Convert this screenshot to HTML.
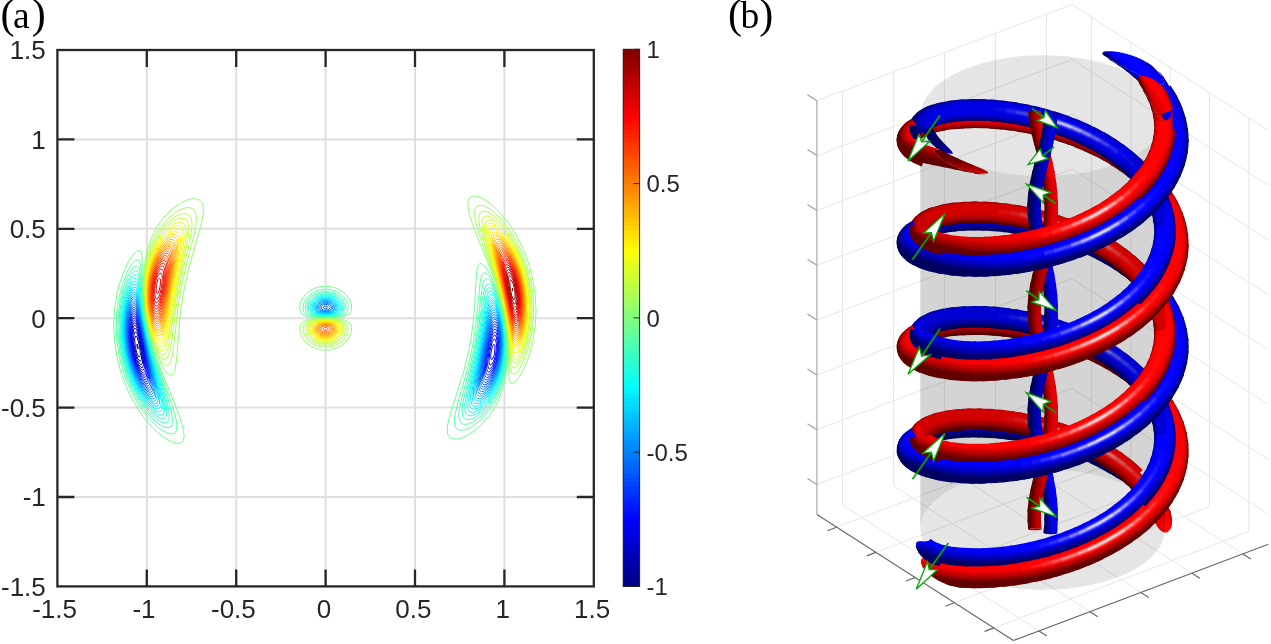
<!DOCTYPE html><html><head><meta charset="utf-8"><style>html,body{margin:0;padding:0;background:#fff;overflow:hidden}svg{display:block}</style></head><body><svg width="1271" height="644" viewBox="0 0 1271 644"><line x1="146.8" y1="50" x2="146.8" y2="586.4" stroke="#dfdfdf" stroke-width="2"/><line x1="57.4" y1="497.0" x2="593.8" y2="497.0" stroke="#dfdfdf" stroke-width="2"/><line x1="236.2" y1="50" x2="236.2" y2="586.4" stroke="#dfdfdf" stroke-width="2"/><line x1="57.4" y1="407.6" x2="593.8" y2="407.6" stroke="#dfdfdf" stroke-width="2"/><line x1="325.6" y1="50" x2="325.6" y2="586.4" stroke="#dfdfdf" stroke-width="2"/><line x1="57.4" y1="318.2" x2="593.8" y2="318.2" stroke="#dfdfdf" stroke-width="2"/><line x1="415.0" y1="50" x2="415.0" y2="586.4" stroke="#dfdfdf" stroke-width="2"/><line x1="57.4" y1="228.8" x2="593.8" y2="228.8" stroke="#dfdfdf" stroke-width="2"/><line x1="504.4" y1="50" x2="504.4" y2="586.4" stroke="#dfdfdf" stroke-width="2"/><line x1="57.4" y1="139.4" x2="593.8" y2="139.4" stroke="#dfdfdf" stroke-width="2"/><g fill="none" stroke-width="1" stroke-linejoin="round"><path stroke="#000080" d="M138.0 349.0l-0.8 -1.3l-0.3 -2.3l0.3 -1.3l0.8 2.5l0.0 2.4z"/><path stroke="#000090" d="M139.5 357.0l-0.8 -0.3l-1.5 -2.7l-1.8 -6.3l-0.7 -7.6l0.2 -2.3l0.8 -1.8l0.7 0.2l0.8 1.3l2.3 8.5l0.9 7.9l-0.1 1.5l-0.8 1.6z"/><path stroke="#0000a2" d="M139.5 360.9l-1.5 -2.2l-1.6 -3.6l-2.3 -9.7l-0.4 -5.3l0.2 -4.6l0.8 -3.1l1.0 -0.6l1.5 2.1l1.5 4.7l2.3 11.6l0.6 5.2l-0.1 3.9l-0.5 1.6l-0.7 0.4l-0.8 -0.4z"/><path stroke="#0000b2" d="M141.0 364.7l-1.5 -1.2l-2.3 -4.0l-2.3 -6.7l-1.2 -5.8l-0.7 -6.2l-0.1 -6.1l0.6 -3.8l0.6 -1.9l0.8 -0.6l0.8 0.2l0.7 0.9l1.6 3.6l3.1 13.1l1.2 8.5l0.4 5.3l-0.3 3.1l-0.6 1.3l-0.8 0.3z"/><path stroke="#0000c3" d="M141.0 367.3l-2.3 -2.7l-2.3 -4.8l-2.3 -7.3l-1.3 -7.1l-0.7 -7.6l0.3 -6.2l1.0 -4.6l0.7 -1.3l0.8 -0.3l1.5 1.4l2.3 6.3l3.9 18.5l0.9 7.7l0.0 5.3l-0.9 2.8l-0.8 0.2l-0.8 -0.3z"/><path stroke="#0000d4" d="M141.8 370.0l-2.3 -2.4l-3.1 -5.9l-2.3 -6.9l-1.5 -7.1l-1.0 -8.4l0.0 -7.7l1.0 -6.0l1.5 -2.7l0.8 -0.1l0.8 0.5l2.3 4.9l3.0 12.2l2.3 12.5l1.1 8.7l0.0 5.3l-0.3 1.8l-0.7 1.3l-0.8 0.3l-0.8 -0.3zM491.0 359.3l-0.3 -3.9l0.8 -5.4l1.0 -3.7l0.8 -1.5l0.7 -0.5l0.8 1.1l0.2 1.6l-0.4 6.1l-0.6 2.6l-1.5 3.5l-0.8 0.6l-0.7 -0.5z"/><path stroke="#0000e5" d="M142.6 372.6l-1.6 -1.2l-1.5 -2.0l-3.1 -6.0l-2.7 -8.0l-1.8 -8.4l-0.9 -8.5l0.1 -8.5l1.2 -6.8l1.1 -2.3l0.7 -0.6l0.8 0.1l1.5 1.8l2.3 6.3l3.1 13.2l2.3 12.7l1.1 8.7l0.1 6.1l-0.4 2.1l-0.6 1.0l-1.0 0.5l-0.7 -0.2zM490.2 365.0l-0.9 -1.1l-0.4 -3.1l1.1 -10.0l1.0 -4.7l1.5 -4.7l1.5 -2.3l0.8 0.0l0.8 1.0l0.8 3.8l-0.1 5.4l-0.6 4.6l-0.9 4.0l-1.5 4.0l-1.6 2.4l-1.5 0.7z"/><path stroke="#0000f7" d="M143.3 375.0l-1.5 -1.1l-1.5 -1.8l-3.9 -7.1l-3.0 -8.8l-2.0 -9.2l-1.0 -10.0l0.2 -8.4l1.2 -7.2l0.9 -2.0l1.4 -1.4l0.8 0.1l1.5 1.9l2.3 6.4l3.1 13.1l3.1 16.6l1.1 8.5l0.2 6.2l-0.4 2.3l-0.7 1.5l-1.0 0.5l-0.8 -0.1zM488.7 368.5l-0.9 -2.3l-0.2 -3.9l1.5 -12.3l2.6 -10.4l1.6 -3.3l0.7 -0.9l0.8 -0.2l0.8 0.5l0.7 1.5l1.0 5.2l-0.1 6.9l-0.8 6.1l-1.6 5.7l-2.3 5.0l-2.3 2.6l-0.8 0.1l-0.7 -0.3z"/><path stroke="#0009ff" d="M143.3 376.9l-1.5 -1.3l-2.3 -3.1l-3.8 -7.8l-3.1 -9.3l-1.8 -9.2l-1.0 -10.0l0.4 -9.9l1.6 -7.8l0.8 -1.6l1.5 -1.2l0.8 0.2l1.5 1.9l2.3 6.5l3.9 16.9l3.3 18.1l1.0 9.2l0.0 5.3l-0.5 2.2l-0.8 1.1l-0.7 0.3l-1.6 -0.5zM487.9 371.8l-1.0 -1.8l-0.4 -3.8l0.3 -6.2l1.1 -7.6l1.5 -7.9l2.3 -8.2l1.6 -3.2l1.5 -1.1l0.8 0.3l1.0 1.6l1.3 5.8l0.1 8.0l-0.9 7.6l-1.5 6.2l-2.3 5.6l-3.1 4.2l-1.5 0.7l-0.8 -0.2z"/><path stroke="#001aff" d="M144.9 379.5l-1.6 -0.8l-2.3 -2.5l-2.3 -3.6l-2.3 -4.5l-3.4 -9.6l-2.5 -10.8l-1.2 -11.5l0.4 -10.7l0.6 -4.4l1.1 -4.1l1.2 -2.5l1.5 -1.0l1.6 1.0l0.7 1.2l2.3 6.6l3.9 16.9l3.8 20.4l1.3 9.6l0.1 6.2l-0.7 3.0l-0.7 0.9l-1.5 0.2zM487.1 374.7l-0.7 -0.7l-0.6 -1.7l-0.4 -3.8l0.3 -6.2l1.4 -9.8l1.9 -9.4l2.0 -7.6l2.3 -5.3l1.5 -1.1l1.5 1.1l0.8 1.6l1.3 6.0l0.3 8.4l-0.8 8.5l-1.8 7.6l-2.8 6.9l-3.1 4.4l-1.5 1.1l-1.6 0.0z"/><path stroke="#002bff" d="M145.6 381.7l-2.3 -1.4l-2.3 -2.7l-4.6 -8.1l-3.8 -10.5l-2.5 -11.3l-1.3 -12.2l0.4 -11.5l1.9 -8.8l1.5 -2.9l1.5 -0.9l1.6 1.0l0.7 1.3l2.3 6.6l3.9 16.9l4.6 24.1l1.3 9.5l0.1 6.1l-0.9 3.8l-0.7 0.8l-1.4 0.2zM486.4 377.4l-0.8 -0.6l-0.8 -1.6l-0.4 -4.4l0.4 -6.9l1.4 -10.0l2.5 -12.7l2.3 -8.7l2.1 -4.7l0.9 -1.1l0.8 -0.3l1.5 1.0l0.8 1.4l1.7 6.7l0.5 9.2l-0.8 10.0l-2.2 9.0l-3.0 7.4l-1.6 2.5l-2.3 2.8l-1.5 1.0l-1.5 0.0z"/><path stroke="#003cff" d="M146.4 383.8l-2.3 -1.3l-2.3 -2.4l-3.1 -4.7l-2.3 -4.5l-4.0 -10.9l-2.8 -12.3l-1.3 -13.0l0.5 -11.8l0.8 -5.1l1.5 -5.1l1.5 -2.6l1.5 -0.8l1.6 1.0l0.7 1.3l2.3 6.7l4.6 20.8l4.7 24.0l1.3 10.0l0.2 6.1l-0.8 3.4l-0.7 0.9l-1.6 0.3zM486.4 380.0l-1.6 -0.6l-0.6 -1.0l-0.8 -3.8l0.1 -6.1l1.2 -9.2l2.6 -14.6l2.9 -12.6l2.3 -6.1l0.9 -1.3l1.4 -0.8l1.5 1.0l0.9 1.4l1.4 4.5l0.7 3.9l0.6 10.0l-0.9 10.0l-1.9 8.6l-3.1 8.1l-3.8 6.0l-2.3 2.1l-1.5 0.5z"/><path stroke="#004dff" d="M146.4 385.7l-2.3 -1.6l-3.1 -3.7l-4.9 -8.9l-4.3 -11.6l-2.8 -12.9l-1.2 -13.8l0.6 -12.3l1.1 -5.9l1.6 -4.7l1.5 -2.4l1.5 -0.7l1.6 1.1l0.7 1.2l1.6 4.1l1.5 5.7l6.9 33.0l2.8 15.4l1.1 8.4l-0.1 6.2l-0.6 2.3l-0.9 1.0l-0.7 0.4l-1.6 -0.3zM484.8 382.4l-1.6 -1.7l-0.8 -4.6l0.3 -6.9l1.4 -10.7l3.0 -16.5l3.1 -12.9l2.3 -5.7l0.8 -1.1l1.5 -0.8l1.5 1.0l1.6 2.9l1.8 7.8l0.7 10.7l-1.0 11.5l-2.3 9.9l-3.8 9.2l-2.3 3.7l-2.3 2.6l-2.3 1.5l-1.6 0.1z"/><path stroke="#005eff" d="M147.2 387.8l-2.3 -1.5l-3.1 -3.5l-3.1 -4.7l-2.3 -4.5l-4.6 -12.0l-3.0 -13.1l-1.4 -13.8l0.4 -13.0l1.0 -6.4l1.4 -5.2l1.6 -3.4l1.6 -1.5l1.5 0.2l1.5 2.0l2.3 6.8l11.0 53.5l1.3 9.3l0.1 6.8l-0.5 2.3l-1.0 1.5l-0.9 0.5l-1.5 -0.3zM484.1 384.7l-1.4 -0.9l-0.7 -1.5l-0.6 -4.6l0.4 -7.3l1.5 -10.9l3.6 -19.4l2.9 -12.3l1.2 -3.8l1.5 -3.2l1.4 -1.4l0.9 -0.3l1.5 1.1l1.6 2.8l1.4 4.8l0.9 4.9l0.6 12.0l-1.0 11.5l-2.7 11.0l-3.8 8.9l-2.3 3.7l-2.3 2.7l-2.3 1.8l-2.3 0.4zM324.4 308.7l-1.0 -0.9l0.0 -0.7l1.0 -1.0l2.4 0.0l1.0 1.0l0.0 0.7l-0.7 0.8l-1.1 0.3l-1.6 -0.2z"/><path stroke="#006eff" d="M148.7 390.2l-2.3 -1.1l-3.1 -3.0l-3.0 -4.2l-3.3 -5.8l-2.9 -6.4l-2.3 -6.4l-3.4 -14.0l-1.5 -14.6l-0.1 -6.9l0.5 -6.9l0.9 -6.2l1.4 -5.3l1.6 -3.9l2.2 -2.4l1.5 0.2l1.5 2.0l2.3 6.9l11.7 56.3l1.5 9.9l0.2 6.9l-1.1 3.9l-0.7 0.7l-1.6 0.3zM483.3 387.0l-0.8 -0.2l-1.2 -1.5l-0.9 -4.6l0.3 -7.6l1.6 -11.5l4.1 -22.2l3.0 -13.5l1.6 -4.7l1.2 -2.6l1.1 -1.3l1.5 -0.4l1.5 1.1l1.6 2.7l1.5 4.9l1.1 6.0l0.8 12.3l-1.1 12.8l-2.7 11.0l-1.9 5.3l-2.3 4.7l-2.3 3.6l-3.1 3.6l-2.3 1.7l-2.3 0.4zM324.4 310.3l-1.5 -0.5l-1.4 -1.2l-0.3 -1.5l0.9 -1.6l1.6 -0.9l1.5 -0.3l2.3 0.3l1.6 0.9l0.7 1.1l0.2 1.2l-0.9 1.5l-1.8 0.8l-2.9 0.2z"/><path stroke="#0080ff" d="M149.5 392.3l-3.1 -1.7l-3.1 -3.1l-3.0 -4.2l-3.6 -6.4l-2.7 -6.1l-2.5 -6.9l-2.1 -7.7l-1.5 -6.9l-1.5 -14.6l-0.1 -7.7l0.5 -6.9l1.2 -7.4l1.5 -5.6l1.8 -3.9l2.1 -2.2l1.5 0.2l1.5 1.9l2.3 6.9l12.8 61.5l1.4 10.0l0.1 6.1l-0.4 2.4l-0.8 1.5l-0.8 0.6l-1.5 0.2zM482.5 389.3l-1.5 -0.7l-0.8 -1.2l-0.9 -4.4l0.3 -6.9l1.5 -11.5l5.0 -26.8l3.2 -14.6l2.4 -6.5l1.6 -1.8l1.5 -0.3l1.5 1.2l0.8 1.2l1.5 3.6l2.3 10.6l0.8 13.5l-1.2 13.0l-2.9 11.5l-2.0 5.4l-2.3 4.6l-2.3 3.7l-3.1 3.6l-3.1 2.3l-2.3 0.5zM323.7 311.1l-2.4 -1.0l-1.3 -1.5l-0.1 -2.3l1.1 -1.5l2.7 -1.4l2.3 -0.3l3.1 0.9l1.5 1.2l0.7 1.1l0.2 1.5l-0.7 1.6l-0.9 0.7l-3.1 1.1l-3.1 -0.1z"/><path stroke="#0090ff" d="M148.7 393.9l-3.1 -2.4l-3.0 -3.6l-3.9 -5.8l-3.0 -6.0l-2.9 -6.9l-2.3 -6.9l-2.0 -7.6l-1.4 -7.7l-1.0 -8.5l-0.3 -7.6l0.2 -7.7l0.7 -6.9l1.4 -6.9l2.0 -6.2l1.7 -3.0l1.6 -1.3l0.7 -0.1l1.6 0.9l0.7 1.2l2.3 6.9l14.4 69.9l0.9 8.4l-0.3 5.4l-0.6 1.5l-1.3 1.3l-1.5 0.1l-1.6 -0.5zM481.8 391.6l-1.6 -0.6l-0.7 -0.9l-1.2 -4.0l0.1 -6.1l1.2 -10.0l5.7 -31.5l3.4 -16.0l2.6 -7.8l1.2 -1.7l1.5 -0.8l0.8 0.2l1.5 1.4l1.6 2.7l1.5 4.5l1.5 7.0l0.9 6.7l0.3 7.7l-0.2 7.6l-0.8 7.0l-1.4 6.9l-1.7 6.1l-2.4 6.1l-2.3 4.6l-3.1 4.7l-3.1 3.5l-3.0 2.2l-2.3 0.5zM322.9 311.7l-3.1 -1.5l-1.1 -1.6l0.0 -2.3l1.9 -2.6l3.1 -1.4l3.1 -0.1l3.0 1.0l1.9 1.6l0.8 1.5l0.2 1.5l-0.6 1.6l-0.7 0.8l-1.6 1.0l-2.3 0.6l-4.6 -0.1z"/><path stroke="#00a2ff" d="M150.3 396.4l-3.1 -2.0l-3.9 -4.1l-3.8 -5.6l-3.4 -6.3l-3.0 -6.9l-2.5 -6.9l-2.1 -7.6l-1.7 -8.5l-1.1 -8.4l-0.4 -8.5l0.2 -8.4l0.7 -7.7l1.3 -6.9l2.0 -6.4l2.3 -4.2l1.6 -1.3l0.7 -0.1l1.6 0.8l0.7 1.2l2.3 6.9l15.3 73.7l1.0 8.4l-0.2 5.4l-0.7 2.2l-0.8 1.0l-1.5 0.5l-1.5 -0.3zM480.2 393.8l-1.3 -0.8l-1.0 -1.5l-0.7 -3.9l0.2 -6.9l1.5 -10.7l6.6 -36.1l2.9 -13.8l2.6 -7.5l1.5 -2.2l1.5 -0.5l0.8 0.3l1.5 1.5l1.6 2.8l2.3 7.2l1.3 6.9l0.8 7.6l0.2 7.7l-0.4 7.7l-0.8 6.9l-1.4 6.9l-2.0 6.6l-2.3 5.7l-3.1 5.8l-3.1 4.4l-3.8 4.0l-3.1 1.8l-2.3 0.1zM323.7 312.5l-3.9 -1.2l-2.0 -1.9l-0.5 -2.3l0.5 -1.6l1.0 -1.5l2.6 -1.8l3.8 -1.0l3.9 0.6l3.0 1.9l1.3 1.8l0.5 1.6l-0.2 1.5l-0.9 1.5l-1.4 1.2l-2.3 0.9l-5.4 0.3z"/><path stroke="#00b2ff" d="M151.0 398.6l-3.8 -2.7l-3.9 -4.2l-3.8 -5.6l-3.3 -6.1l-3.4 -7.7l-2.7 -7.7l-2.3 -8.4l-1.5 -7.7l-1.1 -8.4l-0.5 -8.5l0.2 -8.4l0.8 -8.5l1.5 -7.8l2.3 -7.1l2.3 -4.0l1.6 -1.3l0.7 -0.2l1.6 0.8l0.7 1.1l2.3 6.9l6.1 30.8l8.0 36.1l2.4 12.3l0.9 8.4l-0.4 5.4l-0.7 1.5l-0.9 1.0l-1.5 0.4l-1.6 -0.4zM479.5 396.2l-1.6 -0.7l-0.7 -1.0l-0.8 -2.0l-0.4 -2.5l0.2 -7.0l1.3 -9.2l7.9 -42.9l2.7 -13.1l1.3 -4.6l1.6 -3.6l1.5 -1.8l1.5 -0.2l2.3 2.1l2.3 4.9l1.6 5.0l1.5 7.7l0.9 7.4l0.3 8.4l-0.3 8.5l-1.0 7.7l-1.4 7.0l-2.1 6.8l-2.5 6.2l-3.1 5.7l-3.1 4.5l-3.8 4.0l-3.1 2.1l-3.0 0.6zM321.4 312.6l-3.5 -1.7l-1.2 -1.5l-0.4 -1.6l0.7 -3.0l2.8 -2.8l3.9 -1.5l3.8 0.0l3.9 1.5l2.8 2.8l0.7 2.3l-0.1 1.5l-0.8 1.5l-1.8 1.6l-2.4 0.9l-3.0 0.5l-5.4 -0.5z"/><path stroke="#00c3ff" d="M151.8 400.9l-3.8 -2.7l-3.9 -4.1l-3.8 -5.4l-4.1 -7.2l-3.1 -6.9l-3.1 -8.4l-2.4 -8.5l-1.7 -8.4l-1.2 -9.2l-0.5 -8.5l0.2 -9.2l0.8 -8.4l1.6 -8.5l2.2 -6.9l2.8 -5.1l2.3 -1.5l1.6 0.7l0.7 1.0l2.3 6.8l6.6 34.2l8.6 37.6l2.4 12.3l1.0 8.4l-0.5 5.4l-0.6 1.5l-1.3 1.2l-1.6 0.2l-1.5 -0.4zM477.9 398.5l-1.3 -0.9l-1.0 -1.4l-0.8 -3.9l0.1 -6.2l1.2 -9.2l11.5 -60.6l2.6 -8.3l1.5 -2.3l1.6 -0.6l0.7 0.2l1.6 1.3l2.3 4.1l2.3 6.9l1.8 8.7l0.9 8.4l0.4 8.4l-0.3 8.5l-1.0 8.4l-1.7 7.7l-2.1 6.9l-2.6 6.3l-3.1 5.7l-3.8 5.4l-3.9 3.9l-3.8 2.3l-1.5 0.4l-1.6 -0.1zM321.4 313.2l-3.9 -1.5l-1.5 -1.6l-0.7 -1.5l-0.1 -1.5l0.7 -2.3l2.7 -3.1l4.3 -1.9l4.6 -0.1l2.3 0.6l2.3 1.1l2.8 2.6l1.0 2.3l0.1 1.7l-0.8 2.1l-1.6 1.6l-2.2 1.1l-3.1 0.7l-3.9 0.2l-3.0 -0.5z"/><path stroke="#00d5ff" d="M154.9 403.8l-1.6 -0.3l-2.3 -1.2l-4.6 -4.0l-4.6 -5.8l-4.4 -7.2l-3.7 -7.6l-3.6 -9.2l-2.5 -8.5l-2.0 -9.2l-1.3 -9.2l-0.7 -10.0l0.2 -9.2l0.8 -9.2l1.8 -9.2l2.4 -7.3l3.0 -5.5l2.3 -1.6l1.6 0.5l0.7 1.0l2.3 6.7l6.9 36.9l11.6 50.6l1.2 8.5l0.0 5.4l-1.2 3.5l-0.8 0.7l-1.5 0.4zM476.4 400.8l-1.2 -0.9l-0.9 -1.5l-0.8 -3.8l0.2 -7.0l1.3 -9.2l12.3 -65.2l1.4 -4.9l1.5 -3.6l1.5 -1.8l1.6 -0.3l2.3 2.0l3.0 6.2l2.3 8.0l1.6 8.2l0.9 8.5l0.3 9.2l-0.4 8.4l-1.1 8.5l-1.7 7.6l-2.2 6.9l-3.0 6.9l-3.6 6.4l-3.8 5.1l-4.6 4.3l-3.8 2.1l-1.6 0.2l-1.5 -0.3zM322.9 314.0l-3.1 -0.6l-2.3 -0.9l-2.6 -2.4l-0.6 -1.5l0.0 -2.3l0.9 -2.3l1.2 -1.5l1.9 -1.7l2.3 -1.2l4.6 -0.9l3.1 0.2l2.3 0.7l3.8 2.4l1.6 2.0l0.9 2.3l0.0 2.3l-1.2 2.3l-1.9 1.5l-3.2 1.2l-3.8 0.5l-3.9 -0.1z"/><path stroke="#00e5ff" d="M154.9 406.2l-3.9 -2.0l-4.6 -4.3l-4.6 -5.9l-4.8 -7.9l-4.1 -8.4l-3.2 -8.5l-2.7 -9.2l-2.2 -10.0l-1.2 -9.2l-0.6 -9.9l0.2 -10.0l1.0 -9.2l1.8 -9.2l2.5 -7.7l2.6 -5.1l1.5 -1.8l1.5 -0.8l1.6 0.4l0.7 0.8l1.3 2.7l1.0 3.8l6.9 38.4l10.5 43.7l2.6 12.3l1.1 8.4l-0.3 5.4l-0.6 1.5l-1.0 1.2l-1.5 0.6l-1.5 -0.1zM474.9 403.3l-1.3 -1.1l-0.8 -1.5l-0.7 -3.8l0.1 -6.2l1.2 -8.4l13.6 -72.2l2.4 -7.5l1.6 -2.1l1.5 -0.5l2.3 1.5l3.1 5.5l2.3 6.9l2.3 10.6l1.1 9.4l0.5 10.0l-0.4 9.2l-1.2 9.2l-1.6 7.7l-2.5 7.7l-3.4 7.6l-3.6 6.2l-4.3 5.5l-4.6 4.2l-2.3 1.5l-2.3 0.8l-1.5 0.2l-1.5 -0.4zM319.8 314.0l-2.4 -0.8l-2.2 -1.3l-1.4 -1.8l-0.6 -1.5l0.0 -2.3l0.9 -2.3l1.7 -2.3l1.9 -1.5l2.1 -1.2l3.1 -0.9l5.4 0.0l4.6 1.7l2.3 1.7l1.5 1.7l1.3 3.1l0.0 2.3l-1.1 2.3l-1.7 1.5l-3.1 1.4l-3.8 0.7l-4.6 0.1l-3.9 -0.6z"/><path stroke="#00f7ff" d="M154.9 408.5l-4.6 -3.1l-4.7 -4.8l-5.0 -6.8l-4.5 -7.7l-3.9 -8.4l-3.2 -8.5l-2.9 -9.9l-2.0 -10.0l-1.3 -10.0l-0.5 -10.0l0.3 -9.2l1.1 -10.0l1.8 -9.2l2.5 -7.7l3.1 -6.0l1.5 -1.9l1.5 -0.9l1.6 0.2l0.7 0.7l1.3 2.6l1.0 3.7l4.5 27.0l2.8 14.6l11.6 46.8l2.9 13.8l0.8 7.7l-0.2 3.0l-0.6 2.3l-1.8 2.0l-1.5 0.3l-2.3 -0.6zM474.1 406.2l-1.5 -0.9l-0.8 -0.9l-1.1 -3.7l-0.1 -5.4l0.9 -7.7l8.0 -40.1l6.9 -39.7l2.3 -7.6l1.5 -2.3l1.5 -0.7l2.3 1.3l3.1 4.9l3.1 8.7l2.3 10.2l1.4 10.9l0.5 9.9l-0.3 10.0l-1.1 9.2l-1.7 8.5l-2.5 7.6l-3.2 7.6l-3.9 6.7l-4.6 6.0l-4.6 4.4l-4.6 2.8l-2.3 0.5l-1.5 -0.2zM321.4 314.8l-3.7 -0.8l-2.5 -1.2l-1.5 -1.2l-1.3 -2.2l-0.3 -2.3l0.5 -2.3l1.2 -2.3l2.2 -2.3l2.3 -1.5l3.1 -1.2l5.4 -0.5l5.3 1.3l2.3 1.3l2.3 2.1l1.9 3.1l0.5 3.0l-0.6 2.3l-1.8 2.2l-3.0 1.6l-3.1 0.8l-4.6 0.4l-4.6 -0.3z"/><path stroke="#08fff7" d="M156.4 411.5l-4.6 -2.9l-5.4 -5.3l-5.4 -7.2l-5.0 -8.5l-4.0 -8.4l-3.5 -9.2l-3.1 -10.7l-1.9 -9.3l-1.3 -9.9l-0.6 -10.8l0.3 -10.7l1.2 -10.0l2.3 -10.7l3.0 -8.5l3.4 -6.0l1.6 -1.4l1.5 -0.6l1.5 0.8l0.8 1.1l1.5 4.6l4.6 29.1l3.1 16.6l3.9 16.1l8.8 33.3l3.0 13.9l0.8 7.6l-0.6 4.6l-0.7 1.6l-1.4 1.0l-1.5 0.3l-2.3 -0.5zM473.3 409.2l-1.5 -0.4l-1.4 -1.2l-1.3 -3.1l-0.3 -5.3l0.9 -7.7l9.0 -44.4l7.3 -43.1l1.3 -4.6l1.4 -3.2l1.5 -1.7l1.5 -0.1l1.6 0.9l1.5 1.9l3.1 6.2l3.0 9.8l2.0 9.2l1.3 10.0l0.6 10.7l-0.2 10.0l-1.2 10.0l-1.9 9.2l-2.5 7.7l-3.3 7.6l-4.0 6.8l-4.6 6.1l-5.3 5.2l-4.6 2.8l-3.9 0.7zM319.1 314.9l-3.2 -0.9l-2.6 -1.6l-1.4 -1.5l-0.9 -2.3l0.0 -2.3l1.1 -3.1l1.7 -2.3l3.0 -2.4l3.0 -1.5l3.1 -0.8l3.1 -0.2l3.1 0.3l3.0 1.0l2.3 1.2l2.3 1.7l1.9 2.3l1.4 3.0l0.2 3.1l-0.9 2.3l-2.5 2.3l-3.1 1.3l-4.6 0.8l-5.4 0.1l-4.6 -0.5z"/><path stroke="#1affe5" d="M157.9 414.7l-5.3 -3.4l-5.4 -5.3l-5.4 -6.9l-5.2 -8.4l-4.5 -9.2l-3.7 -9.2l-3.2 -10.7l-2.3 -10.8l-1.5 -10.7l-0.6 -11.5l0.5 -11.6l1.2 -9.9l2.3 -10.8l3.2 -9.0l3.8 -6.8l1.6 -1.5l1.5 -0.7l1.5 0.4l0.8 1.0l1.5 4.1l4.5 30.9l3.2 17.3l4.6 19.0l9.8 35.1l3.1 13.8l0.8 7.7l-0.6 4.9l-0.8 1.4l-1.5 1.1l-1.6 0.2l-2.3 -0.5zM471.0 412.2l-1.5 -0.6l-0.9 -0.9l-1.4 -3.4l-0.3 -5.1l0.9 -7.6l10.1 -48.2l7.6 -46.2l1.0 -3.9l1.4 -3.3l1.5 -1.7l1.6 -0.1l1.5 0.9l1.5 1.8l3.9 7.8l3.0 9.8l2.3 10.9l1.4 10.8l0.6 10.7l-0.3 10.8l-1.2 9.9l-1.8 8.5l-2.9 9.2l-3.9 8.4l-4.1 6.8l-5.4 6.7l-5.4 4.8l-5.3 2.9l-2.3 0.5l-1.6 -0.2zM319.8 315.5l-3.8 -0.8l-3.1 -1.4l-1.7 -1.6l-1.2 -2.3l-0.2 -3.1l1.0 -3.1l2.1 -3.0l2.3 -2.0l3.1 -1.7l3.1 -1.0l3.0 -0.5l3.9 0.2l3.1 0.7l3.0 1.3l3.0 2.2l2.1 2.3l1.5 3.1l0.4 3.0l-0.9 3.1l-2.1 2.3l-3.2 1.5l-3.8 0.8l-5.4 0.4l-6.2 -0.4z"/><path stroke="#2bffd4" d="M160.2 418.4l-5.3 -3.0l-6.2 -5.6l-6.1 -7.6l-5.9 -9.2l-4.6 -9.2l-4.3 -10.7l-3.3 -10.8l-2.3 -10.7l-1.6 -11.5l-0.6 -11.5l0.3 -11.6l1.3 -10.7l2.3 -10.7l3.4 -10.0l3.8 -7.3l2.3 -2.6l1.5 -0.9l1.5 0.2l0.8 0.7l1.5 3.5l1.3 7.2l3.4 27.6l3.6 19.2l4.8 18.8l11.0 38.0l3.2 13.8l0.8 7.6l-0.6 4.6l-1.0 1.6l-1.1 0.8l-1.6 0.4l-2.3 -0.4zM467.9 415.3l-1.0 -0.8l-1.1 -1.5l-0.9 -3.1l-0.2 -4.6l0.9 -6.9l10.8 -49.2l3.1 -17.8l5.2 -35.1l1.0 -3.8l1.3 -3.1l0.9 -1.2l1.5 -0.6l1.6 0.5l2.3 2.4l3.8 7.5l3.1 9.0l3.0 13.1l1.6 11.5l0.8 12.3l-0.3 11.5l-1.3 10.8l-2.0 9.2l-3.0 9.2l-4.0 8.4l-4.8 7.7l-6.1 7.2l-6.2 5.1l-5.3 2.5l-2.3 0.3l-2.4 -0.5zM324.4 316.3l-7.6 -0.8l-3.1 -0.9l-2.4 -1.4l-1.5 -1.5l-1.1 -2.3l-0.3 -2.3l0.7 -3.1l1.7 -3.1l2.1 -2.3l3.1 -2.2l3.1 -1.4l3.0 -0.8l3.9 -0.3l3.8 0.4l3.1 1.0l4.6 2.6l3.4 3.8l1.2 2.3l0.6 2.3l-0.4 3.8l-0.9 1.6l-1.5 1.5l-3.2 1.7l-5.3 1.1l-7.0 0.3z"/><path stroke="#3cffc3" d="M161.8 422.2l-3.1 -1.5l-3.1 -2.1l-6.9 -6.5l-6.6 -8.3l-5.8 -9.2l-5.1 -10.0l-4.2 -10.8l-3.3 -10.7l-2.8 -13.1l-1.5 -13.0l-0.4 -11.5l0.6 -12.3l1.7 -11.5l2.6 -10.7l3.7 -10.0l4.2 -7.3l2.3 -2.3l1.6 -0.7l1.5 0.5l0.8 0.9l1.5 4.8l4.0 35.5l2.1 12.3l2.4 10.9l4.6 17.4l12.5 40.8l3.6 15.3l0.7 6.9l-0.3 2.3l-0.7 2.3l-1.3 1.5l-1.5 0.7l-3.8 -0.6zM465.6 419.2l-1.3 -0.9l-1.0 -1.2l-1.0 -3.4l-0.2 -4.6l0.8 -6.1l2.3 -10.7l6.6 -27.0l3.8 -18.2l3.1 -18.6l3.5 -27.6l1.6 -9.2l2.0 -6.1l1.3 -1.7l1.6 -0.3l1.5 0.7l2.3 2.6l3.8 7.4l3.9 11.0l3.0 13.0l1.9 12.6l0.9 13.0l-0.3 12.3l-1.3 11.5l-2.2 10.0l-3.1 9.2l-4.5 9.2l-5.2 8.0l-6.1 7.0l-6.9 5.6l-3.1 1.7l-3.0 1.0l-2.4 0.3l-2.3 -0.5zM318.3 316.3l-4.1 -0.8l-3.6 -1.5l-2.4 -2.3l-1.0 -2.3l0.0 -3.9l1.4 -3.8l2.3 -3.1l3.6 -2.9l3.8 -1.8l3.8 -1.0l3.9 -0.3l3.8 0.4l3.9 1.2l3.0 1.5l3.1 2.5l2.3 2.7l1.8 3.9l0.3 3.8l-1.2 3.1l-2.4 2.3l-3.6 1.5l-4.9 0.9l-6.9 0.3l-6.9 -0.4z"/><path stroke="#4dffb2" d="M166.4 427.6l-3.1 -1.0l-3.1 -1.6l-3.8 -2.8l-3.8 -3.3l-7.4 -8.2l-7.0 -10.0l-5.9 -10.7l-5.3 -12.3l-4.0 -12.3l-2.9 -13.1l-1.8 -13.0l-0.5 -13.0l0.6 -13.1l1.7 -12.3l2.9 -12.2l4.4 -11.6l2.4 -4.6l2.8 -4.0l2.3 -2.1l1.5 -0.6l1.6 0.7l0.7 1.1l1.4 4.9l3.3 36.1l2.0 13.1l2.6 12.3l5.3 19.7l14.9 45.5l3.6 14.5l0.7 6.2l-0.5 4.6l-1.8 2.5l-1.5 0.6l-2.3 0.0zM462.6 423.9l-2.1 -1.7l-1.3 -3.1l-0.4 -4.6l0.7 -6.1l2.0 -9.2l8.8 -33.6l3.8 -17.8l3.1 -18.6l3.9 -34.4l1.4 -8.4l1.0 -3.9l1.1 -2.3l1.0 -1.1l1.5 -0.3l1.6 0.7l2.3 2.5l2.3 3.7l2.3 4.9l4.6 13.1l3.2 13.3l2.0 13.9l1.0 13.8l-0.3 13.8l-1.5 12.3l-2.5 10.7l-3.7 10.0l-4.8 9.2l-5.4 7.7l-7.2 7.7l-6.9 5.2l-6.2 2.7l-3.0 0.3l-2.3 -0.4zM323.7 317.0l-6.2 -0.3l-4.6 -0.8l-3.2 -1.2l-2.2 -1.5l-1.6 -2.3l-0.7 -3.1l0.4 -3.0l1.5 -3.9l2.3 -3.0l3.5 -3.0l3.9 -2.1l3.8 -1.2l3.8 -0.5l4.7 0.2l4.6 1.2l3.8 1.9l4.3 3.5l3.0 4.6l1.2 4.6l-0.2 2.3l-0.9 2.3l-2.8 2.7l-3.8 1.5l-6.2 0.9l-8.4 0.2z"/><path stroke="#5effa2" d="M170.2 433.8l-3.1 -0.9l-3.8 -1.9l-4.6 -3.1l-3.8 -3.3l-8.2 -8.6l-7.8 -10.7l-6.6 -11.5l-5.6 -12.3l-4.4 -13.0l-3.2 -13.1l-2.2 -14.6l-0.7 -13.8l0.6 -14.6l1.8 -13.0l3.6 -14.6l4.8 -12.3l2.8 -5.3l2.8 -4.0l2.3 -2.4l2.3 -1.2l1.5 0.5l0.8 1.0l1.2 4.5l1.6 27.7l1.1 13.0l2.2 15.0l3.1 14.3l6.2 21.0l16.6 46.4l3.0 10.0l1.7 6.9l0.7 6.1l-0.6 4.6l-0.8 1.6l-1.5 1.2l-1.5 0.5l-2.3 -0.1zM459.5 430.1l-1.5 -0.6l-1.6 -1.2l-1.5 -2.8l-0.5 -4.1l0.5 -6.1l2.7 -11.5l9.6 -33.7l3.8 -16.2l2.3 -12.0l2.3 -15.2l4.7 -45.7l1.6 -6.2l1.4 -1.8l1.5 -0.4l2.3 1.3l2.3 2.7l2.3 3.8l3.1 6.4l4.6 12.7l3.8 15.2l2.4 14.6l1.2 15.4l-0.2 14.6l-1.4 13.0l-2.4 10.7l-3.8 10.8l-4.6 9.2l-5.8 8.4l-7.6 8.4l-7.7 6.0l-3.8 2.2l-3.9 1.6l-3.0 0.6l-3.1 -0.1zM316.0 317.1l-5.2 -0.8l-3.9 -1.6l-2.5 -2.3l-0.8 -1.5l-0.5 -2.3l0.4 -4.6l2.1 -4.6l3.5 -4.1l4.6 -3.2l3.8 -1.7l5.4 -1.1l4.6 -0.1l4.6 0.8l4.6 1.7l3.9 2.4l3.3 3.0l2.6 3.8l1.6 4.6l-0.1 3.9l-1.2 3.0l-1.4 1.6l-1.8 1.1l-3.8 1.3l-6.1 0.8l-9.3 0.2l-8.4 -0.3z"/><path stroke="#6eff90" d="M175.6 443.0l-3.9 -1.2l-4.6 -2.4l-4.6 -3.0l-4.6 -3.7l-9.2 -9.2l-8.7 -11.3l-7.1 -11.5l-6.7 -13.8l-5.6 -15.4l-3.8 -15.3l-2.3 -15.4l-0.8 -16.1l0.8 -15.3l2.4 -15.4l2.3 -9.2l2.1 -6.9l5.5 -13.0l3.0 -5.4l3.6 -5.1l3.0 -3.0l2.3 -1.1l1.6 0.4l0.7 1.0l1.0 4.0l0.3 29.1l0.9 15.4l2.1 16.8l3.4 17.0l3.1 11.1l3.8 11.6l21.0 51.7l4.6 13.0l2.4 9.2l0.5 6.2l-0.9 3.8l-1.3 1.5l-1.7 0.9l-2.3 0.3l-2.3 -0.3zM454.9 439.1l-3.8 -0.9l-1.6 -1.1l-1.4 -1.9l-0.9 -3.8l0.3 -6.2l3.0 -12.2l12.8 -39.9l5.4 -21.9l2.3 -12.4l2.3 -17.1l1.3 -15.4l2.0 -34.5l0.7 -3.9l1.2 -3.0l1.0 -1.1l1.5 -0.4l2.3 1.3l3.1 3.5l3.0 5.0l3.1 6.1l5.4 13.7l4.6 16.5l3.0 16.8l1.6 16.1l0.1 16.1l-1.4 16.1l-2.3 11.5l-3.8 11.5l-4.5 9.2l-6.7 10.0l-8.3 9.0l-8.4 6.8l-4.6 2.8l-4.6 2.1l-3.9 1.2l-3.8 0.4zM323.7 317.8l-8.5 -0.2l-6.1 -0.6l-3.8 -1.0l-3.1 -1.9l-1.7 -2.4l-0.9 -3.9l0.6 -4.6l1.6 -3.8l3.4 -4.6l3.9 -3.5l5.4 -2.9l4.6 -1.5l5.3 -0.7l5.4 0.2l4.6 1.1l5.4 2.4l3.1 2.0l3.1 2.9l2.4 3.1l1.7 3.0l1.1 3.1l0.4 3.1l-0.3 3.0l-1.0 2.3l-1.2 1.6l-1.6 1.2l-4.6 1.7l-6.9 0.7l-12.3 0.2z"/><path stroke="#91ff6e" d="M510.9 383.1l0.8 0.3l1.5 -0.3l3.1 -2.5l3.1 -4.0l3.4 -5.8l3.3 -6.9l2.9 -7.7l3.9 -14.6l2.3 -14.6l0.9 -16.1l-0.9 -16.1l-2.3 -15.4l-4.0 -15.3l-5.4 -14.6l-6.9 -13.8l-7.8 -12.3l-9.4 -11.3l-5.4 -5.2l-4.6 -3.8l-4.6 -3.2l-4.6 -2.3l-3.8 -1.3l-3.8 -0.1l-1.6 0.4l-1.5 1.2l-1.1 1.8l-0.5 1.9l0.1 5.8l1.7 7.7l2.6 8.4l4.5 12.3l13.4 32.8l5.4 14.2l4.6 14.6l3.8 15.9l2.2 13.1l1.5 13.8l0.7 12.2l0.6 24.6l0.6 3.8l1.3 2.4zM169.4 374.7l2.3 0.3l1.5 -1.2l1.2 -2.3l1.0 -3.8l1.4 -10.0l3.3 -42.2l3.2 -21.6l5.3 -25.0l11.9 -41.6l2.5 -11.5l0.4 -7.0l-0.4 -3.0l-0.8 -2.3l-1.3 -2.1l-1.5 -1.3l-3.9 -1.3l-3.8 0.1l-3.8 0.9l-4.6 1.8l-3.9 2.1l-8.4 6.3l-4.6 4.5l-3.9 4.4l-6.3 9.1l-4.9 10.0l-3.7 10.8l-2.5 12.2l-1.5 15.4l-0.1 16.9l1.3 16.1l2.7 16.1l4.3 16.2l5.4 14.5l3.8 7.9l3.1 5.1l3.0 3.8l2.3 1.7zM322.9 350.1l6.9 -0.1l6.2 -1.7l5.3 -2.7l4.6 -3.9l3.5 -4.7l1.3 -3.1l0.8 -3.0l-0.2 -4.6l-1.0 -2.3l-1.2 -1.6l-3.2 -2.0l-4.1 -1.0l-5.8 -0.6l-10.0 -0.2l-10.0 0.2l-6.6 0.6l-4.1 1.0l-3.2 2.0l-1.9 3.1l-0.5 4.6l1.1 4.6l2.5 4.6l3.5 3.9l4.6 3.3l5.4 2.4l6.1 1.2z"/><path stroke="#a2ff5e" d="M512.5 373.9l0.7 0.3l1.6 -0.4l2.3 -1.9l2.5 -3.4l3.1 -5.4l4.9 -12.3l3.7 -14.6l1.8 -13.0l0.5 -14.6l-0.8 -13.8l-2.2 -14.6l-3.8 -14.6l-4.8 -13.0l-5.9 -12.3l-7.2 -11.5l-8.0 -9.9l-8.4 -7.9l-3.8 -2.7l-3.9 -2.0l-3.0 -0.9l-3.1 -0.1l-2.3 1.3l-1.5 3.0l-0.2 4.6l0.8 6.2l2.1 8.4l3.1 10.0l16.4 46.6l5.4 19.3l2.7 13.1l2.0 13.8l3.0 36.7l0.7 3.3l1.6 2.3zM165.6 365.5l2.3 0.2l1.5 -1.4l1.4 -2.7l1.2 -4.6l1.6 -10.0l4.3 -38.5l3.0 -18.9l3.9 -18.3l8.8 -34.8l2.2 -10.8l0.6 -7.6l-0.9 -5.4l-0.7 -1.6l-1.6 -1.8l-1.5 -1.0l-2.3 -0.6l-3.1 0.0l-3.0 0.8l-3.9 1.5l-3.8 2.3l-7.7 6.2l-6.9 7.8l-5.6 8.6l-4.7 10.0l-3.2 10.0l-2.1 10.7l-1.4 13.8l-0.1 13.9l1.1 14.5l2.3 14.6l3.7 15.2l4.6 12.8l3.1 6.5l2.3 3.9l2.3 2.9l2.3 1.8zM322.1 347.0l5.4 0.2l6.2 -1.2l5.3 -2.6l3.9 -3.0l3.2 -4.2l1.8 -4.6l0.1 -4.6l-0.8 -2.3l-1.0 -1.5l-2.6 -1.9l-3.8 -1.3l-5.4 -0.8l-8.4 -0.2l-8.5 0.2l-5.3 0.6l-3.9 1.1l-3.3 2.3l-1.7 3.1l-0.3 3.8l1.0 3.8l2.1 3.9l3.0 3.3l3.8 2.8l4.6 2.1l4.6 1.0z"/><path stroke="#b3ff4c" d="M513.2 367.8l1.6 0.2l2.3 -1.5l2.3 -2.9l2.5 -4.3l4.6 -11.6l3.3 -13.0l1.8 -13.0l0.4 -13.9l-0.7 -13.0l-2.2 -13.8l-3.2 -13.1l-4.4 -12.2l-5.4 -11.6l-6.4 -10.7l-7.2 -9.4l-7.7 -7.4l-3.8 -2.8l-3.1 -1.6l-3.1 -0.9l-2.3 0.1l-2.3 1.5l-1.1 2.9l-0.3 4.6l1.0 6.9l4.0 15.3l13.3 41.0l5.4 19.6l2.5 11.5l2.0 12.3l3.7 34.6l1.0 4.1l1.5 2.1zM163.3 359.3l2.3 0.2l1.5 -1.3l1.6 -3.1l1.4 -5.1l1.8 -10.7l3.7 -28.9l3.0 -19.2l3.1 -15.4l7.4 -31.7l2.3 -11.5l0.7 -8.4l-0.8 -5.4l-1.9 -3.4l-1.5 -1.1l-2.3 -0.7l-2.3 0.0l-3.1 0.7l-3.1 1.3l-3.8 2.3l-6.9 5.9l-6.2 7.2l-4.9 7.8l-4.0 8.4l-3.1 9.2l-2.4 11.5l-1.3 12.3l-0.2 13.1l1.0 13.8l1.9 13.0l3.1 13.2l4.6 13.3l4.6 8.8l2.3 2.8l1.5 1.1zM320.6 344.8l6.2 0.5l5.3 -0.9l4.6 -1.9l4.3 -3.2l3.1 -3.8l1.7 -4.6l0.2 -2.3l-0.4 -2.3l-1.9 -3.1l-2.4 -1.6l-3.8 -1.3l-4.6 -0.7l-6.9 -0.3l-6.9 0.3l-5.4 0.7l-3.8 1.3l-2.4 1.6l-1.6 2.3l-0.7 3.1l0.4 3.0l1.5 3.9l2.3 3.0l3.5 3.0l3.9 2.1l3.8 1.2z"/><path stroke="#c3ff3c" d="M514.0 363.2l1.5 0.0l2.3 -1.8l2.3 -3.2l1.9 -3.5l3.9 -10.0l3.1 -13.1l1.5 -12.2l0.3 -12.3l-0.8 -13.1l-1.8 -11.5l-2.9 -12.3l-3.9 -11.5l-4.8 -10.7l-6.2 -10.8l-6.4 -8.7l-6.9 -7.1l-6.1 -4.2l-3.1 -1.1l-2.3 0.0l-2.3 1.4l-0.8 1.3l-0.5 2.3l-0.1 4.6l1.0 6.9l3.8 15.4l11.2 36.4l4.6 17.2l4.4 22.4l4.0 32.2l1.6 5.4l1.5 1.6zM162.5 354.8l1.6 -0.1l0.7 -0.5l1.4 -1.9l1.6 -3.8l1.1 -4.6l8.2 -52.7l11.0 -53.2l0.8 -7.7l-0.5 -6.1l-1.7 -3.8l-1.9 -1.6l-1.5 -0.5l-2.4 0.0l-2.3 0.4l-3.0 1.2l-3.1 1.8l-6.1 5.1l-6.3 7.4l-4.8 7.6l-3.9 8.5l-3.1 9.2l-2.2 10.7l-1.2 11.5l-0.2 13.1l0.9 12.7l2.0 12.6l3.4 14.1l3.9 10.4l3.8 7.0l2.3 2.4l1.5 0.8zM320.6 343.2l4.6 0.6l5.4 -0.6l4.6 -1.7l3.8 -2.5l3.6 -4.3l1.4 -3.8l0.0 -3.9l-1.5 -3.0l-1.9 -1.6l-3.6 -1.5l-4.1 -0.8l-5.4 -0.4l-6.1 0.1l-5.4 0.7l-4.0 1.2l-2.5 1.5l-1.8 2.3l-0.7 3.1l0.3 3.0l1.3 3.1l2.3 3.1l2.8 2.3l3.1 1.8l3.8 1.3z"/><path stroke="#d5ff2a" d="M514.8 359.4l1.5 -0.4l1.5 -1.2l2.3 -3.2l2.0 -3.8l3.6 -10.0l2.5 -11.5l1.4 -11.5l0.2 -11.5l-0.7 -11.5l-1.7 -11.5l-2.9 -12.3l-3.4 -10.0l-4.2 -9.9l-5.5 -10.0l-6.5 -9.2l-6.3 -6.6l-3.0 -2.5l-3.1 -1.8l-2.3 -0.9l-2.3 -0.1l-1.5 0.7l-0.8 0.8l-1.2 3.5l0.0 5.3l1.0 6.9l3.5 14.6l9.7 33.6l3.9 14.7l4.2 20.8l4.5 31.4l1.3 4.7l0.7 1.3l1.6 1.1zM161.8 350.8l1.5 -0.4l1.6 -1.9l1.7 -3.8l1.4 -5.4l7.6 -46.6l9.9 -50.1l0.8 -8.4l-0.4 -6.2l-0.8 -2.3l-1.1 -1.7l-1.5 -1.2l-1.6 -0.6l-2.3 0.0l-2.3 0.5l-3.0 1.4l-3.1 2.0l-5.4 4.8l-5.7 7.1l-4.5 7.7l-3.4 7.7l-2.9 9.2l-1.9 9.9l-1.2 11.6l-0.1 11.5l0.9 12.2l2.0 12.4l3.0 12.3l3.1 8.4l3.8 7.0l2.3 2.3l1.6 0.6zM323.7 342.4l4.6 -0.1l4.6 -1.2l3.8 -2.0l3.1 -2.9l2.0 -3.0l1.0 -3.9l-0.5 -3.0l-0.9 -1.6l-1.5 -1.5l-2.4 -1.4l-3.1 -0.9l-4.6 -0.6l-5.4 -0.2l-5.3 0.4l-3.9 0.8l-2.8 1.1l-2.0 1.6l-1.5 2.3l-0.5 3.0l0.7 3.1l1.7 3.1l2.9 3.0l3.1 2.0l3.0 1.2l3.9 0.7z"/><path stroke="#e5ff1a" d="M514.8 355.9l1.5 -0.2l1.5 -1.1l1.7 -2.3l2.2 -3.9l3.3 -9.1l2.4 -10.7l1.3 -11.6l0.3 -10.7l-0.7 -11.5l-1.6 -10.7l-2.5 -10.8l-3.7 -11.5l-4.3 -10.0l-5.1 -9.2l-5.5 -7.9l-6.2 -6.6l-5.4 -3.8l-2.3 -0.8l-2.3 0.0l-1.5 1.0l-0.8 1.1l-0.8 3.2l0.1 5.4l1.0 6.9l3.1 13.0l8.9 32.4l4.5 18.3l3.0 15.3l4.8 30.1l1.5 4.2l1.6 1.5zM160.2 347.1l1.6 0.0l0.7 -0.4l1.6 -1.9l1.5 -3.5l1.5 -5.6l7.7 -44.8l8.4 -43.7l1.0 -9.2l-0.5 -6.9l-0.8 -2.3l-1.2 -1.7l-1.5 -1.1l-1.6 -0.4l-2.3 0.1l-2.3 0.7l-5.3 3.3l-5.4 5.1l-4.6 6.0l-4.1 7.2l-3.3 7.7l-2.6 8.4l-1.9 9.2l-1.1 10.8l-0.2 10.7l0.7 11.5l1.7 11.5l2.4 10.3l3.0 9.1l3.9 7.3l1.5 1.7l1.5 0.9zM321.4 340.9l3.8 0.5l4.6 -0.5l3.9 -1.3l3.7 -2.6l2.6 -3.1l1.2 -3.0l0.2 -3.1l-1.4 -3.1l-1.7 -1.6l-3.3 -1.4l-3.6 -0.8l-4.6 -0.4l-5.4 0.2l-3.9 0.6l-3.3 1.1l-2.3 1.6l-1.6 2.3l-0.5 2.3l0.4 3.0l1.0 2.3l1.8 2.3l2.2 2.0l3.1 1.7l3.1 1.0z"/><path stroke="#f7ff08" d="M514.8 352.7l1.5 0.0l1.5 -1.0l1.6 -2.0l1.9 -3.5l3.1 -8.4l2.2 -10.0l1.3 -10.8l0.3 -10.7l-0.6 -10.7l-1.5 -10.8l-2.5 -10.7l-3.1 -10.0l-3.8 -9.2l-4.9 -9.2l-5.5 -8.2l-5.4 -6.0l-5.3 -4.0l-2.3 -0.9l-1.6 -0.1l-1.5 0.5l-0.8 0.7l-1.2 3.4l-0.1 5.4l1.0 7.6l3.0 13.1l8.1 30.6l3.8 15.9l2.8 14.1l4.9 28.7l1.5 4.5l1.6 1.7zM159.5 343.9l1.5 0.0l0.8 -0.4l1.5 -1.9l1.5 -3.5l1.7 -5.7l14.8 -81.3l1.0 -9.3l-0.3 -6.9l-0.6 -2.3l-1.2 -2.2l-1.6 -1.2l-1.5 -0.4l-2.3 0.1l-2.3 0.7l-4.6 2.9l-4.6 4.3l-5.0 6.6l-3.8 6.9l-3.2 7.7l-2.4 7.6l-1.8 9.2l-1.0 10.0l-0.2 10.0l0.6 10.7l1.5 10.6l2.3 10.2l3.0 9.1l3.1 5.8l1.5 1.8l1.6 0.9zM322.9 340.2l3.9 0.2l3.8 -0.7l3.8 -1.8l3.0 -2.4l2.1 -3.1l0.8 -3.1l-0.6 -3.0l-1.4 -2.0l-2.3 -1.6l-3.1 -1.0l-7.7 -0.8l-7.7 1.0l-3.1 1.3l-1.9 1.5l-1.3 2.3l-0.3 2.3l0.5 2.3l1.2 2.3l1.9 2.3l2.3 1.7l3.0 1.5l3.1 0.8z"/><path stroke="#fff700" d="M515.5 350.1l1.6 -0.5l1.5 -1.5l3.1 -5.5l2.8 -8.7l1.9 -9.9l1.0 -10.0l0.1 -10.0l-0.8 -10.0l-1.5 -9.9l-2.3 -10.0l-3.2 -10.0l-3.9 -9.2l-4.5 -8.5l-5.0 -7.2l-5.4 -5.9l-4.6 -3.2l-2.3 -0.7l-1.5 0.1l-1.9 1.6l-1.0 3.8l0.1 5.4l1.1 7.7l2.7 12.3l10.6 42.2l7.6 40.7l1.5 4.6l0.8 1.3l1.5 1.0zM158.7 340.9l1.5 0.1l0.8 -0.4l1.5 -1.7l1.6 -3.4l1.8 -6.2l13.6 -74.4l1.1 -10.0l-0.2 -6.9l-0.5 -2.3l-1.2 -2.3l-1.6 -1.3l-1.5 -0.5l-3.9 0.7l-4.6 2.8l-4.6 4.5l-4.4 6.1l-3.8 6.9l-2.8 6.9l-2.3 7.7l-1.7 8.4l-1.0 9.2l-0.2 9.2l0.4 10.0l1.3 10.0l2.3 10.5l2.3 7.2l3.0 6.2l1.6 1.9l1.5 1.1zM323.7 339.4l3.8 0.0l3.1 -0.7l3.5 -1.7l2.6 -2.3l1.6 -2.3l0.8 -3.1l-0.3 -2.3l-1.4 -2.3l-2.1 -1.5l-2.4 -1.0l-6.9 -0.9l-3.9 0.2l-3.8 0.7l-2.4 1.0l-2.1 1.5l-1.1 1.6l-0.6 2.3l0.2 2.3l1.4 2.8l2.3 2.5l2.3 1.5l2.3 1.0l3.1 0.7z"/><path stroke="#ffe500" d="M514.8 347.1l0.7 0.3l1.6 -0.4l1.5 -1.4l1.6 -2.5l3.0 -7.6l2.1 -9.2l1.2 -9.3l0.4 -9.9l-0.5 -10.0l-1.4 -10.7l-2.1 -10.0l-3.1 -10.0l-3.7 -9.2l-4.0 -7.7l-5.0 -7.7l-4.6 -5.3l-4.6 -3.6l-2.3 -0.8l-1.6 -0.1l-1.9 1.4l-1.1 3.8l0.1 5.4l1.0 7.7l2.5 11.5l10.0 41.4l7.1 37.0l1.5 4.7l1.6 2.2zM325.2 338.6l3.9 -0.4l3.0 -1.1l2.5 -1.6l2.1 -2.3l1.3 -3.1l0.0 -2.3l-1.1 -2.3l-1.7 -1.5l-4.6 -1.8l-6.9 -0.4l-3.9 0.6l-2.3 0.7l-3.2 2.4l-0.8 1.5l-0.4 2.3l0.6 2.3l1.4 2.3l2.4 2.3l2.3 1.2l2.3 0.8l3.1 0.4zM157.9 338.0l1.6 0.3l0.7 -0.3l1.6 -1.6l1.6 -3.2l1.9 -6.2l2.4 -11.5l9.8 -54.5l1.5 -11.5l0.1 -7.7l-1.2 -4.8l-1.6 -1.9l-1.5 -0.7l-1.5 -0.1l-2.3 0.5l-3.9 2.3l-4.6 4.3l-3.8 5.1l-3.5 6.1l-3.0 6.9l-2.4 7.7l-1.8 8.4l-1.1 9.2l-0.3 9.2l0.4 9.2l1.1 9.2l2.2 10.3l2.3 7.1l3.0 6.0l2.3 2.2z"/><path stroke="#ffd500" d="M515.5 344.9l0.8 0.0l1.5 -0.9l1.6 -1.9l1.5 -3.0l2.5 -7.5l1.7 -8.4l1.0 -9.2l0.1 -9.2l-0.5 -9.2l-1.4 -10.0l-2.1 -9.2l-2.5 -8.5l-3.3 -8.4l-3.9 -7.9l-4.6 -7.2l-4.7 -5.5l-4.6 -3.6l-3.0 -0.8l-1.6 0.6l-0.7 0.9l-1.0 3.5l0.0 5.4l1.2 8.5l11.3 49.2l6.9 34.9l1.5 4.8l0.8 1.4l1.5 1.2zM321.4 337.1l3.0 0.6l3.1 -0.1l3.1 -0.8l3.1 -1.8l2.3 -2.5l0.9 -2.4l0.0 -2.3l-1.2 -2.3l-1.9 -1.5l-1.7 -0.8l-5.3 -0.9l-6.2 0.5l-2.3 0.7l-2.0 1.2l-1.4 1.6l-0.6 1.5l-0.1 1.5l0.6 2.3l1.2 1.9l1.5 1.5l3.9 2.1zM157.9 335.6l1.6 -0.1l0.7 -0.5l1.6 -2.0l1.5 -3.5l1.6 -5.5l3.2 -15.4l8.2 -46.0l1.3 -10.8l0.1 -7.7l-0.6 -3.0l-0.8 -1.9l-1.5 -1.7l-1.5 -0.6l-1.6 0.0l-2.3 0.7l-3.8 2.5l-3.8 3.9l-3.9 5.4l-3.0 5.6l-2.8 6.8l-2.3 7.7l-1.6 7.6l-0.9 8.5l-0.3 9.2l0.5 9.2l1.2 9.2l1.6 7.5l2.3 7.3l3.0 5.8l2.3 1.8z"/><path stroke="#ffc300" d="M515.5 342.5l0.8 0.1l1.5 -0.9l1.6 -2.0l1.5 -3.1l2.1 -6.5l1.7 -8.4l0.8 -8.5l0.1 -9.2l-0.6 -9.2l-1.3 -9.2l-1.8 -8.5l-2.8 -9.2l-3.1 -7.6l-3.8 -7.7l-4.3 -6.8l-4.7 -5.4l-3.8 -2.8l-1.5 -0.6l-1.6 -0.1l-1.5 0.9l-0.6 1.0l-0.8 3.8l0.2 6.2l1.2 7.6l10.1 45.3l6.8 33.3l1.5 4.7l0.8 1.5l1.5 1.3zM322.1 336.4l3.1 0.5l3.1 -0.3l3.1 -1.1l2.1 -1.6l1.8 -2.3l0.7 -2.3l-0.4 -2.3l-1.1 -1.5l-3.1 -1.9l-5.4 -0.9l-5.4 0.7l-2.3 0.9l-1.5 1.1l-1.2 1.6l-0.4 1.6l0.7 3.0l2.4 2.9l3.8 1.9zM156.4 332.4l1.5 0.7l0.8 0.0l1.5 -1.1l1.7 -2.7l1.9 -5.3l3.2 -13.9l6.5 -36.0l2.4 -15.4l0.6 -9.9l-0.2 -3.1l-0.7 -3.1l-1.5 -2.3l-1.6 -0.9l-3.1 0.3l-3.0 1.6l-3.9 3.5l-3.8 5.0l-3.3 5.9l-2.8 6.6l-2.3 7.2l-1.4 6.9l-1.0 7.7l-0.5 8.4l0.2 8.4l0.8 7.7l1.3 7.7l2.1 7.7l2.3 5.4l2.3 3.0z"/><path stroke="#ffb300" d="M515.5 340.3l0.8 0.0l1.5 -0.8l2.3 -3.5l2.4 -6.7l1.7 -8.4l0.8 -8.5l0.1 -8.4l-0.6 -9.2l-1.2 -8.4l-1.8 -8.5l-2.5 -8.4l-3.0 -7.7l-3.7 -7.7l-4.4 -6.9l-3.9 -4.5l-3.8 -2.9l-1.6 -0.6l-1.5 0.0l-0.8 0.4l-1.0 1.5l-0.8 3.8l0.2 6.2l1.3 8.4l15.7 73.1l1.5 4.7l0.8 1.5l1.5 1.5zM322.1 335.5l2.3 0.5l3.1 -0.1l2.3 -0.7l2.3 -1.3l1.6 -1.5l1.1 -2.3l0.0 -2.3l-0.8 -1.5l-2.6 -2.0l-4.6 -1.0l-5.4 0.5l-3.5 1.7l-1.5 2.3l-0.1 1.5l0.3 1.6l0.9 1.5l1.6 1.5l3.0 1.6zM156.4 330.2l1.5 0.5l0.8 -0.2l1.5 -1.3l1.6 -2.8l1.6 -4.7l3.5 -15.4l6.1 -33.8l2.0 -13.8l0.3 -9.2l-0.5 -3.1l-0.8 -2.3l-1.5 -1.8l-1.5 -0.6l-3.1 0.6l-3.1 2.0l-3.8 4.0l-3.1 4.4l-3.0 5.7l-2.3 5.7l-2.1 6.9l-1.4 6.9l-0.9 7.7l-0.4 7.7l0.2 7.6l0.8 7.7l1.5 8.0l1.5 5.4l2.3 5.4l2.3 2.8z"/><path stroke="#ffa200" d="M515.5 338.1l0.8 0.1l1.5 -0.9l2.3 -3.7l2.0 -5.8l1.6 -7.7l0.7 -7.7l0.2 -8.4l-0.5 -8.4l-1.2 -8.5l-1.8 -8.4l-2.2 -7.7l-2.9 -7.7l-3.2 -6.9l-3.4 -5.6l-3.8 -5.0l-3.9 -3.4l-3.1 -1.1l-1.3 0.5l-0.7 0.8l-1.1 3.8l0.2 6.2l1.2 8.4l14.0 66.3l2.3 7.7l0.8 1.5l1.5 1.6zM322.9 334.8l2.3 0.4l2.3 -0.2l2.3 -0.8l1.8 -1.0l1.4 -1.6l0.9 -2.3l-0.2 -1.5l-0.9 -1.5l-3.0 -1.9l-3.8 -0.6l-3.9 0.4l-3.0 1.4l-1.6 2.2l-0.2 1.5l0.5 1.6l2.0 2.4l3.1 1.5zM156.4 328.0l1.5 0.3l0.8 -0.4l1.5 -1.6l1.6 -3.1l1.5 -4.6l3.5 -15.4l5.1 -28.4l1.9 -13.8l0.3 -9.2l-0.4 -3.0l-0.7 -2.4l-1.3 -1.6l-1.5 -0.7l-3.1 0.5l-3.0 2.1l-3.1 3.2l-3.1 4.4l-3.0 5.8l-2.2 5.5l-1.8 6.2l-1.4 6.6l-0.9 7.2l-0.4 7.7l0.2 7.6l0.7 6.9l1.4 7.7l2.1 6.7l1.5 3.2l2.3 2.6z"/><path stroke="#ff9000" d="M515.5 335.9l0.8 0.1l1.5 -0.8l2.2 -3.6l1.8 -5.3l1.4 -7.2l0.7 -7.4l0.1 -8.5l-0.4 -7.6l-1.2 -8.5l-1.6 -7.7l-2.2 -7.6l-2.5 -6.9l-3.3 -6.9l-3.4 -5.9l-3.8 -4.9l-3.1 -2.7l-1.6 -0.8l-1.5 -0.2l-1.4 0.6l-0.6 0.8l-0.9 3.9l0.2 6.1l1.1 8.4l13.1 61.9l2.3 7.6l0.8 1.6l1.5 1.5zM323.7 334.1l2.3 0.2l2.0 -0.4l1.8 -0.7l1.6 -1.2l0.8 -1.1l0.5 -1.6l-0.2 -1.5l-1.0 -1.5l-2.4 -1.4l-3.1 -0.5l-3.2 0.3l-3.1 1.6l-1.2 2.3l0.5 2.3l1.6 1.8l3.1 1.4zM156.4 325.8l1.5 0.0l1.6 -1.2l1.5 -2.6l1.8 -5.0l3.3 -13.8l4.5 -24.5l2.0 -14.6l0.5 -9.2l-0.4 -3.8l-0.8 -2.3l-0.9 -1.5l-1.6 -0.9l-2.3 0.2l-3.0 1.8l-3.1 3.1l-3.1 4.3l-2.7 5.2l-2.2 5.4l-2.0 6.9l-1.2 6.1l-0.8 7.0l-0.4 6.9l0.2 6.9l0.7 7.0l1.4 7.5l1.7 5.4l1.5 3.3l2.3 2.4z"/><path stroke="#ff8000" d="M516.3 334.0l0.8 -0.3l1.3 -1.3l1.7 -3.4l1.7 -5.8l1.2 -6.9l0.5 -6.9l0.0 -7.7l-0.6 -7.7l-1.1 -7.6l-1.5 -7.0l-2.2 -7.6l-2.6 -6.8l-3.0 -6.5l-3.1 -5.1l-3.8 -4.8l-3.1 -2.4l-2.3 -0.6l-0.8 0.2l-1.2 1.4l-0.8 4.6l0.4 6.9l1.4 9.2l11.7 55.3l2.3 7.5l1.6 2.6l1.5 0.7zM324.4 333.2l3.1 -0.2l2.7 -1.4l1.3 -2.3l-0.3 -1.5l-0.6 -0.9l-2.3 -1.4l-3.1 -0.3l-2.3 0.3l-2.5 1.5l-0.7 1.6l0.7 2.3l1.7 1.5l2.3 0.8zM156.4 323.5l1.5 -0.1l1.6 -1.4l1.5 -2.9l1.5 -4.4l3.2 -13.0l3.9 -21.5l2.0 -13.8l0.4 -9.2l-0.3 -3.3l-0.7 -2.8l-1.1 -1.6l-1.2 -0.8l-2.3 0.2l-3.1 1.8l-3.1 3.3l-2.3 3.4l-2.3 4.4l-2.3 5.6l-1.7 5.9l-1.3 6.3l-0.9 6.8l-0.3 6.9l0.1 6.9l0.8 6.9l1.0 5.7l1.6 5.2l1.5 3.3l2.3 2.2z"/><path stroke="#ff6f00" d="M323.7 331.8l2.3 0.3l2.3 -0.6l1.5 -1.7l-0.1 -2.0l-1.4 -1.2l-1.5 -0.5l-2.4 0.0l-2.2 0.9l-0.7 0.8l-0.3 1.5l0.9 1.6l1.6 0.9zM515.5 331.8l1.6 -0.2l2.3 -3.1l1.7 -5.3l1.3 -6.9l0.6 -6.9l0.0 -7.7l-0.5 -6.9l-1.0 -7.7l-1.7 -7.7l-2.0 -6.9l-2.6 -6.9l-2.7 -5.7l-3.1 -5.2l-3.1 -3.9l-3.1 -2.6l-2.3 -0.5l-0.8 0.3l-1.1 1.5l-0.7 3.9l0.2 6.1l1.4 9.2l11.0 52.6l2.3 7.4l0.8 1.5l1.5 1.6zM155.6 320.9l1.6 0.4l1.5 -1.0l1.5 -2.4l1.6 -3.8l3.1 -12.4l3.8 -20.0l1.9 -13.8l0.4 -9.2l-1.0 -5.3l-1.3 -1.9l-1.6 -0.6l-2.3 0.6l-2.3 1.6l-3.0 3.6l-2.3 3.7l-3.9 8.9l-2.6 10.9l-1.2 12.3l0.6 12.3l0.9 5.4l1.6 5.6l1.5 3.3l1.5 1.8z"/><path stroke="#ff5e00" d="M324.4 330.3l2.4 0.0l1.0 -1.0l0.0 -0.7l-0.7 -0.8l-1.1 -0.3l-1.9 0.3l-0.7 0.8l0.0 0.7l1.0 1.0zM515.5 329.8l0.8 0.1l1.5 -1.0l1.6 -2.7l1.5 -4.9l1.0 -5.8l0.6 -6.1l0.1 -6.9l-0.5 -7.7l-1.0 -6.9l-3.3 -13.8l-2.3 -6.3l-2.7 -6.0l-2.6 -4.6l-3.1 -4.1l-3.1 -2.8l-2.3 -0.6l-0.8 0.3l-0.9 1.1l-0.6 1.8l-0.3 2.8l0.3 6.1l1.4 9.2l10.1 48.4l2.3 7.2l0.8 1.6l1.5 1.6zM155.6 318.6l1.6 0.3l1.5 -1.1l1.5 -2.6l1.4 -3.5l3.1 -12.3l3.2 -16.9l1.7 -13.0l0.4 -8.5l-0.5 -3.8l-0.8 -2.3l-0.8 -1.1l-1.5 -0.6l-2.3 0.6l-2.3 1.8l-2.3 2.7l-2.3 3.7l-3.9 9.3l-2.3 9.8l-1.0 11.4l0.6 11.5l2.0 9.4l1.5 3.5l1.5 1.7z"/><path stroke="#ff4c00" d="M516.3 327.9l1.5 -1.1l1.6 -3.0l1.4 -5.2l0.9 -5.6l0.3 -12.8l-1.5 -13.1l-3.2 -13.0l-2.3 -6.2l-2.5 -5.4l-2.3 -4.0l-3.1 -4.0l-2.3 -2.1l-2.3 -0.7l-0.8 0.3l-1.0 1.4l-0.7 4.6l0.4 6.9l1.7 10.7l8.8 41.9l1.6 5.2l1.5 3.5l0.8 1.0l1.5 0.7zM155.6 316.3l1.6 0.2l1.2 -1.0l2.6 -5.1l3.1 -11.3l2.9 -15.8l1.7 -12.3l0.3 -8.4l-1.1 -5.2l-0.8 -1.1l-1.5 -0.8l-1.5 0.3l-2.3 1.6l-2.3 2.6l-2.3 3.7l-3.4 8.1l-2.4 9.9l-0.9 10.8l0.5 10.7l1.8 8.5l1.3 2.9l1.5 1.7z"/><path stroke="#ff3c00" d="M515.5 325.7l1.6 -0.3l1.5 -2.1l1.5 -4.7l1.0 -5.4l0.4 -12.3l-1.3 -13.0l-3.0 -12.3l-4.0 -10.2l-2.3 -4.3l-3.0 -4.4l-2.3 -2.1l-2.4 -0.8l-1.5 1.1l-0.7 2.3l-0.2 2.3l0.3 6.1l1.4 9.8l3.8 19.7l4.6 20.5l2.3 7.1l0.8 1.5l1.5 1.5zM156.4 314.1l0.8 -0.1l1.5 -1.5l2.7 -6.2l2.7 -10.6l2.5 -14.0l1.2 -10.7l0.1 -6.9l-1.1 -4.6l-1.2 -1.3l-0.8 -0.3l-1.5 0.3l-2.3 1.8l-3.8 5.5l-3.1 7.5l-2.3 10.0l-0.8 11.0l0.7 10.0l0.9 4.0l1.3 3.7l1.0 1.5l1.5 0.9z"/><path stroke="#ff2b00" d="M514.8 323.2l1.5 0.6l1.5 -1.4l1.6 -3.7l1.0 -4.7l0.7 -11.5l-1.1 -13.1l-2.8 -12.3l-4.0 -10.4l-4.6 -7.6l-2.3 -2.4l-2.3 -0.9l-0.8 0.3l-0.8 1.1l-0.8 3.8l0.3 6.2l1.1 8.4l3.3 17.7l3.9 17.4l2.3 8.1l2.3 4.4zM155.6 311.4l0.8 0.2l1.5 -0.8l2.3 -4.1l2.4 -8.1l2.6 -13.0l1.5 -10.8l0.3 -7.6l-0.8 -4.6l-0.9 -1.6l-1.2 -0.6l-1.6 0.4l-1.5 1.1l-2.3 2.8l-1.5 2.6l-2.8 6.8l-1.8 7.7l-1.0 9.2l0.2 8.5l1.5 8.0l0.8 1.9l1.5 2.0z"/><path stroke="#ff1a00" d="M515.5 321.7l1.6 -0.6l1.4 -2.5l1.7 -7.7l0.3 -10.7l-1.1 -11.5l-2.5 -10.8l-3.7 -9.8l-2.3 -4.3l-2.3 -3.3l-2.3 -2.1l-1.5 -0.5l-0.8 0.2l-0.8 0.9l-0.8 4.3l0.3 6.2l1.3 9.5l3.1 16.1l3.8 16.8l2.3 6.9l1.6 2.4l0.7 0.5zM155.6 308.7l0.8 0.2l1.5 -0.8l2.3 -4.4l2.3 -8.1l1.9 -9.2l1.2 -9.3l0.3 -7.6l-0.8 -4.6l-1.0 -1.5l-0.8 -0.3l-1.5 0.4l-1.6 1.2l-3.0 4.6l-2.3 5.8l-1.8 7.4l-0.9 8.5l0.2 7.6l1.1 6.2l0.9 2.3l1.2 1.6z"/><path stroke="#ff0800" d="M515.5 319.6l0.8 -0.1l0.8 -0.6l0.7 -1.3l1.2 -3.6l0.7 -4.6l0.3 -10.0l-1.1 -10.7l-2.3 -10.0l-3.4 -9.1l-3.8 -6.6l-2.3 -2.4l-1.5 -0.6l-0.8 0.2l-0.8 0.8l-0.8 3.9l0.2 6.1l1.4 9.8l3.1 16.0l3.0 13.1l2.3 6.9l1.6 2.4l0.7 0.4zM155.6 305.7l0.8 0.3l0.8 -0.2l1.0 -1.0l1.3 -2.3l2.2 -6.9l1.6 -7.7l1.3 -9.2l0.3 -6.9l-0.8 -4.4l-0.8 -1.1l-0.8 -0.4l-0.7 0.1l-1.6 1.0l-3.0 4.6l-2.3 6.1l-1.3 5.6l-0.7 6.9l0.1 6.9l1.1 5.9l1.5 2.7z"/><path stroke="#f70000" d="M514.8 317.1l0.7 0.3l0.8 -0.1l0.8 -0.8l1.3 -3.3l0.7 -3.8l0.4 -9.2l-0.9 -10.3l-2.3 -10.4l-3.1 -8.4l-3.8 -6.6l-1.5 -1.5l-1.6 -0.8l-0.7 0.2l-0.8 0.8l-0.8 3.6l0.2 5.7l1.0 7.7l2.7 14.6l3.0 13.2l2.3 6.8l1.6 2.3zM156.4 302.8l1.5 -0.8l1.6 -2.9l1.5 -4.8l1.7 -7.9l0.8 -7.0l0.2 -5.3l-0.5 -3.1l-0.7 -1.4l-0.7 -0.5l-0.8 0.1l-1.5 1.1l-2.3 3.8l-1.7 4.6l-1.4 6.1l-0.5 6.2l0.3 6.1l1.0 3.9l0.7 1.3l0.8 0.5z"/><path stroke="#e50000" d="M514.8 314.9l0.7 0.3l0.8 -0.3l0.8 -1.1l1.5 -6.0l0.3 -9.2l-1.0 -9.9l-2.4 -9.9l-3.0 -7.7l-3.1 -4.9l-1.5 -1.4l-1.6 -0.2l-1.1 1.8l-0.4 3.8l0.4 6.2l1.1 7.9l4.6 21.7l2.3 6.7l1.6 2.2zM156.4 298.9l0.8 0.0l1.5 -1.9l1.5 -4.2l1.3 -5.7l0.7 -5.4l0.1 -4.6l-0.5 -3.0l-0.8 -1.1l-1.5 0.5l-1.6 2.1l-1.5 3.6l-1.2 4.9l-0.5 4.6l0.0 4.6l0.6 3.8l1.1 1.8z"/><path stroke="#d40000" d="M514.8 312.6l0.7 0.2l0.8 -0.6l0.7 -1.3l1.2 -5.4l0.2 -7.6l-1.1 -9.2l-1.8 -7.9l-3.0 -8.1l-3.1 -4.7l-1.5 -1.0l-0.8 0.0l-1.1 1.7l-0.4 3.8l1.5 13.4l3.8 18.0l2.3 6.6l1.6 2.1zM157.2 293.7l0.7 -0.4l0.8 -1.3l1.5 -5.9l0.3 -5.9l-0.3 -1.4l-0.7 -0.6l-1.6 1.6l-1.5 5.0l-0.3 6.2l0.3 1.7l0.8 1.0z"/><path stroke="#c30000" d="M514.0 309.5l0.8 0.6l0.7 0.0l0.7 -0.7l1.2 -3.9l0.4 -6.9l-0.7 -8.2l-1.6 -7.4l-2.3 -6.8l-3.0 -5.4l-1.6 -1.2l-0.7 0.0l-1.0 1.4l-0.4 3.1l1.1 11.5l3.3 16.0l1.6 4.9l1.5 3.0z"/><path stroke="#b30000" d="M514.8 307.3l0.7 -0.3l0.8 -1.5l0.6 -3.8l0.1 -5.4l-0.7 -6.9l-1.5 -6.7l-2.3 -6.1l-2.3 -3.6l-1.6 -0.6l-0.7 1.0l-0.5 3.7l1.2 11.2l3.1 13.5l1.5 3.9l1.6 1.6z"/><path stroke="#a20000" d="M514.8 304.0l0.9 -1.5l0.5 -3.9l-0.7 -9.3l-1.5 -6.4l-1.5 -4.0l-1.6 -2.5l-0.7 -0.6l-0.8 -0.1l-0.8 1.6l-0.1 3.7l1.6 11.5l2.4 8.7l1.5 2.6l0.8 0.2z"/><path stroke="#900000" d="M514.0 299.9l0.8 -0.8l0.3 -2.0l-0.3 -7.0l-1.6 -6.2l-1.5 -3.2l-0.8 -0.8l-0.7 0.2l-0.4 1.6l0.4 6.4l1.5 7.3l1.5 3.9l0.8 0.6z"/><path stroke="#800000" d="M512.5 291.1l0.2 -0.9l-0.2 -1.9l0.0 2.8z"/></g><rect x="57.4" y="50" width="536.4" height="536.4" fill="none" stroke="#262626" stroke-width="2.3"/><path d="M146.8 50v17 M146.8 586.4v-17 M57.4 497.0h17 M593.8 497.0h-17" stroke="#262626" stroke-width="2.3"/><path d="M236.2 50v17 M236.2 586.4v-17 M57.4 407.6h17 M593.8 407.6h-17" stroke="#262626" stroke-width="2.3"/><path d="M325.6 50v17 M325.6 586.4v-17 M57.4 318.2h17 M593.8 318.2h-17" stroke="#262626" stroke-width="2.3"/><path d="M415.0 50v17 M415.0 586.4v-17 M57.4 228.8h17 M593.8 228.8h-17" stroke="#262626" stroke-width="2.3"/><path d="M504.4 50v17 M504.4 586.4v-17 M57.4 139.4h17 M593.8 139.4h-17" stroke="#262626" stroke-width="2.3"/><g font-family="Liberation Sans, Arial, sans-serif" font-size="26" fill="#262626"><text x="54.6" y="618.3" text-anchor="middle">-1.5</text><text x="45.8" y="595.7" text-anchor="end">-1.5</text><text x="144.0" y="618.3" text-anchor="middle">-1</text><text x="45.8" y="506.3" text-anchor="end">-1</text><text x="233.4" y="618.3" text-anchor="middle">-0.5</text><text x="45.8" y="416.9" text-anchor="end">-0.5</text><text x="323.9" y="618.3" text-anchor="middle">0</text><text x="45.8" y="327.5" text-anchor="end">0</text><text x="413.3" y="618.3" text-anchor="middle">0.5</text><text x="45.8" y="238.1" text-anchor="end">0.5</text><text x="502.7" y="618.3" text-anchor="middle">1</text><text x="45.8" y="148.7" text-anchor="end">1</text><text x="592.1" y="618.3" text-anchor="middle">1.5</text><text x="45.8" y="59.3" text-anchor="end">1.5</text></g><g shape-rendering="crispEdges"><rect x="623.2" y="582.30" width="16.4" height="4.80" fill="#000083"/><rect x="623.2" y="578.11" width="16.4" height="4.80" fill="#00008b"/><rect x="623.2" y="573.91" width="16.4" height="4.80" fill="#000093"/><rect x="623.2" y="569.71" width="16.4" height="4.80" fill="#00009b"/><rect x="623.2" y="565.52" width="16.4" height="4.80" fill="#0000a3"/><rect x="623.2" y="561.32" width="16.4" height="4.80" fill="#0000ab"/><rect x="623.2" y="557.12" width="16.4" height="4.80" fill="#0000b3"/><rect x="623.2" y="552.92" width="16.4" height="4.80" fill="#0000bb"/><rect x="623.2" y="548.73" width="16.4" height="4.80" fill="#0000c3"/><rect x="623.2" y="544.53" width="16.4" height="4.80" fill="#0000cb"/><rect x="623.2" y="540.33" width="16.4" height="4.80" fill="#0000d3"/><rect x="623.2" y="536.14" width="16.4" height="4.80" fill="#0000db"/><rect x="623.2" y="531.94" width="16.4" height="4.80" fill="#0000e3"/><rect x="623.2" y="527.74" width="16.4" height="4.80" fill="#0000eb"/><rect x="623.2" y="523.55" width="16.4" height="4.80" fill="#0000f3"/><rect x="623.2" y="519.35" width="16.4" height="4.80" fill="#0000fb"/><rect x="623.2" y="515.15" width="16.4" height="4.80" fill="#0004ff"/><rect x="623.2" y="510.96" width="16.4" height="4.80" fill="#000cff"/><rect x="623.2" y="506.76" width="16.4" height="4.80" fill="#0014ff"/><rect x="623.2" y="502.56" width="16.4" height="4.80" fill="#001cff"/><rect x="623.2" y="498.37" width="16.4" height="4.80" fill="#0024ff"/><rect x="623.2" y="494.17" width="16.4" height="4.80" fill="#002cff"/><rect x="623.2" y="489.97" width="16.4" height="4.80" fill="#0034ff"/><rect x="623.2" y="485.77" width="16.4" height="4.80" fill="#003cff"/><rect x="623.2" y="481.58" width="16.4" height="4.80" fill="#0044ff"/><rect x="623.2" y="477.38" width="16.4" height="4.80" fill="#004cff"/><rect x="623.2" y="473.18" width="16.4" height="4.80" fill="#0054ff"/><rect x="623.2" y="468.99" width="16.4" height="4.80" fill="#005cff"/><rect x="623.2" y="464.79" width="16.4" height="4.80" fill="#0064ff"/><rect x="623.2" y="460.59" width="16.4" height="4.80" fill="#006cff"/><rect x="623.2" y="456.40" width="16.4" height="4.80" fill="#0074ff"/><rect x="623.2" y="452.20" width="16.4" height="4.80" fill="#007cff"/><rect x="623.2" y="448.00" width="16.4" height="4.80" fill="#0083ff"/><rect x="623.2" y="443.81" width="16.4" height="4.80" fill="#008bff"/><rect x="623.2" y="439.61" width="16.4" height="4.80" fill="#0093ff"/><rect x="623.2" y="435.41" width="16.4" height="4.80" fill="#009bff"/><rect x="623.2" y="431.22" width="16.4" height="4.80" fill="#00a3ff"/><rect x="623.2" y="427.02" width="16.4" height="4.80" fill="#00abff"/><rect x="623.2" y="422.82" width="16.4" height="4.80" fill="#00b3ff"/><rect x="623.2" y="418.62" width="16.4" height="4.80" fill="#00bbff"/><rect x="623.2" y="414.43" width="16.4" height="4.80" fill="#00c3ff"/><rect x="623.2" y="410.23" width="16.4" height="4.80" fill="#00cbff"/><rect x="623.2" y="406.03" width="16.4" height="4.80" fill="#00d3ff"/><rect x="623.2" y="401.84" width="16.4" height="4.80" fill="#00dbff"/><rect x="623.2" y="397.64" width="16.4" height="4.80" fill="#00e3ff"/><rect x="623.2" y="393.44" width="16.4" height="4.80" fill="#00ebff"/><rect x="623.2" y="389.25" width="16.4" height="4.80" fill="#00f3ff"/><rect x="623.2" y="385.05" width="16.4" height="4.80" fill="#00fbff"/><rect x="623.2" y="380.85" width="16.4" height="4.80" fill="#04fffb"/><rect x="623.2" y="376.66" width="16.4" height="4.80" fill="#0cfff3"/><rect x="623.2" y="372.46" width="16.4" height="4.80" fill="#14ffeb"/><rect x="623.2" y="368.26" width="16.4" height="4.80" fill="#1cffe3"/><rect x="623.2" y="364.07" width="16.4" height="4.80" fill="#24ffdb"/><rect x="623.2" y="359.87" width="16.4" height="4.80" fill="#2cffd3"/><rect x="623.2" y="355.67" width="16.4" height="4.80" fill="#34ffcb"/><rect x="623.2" y="351.47" width="16.4" height="4.80" fill="#3cffc3"/><rect x="623.2" y="347.28" width="16.4" height="4.80" fill="#44ffbb"/><rect x="623.2" y="343.08" width="16.4" height="4.80" fill="#4cffb3"/><rect x="623.2" y="338.88" width="16.4" height="4.80" fill="#54ffab"/><rect x="623.2" y="334.69" width="16.4" height="4.80" fill="#5cffa3"/><rect x="623.2" y="330.49" width="16.4" height="4.80" fill="#64ff9b"/><rect x="623.2" y="326.29" width="16.4" height="4.80" fill="#6cff93"/><rect x="623.2" y="322.10" width="16.4" height="4.80" fill="#74ff8b"/><rect x="623.2" y="317.90" width="16.4" height="4.80" fill="#7cff83"/><rect x="623.2" y="313.70" width="16.4" height="4.80" fill="#83ff7c"/><rect x="623.2" y="309.51" width="16.4" height="4.80" fill="#8bff74"/><rect x="623.2" y="305.31" width="16.4" height="4.80" fill="#93ff6c"/><rect x="623.2" y="301.11" width="16.4" height="4.80" fill="#9bff64"/><rect x="623.2" y="296.92" width="16.4" height="4.80" fill="#a3ff5c"/><rect x="623.2" y="292.72" width="16.4" height="4.80" fill="#abff54"/><rect x="623.2" y="288.52" width="16.4" height="4.80" fill="#b3ff4c"/><rect x="623.2" y="284.32" width="16.4" height="4.80" fill="#bbff44"/><rect x="623.2" y="280.13" width="16.4" height="4.80" fill="#c3ff3c"/><rect x="623.2" y="275.93" width="16.4" height="4.80" fill="#cbff34"/><rect x="623.2" y="271.73" width="16.4" height="4.80" fill="#d3ff2c"/><rect x="623.2" y="267.54" width="16.4" height="4.80" fill="#dbff24"/><rect x="623.2" y="263.34" width="16.4" height="4.80" fill="#e3ff1c"/><rect x="623.2" y="259.14" width="16.4" height="4.80" fill="#ebff14"/><rect x="623.2" y="254.95" width="16.4" height="4.80" fill="#f3ff0c"/><rect x="623.2" y="250.75" width="16.4" height="4.80" fill="#fbff04"/><rect x="623.2" y="246.55" width="16.4" height="4.80" fill="#fffb00"/><rect x="623.2" y="242.36" width="16.4" height="4.80" fill="#fff300"/><rect x="623.2" y="238.16" width="16.4" height="4.80" fill="#ffeb00"/><rect x="623.2" y="233.96" width="16.4" height="4.80" fill="#ffe300"/><rect x="623.2" y="229.77" width="16.4" height="4.80" fill="#ffdb00"/><rect x="623.2" y="225.57" width="16.4" height="4.80" fill="#ffd300"/><rect x="623.2" y="221.37" width="16.4" height="4.80" fill="#ffcb00"/><rect x="623.2" y="217.17" width="16.4" height="4.80" fill="#ffc300"/><rect x="623.2" y="212.98" width="16.4" height="4.80" fill="#ffbb00"/><rect x="623.2" y="208.78" width="16.4" height="4.80" fill="#ffb300"/><rect x="623.2" y="204.58" width="16.4" height="4.80" fill="#ffab00"/><rect x="623.2" y="200.39" width="16.4" height="4.80" fill="#ffa300"/><rect x="623.2" y="196.19" width="16.4" height="4.80" fill="#ff9b00"/><rect x="623.2" y="191.99" width="16.4" height="4.80" fill="#ff9300"/><rect x="623.2" y="187.80" width="16.4" height="4.80" fill="#ff8b00"/><rect x="623.2" y="183.60" width="16.4" height="4.80" fill="#ff8300"/><rect x="623.2" y="179.40" width="16.4" height="4.80" fill="#ff7c00"/><rect x="623.2" y="175.21" width="16.4" height="4.80" fill="#ff7400"/><rect x="623.2" y="171.01" width="16.4" height="4.80" fill="#ff6c00"/><rect x="623.2" y="166.81" width="16.4" height="4.80" fill="#ff6400"/><rect x="623.2" y="162.62" width="16.4" height="4.80" fill="#ff5c00"/><rect x="623.2" y="158.42" width="16.4" height="4.80" fill="#ff5400"/><rect x="623.2" y="154.22" width="16.4" height="4.80" fill="#ff4c00"/><rect x="623.2" y="150.02" width="16.4" height="4.80" fill="#ff4400"/><rect x="623.2" y="145.83" width="16.4" height="4.80" fill="#ff3c00"/><rect x="623.2" y="141.63" width="16.4" height="4.80" fill="#ff3400"/><rect x="623.2" y="137.43" width="16.4" height="4.80" fill="#ff2c00"/><rect x="623.2" y="133.24" width="16.4" height="4.80" fill="#ff2400"/><rect x="623.2" y="129.04" width="16.4" height="4.80" fill="#ff1c00"/><rect x="623.2" y="124.84" width="16.4" height="4.80" fill="#ff1400"/><rect x="623.2" y="120.65" width="16.4" height="4.80" fill="#ff0c00"/><rect x="623.2" y="116.45" width="16.4" height="4.80" fill="#ff0400"/><rect x="623.2" y="112.25" width="16.4" height="4.80" fill="#fb0000"/><rect x="623.2" y="108.06" width="16.4" height="4.80" fill="#f30000"/><rect x="623.2" y="103.86" width="16.4" height="4.80" fill="#eb0000"/><rect x="623.2" y="99.66" width="16.4" height="4.80" fill="#e30000"/><rect x="623.2" y="95.47" width="16.4" height="4.80" fill="#db0000"/><rect x="623.2" y="91.27" width="16.4" height="4.80" fill="#d30000"/><rect x="623.2" y="87.07" width="16.4" height="4.80" fill="#cb0000"/><rect x="623.2" y="82.87" width="16.4" height="4.80" fill="#c30000"/><rect x="623.2" y="78.68" width="16.4" height="4.80" fill="#bb0000"/><rect x="623.2" y="74.48" width="16.4" height="4.80" fill="#b30000"/><rect x="623.2" y="70.28" width="16.4" height="4.80" fill="#ab0000"/><rect x="623.2" y="66.09" width="16.4" height="4.80" fill="#a30000"/><rect x="623.2" y="61.89" width="16.4" height="4.80" fill="#9b0000"/><rect x="623.2" y="57.69" width="16.4" height="4.80" fill="#930000"/><rect x="623.2" y="53.50" width="16.4" height="4.80" fill="#8b0000"/><rect x="623.2" y="49.30" width="16.4" height="4.80" fill="#830000"/></g><rect x="623.2" y="49.3" width="16.4" height="537.2" fill="none" stroke="#262626" stroke-width="1"/><path d="M639.6 49.3h-6" stroke="#262626" stroke-width="1"/><path d="M639.6 183.6h-6" stroke="#262626" stroke-width="1"/><path d="M639.6 317.9h-6" stroke="#262626" stroke-width="1"/><path d="M639.6 452.2h-6" stroke="#262626" stroke-width="1"/><path d="M639.6 586.5h-6" stroke="#262626" stroke-width="1"/><g font-family="Liberation Sans, Arial, sans-serif" font-size="24" fill="#262626"><text x="646.5" y="57.9">1</text><text x="646.5" y="192.2">0.5</text><text x="646.5" y="326.5">0</text><text x="646.5" y="460.8">-0.5</text><text x="646.5" y="595.1">-1</text></g><g font-family="Liberation Serif, serif" fill="#000"><text x="0.6" y="28.4" font-size="42">(</text><text x="12.9" y="27.6" font-size="37.5">a</text><text x="31.7" y="28.4" font-size="42">)</text></g><g font-family="Liberation Serif, serif" fill="#000"><text x="728.1" y="28.4" font-size="42">(</text><text x="740.4" y="27.6" font-size="37.5">b</text><text x="759.2" y="28.4" font-size="42">)</text></g><defs><linearGradient id="a0" gradientUnits="userSpaceOnUse" x1="0" y1="-10.6" x2="0" y2="10.6"><stop offset="0" stop-color="#e30000"/><stop offset=".031" stop-color="#ff0000"/><stop offset=".125" stop-color="#ff0101"/><stop offset=".156" stop-color="#ff0808"/><stop offset=".188" stop-color="#ff1c1c"/><stop offset=".219" stop-color="#ff4444"/><stop offset=".25" stop-color="#ff7979"/><stop offset=".281" stop-color="#ffa6a6"/><stop offset=".312" stop-color="#ffb6b6"/><stop offset=".344" stop-color="#ffa3a3"/><stop offset=".406" stop-color="#ff4a4a"/><stop offset=".438" stop-color="#ff2626"/><stop offset=".469" stop-color="#f91010"/><stop offset=".5" stop-color="#e60606"/><stop offset=".562" stop-color="#d00000"/><stop offset=".719" stop-color="#9b0000"/><stop offset=".844" stop-color="#640000"/><stop offset="1" stop-color="#610000"/></linearGradient><linearGradient id="a1" gradientUnits="userSpaceOnUse" x1="0" y1="-10.6" x2="0" y2="10.6"><stop offset="0" stop-color="#0000dd"/><stop offset=".031" stop-color="#0000f2"/><stop offset=".062" stop-color="#0000f6"/><stop offset=".219" stop-color="#0000ec"/><stop offset=".344" stop-color="#0000d8"/><stop offset=".5" stop-color="#0000b5"/><stop offset=".781" stop-color="#000063"/><stop offset="1" stop-color="#000061"/></linearGradient><linearGradient id="a2" gradientUnits="userSpaceOnUse" x1="0" y1="-10.6" x2="0" y2="10.6"><stop offset="0" stop-color="#610000"/><stop offset=".031" stop-color="#700000"/><stop offset=".094" stop-color="#a20000"/><stop offset=".156" stop-color="#c30000"/><stop offset=".25" stop-color="#e60000"/><stop offset=".344" stop-color="#ff0000"/><stop offset=".562" stop-color="#ff0d0d"/><stop offset=".719" stop-color="#ff0202"/><stop offset=".875" stop-color="#ff0000"/><stop offset=".938" stop-color="#e70000"/><stop offset=".969" stop-color="#d10000"/><stop offset="1" stop-color="#950000"/></linearGradient><linearGradient id="a3" gradientUnits="userSpaceOnUse" x1="0" y1="-10.6" x2="0" y2="10.6"><stop offset="0" stop-color="#f70000"/><stop offset=".031" stop-color="#ff0000"/><stop offset=".156" stop-color="#fe0000"/><stop offset=".25" stop-color="#ed0000"/><stop offset=".469" stop-color="#b50000"/><stop offset=".719" stop-color="#630000"/><stop offset="1" stop-color="#610000"/></linearGradient><linearGradient id="a4" gradientUnits="userSpaceOnUse" x1="0" y1="-10.6" x2="0" y2="10.6"><stop offset="0" stop-color="#000061"/><stop offset=".094" stop-color="#0000a0"/><stop offset=".188" stop-color="#0000c7"/><stop offset=".312" stop-color="#0000e8"/><stop offset=".469" stop-color="#0000fe"/><stop offset=".75" stop-color="#0000fd"/><stop offset=".844" stop-color="#0000ef"/><stop offset=".906" stop-color="#0000dd"/><stop offset=".969" stop-color="#0000bc"/><stop offset="1" stop-color="#000086"/></linearGradient><linearGradient id="a5" gradientUnits="userSpaceOnUse" x1="0" y1="-10.6" x2="0" y2="10.6"><stop offset="0" stop-color="#610000"/><stop offset=".031" stop-color="#610000"/><stop offset=".125" stop-color="#9b0000"/><stop offset=".219" stop-color="#c70000"/><stop offset=".312" stop-color="#e70000"/><stop offset=".406" stop-color="#ff0606"/><stop offset=".438" stop-color="#ff1111"/><stop offset=".469" stop-color="#ff2929"/><stop offset=".5" stop-color="#ff5151"/><stop offset=".562" stop-color="#ffb7b7"/><stop offset=".594" stop-color="#ffd2d2"/><stop offset=".625" stop-color="#ffcaca"/><stop offset=".656" stop-color="#ffa0a0"/><stop offset=".719" stop-color="#ff3535"/><stop offset=".75" stop-color="#ff1515"/><stop offset=".781" stop-color="#ff0606"/><stop offset=".812" stop-color="#ff0101"/><stop offset=".906" stop-color="#ff0000"/><stop offset=".938" stop-color="#f90000"/><stop offset=".969" stop-color="#e60000"/><stop offset="1" stop-color="#ad0000"/></linearGradient><linearGradient id="a6" gradientUnits="userSpaceOnUse" x1="0" y1="-10.6" x2="0" y2="10.6"><stop offset="0" stop-color="#0000ea"/><stop offset=".031" stop-color="#0000ff"/><stop offset=".125" stop-color="#0202ff"/><stop offset=".156" stop-color="#0909ff"/><stop offset=".188" stop-color="#1e1eff"/><stop offset=".25" stop-color="#6767ff"/><stop offset=".281" stop-color="#8181ff"/><stop offset=".312" stop-color="#8181ff"/><stop offset=".344" stop-color="#6a6aff"/><stop offset=".406" stop-color="#2828ff"/><stop offset=".438" stop-color="#1313fa"/><stop offset=".469" stop-color="#0707e6"/><stop offset=".531" stop-color="#0101ce"/><stop offset=".688" stop-color="#00009a"/><stop offset=".812" stop-color="#000067"/><stop offset=".844" stop-color="#000061"/><stop offset="1" stop-color="#000061"/></linearGradient><linearGradient id="a7" gradientUnits="userSpaceOnUse" x1="0" y1="-10.6" x2="0" y2="10.6"><stop offset="0" stop-color="#000061"/><stop offset=".031" stop-color="#000061"/><stop offset=".125" stop-color="#00009b"/><stop offset=".219" stop-color="#0000c7"/><stop offset=".312" stop-color="#0000e7"/><stop offset=".406" stop-color="#0505ff"/><stop offset=".438" stop-color="#1010ff"/><stop offset=".469" stop-color="#2626ff"/><stop offset=".5" stop-color="#4b4bff"/><stop offset=".562" stop-color="#aaaaff"/><stop offset=".594" stop-color="#c4c4ff"/><stop offset=".625" stop-color="#bcbcff"/><stop offset=".656" stop-color="#9595ff"/><stop offset=".719" stop-color="#3232ff"/><stop offset=".75" stop-color="#1414ff"/><stop offset=".781" stop-color="#0606ff"/><stop offset=".812" stop-color="#0101ff"/><stop offset=".906" stop-color="#0000ff"/><stop offset=".938" stop-color="#0000f9"/><stop offset=".969" stop-color="#0000e5"/><stop offset="1" stop-color="#0000ad"/></linearGradient><linearGradient id="a8" gradientUnits="userSpaceOnUse" x1="0" y1="-10.6" x2="0" y2="10.6"><stop offset="0" stop-color="#000061"/><stop offset=".094" stop-color="#000065"/><stop offset=".156" stop-color="#000088"/><stop offset=".25" stop-color="#0000b2"/><stop offset=".406" stop-color="#0101e7"/><stop offset=".469" stop-color="#0707fd"/><stop offset=".5" stop-color="#1313ff"/><stop offset=".531" stop-color="#2a2aff"/><stop offset=".594" stop-color="#7373ff"/><stop offset=".625" stop-color="#9191ff"/><stop offset=".656" stop-color="#9898ff"/><stop offset=".688" stop-color="#8383ff"/><stop offset=".75" stop-color="#3232ff"/><stop offset=".781" stop-color="#1515ff"/><stop offset=".812" stop-color="#0606ff"/><stop offset=".844" stop-color="#0101ff"/><stop offset=".969" stop-color="#0000fc"/><stop offset="1" stop-color="#0000cc"/></linearGradient><linearGradient id="a9" gradientUnits="userSpaceOnUse" x1="0" y1="-10.6" x2="0" y2="10.6"><stop offset="0" stop-color="#c60000"/><stop offset=".031" stop-color="#f80000"/><stop offset=".062" stop-color="#ff0000"/><stop offset=".156" stop-color="#ff0101"/><stop offset=".188" stop-color="#ff0505"/><stop offset=".219" stop-color="#ff1414"/><stop offset=".25" stop-color="#ff3232"/><stop offset=".312" stop-color="#ff8f8f"/><stop offset=".344" stop-color="#ffaeae"/><stop offset=".375" stop-color="#ffadad"/><stop offset=".406" stop-color="#ff8f8f"/><stop offset=".469" stop-color="#ff3939"/><stop offset=".5" stop-color="#ff1b1b"/><stop offset=".531" stop-color="#ff0b0b"/><stop offset=".594" stop-color="#ed0101"/><stop offset=".75" stop-color="#ba0000"/><stop offset=".938" stop-color="#610000"/><stop offset="1" stop-color="#610000"/></linearGradient><linearGradient id="a10" gradientUnits="userSpaceOnUse" x1="0" y1="-10.6" x2="0" y2="10.6"><stop offset="0" stop-color="#990000"/><stop offset=".031" stop-color="#c90000"/><stop offset=".062" stop-color="#da0000"/><stop offset=".125" stop-color="#ed0000"/><stop offset=".25" stop-color="#fd0000"/><stop offset=".406" stop-color="#fd0000"/><stop offset=".562" stop-color="#ed0000"/><stop offset=".719" stop-color="#ce0000"/><stop offset=".812" stop-color="#b20000"/><stop offset=".875" stop-color="#990000"/><stop offset=".938" stop-color="#780000"/><stop offset=".969" stop-color="#610000"/><stop offset="1" stop-color="#610000"/></linearGradient><linearGradient id="a11" gradientUnits="userSpaceOnUse" x1="0" y1="-10.6" x2="0" y2="10.6"><stop offset="0" stop-color="#f20000"/><stop offset=".031" stop-color="#ff0000"/><stop offset=".156" stop-color="#ff0707"/><stop offset=".25" stop-color="#ff2f2f"/><stop offset=".281" stop-color="#ff3434"/><stop offset=".312" stop-color="#ff2e2e"/><stop offset=".375" stop-color="#fe1414"/><stop offset=".406" stop-color="#ed0a0a"/><stop offset=".469" stop-color="#d30101"/><stop offset=".656" stop-color="#970000"/><stop offset=".781" stop-color="#660000"/><stop offset=".812" stop-color="#610000"/><stop offset="1" stop-color="#610000"/></linearGradient><linearGradient id="a12" gradientUnits="userSpaceOnUse" x1="0" y1="-10.6" x2="0" y2="10.6"><stop offset="0" stop-color="#610000"/><stop offset=".094" stop-color="#620000"/><stop offset=".156" stop-color="#860000"/><stop offset=".25" stop-color="#b00000"/><stop offset=".438" stop-color="#ed0101"/><stop offset=".5" stop-color="#ff0c0c"/><stop offset=".531" stop-color="#ff1a1a"/><stop offset=".625" stop-color="#ff5e5e"/><stop offset=".656" stop-color="#ff6464"/><stop offset=".688" stop-color="#ff5858"/><stop offset=".75" stop-color="#ff2323"/><stop offset=".781" stop-color="#ff0f0f"/><stop offset=".812" stop-color="#ff0505"/><stop offset=".969" stop-color="#fc0000"/><stop offset="1" stop-color="#ce0000"/></linearGradient><linearGradient id="a13" gradientUnits="userSpaceOnUse" x1="0" y1="-10.6" x2="0" y2="10.6"><stop offset="0" stop-color="#610000"/><stop offset=".062" stop-color="#630000"/><stop offset=".125" stop-color="#8c0000"/><stop offset=".219" stop-color="#b90000"/><stop offset=".375" stop-color="#ee0000"/><stop offset=".438" stop-color="#ff0707"/><stop offset=".469" stop-color="#ff1414"/><stop offset=".5" stop-color="#ff2c2c"/><stop offset=".594" stop-color="#ffa7a7"/><stop offset=".625" stop-color="#ffb5b5"/><stop offset=".656" stop-color="#ffa3a3"/><stop offset=".719" stop-color="#ff4747"/><stop offset=".75" stop-color="#ff2121"/><stop offset=".781" stop-color="#ff0b0b"/><stop offset=".844" stop-color="#ff0000"/><stop offset=".938" stop-color="#ff0000"/><stop offset=".969" stop-color="#f00000"/><stop offset="1" stop-color="#bb0000"/></linearGradient><linearGradient id="a14" gradientUnits="userSpaceOnUse" x1="0" y1="-10.6" x2="0" y2="10.6"><stop offset="0" stop-color="#0000e6"/><stop offset=".031" stop-color="#0000f0"/><stop offset=".062" stop-color="#0000ef"/><stop offset=".219" stop-color="#0000d8"/><stop offset=".438" stop-color="#0000a6"/><stop offset=".688" stop-color="#000062"/><stop offset="1" stop-color="#000061"/></linearGradient><linearGradient id="a15" gradientUnits="userSpaceOnUse" x1="0" y1="-10.6" x2="0" y2="10.6"><stop offset="0" stop-color="#d30000"/><stop offset=".531" stop-color="#620000"/><stop offset="1" stop-color="#610000"/></linearGradient><linearGradient id="a16" gradientUnits="userSpaceOnUse" x1="0" y1="-10.6" x2="0" y2="10.6"><stop offset="0" stop-color="#610000"/><stop offset=".094" stop-color="#620000"/><stop offset=".188" stop-color="#910000"/><stop offset=".312" stop-color="#c00000"/><stop offset=".438" stop-color="#e40000"/><stop offset=".562" stop-color="#fd0101"/><stop offset=".938" stop-color="#fe0000"/><stop offset=".969" stop-color="#f60000"/><stop offset="1" stop-color="#ca0000"/></linearGradient><linearGradient id="a17" gradientUnits="userSpaceOnUse" x1="0" y1="-10.6" x2="0" y2="10.6"><stop offset="0" stop-color="#000061"/><stop offset=".062" stop-color="#000061"/><stop offset=".094" stop-color="#000069"/><stop offset=".156" stop-color="#00008d"/><stop offset=".25" stop-color="#0000b7"/><stop offset=".406" stop-color="#0101eb"/><stop offset=".469" stop-color="#0d0dff"/><stop offset=".5" stop-color="#2121ff"/><stop offset=".531" stop-color="#4646ff"/><stop offset=".594" stop-color="#b5b5ff"/><stop offset=".625" stop-color="#dcdcff"/><stop offset=".656" stop-color="#dfdfff"/><stop offset=".688" stop-color="#babaff"/><stop offset=".75" stop-color="#4242ff"/><stop offset=".781" stop-color="#1a1aff"/><stop offset=".812" stop-color="#0707ff"/><stop offset=".844" stop-color="#0101ff"/><stop offset=".938" stop-color="#0000ff"/><stop offset=".969" stop-color="#0000fa"/><stop offset="1" stop-color="#0000c9"/></linearGradient><linearGradient id="a18" gradientUnits="userSpaceOnUse" x1="0" y1="-10.6" x2="0" y2="10.6"><stop offset="0" stop-color="#000061"/><stop offset=".062" stop-color="#000061"/><stop offset=".156" stop-color="#000094"/><stop offset=".25" stop-color="#0000bc"/><stop offset=".469" stop-color="#0404ff"/><stop offset=".5" stop-color="#0a0aff"/><stop offset=".594" stop-color="#3030ff"/><stop offset=".625" stop-color="#3838ff"/><stop offset=".656" stop-color="#3636ff"/><stop offset=".75" stop-color="#0d0dff"/><stop offset=".781" stop-color="#0505ff"/><stop offset=".938" stop-color="#0000ff"/><stop offset=".969" stop-color="#0000f3"/><stop offset="1" stop-color="#0000c1"/></linearGradient><linearGradient id="a19" gradientUnits="userSpaceOnUse" x1="0" y1="-10.6" x2="0" y2="10.6"><stop offset="0" stop-color="#000099"/><stop offset=".031" stop-color="#0000d5"/><stop offset=".094" stop-color="#0000f8"/><stop offset=".125" stop-color="#0000ff"/><stop offset=".406" stop-color="#0404ff"/><stop offset=".625" stop-color="#0000ff"/><stop offset=".719" stop-color="#0000ec"/><stop offset=".812" stop-color="#0000cc"/><stop offset=".906" stop-color="#00009d"/><stop offset=".969" stop-color="#00006b"/><stop offset="1" stop-color="#000061"/></linearGradient><linearGradient id="a20" gradientUnits="userSpaceOnUse" x1="0" y1="-10.6" x2="0" y2="10.6"><stop offset="0" stop-color="#c10000"/><stop offset=".031" stop-color="#f50000"/><stop offset=".062" stop-color="#ff0000"/><stop offset=".219" stop-color="#ff0303"/><stop offset=".344" stop-color="#ff1b1b"/><stop offset=".375" stop-color="#ff1b1b"/><stop offset=".531" stop-color="#ff0202"/><stop offset=".625" stop-color="#e90000"/><stop offset=".75" stop-color="#c00000"/><stop offset=".844" stop-color="#960000"/><stop offset=".938" stop-color="#610000"/><stop offset="1" stop-color="#610000"/></linearGradient><linearGradient id="a21" gradientUnits="userSpaceOnUse" x1="0" y1="-10.6" x2="0" y2="10.6"><stop offset="0" stop-color="#610000"/><stop offset=".031" stop-color="#710000"/><stop offset=".094" stop-color="#a20000"/><stop offset=".156" stop-color="#c30000"/><stop offset=".25" stop-color="#e60000"/><stop offset=".344" stop-color="#ff0101"/><stop offset=".406" stop-color="#ff0808"/><stop offset=".438" stop-color="#ff1313"/><stop offset=".531" stop-color="#ff5252"/><stop offset=".562" stop-color="#ff5d5d"/><stop offset=".594" stop-color="#ff5858"/><stop offset=".688" stop-color="#ff1717"/><stop offset=".719" stop-color="#ff0a0a"/><stop offset=".781" stop-color="#ff0101"/><stop offset=".875" stop-color="#ff0000"/><stop offset=".938" stop-color="#e60000"/><stop offset=".969" stop-color="#d00000"/><stop offset="1" stop-color="#940000"/></linearGradient><linearGradient id="a22" gradientUnits="userSpaceOnUse" x1="0" y1="-10.6" x2="0" y2="10.6"><stop offset="0" stop-color="#000061"/><stop offset=".031" stop-color="#000061"/><stop offset=".094" stop-color="#000093"/><stop offset=".188" stop-color="#0000c3"/><stop offset=".281" stop-color="#0000e4"/><stop offset=".375" stop-color="#0000fd"/><stop offset=".469" stop-color="#0a0aff"/><stop offset=".562" stop-color="#2424ff"/><stop offset=".594" stop-color="#2828ff"/><stop offset=".625" stop-color="#2424ff"/><stop offset=".75" stop-color="#0303ff"/><stop offset=".906" stop-color="#0000ff"/><stop offset=".969" stop-color="#0000dd"/><stop offset="1" stop-color="#0000a3"/></linearGradient><linearGradient id="a23" gradientUnits="userSpaceOnUse" x1="0" y1="-10.6" x2="0" y2="10.6"><stop offset="0" stop-color="#0000cf"/><stop offset=".031" stop-color="#0000fe"/><stop offset=".188" stop-color="#0505ff"/><stop offset=".219" stop-color="#0e0eff"/><stop offset=".312" stop-color="#4141ff"/><stop offset=".344" stop-color="#4545ff"/><stop offset=".375" stop-color="#3d3dff"/><stop offset=".469" stop-color="#0e0eff"/><stop offset=".5" stop-color="#0606ff"/><stop offset=".656" stop-color="#0000d2"/><stop offset=".75" stop-color="#0000b0"/><stop offset=".844" stop-color="#000086"/><stop offset=".906" stop-color="#000062"/><stop offset="1" stop-color="#000061"/></linearGradient><linearGradient id="a24" gradientUnits="userSpaceOnUse" x1="0" y1="-10.6" x2="0" y2="10.6"><stop offset="0" stop-color="#0000e6"/><stop offset=".031" stop-color="#0000ff"/><stop offset=".125" stop-color="#0202ff"/><stop offset=".156" stop-color="#0b0bff"/><stop offset=".188" stop-color="#2525ff"/><stop offset=".219" stop-color="#5757ff"/><stop offset=".25" stop-color="#9595ff"/><stop offset=".281" stop-color="#c7c7ff"/><stop offset=".312" stop-color="#d4d4ff"/><stop offset=".344" stop-color="#b8b8ff"/><stop offset=".406" stop-color="#4e4eff"/><stop offset=".438" stop-color="#2727ff"/><stop offset=".469" stop-color="#1010f8"/><stop offset=".5" stop-color="#0505e5"/><stop offset=".562" stop-color="#0000cf"/><stop offset=".719" stop-color="#000099"/><stop offset=".844" stop-color="#000062"/><stop offset="1" stop-color="#000061"/></linearGradient><linearGradient id="a25" gradientUnits="userSpaceOnUse" x1="0" y1="-10.6" x2="0" y2="10.6"><stop offset="0" stop-color="#0000d2"/><stop offset=".031" stop-color="#0000ff"/><stop offset=".156" stop-color="#0303ff"/><stop offset=".188" stop-color="#0c0cff"/><stop offset=".219" stop-color="#2525ff"/><stop offset=".25" stop-color="#5252ff"/><stop offset=".281" stop-color="#8a8aff"/><stop offset=".312" stop-color="#b7b7ff"/><stop offset=".344" stop-color="#c4c4ff"/><stop offset=".375" stop-color="#adadff"/><stop offset=".438" stop-color="#4e4eff"/><stop offset=".469" stop-color="#2828ff"/><stop offset=".5" stop-color="#1111ff"/><stop offset=".531" stop-color="#0606f7"/><stop offset=".594" stop-color="#0000e1"/><stop offset=".75" stop-color="#0000ab"/><stop offset=".906" stop-color="#000061"/><stop offset="1" stop-color="#000061"/></linearGradient><linearGradient id="a26" gradientUnits="userSpaceOnUse" x1="0" y1="-10.6" x2="0" y2="10.6"><stop offset="0" stop-color="#610000"/><stop offset=".031" stop-color="#990000"/><stop offset=".094" stop-color="#c30000"/><stop offset=".188" stop-color="#e70000"/><stop offset=".312" stop-color="#ff0000"/><stop offset=".719" stop-color="#ff0000"/><stop offset=".781" stop-color="#f40000"/><stop offset=".875" stop-color="#d80000"/><stop offset=".938" stop-color="#ba0000"/><stop offset=".969" stop-color="#a20000"/><stop offset="1" stop-color="#660000"/></linearGradient><linearGradient id="a27" gradientUnits="userSpaceOnUse" x1="0" y1="-10.6" x2="0" y2="10.6"><stop offset="0" stop-color="#cb0000"/><stop offset=".031" stop-color="#fa0000"/><stop offset=".062" stop-color="#ff0000"/><stop offset=".156" stop-color="#ff0202"/><stop offset=".188" stop-color="#ff0909"/><stop offset=".219" stop-color="#ff1e1e"/><stop offset=".25" stop-color="#ff4949"/><stop offset=".312" stop-color="#ffbfbf"/><stop offset=".344" stop-color="#ffdede"/><stop offset=".375" stop-color="#ffd4d4"/><stop offset=".406" stop-color="#ffa8a8"/><stop offset=".438" stop-color="#ff6f6f"/><stop offset=".469" stop-color="#ff3e3e"/><stop offset=".5" stop-color="#ff1c1c"/><stop offset=".531" stop-color="#fe0b0b"/><stop offset=".594" stop-color="#e60101"/><stop offset=".781" stop-color="#a50000"/><stop offset=".906" stop-color="#650000"/><stop offset="1" stop-color="#610000"/></linearGradient><linearGradient id="a28" gradientUnits="userSpaceOnUse" x1="0" y1="-10.6" x2="0" y2="10.6"><stop offset="0" stop-color="#000061"/><stop offset=".031" stop-color="#000061"/><stop offset=".125" stop-color="#00009c"/><stop offset=".219" stop-color="#0000c7"/><stop offset=".312" stop-color="#0000e7"/><stop offset=".406" stop-color="#0303ff"/><stop offset=".438" stop-color="#0a0aff"/><stop offset=".469" stop-color="#1818ff"/><stop offset=".5" stop-color="#2f2fff"/><stop offset=".562" stop-color="#6a6aff"/><stop offset=".594" stop-color="#7979ff"/><stop offset=".625" stop-color="#7474ff"/><stop offset=".656" stop-color="#5c5cff"/><stop offset=".719" stop-color="#1e1eff"/><stop offset=".75" stop-color="#0c0cff"/><stop offset=".812" stop-color="#0101ff"/><stop offset=".906" stop-color="#0000ff"/><stop offset=".938" stop-color="#0000f7"/><stop offset=".969" stop-color="#0000e4"/><stop offset="1" stop-color="#0000ac"/></linearGradient><linearGradient id="a29" gradientUnits="userSpaceOnUse" x1="0" y1="-10.6" x2="0" y2="10.6"><stop offset="0" stop-color="#0000c0"/><stop offset=".031" stop-color="#0000f4"/><stop offset=".062" stop-color="#0000ff"/><stop offset=".219" stop-color="#0202ff"/><stop offset=".344" stop-color="#1616ff"/><stop offset=".531" stop-color="#0101ff"/><stop offset=".625" stop-color="#0000e9"/><stop offset=".75" stop-color="#0000c1"/><stop offset=".844" stop-color="#000098"/><stop offset=".938" stop-color="#000061"/><stop offset="1" stop-color="#000061"/></linearGradient><linearGradient id="a30" gradientUnits="userSpaceOnUse" x1="0" y1="-10.6" x2="0" y2="10.6"><stop offset="0" stop-color="#000064"/><stop offset=".031" stop-color="#00009a"/><stop offset=".094" stop-color="#0000bf"/><stop offset=".156" stop-color="#0000d5"/><stop offset=".312" stop-color="#0000f4"/><stop offset=".5" stop-color="#0000fe"/><stop offset=".688" stop-color="#0000f1"/><stop offset=".844" stop-color="#0000d1"/><stop offset=".906" stop-color="#0000ba"/><stop offset=".969" stop-color="#000095"/><stop offset="1" stop-color="#000061"/></linearGradient><linearGradient id="a31" gradientUnits="userSpaceOnUse" x1="0" y1="-10.6" x2="0" y2="10.6"><stop offset="0" stop-color="#0000d8"/><stop offset=".031" stop-color="#0000ff"/><stop offset=".125" stop-color="#0101ff"/><stop offset=".156" stop-color="#0404ff"/><stop offset=".188" stop-color="#1313ff"/><stop offset=".219" stop-color="#3535ff"/><stop offset=".281" stop-color="#adadff"/><stop offset=".312" stop-color="#d8d8ff"/><stop offset=".344" stop-color="#dbdbff"/><stop offset=".375" stop-color="#b7b7ff"/><stop offset=".438" stop-color="#4a4aff"/><stop offset=".469" stop-color="#2323ff"/><stop offset=".5" stop-color="#0e0efd"/><stop offset=".562" stop-color="#0101e0"/><stop offset=".75" stop-color="#0000a0"/><stop offset=".875" stop-color="#000065"/><stop offset="1" stop-color="#000061"/></linearGradient><linearGradient id="a32" gradientUnits="userSpaceOnUse" x1="0" y1="-10.6" x2="0" y2="10.6"><stop offset="0" stop-color="#db0000"/><stop offset=".031" stop-color="#ff0000"/><stop offset=".125" stop-color="#ff0101"/><stop offset=".156" stop-color="#ff0505"/><stop offset=".188" stop-color="#ff1515"/><stop offset=".219" stop-color="#ff3a3a"/><stop offset=".281" stop-color="#ffaeae"/><stop offset=".312" stop-color="#ffd2d2"/><stop offset=".344" stop-color="#ffcdcd"/><stop offset=".375" stop-color="#ffa6a6"/><stop offset=".438" stop-color="#ff3e3e"/><stop offset=".469" stop-color="#ff1d1d"/><stop offset=".5" stop-color="#fb0b0b"/><stop offset=".562" stop-color="#e00101"/><stop offset=".75" stop-color="#a00000"/><stop offset=".875" stop-color="#640000"/><stop offset="1" stop-color="#610000"/></linearGradient><linearGradient id="a33" gradientUnits="userSpaceOnUse" x1="0" y1="-10.6" x2="0" y2="10.6"><stop offset="0" stop-color="#0000dc"/><stop offset=".031" stop-color="#0000ff"/><stop offset=".125" stop-color="#0000ff"/><stop offset=".188" stop-color="#0909ff"/><stop offset=".219" stop-color="#1717ff"/><stop offset=".281" stop-color="#4040ff"/><stop offset=".312" stop-color="#4a4aff"/><stop offset=".344" stop-color="#4646ff"/><stop offset=".438" stop-color="#1313ff"/><stop offset=".469" stop-color="#0909ee"/><stop offset=".531" stop-color="#0101d7"/><stop offset=".719" stop-color="#00009c"/><stop offset=".844" stop-color="#000067"/><stop offset=".875" stop-color="#000061"/><stop offset="1" stop-color="#000061"/></linearGradient><linearGradient id="a34" gradientUnits="userSpaceOnUse" x1="0" y1="-10.6" x2="0" y2="10.6"><stop offset="0" stop-color="#0000ca"/><stop offset=".5" stop-color="#000065"/><stop offset="1" stop-color="#000061"/></linearGradient><linearGradient id="a35" gradientUnits="userSpaceOnUse" x1="0" y1="-10.6" x2="0" y2="10.6"><stop offset="0" stop-color="#0000e0"/><stop offset=".031" stop-color="#0000ff"/><stop offset=".125" stop-color="#0101ff"/><stop offset=".156" stop-color="#0808ff"/><stop offset=".188" stop-color="#1e1eff"/><stop offset=".219" stop-color="#4c4cff"/><stop offset=".281" stop-color="#c6c6ff"/><stop offset=".312" stop-color="#e0e0ff"/><stop offset=".344" stop-color="#ceceff"/><stop offset=".375" stop-color="#9c9cff"/><stop offset=".406" stop-color="#6363ff"/><stop offset=".438" stop-color="#3434ff"/><stop offset=".469" stop-color="#1717ff"/><stop offset=".5" stop-color="#0808f1"/><stop offset=".562" stop-color="#0101d8"/><stop offset=".719" stop-color="#0000a3"/><stop offset=".875" stop-color="#000061"/><stop offset="1" stop-color="#000061"/></linearGradient><linearGradient id="a36" gradientUnits="userSpaceOnUse" x1="0" y1="-10.6" x2="0" y2="10.6"><stop offset="0" stop-color="#000061"/><stop offset=".031" stop-color="#000071"/><stop offset=".094" stop-color="#0000a2"/><stop offset=".188" stop-color="#0000d0"/><stop offset=".312" stop-color="#0000f9"/><stop offset=".375" stop-color="#0707ff"/><stop offset=".406" stop-color="#1414ff"/><stop offset=".438" stop-color="#2f2fff"/><stop offset=".469" stop-color="#5a5aff"/><stop offset=".531" stop-color="#c4c4ff"/><stop offset=".562" stop-color="#ddddff"/><stop offset=".594" stop-color="#d0d0ff"/><stop offset=".625" stop-color="#a3a3ff"/><stop offset=".656" stop-color="#6969ff"/><stop offset=".688" stop-color="#3737ff"/><stop offset=".719" stop-color="#1616ff"/><stop offset=".75" stop-color="#0707ff"/><stop offset=".781" stop-color="#0202ff"/><stop offset=".875" stop-color="#0000ff"/><stop offset=".906" stop-color="#0000f6"/><stop offset=".969" stop-color="#0000d1"/><stop offset="1" stop-color="#000094"/></linearGradient><linearGradient id="a37" gradientUnits="userSpaceOnUse" x1="0" y1="-10.6" x2="0" y2="10.6"><stop offset="0" stop-color="#e10000"/><stop offset=".031" stop-color="#e90000"/><stop offset=".062" stop-color="#e80000"/><stop offset=".219" stop-color="#d00000"/><stop offset=".406" stop-color="#a80000"/><stop offset=".688" stop-color="#610000"/><stop offset="1" stop-color="#610000"/></linearGradient><linearGradient id="a38" gradientUnits="userSpaceOnUse" x1="0" y1="-10.6" x2="0" y2="10.6"><stop offset="0" stop-color="#df0000"/><stop offset=".031" stop-color="#e10000"/><stop offset=".156" stop-color="#cd0000"/><stop offset=".625" stop-color="#610000"/><stop offset="1" stop-color="#610000"/></linearGradient><linearGradient id="a39" gradientUnits="userSpaceOnUse" x1="0" y1="-10.6" x2="0" y2="10.6"><stop offset="0" stop-color="#000061"/><stop offset=".062" stop-color="#000064"/><stop offset=".125" stop-color="#00008e"/><stop offset=".219" stop-color="#0000ba"/><stop offset=".375" stop-color="#0000ef"/><stop offset=".438" stop-color="#0707ff"/><stop offset=".469" stop-color="#1313ff"/><stop offset=".5" stop-color="#2a2aff"/><stop offset=".594" stop-color="#9d9dff"/><stop offset=".625" stop-color="#aaaaff"/><stop offset=".656" stop-color="#9898ff"/><stop offset=".719" stop-color="#4141ff"/><stop offset=".75" stop-color="#1e1eff"/><stop offset=".781" stop-color="#0a0aff"/><stop offset=".844" stop-color="#0000ff"/><stop offset=".938" stop-color="#0000ff"/><stop offset=".969" stop-color="#0000f0"/><stop offset="1" stop-color="#0000ba"/></linearGradient><linearGradient id="a40" gradientUnits="userSpaceOnUse" x1="0" y1="-10.6" x2="0" y2="10.6"><stop offset="0" stop-color="#000061"/><stop offset=".094" stop-color="#000064"/><stop offset=".188" stop-color="#000095"/><stop offset=".281" stop-color="#0000ba"/><stop offset=".406" stop-color="#0000e0"/><stop offset=".531" stop-color="#0101fd"/><stop offset=".938" stop-color="#0000ff"/><stop offset=".969" stop-color="#0000f6"/><stop offset="1" stop-color="#0000c8"/></linearGradient><linearGradient id="a41" gradientUnits="userSpaceOnUse" x1="0" y1="-10.6" x2="0" y2="10.6"><stop offset="0" stop-color="#c70000"/><stop offset=".031" stop-color="#d60000"/><stop offset=".062" stop-color="#d80000"/><stop offset=".188" stop-color="#d00000"/><stop offset=".469" stop-color="#a40000"/><stop offset=".75" stop-color="#630000"/><stop offset="1" stop-color="#610000"/></linearGradient><linearGradient id="a42" gradientUnits="userSpaceOnUse" x1="0" y1="-10.6" x2="0" y2="10.6"><stop offset="0" stop-color="#0000e9"/><stop offset=".031" stop-color="#0000ff"/><stop offset=".125" stop-color="#0202ff"/><stop offset=".156" stop-color="#0b0bff"/><stop offset=".188" stop-color="#2424ff"/><stop offset=".219" stop-color="#5050ff"/><stop offset=".25" stop-color="#8383ff"/><stop offset=".281" stop-color="#a7a7ff"/><stop offset=".312" stop-color="#aaaaff"/><stop offset=".344" stop-color="#8e8eff"/><stop offset=".406" stop-color="#3838ff"/><stop offset=".438" stop-color="#1a1aff"/><stop offset=".469" stop-color="#0a0aed"/><stop offset=".531" stop-color="#0101d2"/><stop offset=".688" stop-color="#00009e"/><stop offset=".844" stop-color="#000061"/><stop offset="1" stop-color="#000061"/></linearGradient><linearGradient id="a43" gradientUnits="userSpaceOnUse" x1="0" y1="-10.6" x2="0" y2="10.6"><stop offset="0" stop-color="#0000ee"/><stop offset=".031" stop-color="#0000fd"/><stop offset=".062" stop-color="#0000fe"/><stop offset=".219" stop-color="#0000eb"/><stop offset=".469" stop-color="#0000b1"/><stop offset=".719" stop-color="#000065"/><stop offset="1" stop-color="#000061"/></linearGradient><linearGradient id="a44" gradientUnits="userSpaceOnUse" x1="0" y1="-10.6" x2="0" y2="10.6"><stop offset="0" stop-color="#000061"/><stop offset=".031" stop-color="#000061"/><stop offset=".062" stop-color="#00006f"/><stop offset=".125" stop-color="#000098"/><stop offset=".219" stop-color="#0000c4"/><stop offset=".406" stop-color="#0101fe"/><stop offset=".469" stop-color="#0a0aff"/><stop offset=".594" stop-color="#4242ff"/><stop offset=".625" stop-color="#4343ff"/><stop offset=".656" stop-color="#3838ff"/><stop offset=".719" stop-color="#1515ff"/><stop offset=".75" stop-color="#0909ff"/><stop offset=".812" stop-color="#0101ff"/><stop offset=".938" stop-color="#0000fb"/><stop offset=".969" stop-color="#0000e8"/><stop offset="1" stop-color="#0000b1"/></linearGradient><linearGradient id="a45" gradientUnits="userSpaceOnUse" x1="0" y1="-10.6" x2="0" y2="10.6"><stop offset="0" stop-color="#610000"/><stop offset=".031" stop-color="#610000"/><stop offset=".125" stop-color="#990000"/><stop offset=".219" stop-color="#c40000"/><stop offset=".406" stop-color="#ff0303"/><stop offset=".469" stop-color="#ff1414"/><stop offset=".5" stop-color="#ff2929"/><stop offset=".562" stop-color="#ff6060"/><stop offset=".594" stop-color="#ff7171"/><stop offset=".625" stop-color="#ff6e6e"/><stop offset=".656" stop-color="#ff5959"/><stop offset=".719" stop-color="#ff1f1f"/><stop offset=".75" stop-color="#ff0c0c"/><stop offset=".812" stop-color="#ff0101"/><stop offset=".906" stop-color="#ff0000"/><stop offset=".938" stop-color="#f90000"/><stop offset=".969" stop-color="#e60000"/><stop offset="1" stop-color="#ae0000"/></linearGradient><linearGradient id="a46" gradientUnits="userSpaceOnUse" x1="0" y1="-10.6" x2="0" y2="10.6"><stop offset="0" stop-color="#610000"/><stop offset=".031" stop-color="#710000"/><stop offset=".094" stop-color="#a30000"/><stop offset=".188" stop-color="#d00000"/><stop offset=".312" stop-color="#f80000"/><stop offset=".375" stop-color="#ff0505"/><stop offset=".406" stop-color="#ff1010"/><stop offset=".438" stop-color="#ff2525"/><stop offset=".469" stop-color="#ff4848"/><stop offset=".531" stop-color="#ff9c9c"/><stop offset=".562" stop-color="#ffafaf"/><stop offset=".594" stop-color="#ffa5a5"/><stop offset=".625" stop-color="#ff8181"/><stop offset=".688" stop-color="#ff2b2b"/><stop offset=".719" stop-color="#ff1212"/><stop offset=".75" stop-color="#ff0505"/><stop offset=".781" stop-color="#ff0101"/><stop offset=".875" stop-color="#ff0000"/><stop offset=".906" stop-color="#f60000"/><stop offset=".969" stop-color="#d10000"/><stop offset="1" stop-color="#940000"/></linearGradient><linearGradient id="a47" gradientUnits="userSpaceOnUse" x1="0" y1="-10.6" x2="0" y2="10.6"><stop offset="0" stop-color="#000061"/><stop offset=".031" stop-color="#000061"/><stop offset=".125" stop-color="#00009c"/><stop offset=".219" stop-color="#0000c5"/><stop offset=".344" stop-color="#0000ec"/><stop offset=".438" stop-color="#0000ff"/><stop offset=".594" stop-color="#0404ff"/><stop offset=".906" stop-color="#0000fc"/><stop offset=".969" stop-color="#0000dd"/><stop offset="1" stop-color="#0000a7"/></linearGradient><linearGradient id="a48" gradientUnits="userSpaceOnUse" x1="0" y1="-10.6" x2="0" y2="10.6"><stop offset="0" stop-color="#610000"/><stop offset=".031" stop-color="#610000"/><stop offset=".062" stop-color="#6a0000"/><stop offset=".156" stop-color="#a30000"/><stop offset=".25" stop-color="#cb0000"/><stop offset=".344" stop-color="#e90000"/><stop offset=".438" stop-color="#ff0404"/><stop offset=".5" stop-color="#ff1515"/><stop offset=".594" stop-color="#ff4a4a"/><stop offset=".625" stop-color="#ff4e4e"/><stop offset=".656" stop-color="#ff4444"/><stop offset=".75" stop-color="#ff0c0c"/><stop offset=".781" stop-color="#ff0404"/><stop offset=".938" stop-color="#fe0000"/><stop offset=".969" stop-color="#ec0000"/><stop offset="1" stop-color="#b60000"/></linearGradient><linearGradient id="a49" gradientUnits="userSpaceOnUse" x1="0" y1="-10.6" x2="0" y2="10.6"><stop offset="0" stop-color="#d10000"/><stop offset=".031" stop-color="#ff0000"/><stop offset=".156" stop-color="#ff0202"/><stop offset=".188" stop-color="#ff0a0a"/><stop offset=".219" stop-color="#ff1d1d"/><stop offset=".25" stop-color="#ff3f3f"/><stop offset=".281" stop-color="#ff6868"/><stop offset=".312" stop-color="#ff8989"/><stop offset=".344" stop-color="#ff9191"/><stop offset=".375" stop-color="#ff7f7f"/><stop offset=".438" stop-color="#ff3838"/><stop offset=".469" stop-color="#ff1c1c"/><stop offset=".5" stop-color="#ff0c0c"/><stop offset=".531" stop-color="#f60404"/><stop offset=".75" stop-color="#ac0000"/><stop offset=".906" stop-color="#610000"/><stop offset="1" stop-color="#610000"/></linearGradient><linearGradient id="a50" gradientUnits="userSpaceOnUse" x1="0" y1="-10.6" x2="0" y2="10.6"><stop offset="0" stop-color="#610000"/><stop offset=".094" stop-color="#610000"/><stop offset=".188" stop-color="#930000"/><stop offset=".281" stop-color="#b90000"/><stop offset=".5" stop-color="#fb0303"/><stop offset=".531" stop-color="#ff0808"/><stop offset=".656" stop-color="#ff2222"/><stop offset=".812" stop-color="#ff0202"/><stop offset=".969" stop-color="#fc0000"/><stop offset="1" stop-color="#ce0000"/></linearGradient><linearGradient id="a51" gradientUnits="userSpaceOnUse" x1="0" y1="-10.6" x2="0" y2="10.6"><stop offset="0" stop-color="#610000"/><stop offset=".031" stop-color="#710000"/><stop offset=".094" stop-color="#a20000"/><stop offset=".188" stop-color="#d00000"/><stop offset=".312" stop-color="#f90000"/><stop offset=".375" stop-color="#ff0606"/><stop offset=".406" stop-color="#ff1313"/><stop offset=".438" stop-color="#ff2c2c"/><stop offset=".469" stop-color="#ff5555"/><stop offset=".531" stop-color="#ffb9b9"/><stop offset=".562" stop-color="#ffd0d0"/><stop offset=".594" stop-color="#ffc4c4"/><stop offset=".625" stop-color="#ff9a9a"/><stop offset=".656" stop-color="#ff6363"/><stop offset=".688" stop-color="#ff3434"/><stop offset=".719" stop-color="#ff1515"/><stop offset=".75" stop-color="#ff0707"/><stop offset=".781" stop-color="#ff0101"/><stop offset=".875" stop-color="#ff0000"/><stop offset=".906" stop-color="#f60000"/><stop offset=".969" stop-color="#d10000"/><stop offset="1" stop-color="#940000"/></linearGradient><linearGradient id="a52" gradientUnits="userSpaceOnUse" x1="0" y1="-10.6" x2="0" y2="10.6"><stop offset="0" stop-color="#610000"/><stop offset=".031" stop-color="#610000"/><stop offset=".125" stop-color="#a20000"/><stop offset=".219" stop-color="#cd0000"/><stop offset=".344" stop-color="#f40000"/><stop offset=".406" stop-color="#ff0202"/><stop offset=".469" stop-color="#ff1010"/><stop offset=".562" stop-color="#ff3e3e"/><stop offset=".594" stop-color="#ff4545"/><stop offset=".625" stop-color="#ff4040"/><stop offset=".719" stop-color="#ff0f0f"/><stop offset=".75" stop-color="#ff0606"/><stop offset=".906" stop-color="#ff0000"/><stop offset=".938" stop-color="#f40000"/><stop offset=".969" stop-color="#e00000"/><stop offset="1" stop-color="#a60000"/></linearGradient><linearGradient id="a53" gradientUnits="userSpaceOnUse" x1="0" y1="-10.6" x2="0" y2="10.6"><stop offset="0" stop-color="#950000"/><stop offset=".031" stop-color="#d10000"/><stop offset=".062" stop-color="#e70000"/><stop offset=".125" stop-color="#ff0000"/><stop offset=".406" stop-color="#ff0505"/><stop offset=".656" stop-color="#fe0000"/><stop offset=".75" stop-color="#e60000"/><stop offset=".844" stop-color="#c20000"/><stop offset=".906" stop-color="#a20000"/><stop offset=".969" stop-color="#700000"/><stop offset="1" stop-color="#610000"/></linearGradient><linearGradient id="a54" gradientUnits="userSpaceOnUse" x1="0" y1="-10.6" x2="0" y2="10.6"><stop offset="0" stop-color="#000061"/><stop offset=".062" stop-color="#000099"/><stop offset=".125" stop-color="#0000bf"/><stop offset=".219" stop-color="#0000e5"/><stop offset=".312" stop-color="#0000ff"/><stop offset=".562" stop-color="#0a0aff"/><stop offset=".719" stop-color="#0101ff"/><stop offset=".844" stop-color="#0000ff"/><stop offset=".875" stop-color="#0000fa"/><stop offset=".938" stop-color="#0000de"/><stop offset=".969" stop-color="#0000c7"/><stop offset="1" stop-color="#000088"/></linearGradient><linearGradient id="a55" gradientUnits="userSpaceOnUse" x1="0" y1="-10.6" x2="0" y2="10.6"><stop offset="0" stop-color="#c20000"/><stop offset=".031" stop-color="#e30000"/><stop offset=".094" stop-color="#f20000"/><stop offset=".188" stop-color="#f60000"/><stop offset=".312" stop-color="#ef0000"/><stop offset=".469" stop-color="#d90000"/><stop offset=".625" stop-color="#b70000"/><stop offset=".75" stop-color="#930000"/><stop offset=".875" stop-color="#640000"/><stop offset="1" stop-color="#610000"/></linearGradient><linearGradient id="a56" gradientUnits="userSpaceOnUse" x1="0" y1="-10.6" x2="0" y2="10.6"><stop offset="0" stop-color="#000061"/><stop offset=".031" stop-color="#000097"/><stop offset=".094" stop-color="#0000c3"/><stop offset=".156" stop-color="#0000df"/><stop offset=".219" stop-color="#0000f2"/><stop offset=".312" stop-color="#0000ff"/><stop offset=".75" stop-color="#0000ff"/><stop offset=".812" stop-color="#0000f7"/><stop offset=".875" stop-color="#0000e2"/><stop offset=".938" stop-color="#0000c3"/><stop offset=".969" stop-color="#0000ab"/><stop offset="1" stop-color="#00006c"/></linearGradient><linearGradient id="a57" gradientUnits="userSpaceOnUse" x1="0" y1="-10.6" x2="0" y2="10.6"><stop offset="0" stop-color="#610000"/><stop offset=".062" stop-color="#610000"/><stop offset=".094" stop-color="#660000"/><stop offset=".156" stop-color="#8a0000"/><stop offset=".25" stop-color="#b40000"/><stop offset=".406" stop-color="#e80101"/><stop offset=".469" stop-color="#ff0b0b"/><stop offset=".5" stop-color="#ff1d1d"/><stop offset=".531" stop-color="#ff3f3f"/><stop offset=".594" stop-color="#ffa6a6"/><stop offset=".625" stop-color="#ffcfcf"/><stop offset=".656" stop-color="#ffd5d5"/><stop offset=".688" stop-color="#ffb4b4"/><stop offset=".75" stop-color="#ff4242"/><stop offset=".781" stop-color="#ff1b1b"/><stop offset=".812" stop-color="#ff0808"/><stop offset=".844" stop-color="#ff0101"/><stop offset=".969" stop-color="#fb0000"/><stop offset="1" stop-color="#cb0000"/></linearGradient><linearGradient id="a58" gradientUnits="userSpaceOnUse" x1="0" y1="-10.6" x2="0" y2="10.6"><stop offset="0" stop-color="#610000"/><stop offset=".031" stop-color="#730000"/><stop offset=".094" stop-color="#a40000"/><stop offset=".156" stop-color="#c40000"/><stop offset=".25" stop-color="#e60000"/><stop offset=".344" stop-color="#ff0000"/><stop offset=".438" stop-color="#ff0909"/><stop offset=".531" stop-color="#ff2424"/><stop offset=".562" stop-color="#ff2828"/><stop offset=".594" stop-color="#ff2525"/><stop offset=".719" stop-color="#ff0404"/><stop offset=".875" stop-color="#fe0000"/><stop offset=".938" stop-color="#e30000"/><stop offset=".969" stop-color="#ce0000"/><stop offset="1" stop-color="#910000"/></linearGradient><linearGradient id="a59" gradientUnits="userSpaceOnUse" x1="0" y1="-10.6" x2="0" y2="10.6"><stop offset="0" stop-color="#dd0000"/><stop offset=".031" stop-color="#ff0000"/><stop offset=".125" stop-color="#ff0101"/><stop offset=".156" stop-color="#ff0505"/><stop offset=".188" stop-color="#ff1414"/><stop offset=".219" stop-color="#ff3333"/><stop offset=".281" stop-color="#ff8a8a"/><stop offset=".312" stop-color="#ffa0a0"/><stop offset=".344" stop-color="#ff9696"/><stop offset=".438" stop-color="#ff2828"/><stop offset=".469" stop-color="#ff1212"/><stop offset=".5" stop-color="#f60707"/><stop offset=".562" stop-color="#df0000"/><stop offset=".719" stop-color="#aa0000"/><stop offset=".875" stop-color="#620000"/><stop offset="1" stop-color="#610000"/></linearGradient><linearGradient id="a60" gradientUnits="userSpaceOnUse" x1="0" y1="-10.6" x2="0" y2="10.6"><stop offset="0" stop-color="#0000b9"/><stop offset=".031" stop-color="#0000e1"/><stop offset=".094" stop-color="#0000f5"/><stop offset=".188" stop-color="#0000fd"/><stop offset=".344" stop-color="#0000f9"/><stop offset=".469" stop-color="#0000e9"/><stop offset=".594" stop-color="#0000d1"/><stop offset=".781" stop-color="#00009c"/><stop offset=".906" stop-color="#000066"/><stop offset="1" stop-color="#000061"/></linearGradient><linearGradient id="a61" gradientUnits="userSpaceOnUse" x1="0" y1="-10.6" x2="0" y2="10.6"><stop offset="0" stop-color="#e50000"/><stop offset=".031" stop-color="#ff0000"/><stop offset=".125" stop-color="#ff0101"/><stop offset=".156" stop-color="#ff0707"/><stop offset=".188" stop-color="#ff1717"/><stop offset=".281" stop-color="#ff7e7e"/><stop offset=".312" stop-color="#ff8686"/><stop offset=".344" stop-color="#ff7474"/><stop offset=".406" stop-color="#ff3232"/><stop offset=".438" stop-color="#ff1919"/><stop offset=".469" stop-color="#ee0a0a"/><stop offset=".5" stop-color="#df0303"/><stop offset=".688" stop-color="#a10000"/><stop offset=".844" stop-color="#610000"/><stop offset="1" stop-color="#610000"/></linearGradient><linearGradient id="a62" gradientUnits="userSpaceOnUse" x1="0" y1="-10.6" x2="0" y2="10.6"><stop offset="0" stop-color="#610000"/><stop offset=".062" stop-color="#610000"/><stop offset=".125" stop-color="#890000"/><stop offset=".219" stop-color="#b60000"/><stop offset=".375" stop-color="#eb0101"/><stop offset=".438" stop-color="#ff0808"/><stop offset=".469" stop-color="#ff1616"/><stop offset=".5" stop-color="#ff3333"/><stop offset=".531" stop-color="#ff6161"/><stop offset=".594" stop-color="#ffcdcd"/><stop offset=".625" stop-color="#ffe3e3"/><stop offset=".656" stop-color="#ffd1d1"/><stop offset=".688" stop-color="#ff9d9d"/><stop offset=".719" stop-color="#ff5f5f"/><stop offset=".75" stop-color="#ff2d2d"/><stop offset=".781" stop-color="#ff1010"/><stop offset=".812" stop-color="#ff0404"/><stop offset=".844" stop-color="#ff0101"/><stop offset=".938" stop-color="#ff0000"/><stop offset=".969" stop-color="#f30000"/><stop offset="1" stop-color="#be0000"/></linearGradient><linearGradient id="a63" gradientUnits="userSpaceOnUse" x1="0" y1="-10.6" x2="0" y2="10.6"><stop offset="0" stop-color="#000061"/><stop offset=".031" stop-color="#000063"/><stop offset=".094" stop-color="#000091"/><stop offset=".219" stop-color="#0000c7"/><stop offset=".344" stop-color="#0000e9"/><stop offset=".469" stop-color="#0000fe"/><stop offset=".812" stop-color="#0000ff"/><stop offset=".875" stop-color="#0000f7"/><stop offset=".938" stop-color="#0000e2"/><stop offset=".969" stop-color="#0000cf"/><stop offset="1" stop-color="#00009a"/></linearGradient><linearGradient id="a64" gradientUnits="userSpaceOnUse" x1="0" y1="-10.6" x2="0" y2="10.6"><stop offset="0" stop-color="#0000ed"/><stop offset=".031" stop-color="#0000ff"/><stop offset=".156" stop-color="#0505ff"/><stop offset=".25" stop-color="#2c2cff"/><stop offset=".281" stop-color="#3333ff"/><stop offset=".312" stop-color="#3030ff"/><stop offset=".375" stop-color="#1717ff"/><stop offset=".406" stop-color="#0c0cf2"/><stop offset=".469" stop-color="#0202d7"/><stop offset=".656" stop-color="#00009c"/><stop offset=".812" stop-color="#000061"/><stop offset="1" stop-color="#000061"/></linearGradient><linearGradient id="a65" gradientUnits="userSpaceOnUse" x1="0" y1="-10.6" x2="0" y2="10.6"><stop offset="0" stop-color="#000085"/><stop offset=".031" stop-color="#0000b6"/><stop offset=".062" stop-color="#0000c8"/><stop offset=".125" stop-color="#0000dd"/><stop offset=".188" stop-color="#0000ea"/><stop offset=".281" stop-color="#0000f4"/><stop offset=".438" stop-color="#0000f7"/><stop offset=".625" stop-color="#0000e5"/><stop offset=".781" stop-color="#0000c5"/><stop offset=".906" stop-color="#000099"/><stop offset="1" stop-color="#000061"/></linearGradient><linearGradient id="a66" gradientUnits="userSpaceOnUse" x1="0" y1="-10.6" x2="0" y2="10.6"><stop offset="0" stop-color="#c90000"/><stop offset=".031" stop-color="#fa0000"/><stop offset=".062" stop-color="#ff0000"/><stop offset=".156" stop-color="#ff0000"/><stop offset=".219" stop-color="#ff0707"/><stop offset=".312" stop-color="#ff2626"/><stop offset=".344" stop-color="#ff2b2b"/><stop offset=".375" stop-color="#ff2828"/><stop offset=".469" stop-color="#ff0b0b"/><stop offset=".531" stop-color="#fc0202"/><stop offset=".656" stop-color="#d90000"/><stop offset=".75" stop-color="#b80000"/><stop offset=".844" stop-color="#8e0000"/><stop offset=".906" stop-color="#6a0000"/><stop offset=".938" stop-color="#610000"/><stop offset="1" stop-color="#610000"/></linearGradient><linearGradient id="a67" gradientUnits="userSpaceOnUse" x1="0" y1="-10.6" x2="0" y2="10.6"><stop offset="0" stop-color="#da0000"/><stop offset=".031" stop-color="#f20000"/><stop offset=".062" stop-color="#f60000"/><stop offset=".125" stop-color="#f70000"/><stop offset=".219" stop-color="#f00000"/><stop offset=".344" stop-color="#dd0000"/><stop offset=".5" stop-color="#bb0000"/><stop offset=".812" stop-color="#610000"/><stop offset="1" stop-color="#610000"/></linearGradient><linearGradient id="a68" gradientUnits="userSpaceOnUse" x1="0" y1="-10.6" x2="0" y2="10.6"><stop offset="0" stop-color="#000061"/><stop offset=".062" stop-color="#000061"/><stop offset=".156" stop-color="#000096"/><stop offset=".219" stop-color="#0000b3"/><stop offset=".375" stop-color="#0000e8"/><stop offset=".438" stop-color="#0505fd"/><stop offset=".469" stop-color="#1010ff"/><stop offset=".5" stop-color="#2525ff"/><stop offset=".531" stop-color="#4848ff"/><stop offset=".594" stop-color="#9f9fff"/><stop offset=".625" stop-color="#b4b4ff"/><stop offset=".656" stop-color="#a9a9ff"/><stop offset=".688" stop-color="#8282ff"/><stop offset=".719" stop-color="#5050ff"/><stop offset=".75" stop-color="#2727ff"/><stop offset=".781" stop-color="#0e0eff"/><stop offset=".812" stop-color="#0404ff"/><stop offset=".844" stop-color="#0101ff"/><stop offset=".938" stop-color="#0000ff"/><stop offset=".969" stop-color="#0000f4"/><stop offset="1" stop-color="#0000c1"/></linearGradient><linearGradient id="a69" gradientUnits="userSpaceOnUse" x1="0" y1="-10.6" x2="0" y2="10.6"><stop offset="0" stop-color="#610000"/><stop offset=".062" stop-color="#620000"/><stop offset=".156" stop-color="#970000"/><stop offset=".25" stop-color="#bd0000"/><stop offset=".375" stop-color="#e40000"/><stop offset=".5" stop-color="#fe0000"/><stop offset=".906" stop-color="#fe0000"/><stop offset=".938" stop-color="#fa0000"/><stop offset=".969" stop-color="#ea0000"/><stop offset="1" stop-color="#b90000"/></linearGradient><linearGradient id="a70" gradientUnits="userSpaceOnUse" x1="0" y1="-10.6" x2="0" y2="10.6"><stop offset="0" stop-color="#0000d5"/><stop offset=".031" stop-color="#0000ff"/><stop offset=".125" stop-color="#0000ff"/><stop offset=".188" stop-color="#0909ff"/><stop offset=".219" stop-color="#1a1aff"/><stop offset=".281" stop-color="#5555ff"/><stop offset=".312" stop-color="#6a6aff"/><stop offset=".344" stop-color="#6b6bff"/><stop offset=".375" stop-color="#5959ff"/><stop offset=".438" stop-color="#2424ff"/><stop offset=".469" stop-color="#1111ff"/><stop offset=".5" stop-color="#0707fe"/><stop offset=".562" stop-color="#0101e8"/><stop offset=".719" stop-color="#0000b5"/><stop offset=".906" stop-color="#000061"/><stop offset="1" stop-color="#000061"/></linearGradient><linearGradient id="a71" gradientUnits="userSpaceOnUse" x1="0" y1="-10.6" x2="0" y2="10.6"><stop offset="0" stop-color="#910000"/><stop offset=".031" stop-color="#bf0000"/><stop offset=".062" stop-color="#d00000"/><stop offset=".125" stop-color="#e20000"/><stop offset=".25" stop-color="#f30000"/><stop offset=".406" stop-color="#f40000"/><stop offset=".594" stop-color="#e20000"/><stop offset=".75" stop-color="#c20000"/><stop offset=".875" stop-color="#9a0000"/><stop offset=".938" stop-color="#7b0000"/><stop offset=".969" stop-color="#650000"/><stop offset="1" stop-color="#610000"/></linearGradient><linearGradient id="a72" gradientUnits="userSpaceOnUse" x1="0" y1="-10.6" x2="0" y2="10.6"><stop offset="0" stop-color="#000073"/><stop offset=".031" stop-color="#0000b3"/><stop offset=".062" stop-color="#0000cc"/><stop offset=".125" stop-color="#0000eb"/><stop offset=".188" stop-color="#0000fd"/><stop offset=".469" stop-color="#0404ff"/><stop offset=".719" stop-color="#0000ff"/><stop offset=".812" stop-color="#0000e9"/><stop offset=".906" stop-color="#0000c0"/><stop offset=".938" stop-color="#0000ac"/><stop offset=".969" stop-color="#000091"/><stop offset="1" stop-color="#000061"/></linearGradient><linearGradient id="a73" gradientUnits="userSpaceOnUse" x1="0" y1="-10.6" x2="0" y2="10.6"><stop offset="0" stop-color="#d20000"/><stop offset=".031" stop-color="#fa0000"/><stop offset=".062" stop-color="#ff0000"/><stop offset=".188" stop-color="#ff0606"/><stop offset=".219" stop-color="#ff1212"/><stop offset=".312" stop-color="#ff5454"/><stop offset=".344" stop-color="#ff5858"/><stop offset=".375" stop-color="#ff4d4d"/><stop offset=".469" stop-color="#ff1111"/><stop offset=".5" stop-color="#ef0707"/><stop offset=".562" stop-color="#d90101"/><stop offset=".75" stop-color="#9d0000"/><stop offset=".875" stop-color="#650000"/><stop offset="1" stop-color="#610000"/></linearGradient><linearGradient id="a74" gradientUnits="userSpaceOnUse" x1="0" y1="-10.6" x2="0" y2="10.6"><stop offset="0" stop-color="#000061"/><stop offset=".031" stop-color="#000073"/><stop offset=".094" stop-color="#0000a4"/><stop offset=".156" stop-color="#0000c5"/><stop offset=".25" stop-color="#0000e8"/><stop offset=".344" stop-color="#0101ff"/><stop offset=".406" stop-color="#0c0cff"/><stop offset=".438" stop-color="#1c1cff"/><stop offset=".531" stop-color="#7474ff"/><stop offset=".562" stop-color="#8181ff"/><stop offset=".594" stop-color="#7979ff"/><stop offset=".688" stop-color="#1f1fff"/><stop offset=".719" stop-color="#0c0cff"/><stop offset=".781" stop-color="#0101ff"/><stop offset=".875" stop-color="#0000ff"/><stop offset=".938" stop-color="#0000e5"/><stop offset=".969" stop-color="#0000cf"/><stop offset="1" stop-color="#000092"/></linearGradient><linearGradient id="a75" gradientUnits="userSpaceOnUse" x1="0" y1="-10.6" x2="0" y2="10.6"><stop offset="0" stop-color="#0000dc"/><stop offset=".031" stop-color="#0000ff"/><stop offset=".125" stop-color="#0101ff"/><stop offset=".156" stop-color="#0404ff"/><stop offset=".188" stop-color="#0f0fff"/><stop offset=".219" stop-color="#2828ff"/><stop offset=".281" stop-color="#7373ff"/><stop offset=".312" stop-color="#8888ff"/><stop offset=".344" stop-color="#8282ff"/><stop offset=".375" stop-color="#6767ff"/><stop offset=".438" stop-color="#2525ff"/><stop offset=".469" stop-color="#1111fc"/><stop offset=".5" stop-color="#0606ea"/><stop offset=".562" stop-color="#0000d4"/><stop offset=".719" stop-color="#0000a1"/><stop offset=".875" stop-color="#000061"/><stop offset="1" stop-color="#000061"/></linearGradient><linearGradient id="a76" gradientUnits="userSpaceOnUse" x1="0" y1="-10.6" x2="0" y2="10.6"><stop offset="0" stop-color="#0000da"/><stop offset=".031" stop-color="#0000ff"/><stop offset=".125" stop-color="#0101ff"/><stop offset=".156" stop-color="#0404ff"/><stop offset=".188" stop-color="#1010ff"/><stop offset=".219" stop-color="#2a2aff"/><stop offset=".281" stop-color="#7d7dff"/><stop offset=".312" stop-color="#9595ff"/><stop offset=".344" stop-color="#9191ff"/><stop offset=".375" stop-color="#7474ff"/><stop offset=".438" stop-color="#2b2bff"/><stop offset=".469" stop-color="#1414ff"/><stop offset=".5" stop-color="#0808fa"/><stop offset=".562" stop-color="#0101e3"/><stop offset=".719" stop-color="#0000af"/><stop offset=".875" stop-color="#000066"/><stop offset=".906" stop-color="#000061"/><stop offset="1" stop-color="#000061"/></linearGradient><linearGradient id="a77" gradientUnits="userSpaceOnUse" x1="0" y1="-10.6" x2="0" y2="10.6"><stop offset="0" stop-color="#760000"/><stop offset=".031" stop-color="#b10000"/><stop offset=".062" stop-color="#c80000"/><stop offset=".125" stop-color="#e40000"/><stop offset=".219" stop-color="#fd0000"/><stop offset=".656" stop-color="#ff0000"/><stop offset=".781" stop-color="#e50000"/><stop offset=".875" stop-color="#c50000"/><stop offset=".938" stop-color="#a30000"/><stop offset=".969" stop-color="#8a0000"/><stop offset="1" stop-color="#610000"/></linearGradient><linearGradient id="a78" gradientUnits="userSpaceOnUse" x1="0" y1="-10.6" x2="0" y2="10.6"><stop offset="0" stop-color="#da0000"/><stop offset=".031" stop-color="#ea0000"/><stop offset=".156" stop-color="#e50000"/><stop offset=".281" stop-color="#d30000"/><stop offset=".438" stop-color="#b30000"/><stop offset=".75" stop-color="#620000"/><stop offset="1" stop-color="#610000"/></linearGradient><linearGradient id="a79" gradientUnits="userSpaceOnUse" x1="0" y1="-10.6" x2="0" y2="10.6"><stop offset="0" stop-color="#000061"/><stop offset=".031" stop-color="#000072"/><stop offset=".094" stop-color="#0000a4"/><stop offset=".156" stop-color="#0000c4"/><stop offset=".25" stop-color="#0000e7"/><stop offset=".344" stop-color="#0101ff"/><stop offset=".406" stop-color="#0707ff"/><stop offset=".438" stop-color="#1111ff"/><stop offset=".531" stop-color="#4444ff"/><stop offset=".562" stop-color="#4d4dff"/><stop offset=".594" stop-color="#4848ff"/><stop offset=".688" stop-color="#1212ff"/><stop offset=".719" stop-color="#0707ff"/><stop offset=".781" stop-color="#0101ff"/><stop offset=".875" stop-color="#0000ff"/><stop offset=".938" stop-color="#0000e5"/><stop offset=".969" stop-color="#0000cf"/><stop offset="1" stop-color="#000092"/></linearGradient><linearGradient id="a80" gradientUnits="userSpaceOnUse" x1="0" y1="-10.6" x2="0" y2="10.6"><stop offset="0" stop-color="#610000"/><stop offset=".031" stop-color="#920000"/><stop offset=".062" stop-color="#ad0000"/><stop offset=".094" stop-color="#c10000"/><stop offset=".188" stop-color="#e90000"/><stop offset=".25" stop-color="#fb0000"/><stop offset=".281" stop-color="#ff0000"/><stop offset=".531" stop-color="#ff0505"/><stop offset=".812" stop-color="#fe0000"/><stop offset=".875" stop-color="#eb0000"/><stop offset=".938" stop-color="#cb0000"/><stop offset=".969" stop-color="#b30000"/><stop offset="1" stop-color="#720000"/></linearGradient><linearGradient id="a81" gradientUnits="userSpaceOnUse" x1="0" y1="-10.6" x2="0" y2="10.6"><stop offset="0" stop-color="#0000d3"/><stop offset=".031" stop-color="#0000e2"/><stop offset=".062" stop-color="#0000e4"/><stop offset=".25" stop-color="#0000d1"/><stop offset=".469" stop-color="#0000a8"/><stop offset=".75" stop-color="#000061"/><stop offset="1" stop-color="#000061"/></linearGradient><linearGradient id="a82" gradientUnits="userSpaceOnUse" x1="0" y1="-10.6" x2="0" y2="10.6"><stop offset="0" stop-color="#000061"/><stop offset=".062" stop-color="#000061"/><stop offset=".125" stop-color="#000088"/><stop offset=".219" stop-color="#0000b5"/><stop offset=".438" stop-color="#0303fd"/><stop offset=".5" stop-color="#1717ff"/><stop offset=".531" stop-color="#2d2dff"/><stop offset=".594" stop-color="#6666ff"/><stop offset=".625" stop-color="#7575ff"/><stop offset=".656" stop-color="#6f6fff"/><stop offset=".688" stop-color="#5757ff"/><stop offset=".75" stop-color="#1b1bff"/><stop offset=".781" stop-color="#0a0aff"/><stop offset=".844" stop-color="#0000ff"/><stop offset=".938" stop-color="#0000ff"/><stop offset=".969" stop-color="#0000f4"/><stop offset="1" stop-color="#0000c0"/></linearGradient><linearGradient id="a83" gradientUnits="userSpaceOnUse" x1="0" y1="-10.6" x2="0" y2="10.6"><stop offset="0" stop-color="#610000"/><stop offset=".094" stop-color="#650000"/><stop offset=".219" stop-color="#a60000"/><stop offset=".406" stop-color="#e70101"/><stop offset=".469" stop-color="#ff0909"/><stop offset=".5" stop-color="#ff1818"/><stop offset=".531" stop-color="#ff3333"/><stop offset=".594" stop-color="#ff8c8c"/><stop offset=".625" stop-color="#ffb0b0"/><stop offset=".656" stop-color="#ffb8b8"/><stop offset=".688" stop-color="#ff9d9d"/><stop offset=".75" stop-color="#ff3b3b"/><stop offset=".781" stop-color="#ff1818"/><stop offset=".812" stop-color="#ff0707"/><stop offset=".844" stop-color="#ff0101"/><stop offset=".969" stop-color="#fc0000"/><stop offset="1" stop-color="#cc0000"/></linearGradient><linearGradient id="a84" gradientUnits="userSpaceOnUse" x1="0" y1="-10.6" x2="0" y2="10.6"><stop offset="0" stop-color="#0000ea"/><stop offset=".031" stop-color="#0000f1"/><stop offset=".062" stop-color="#0000ee"/><stop offset=".188" stop-color="#0000d8"/><stop offset=".375" stop-color="#0000ad"/><stop offset=".656" stop-color="#000061"/><stop offset="1" stop-color="#000061"/></linearGradient><linearGradient id="a85" gradientUnits="userSpaceOnUse" x1="0" y1="-10.6" x2="0" y2="10.6"><stop offset="0" stop-color="#000061"/><stop offset=".031" stop-color="#00009b"/><stop offset=".094" stop-color="#0000c5"/><stop offset=".188" stop-color="#0000e8"/><stop offset=".281" stop-color="#0000fd"/><stop offset=".312" stop-color="#0000ff"/><stop offset=".719" stop-color="#0000ff"/><stop offset=".781" stop-color="#0000f4"/><stop offset=".875" stop-color="#0000d7"/><stop offset=".938" stop-color="#0000b9"/><stop offset=".969" stop-color="#0000a1"/><stop offset="1" stop-color="#000064"/></linearGradient><linearGradient id="a86" gradientUnits="userSpaceOnUse" x1="0" y1="-10.6" x2="0" y2="10.6"><stop offset="0" stop-color="#0000cf"/><stop offset=".031" stop-color="#0000fe"/><stop offset=".156" stop-color="#0202ff"/><stop offset=".188" stop-color="#0707ff"/><stop offset=".219" stop-color="#1717ff"/><stop offset=".25" stop-color="#3535ff"/><stop offset=".312" stop-color="#7e7eff"/><stop offset=".344" stop-color="#8c8cff"/><stop offset=".375" stop-color="#7f7fff"/><stop offset=".469" stop-color="#2020ff"/><stop offset=".5" stop-color="#0e0eff"/><stop offset=".531" stop-color="#0505fb"/><stop offset=".75" stop-color="#0000b1"/><stop offset=".844" stop-color="#000087"/><stop offset=".906" stop-color="#000063"/><stop offset="1" stop-color="#000061"/></linearGradient><linearGradient id="a87" gradientUnits="userSpaceOnUse" x1="0" y1="-10.6" x2="0" y2="10.6"><stop offset="0" stop-color="#610000"/><stop offset=".031" stop-color="#6f0000"/><stop offset=".094" stop-color="#9a0000"/><stop offset=".219" stop-color="#cc0000"/><stop offset=".344" stop-color="#ea0000"/><stop offset=".5" stop-color="#ff0000"/><stop offset=".75" stop-color="#fe0000"/><stop offset=".844" stop-color="#f20000"/><stop offset=".906" stop-color="#e10000"/><stop offset=".969" stop-color="#c10000"/><stop offset="1" stop-color="#8c0000"/></linearGradient><linearGradient id="a88" gradientUnits="userSpaceOnUse" x1="0" y1="-10.6" x2="0" y2="10.6"><stop offset="0" stop-color="#610000"/><stop offset=".062" stop-color="#610000"/><stop offset=".156" stop-color="#960000"/><stop offset=".25" stop-color="#be0000"/><stop offset=".344" stop-color="#de0000"/><stop offset=".469" stop-color="#ff0606"/><stop offset=".5" stop-color="#ff0e0e"/><stop offset=".594" stop-color="#ff3e3e"/><stop offset=".625" stop-color="#ff4747"/><stop offset=".656" stop-color="#ff4343"/><stop offset=".75" stop-color="#ff1010"/><stop offset=".781" stop-color="#ff0606"/><stop offset=".938" stop-color="#ff0000"/><stop offset=".969" stop-color="#f30000"/><stop offset="1" stop-color="#c00000"/></linearGradient><linearGradient id="a89" gradientUnits="userSpaceOnUse" x1="0" y1="-10.6" x2="0" y2="10.6"><stop offset="0" stop-color="#000084"/><stop offset=".031" stop-color="#0000c1"/><stop offset=".094" stop-color="#0000e8"/><stop offset=".156" stop-color="#0000fc"/><stop offset=".656" stop-color="#0000fe"/><stop offset=".688" stop-color="#0000fd"/><stop offset=".75" stop-color="#0000ee"/><stop offset=".875" stop-color="#0000c0"/><stop offset=".938" stop-color="#00009b"/><stop offset="1" stop-color="#000061"/></linearGradient><linearGradient id="a90" gradientUnits="userSpaceOnUse" x1="0" y1="-10.6" x2="0" y2="10.6"><stop offset="0" stop-color="#610000"/><stop offset=".031" stop-color="#620000"/><stop offset=".062" stop-color="#7a0000"/><stop offset=".125" stop-color="#9e0000"/><stop offset=".25" stop-color="#cd0000"/><stop offset=".375" stop-color="#ec0000"/><stop offset=".5" stop-color="#ff0000"/><stop offset=".812" stop-color="#ff0000"/><stop offset=".875" stop-color="#f60000"/><stop offset=".938" stop-color="#e10000"/><stop offset=".969" stop-color="#cf0000"/><stop offset="1" stop-color="#9c0000"/></linearGradient><linearGradient id="a91" gradientUnits="userSpaceOnUse" x1="0" y1="-10.6" x2="0" y2="10.6"><stop offset="0" stop-color="#c20000"/><stop offset=".031" stop-color="#f50000"/><stop offset=".062" stop-color="#ff0000"/><stop offset=".156" stop-color="#ff0101"/><stop offset=".219" stop-color="#ff0c0c"/><stop offset=".25" stop-color="#ff1f1f"/><stop offset=".312" stop-color="#ff5f5f"/><stop offset=".344" stop-color="#ff7676"/><stop offset=".375" stop-color="#ff7979"/><stop offset=".406" stop-color="#ff6767"/><stop offset=".469" stop-color="#ff2b2b"/><stop offset=".5" stop-color="#ff1515"/><stop offset=".531" stop-color="#ff0909"/><stop offset=".594" stop-color="#f10101"/><stop offset=".75" stop-color="#bf0000"/><stop offset=".844" stop-color="#950000"/><stop offset=".938" stop-color="#610000"/><stop offset="1" stop-color="#610000"/></linearGradient><linearGradient id="a92" gradientUnits="userSpaceOnUse" x1="0" y1="-10.6" x2="0" y2="10.6"><stop offset="0" stop-color="#ec0000"/><stop offset=".031" stop-color="#ff0000"/><stop offset=".156" stop-color="#ff0303"/><stop offset=".281" stop-color="#ff1a1a"/><stop offset=".344" stop-color="#ff1212"/><stop offset=".406" stop-color="#e80606"/><stop offset=".469" stop-color="#d30101"/><stop offset=".625" stop-color="#a30000"/><stop offset=".812" stop-color="#610000"/><stop offset="1" stop-color="#610000"/></linearGradient><linearGradient id="a93" gradientUnits="userSpaceOnUse" x1="0" y1="-10.6" x2="0" y2="10.6"><stop offset="0" stop-color="#e70000"/><stop offset=".031" stop-color="#ff0000"/><stop offset=".156" stop-color="#ff0505"/><stop offset=".188" stop-color="#ff1111"/><stop offset=".281" stop-color="#ff5353"/><stop offset=".312" stop-color="#ff5656"/><stop offset=".344" stop-color="#ff4848"/><stop offset=".406" stop-color="#ff1d1d"/><stop offset=".469" stop-color="#e40606"/><stop offset=".656" stop-color="#a70000"/><stop offset=".844" stop-color="#610000"/><stop offset="1" stop-color="#610000"/></linearGradient><linearGradient id="a94" gradientUnits="userSpaceOnUse" x1="0" y1="-10.6" x2="0" y2="10.6"><stop offset="0" stop-color="#be0000"/><stop offset=".031" stop-color="#f20000"/><stop offset=".062" stop-color="#ff0000"/><stop offset=".219" stop-color="#ff0606"/><stop offset=".25" stop-color="#ff1111"/><stop offset=".344" stop-color="#ff4646"/><stop offset=".375" stop-color="#ff4949"/><stop offset=".406" stop-color="#ff4040"/><stop offset=".5" stop-color="#ff0f0f"/><stop offset=".562" stop-color="#fd0202"/><stop offset=".688" stop-color="#d90000"/><stop offset=".781" stop-color="#b70000"/><stop offset=".875" stop-color="#8a0000"/><stop offset=".938" stop-color="#610000"/><stop offset="1" stop-color="#610000"/></linearGradient><linearGradient id="a95" gradientUnits="userSpaceOnUse" x1="0" y1="-10.6" x2="0" y2="10.6"><stop offset="0" stop-color="#d70000"/><stop offset=".031" stop-color="#eb0000"/><stop offset=".062" stop-color="#ee0000"/><stop offset=".188" stop-color="#e80000"/><stop offset=".312" stop-color="#d70000"/><stop offset=".469" stop-color="#b70000"/><stop offset=".625" stop-color="#900000"/><stop offset=".781" stop-color="#610000"/><stop offset="1" stop-color="#610000"/></linearGradient><linearGradient id="a96" gradientUnits="userSpaceOnUse" x1="0" y1="-10.6" x2="0" y2="10.6"><stop offset="0" stop-color="#f30000"/><stop offset=".031" stop-color="#fd0000"/><stop offset=".094" stop-color="#fb0000"/><stop offset=".219" stop-color="#e60000"/><stop offset=".438" stop-color="#b10000"/><stop offset=".688" stop-color="#640000"/><stop offset="1" stop-color="#610000"/></linearGradient><linearGradient id="a97" gradientUnits="userSpaceOnUse" x1="0" y1="-10.6" x2="0" y2="10.6"><stop offset="0" stop-color="#d30000"/><stop offset=".031" stop-color="#f90000"/><stop offset=".062" stop-color="#ff0000"/><stop offset=".188" stop-color="#ff0404"/><stop offset=".312" stop-color="#ff2c2c"/><stop offset=".344" stop-color="#ff2d2d"/><stop offset=".375" stop-color="#ff2626"/><stop offset=".438" stop-color="#fe0f0f"/><stop offset=".531" stop-color="#db0101"/><stop offset=".719" stop-color="#a20000"/><stop offset=".875" stop-color="#610000"/><stop offset="1" stop-color="#610000"/></linearGradient><linearGradient id="a98" gradientUnits="userSpaceOnUse" x1="0" y1="-10.6" x2="0" y2="10.6"><stop offset="0" stop-color="#cc0000"/><stop offset=".031" stop-color="#fc0000"/><stop offset=".188" stop-color="#ff0505"/><stop offset=".219" stop-color="#ff1111"/><stop offset=".312" stop-color="#ff5f5f"/><stop offset=".344" stop-color="#ff6969"/><stop offset=".375" stop-color="#ff6060"/><stop offset=".469" stop-color="#ff1818"/><stop offset=".531" stop-color="#fb0404"/><stop offset=".75" stop-color="#b30000"/><stop offset=".844" stop-color="#890000"/><stop offset=".906" stop-color="#650000"/><stop offset="1" stop-color="#610000"/></linearGradient><linearGradient id="a99" gradientUnits="userSpaceOnUse" x1="0" y1="-10.6" x2="0" y2="10.6"><stop offset="0" stop-color="#610000"/><stop offset=".062" stop-color="#610000"/><stop offset=".125" stop-color="#870000"/><stop offset=".219" stop-color="#b40000"/><stop offset=".438" stop-color="#fd0404"/><stop offset=".469" stop-color="#ff0b0b"/><stop offset=".5" stop-color="#ff1b1b"/><stop offset=".531" stop-color="#ff3434"/><stop offset=".594" stop-color="#ff7676"/><stop offset=".625" stop-color="#ff8888"/><stop offset=".656" stop-color="#ff8181"/><stop offset=".688" stop-color="#ff6565"/><stop offset=".75" stop-color="#ff1f1f"/><stop offset=".781" stop-color="#ff0b0b"/><stop offset=".844" stop-color="#ff0000"/><stop offset=".938" stop-color="#ff0000"/><stop offset=".969" stop-color="#f40000"/><stop offset="1" stop-color="#c00000"/></linearGradient><linearGradient id="a100" gradientUnits="userSpaceOnUse" x1="0" y1="-10.6" x2="0" y2="10.6"><stop offset="0" stop-color="#0000b2"/><stop offset=".031" stop-color="#0000e9"/><stop offset=".062" stop-color="#0000fb"/><stop offset=".219" stop-color="#0101ff"/><stop offset=".375" stop-color="#0d0dff"/><stop offset=".562" stop-color="#0101ff"/><stop offset=".625" stop-color="#0000f4"/><stop offset=".75" stop-color="#0000cf"/><stop offset=".844" stop-color="#0000a7"/><stop offset=".938" stop-color="#00006e"/><stop offset=".969" stop-color="#000061"/><stop offset="1" stop-color="#000061"/></linearGradient><linearGradient id="a101" gradientUnits="userSpaceOnUse" x1="0" y1="-10.6" x2="0" y2="10.6"><stop offset="0" stop-color="#630000"/><stop offset=".031" stop-color="#980000"/><stop offset=".062" stop-color="#ae0000"/><stop offset=".125" stop-color="#cb0000"/><stop offset=".188" stop-color="#de0000"/><stop offset=".281" stop-color="#f20000"/><stop offset=".438" stop-color="#ff0000"/><stop offset=".656" stop-color="#fb0000"/><stop offset=".812" stop-color="#e00000"/><stop offset=".875" stop-color="#cd0000"/><stop offset=".938" stop-color="#b00000"/><stop offset=".969" stop-color="#9a0000"/><stop offset="1" stop-color="#640000"/></linearGradient><linearGradient id="a102" gradientUnits="userSpaceOnUse" x1="0" y1="-10.6" x2="0" y2="10.6"><stop offset="0" stop-color="#000061"/><stop offset=".031" stop-color="#000093"/><stop offset=".094" stop-color="#0000c0"/><stop offset=".188" stop-color="#0000e7"/><stop offset=".281" stop-color="#0000ff"/><stop offset=".375" stop-color="#0707ff"/><stop offset=".5" stop-color="#2e2eff"/><stop offset=".531" stop-color="#2f2fff"/><stop offset=".656" stop-color="#0808ff"/><stop offset=".719" stop-color="#0101ff"/><stop offset=".812" stop-color="#0000fa"/><stop offset=".875" stop-color="#0000e6"/><stop offset=".938" stop-color="#0000c8"/><stop offset=".969" stop-color="#0000af"/><stop offset="1" stop-color="#000070"/></linearGradient><linearGradient id="a103" gradientUnits="userSpaceOnUse" x1="0" y1="-10.6" x2="0" y2="10.6"><stop offset="0" stop-color="#610000"/><stop offset=".031" stop-color="#610000"/><stop offset=".125" stop-color="#9c0000"/><stop offset=".219" stop-color="#c80000"/><stop offset=".312" stop-color="#e70000"/><stop offset=".406" stop-color="#ff0505"/><stop offset=".438" stop-color="#ff0f0f"/><stop offset=".469" stop-color="#ff2424"/><stop offset=".5" stop-color="#ff4646"/><stop offset=".562" stop-color="#ff9d9d"/><stop offset=".594" stop-color="#ffb4b4"/><stop offset=".625" stop-color="#ffabab"/><stop offset=".656" stop-color="#ff8787"/><stop offset=".719" stop-color="#ff2c2c"/><stop offset=".75" stop-color="#ff1212"/><stop offset=".781" stop-color="#ff0505"/><stop offset=".812" stop-color="#ff0101"/><stop offset=".906" stop-color="#ff0000"/><stop offset=".938" stop-color="#f80000"/><stop offset=".969" stop-color="#e50000"/><stop offset="1" stop-color="#ac0000"/></linearGradient><linearGradient id="a104" gradientUnits="userSpaceOnUse" x1="0" y1="-10.6" x2="0" y2="10.6"><stop offset="0" stop-color="#d00000"/><stop offset=".031" stop-color="#d20000"/><stop offset=".156" stop-color="#bf0000"/><stop offset=".594" stop-color="#670000"/><stop offset=".656" stop-color="#610000"/><stop offset="1" stop-color="#610000"/></linearGradient><linearGradient id="a105" gradientUnits="userSpaceOnUse" x1="0" y1="-10.6" x2="0" y2="10.6"><stop offset="0" stop-color="#0000b8"/><stop offset=".031" stop-color="#0000da"/><stop offset=".094" stop-color="#0000ea"/><stop offset=".188" stop-color="#0000f1"/><stop offset=".312" stop-color="#0000eb"/><stop offset=".469" stop-color="#0000d8"/><stop offset=".625" stop-color="#0000ba"/><stop offset=".75" stop-color="#000098"/><stop offset=".906" stop-color="#000061"/><stop offset="1" stop-color="#000061"/></linearGradient><linearGradient id="a106" gradientUnits="userSpaceOnUse" x1="0" y1="-10.6" x2="0" y2="10.6"><stop offset="0" stop-color="#0000e5"/><stop offset=".031" stop-color="#0000f3"/><stop offset=".062" stop-color="#0000f3"/><stop offset=".219" stop-color="#0000df"/><stop offset=".438" stop-color="#0000af"/><stop offset=".719" stop-color="#000062"/><stop offset="1" stop-color="#000061"/></linearGradient><linearGradient id="a107" gradientUnits="userSpaceOnUse" x1="0" y1="-10.6" x2="0" y2="10.6"><stop offset="0" stop-color="#610000"/><stop offset=".031" stop-color="#610000"/><stop offset=".125" stop-color="#9e0000"/><stop offset=".219" stop-color="#c90000"/><stop offset=".312" stop-color="#e80000"/><stop offset=".406" stop-color="#ff0404"/><stop offset=".438" stop-color="#ff0c0c"/><stop offset=".469" stop-color="#ff1d1d"/><stop offset=".5" stop-color="#ff3838"/><stop offset=".562" stop-color="#ff7b7b"/><stop offset=".594" stop-color="#ff8c8c"/><stop offset=".625" stop-color="#ff8484"/><stop offset=".656" stop-color="#ff6868"/><stop offset=".719" stop-color="#ff2121"/><stop offset=".75" stop-color="#ff0d0d"/><stop offset=".812" stop-color="#ff0101"/><stop offset=".906" stop-color="#ff0000"/><stop offset=".938" stop-color="#f70000"/><stop offset=".969" stop-color="#e40000"/><stop offset="1" stop-color="#ab0000"/></linearGradient><linearGradient id="a108" gradientUnits="userSpaceOnUse" x1="0" y1="-10.6" x2="0" y2="10.6"><stop offset="0" stop-color="#e80000"/><stop offset=".031" stop-color="#ff0000"/><stop offset=".125" stop-color="#ff0202"/><stop offset=".156" stop-color="#ff0d0d"/><stop offset=".188" stop-color="#ff2b2b"/><stop offset=".219" stop-color="#ff6161"/><stop offset=".25" stop-color="#ffa2a2"/><stop offset=".281" stop-color="#ffd2d2"/><stop offset=".312" stop-color="#ffdbdb"/><stop offset=".344" stop-color="#ffb9b9"/><stop offset=".406" stop-color="#ff4c4c"/><stop offset=".438" stop-color="#ff2525"/><stop offset=".469" stop-color="#f70f0f"/><stop offset=".531" stop-color="#d90101"/><stop offset=".688" stop-color="#a40000"/><stop offset=".844" stop-color="#630000"/><stop offset="1" stop-color="#610000"/></linearGradient><linearGradient id="a109" gradientUnits="userSpaceOnUse" x1="0" y1="-10.6" x2="0" y2="10.6"><stop offset="0" stop-color="#000061"/><stop offset=".031" stop-color="#00008e"/><stop offset=".062" stop-color="#0000a5"/><stop offset=".156" stop-color="#0000ce"/><stop offset=".312" stop-color="#0000f3"/><stop offset=".469" stop-color="#0000ff"/><stop offset=".688" stop-color="#0000fb"/><stop offset=".844" stop-color="#0000df"/><stop offset=".906" stop-color="#0000c9"/><stop offset=".969" stop-color="#0000a4"/><stop offset="1" stop-color="#00006d"/></linearGradient><linearGradient id="a110" gradientUnits="userSpaceOnUse" x1="0" y1="-10.6" x2="0" y2="10.6"><stop offset="0" stop-color="#000061"/><stop offset=".031" stop-color="#000061"/><stop offset=".062" stop-color="#00006b"/><stop offset=".156" stop-color="#00009e"/><stop offset=".281" stop-color="#0000cb"/><stop offset=".406" stop-color="#0000ea"/><stop offset=".531" stop-color="#0000ff"/><stop offset=".875" stop-color="#0000fe"/><stop offset=".938" stop-color="#0000ec"/><stop offset=".969" stop-color="#0000db"/><stop offset="1" stop-color="#0000ab"/></linearGradient><linearGradient id="a111" gradientUnits="userSpaceOnUse" x1="0" y1="-10.6" x2="0" y2="10.6"><stop offset="0" stop-color="#ed0000"/><stop offset=".031" stop-color="#ff0000"/><stop offset=".125" stop-color="#ff0303"/><stop offset=".156" stop-color="#ff0e0e"/><stop offset=".188" stop-color="#ff2b2b"/><stop offset=".25" stop-color="#ff8e8e"/><stop offset=".281" stop-color="#ffaeae"/><stop offset=".312" stop-color="#ffaaaa"/><stop offset=".344" stop-color="#ff8888"/><stop offset=".406" stop-color="#ff3131"/><stop offset=".438" stop-color="#fe1616"/><stop offset=".469" stop-color="#e80808"/><stop offset=".531" stop-color="#cf0101"/><stop offset=".688" stop-color="#9a0000"/><stop offset=".812" stop-color="#660000"/><stop offset=".844" stop-color="#610000"/><stop offset="1" stop-color="#610000"/></linearGradient><linearGradient id="a112" gradientUnits="userSpaceOnUse" x1="0" y1="-10.6" x2="0" y2="10.6"><stop offset="0" stop-color="#000061"/><stop offset=".031" stop-color="#000061"/><stop offset=".125" stop-color="#00009a"/><stop offset=".219" stop-color="#0000c5"/><stop offset=".312" stop-color="#0000e5"/><stop offset=".406" stop-color="#0101fe"/><stop offset=".469" stop-color="#0808ff"/><stop offset=".594" stop-color="#2f2fff"/><stop offset=".625" stop-color="#2e2eff"/><stop offset=".656" stop-color="#2626ff"/><stop offset=".75" stop-color="#0606ff"/><stop offset=".906" stop-color="#0000ff"/><stop offset=".938" stop-color="#0000f9"/><stop offset=".969" stop-color="#0000e6"/><stop offset="1" stop-color="#0000ae"/></linearGradient><linearGradient id="a113" gradientUnits="userSpaceOnUse" x1="0" y1="-10.6" x2="0" y2="10.6"><stop offset="0" stop-color="#ef0000"/><stop offset=".031" stop-color="#ff0000"/><stop offset=".125" stop-color="#ff0303"/><stop offset=".156" stop-color="#ff0c0c"/><stop offset=".188" stop-color="#ff2424"/><stop offset=".25" stop-color="#ff6f6f"/><stop offset=".281" stop-color="#ff8383"/><stop offset=".312" stop-color="#ff7d7d"/><stop offset=".406" stop-color="#ff2121"/><stop offset=".438" stop-color="#f20f0f"/><stop offset=".469" stop-color="#e00505"/><stop offset=".688" stop-color="#950000"/><stop offset=".812" stop-color="#610000"/><stop offset="1" stop-color="#610000"/></linearGradient><linearGradient id="a114" gradientUnits="userSpaceOnUse" x1="0" y1="-10.6" x2="0" y2="10.6"><stop offset="0" stop-color="#0000e0"/><stop offset=".031" stop-color="#0000fd"/><stop offset=".156" stop-color="#0101ff"/><stop offset=".312" stop-color="#0a0afc"/><stop offset=".438" stop-color="#0202de"/><stop offset=".594" stop-color="#0000b3"/><stop offset=".812" stop-color="#000066"/><stop offset=".844" stop-color="#000061"/><stop offset="1" stop-color="#000061"/></linearGradient><linearGradient id="a115" gradientUnits="userSpaceOnUse" x1="0" y1="-10.6" x2="0" y2="10.6"><stop offset="0" stop-color="#000061"/><stop offset=".031" stop-color="#000072"/><stop offset=".094" stop-color="#0000a3"/><stop offset=".188" stop-color="#0000d1"/><stop offset=".312" stop-color="#0000f9"/><stop offset=".375" stop-color="#0606ff"/><stop offset=".406" stop-color="#1010ff"/><stop offset=".438" stop-color="#2626ff"/><stop offset=".469" stop-color="#4949ff"/><stop offset=".531" stop-color="#9d9dff"/><stop offset=".562" stop-color="#b0b0ff"/><stop offset=".594" stop-color="#a5a5ff"/><stop offset=".625" stop-color="#8181ff"/><stop offset=".688" stop-color="#2b2bff"/><stop offset=".719" stop-color="#1111ff"/><stop offset=".75" stop-color="#0505ff"/><stop offset=".781" stop-color="#0101ff"/><stop offset=".875" stop-color="#0000ff"/><stop offset=".906" stop-color="#0000f5"/><stop offset=".969" stop-color="#0000d0"/><stop offset="1" stop-color="#000093"/></linearGradient><linearGradient id="a116" gradientUnits="userSpaceOnUse" x1="0" y1="-10.6" x2="0" y2="10.6"><stop offset="0" stop-color="#610000"/><stop offset=".031" stop-color="#610000"/><stop offset=".125" stop-color="#990000"/><stop offset=".219" stop-color="#c40000"/><stop offset=".406" stop-color="#fe0202"/><stop offset=".469" stop-color="#ff0d0d"/><stop offset=".562" stop-color="#ff3c3c"/><stop offset=".594" stop-color="#ff4747"/><stop offset=".625" stop-color="#ff4545"/><stop offset=".719" stop-color="#ff1414"/><stop offset=".75" stop-color="#ff0808"/><stop offset=".812" stop-color="#ff0000"/><stop offset=".906" stop-color="#ff0000"/><stop offset=".938" stop-color="#f80000"/><stop offset=".969" stop-color="#e50000"/><stop offset="1" stop-color="#ae0000"/></linearGradient><linearGradient id="a117" gradientUnits="userSpaceOnUse" x1="0" y1="-10.6" x2="0" y2="10.6"><stop offset="0" stop-color="#610000"/><stop offset=".031" stop-color="#610000"/><stop offset=".062" stop-color="#680000"/><stop offset=".125" stop-color="#910000"/><stop offset=".219" stop-color="#bd0000"/><stop offset=".312" stop-color="#df0000"/><stop offset=".438" stop-color="#ff0505"/><stop offset=".469" stop-color="#ff0e0e"/><stop offset=".5" stop-color="#ff1e1e"/><stop offset=".594" stop-color="#ff6a6a"/><stop offset=".625" stop-color="#ff7171"/><stop offset=".656" stop-color="#ff6363"/><stop offset=".719" stop-color="#ff2929"/><stop offset=".75" stop-color="#ff1212"/><stop offset=".781" stop-color="#ff0606"/><stop offset=".938" stop-color="#ff0000"/><stop offset=".969" stop-color="#ed0000"/><stop offset="1" stop-color="#b70000"/></linearGradient><linearGradient id="a118" gradientUnits="userSpaceOnUse" x1="0" y1="-10.6" x2="0" y2="10.6"><stop offset="0" stop-color="#610000"/><stop offset=".062" stop-color="#610000"/><stop offset=".188" stop-color="#9c0000"/><stop offset=".344" stop-color="#d00000"/><stop offset=".469" stop-color="#ec0000"/><stop offset=".594" stop-color="#ff0000"/><stop offset=".906" stop-color="#fc0000"/><stop offset=".969" stop-color="#e50000"/><stop offset="1" stop-color="#b80000"/></linearGradient><linearGradient id="a119" gradientUnits="userSpaceOnUse" x1="0" y1="-10.6" x2="0" y2="10.6"><stop offset="0" stop-color="#610000"/><stop offset=".062" stop-color="#650000"/><stop offset=".125" stop-color="#8f0000"/><stop offset=".219" stop-color="#bb0000"/><stop offset=".312" stop-color="#dd0000"/><stop offset=".438" stop-color="#ff0606"/><stop offset=".469" stop-color="#ff1111"/><stop offset=".5" stop-color="#ff2525"/><stop offset=".594" stop-color="#ff8989"/><stop offset=".625" stop-color="#ff9393"/><stop offset=".656" stop-color="#ff8383"/><stop offset=".719" stop-color="#ff3737"/><stop offset=".75" stop-color="#ff1919"/><stop offset=".781" stop-color="#ff0909"/><stop offset=".844" stop-color="#ff0000"/><stop offset=".938" stop-color="#ff0000"/><stop offset=".969" stop-color="#ef0000"/><stop offset="1" stop-color="#ba0000"/></linearGradient><linearGradient id="a120" gradientUnits="userSpaceOnUse" x1="0" y1="-10.6" x2="0" y2="10.6"><stop offset="0" stop-color="#0000ac"/><stop offset=".031" stop-color="#0000e4"/><stop offset=".062" stop-color="#0000f8"/><stop offset=".094" stop-color="#0000ff"/><stop offset=".25" stop-color="#0303ff"/><stop offset=".375" stop-color="#1818ff"/><stop offset=".406" stop-color="#1818ff"/><stop offset=".531" stop-color="#0404ff"/><stop offset=".594" stop-color="#0000ff"/><stop offset=".688" stop-color="#0000e8"/><stop offset=".781" stop-color="#0000c8"/><stop offset=".875" stop-color="#00009d"/><stop offset=".969" stop-color="#000061"/><stop offset="1" stop-color="#000061"/></linearGradient><linearGradient id="a121" gradientUnits="userSpaceOnUse" x1="0" y1="-10.6" x2="0" y2="10.6"><stop offset="0" stop-color="#000061"/><stop offset=".062" stop-color="#000061"/><stop offset=".156" stop-color="#000093"/><stop offset=".281" stop-color="#0000c2"/><stop offset=".406" stop-color="#0000e4"/><stop offset=".531" stop-color="#0000fc"/><stop offset=".906" stop-color="#0000fe"/><stop offset=".969" stop-color="#0000e6"/><stop offset="1" stop-color="#0000b7"/></linearGradient><linearGradient id="a122" gradientUnits="userSpaceOnUse" x1="0" y1="-10.6" x2="0" y2="10.6"><stop offset="0" stop-color="#d00000"/><stop offset=".031" stop-color="#fa0000"/><stop offset=".156" stop-color="#ff0202"/><stop offset=".188" stop-color="#ff0808"/><stop offset=".219" stop-color="#ff1a1a"/><stop offset=".312" stop-color="#ff8585"/><stop offset=".344" stop-color="#ff9090"/><stop offset=".375" stop-color="#ff8181"/><stop offset=".438" stop-color="#ff3b3b"/><stop offset=".469" stop-color="#ff1f1f"/><stop offset=".5" stop-color="#fb0d0d"/><stop offset=".531" stop-color="#eb0505"/><stop offset=".719" stop-color="#af0000"/><stop offset=".906" stop-color="#610000"/><stop offset="1" stop-color="#610000"/></linearGradient><linearGradient id="a123" gradientUnits="userSpaceOnUse" x1="0" y1="-10.6" x2="0" y2="10.6"><stop offset="0" stop-color="#000061"/><stop offset=".062" stop-color="#000062"/><stop offset=".125" stop-color="#00008b"/><stop offset=".219" stop-color="#0000b8"/><stop offset=".312" stop-color="#0000da"/><stop offset=".438" stop-color="#0303ff"/><stop offset=".5" stop-color="#1313ff"/><stop offset=".594" stop-color="#4f4fff"/><stop offset=".625" stop-color="#5959ff"/><stop offset=".656" stop-color="#5252ff"/><stop offset=".75" stop-color="#1212ff"/><stop offset=".781" stop-color="#0707ff"/><stop offset=".844" stop-color="#0000ff"/><stop offset=".938" stop-color="#0000ff"/><stop offset=".969" stop-color="#0000f1"/><stop offset="1" stop-color="#0000bc"/></linearGradient><linearGradient id="a124" gradientUnits="userSpaceOnUse" x1="0" y1="-10.6" x2="0" y2="10.6"><stop offset="0" stop-color="#dc0000"/><stop offset=".031" stop-color="#e80000"/><stop offset=".062" stop-color="#e80000"/><stop offset=".219" stop-color="#d50000"/><stop offset=".438" stop-color="#a90000"/><stop offset=".719" stop-color="#620000"/><stop offset="1" stop-color="#610000"/></linearGradient><linearGradient id="a125" gradientUnits="userSpaceOnUse" x1="0" y1="-10.6" x2="0" y2="10.6"><stop offset="0" stop-color="#740000"/><stop offset=".031" stop-color="#a90000"/><stop offset=".062" stop-color="#bd0000"/><stop offset=".125" stop-color="#d60000"/><stop offset=".188" stop-color="#e60000"/><stop offset=".281" stop-color="#f50000"/><stop offset=".469" stop-color="#fd0000"/><stop offset=".656" stop-color="#ef0000"/><stop offset=".812" stop-color="#cf0000"/><stop offset=".875" stop-color="#ba0000"/><stop offset=".938" stop-color="#9c0000"/><stop offset=".969" stop-color="#850000"/><stop offset="1" stop-color="#610000"/></linearGradient><linearGradient id="a126" gradientUnits="userSpaceOnUse" x1="0" y1="-10.6" x2="0" y2="10.6"><stop offset="0" stop-color="#c50000"/><stop offset=".031" stop-color="#f80000"/><stop offset=".062" stop-color="#ff0000"/><stop offset=".156" stop-color="#ff0101"/><stop offset=".219" stop-color="#ff0909"/><stop offset=".25" stop-color="#ff1616"/><stop offset=".312" stop-color="#ff3b3b"/><stop offset=".344" stop-color="#ff4545"/><stop offset=".375" stop-color="#ff4343"/><stop offset=".469" stop-color="#ff1414"/><stop offset=".531" stop-color="#ff0404"/><stop offset=".75" stop-color="#bb0000"/><stop offset=".812" stop-color="#a00000"/><stop offset=".938" stop-color="#610000"/><stop offset="1" stop-color="#610000"/></linearGradient><linearGradient id="a127" gradientUnits="userSpaceOnUse" x1="0" y1="-10.6" x2="0" y2="10.6"><stop offset="0" stop-color="#610000"/><stop offset=".062" stop-color="#9b0000"/><stop offset=".125" stop-color="#bd0000"/><stop offset=".25" stop-color="#e80000"/><stop offset=".375" stop-color="#ff0000"/><stop offset=".812" stop-color="#fc0000"/><stop offset=".875" stop-color="#eb0000"/><stop offset=".938" stop-color="#d00000"/><stop offset=".969" stop-color="#ba0000"/><stop offset="1" stop-color="#7f0000"/></linearGradient><linearGradient id="a128" gradientUnits="userSpaceOnUse" x1="0" y1="-10.6" x2="0" y2="10.6"><stop offset="0" stop-color="#ee0000"/><stop offset=".031" stop-color="#ff0000"/><stop offset=".312" stop-color="#fc0a0a"/><stop offset=".438" stop-color="#d60101"/><stop offset=".594" stop-color="#a80000"/><stop offset=".781" stop-color="#650000"/><stop offset=".812" stop-color="#610000"/><stop offset="1" stop-color="#610000"/></linearGradient><linearGradient id="a129" gradientUnits="userSpaceOnUse" x1="0" y1="-10.6" x2="0" y2="10.6"><stop offset="0" stop-color="#0000ed"/><stop offset=".031" stop-color="#0000ff"/><stop offset=".281" stop-color="#0808fc"/><stop offset=".312" stop-color="#0707f8"/><stop offset=".562" stop-color="#0000b1"/><stop offset=".781" stop-color="#000064"/><stop offset="1" stop-color="#000061"/></linearGradient><linearGradient id="a130" gradientUnits="userSpaceOnUse" x1="0" y1="-10.6" x2="0" y2="10.6"><stop offset="0" stop-color="#000061"/><stop offset=".094" stop-color="#000062"/><stop offset=".156" stop-color="#000085"/><stop offset=".25" stop-color="#0000af"/><stop offset=".344" stop-color="#0000d0"/><stop offset=".5" stop-color="#0303fc"/><stop offset=".656" stop-color="#1b1bff"/><stop offset=".812" stop-color="#0101ff"/><stop offset=".938" stop-color="#0000ff"/><stop offset=".969" stop-color="#0000fb"/><stop offset="1" stop-color="#0000cd"/></linearGradient><linearGradient id="a131" gradientUnits="userSpaceOnUse" x1="0" y1="-10.6" x2="0" y2="10.6"><stop offset="0" stop-color="#000061"/><stop offset=".062" stop-color="#000061"/><stop offset=".156" stop-color="#000092"/><stop offset=".25" stop-color="#0000bc"/><stop offset=".406" stop-color="#0101ef"/><stop offset=".469" stop-color="#0c0cff"/><stop offset=".5" stop-color="#1f1fff"/><stop offset=".531" stop-color="#3f3fff"/><stop offset=".594" stop-color="#9898ff"/><stop offset=".625" stop-color="#b4b4ff"/><stop offset=".656" stop-color="#b1b1ff"/><stop offset=".688" stop-color="#8f8fff"/><stop offset=".75" stop-color="#2f2fff"/><stop offset=".781" stop-color="#1212ff"/><stop offset=".812" stop-color="#0505ff"/><stop offset=".844" stop-color="#0101ff"/><stop offset=".938" stop-color="#0000ff"/><stop offset=".969" stop-color="#0000f7"/><stop offset="1" stop-color="#0000c5"/></linearGradient><linearGradient id="a132" gradientUnits="userSpaceOnUse" x1="0" y1="-10.6" x2="0" y2="10.6"><stop offset="0" stop-color="#610000"/><stop offset=".062" stop-color="#610000"/><stop offset=".25" stop-color="#bb0000"/><stop offset=".406" stop-color="#ee0101"/><stop offset=".469" stop-color="#ff0d0d"/><stop offset=".5" stop-color="#ff2121"/><stop offset=".531" stop-color="#ff4444"/><stop offset=".594" stop-color="#ffa7a7"/><stop offset=".625" stop-color="#ffc7c7"/><stop offset=".656" stop-color="#ffc5c5"/><stop offset=".688" stop-color="#ffa0a0"/><stop offset=".75" stop-color="#ff3636"/><stop offset=".781" stop-color="#ff1515"/><stop offset=".812" stop-color="#ff0606"/><stop offset=".844" stop-color="#ff0101"/><stop offset=".938" stop-color="#ff0000"/><stop offset=".969" stop-color="#f80000"/><stop offset="1" stop-color="#c60000"/></linearGradient><linearGradient id="a133" gradientUnits="userSpaceOnUse" x1="0" y1="-10.6" x2="0" y2="10.6"><stop offset="0" stop-color="#000061"/><stop offset=".062" stop-color="#000061"/><stop offset=".094" stop-color="#00006c"/><stop offset=".156" stop-color="#000090"/><stop offset=".25" stop-color="#0000b9"/><stop offset=".406" stop-color="#0101ed"/><stop offset=".469" stop-color="#0d0dff"/><stop offset=".5" stop-color="#2121ff"/><stop offset=".531" stop-color="#4545ff"/><stop offset=".594" stop-color="#ababff"/><stop offset=".625" stop-color="#ceceff"/><stop offset=".656" stop-color="#cdcdff"/><stop offset=".688" stop-color="#a8a8ff"/><stop offset=".75" stop-color="#3939ff"/><stop offset=".781" stop-color="#1616ff"/><stop offset=".812" stop-color="#0606ff"/><stop offset=".844" stop-color="#0101ff"/><stop offset=".938" stop-color="#0000ff"/><stop offset=".969" stop-color="#0000f9"/><stop offset="1" stop-color="#0000c7"/></linearGradient><linearGradient id="a134" gradientUnits="userSpaceOnUse" x1="0" y1="-10.6" x2="0" y2="10.6"><stop offset="0" stop-color="#0000ef"/><stop offset=".031" stop-color="#0000fe"/><stop offset=".125" stop-color="#0000fe"/><stop offset=".188" stop-color="#0000f7"/><stop offset=".438" stop-color="#0000c1"/><stop offset=".75" stop-color="#000061"/><stop offset="1" stop-color="#000061"/></linearGradient><linearGradient id="a135" gradientUnits="userSpaceOnUse" x1="0" y1="-10.6" x2="0" y2="10.6"><stop offset="0" stop-color="#0000d9"/><stop offset=".031" stop-color="#0000f4"/><stop offset=".062" stop-color="#0000fb"/><stop offset=".156" stop-color="#0000fc"/><stop offset=".25" stop-color="#0000f5"/><stop offset=".375" stop-color="#0000e1"/><stop offset=".531" stop-color="#0000be"/><stop offset=".688" stop-color="#000092"/><stop offset=".812" stop-color="#000066"/><stop offset=".844" stop-color="#000061"/><stop offset="1" stop-color="#000061"/></linearGradient><linearGradient id="a136" gradientUnits="userSpaceOnUse" x1="0" y1="-10.6" x2="0" y2="10.6"><stop offset="0" stop-color="#610000"/><stop offset=".094" stop-color="#610000"/><stop offset=".156" stop-color="#850000"/><stop offset=".25" stop-color="#ae0000"/><stop offset=".438" stop-color="#eb0101"/><stop offset=".5" stop-color="#ff0707"/><stop offset=".531" stop-color="#ff0f0f"/><stop offset=".625" stop-color="#ff3a3a"/><stop offset=".656" stop-color="#ff3f3f"/><stop offset=".688" stop-color="#ff3838"/><stop offset=".781" stop-color="#ff0a0a"/><stop offset=".812" stop-color="#ff0303"/><stop offset=".969" stop-color="#fc0000"/><stop offset="1" stop-color="#ce0000"/></linearGradient><linearGradient id="a137" gradientUnits="userSpaceOnUse" x1="0" y1="-10.6" x2="0" y2="10.6"><stop offset="0" stop-color="#0000de"/><stop offset=".031" stop-color="#0000ff"/><stop offset=".125" stop-color="#0101ff"/><stop offset=".156" stop-color="#0606ff"/><stop offset=".188" stop-color="#1818ff"/><stop offset=".219" stop-color="#3d3dff"/><stop offset=".281" stop-color="#a6a6ff"/><stop offset=".312" stop-color="#c0c0ff"/><stop offset=".344" stop-color="#b4b4ff"/><stop offset=".438" stop-color="#3030ff"/><stop offset=".469" stop-color="#1515ff"/><stop offset=".5" stop-color="#0808f5"/><stop offset=".562" stop-color="#0101dd"/><stop offset=".719" stop-color="#0000a8"/><stop offset=".875" stop-color="#000061"/><stop offset="1" stop-color="#000061"/></linearGradient><linearGradient id="a138" gradientUnits="userSpaceOnUse" x1="0" y1="-10.6" x2="0" y2="10.6"><stop offset="0" stop-color="#d50000"/><stop offset=".031" stop-color="#f80000"/><stop offset=".062" stop-color="#ff0000"/><stop offset=".188" stop-color="#ff0202"/><stop offset=".312" stop-color="#ff1313"/><stop offset=".375" stop-color="#ff0f0f"/><stop offset=".5" stop-color="#db0101"/><stop offset=".688" stop-color="#a60000"/><stop offset=".875" stop-color="#610000"/><stop offset="1" stop-color="#610000"/></linearGradient><linearGradient id="a139" gradientUnits="userSpaceOnUse" x1="0" y1="-10.6" x2="0" y2="10.6"><stop offset="0" stop-color="#000061"/><stop offset=".062" stop-color="#000067"/><stop offset=".125" stop-color="#000090"/><stop offset=".219" stop-color="#0000bd"/><stop offset=".312" stop-color="#0000de"/><stop offset=".438" stop-color="#0606ff"/><stop offset=".469" stop-color="#1010ff"/><stop offset=".5" stop-color="#2323ff"/><stop offset=".594" stop-color="#7c7cff"/><stop offset=".625" stop-color="#8484ff"/><stop offset=".656" stop-color="#7474ff"/><stop offset=".719" stop-color="#3030ff"/><stop offset=".75" stop-color="#1616ff"/><stop offset=".781" stop-color="#0707ff"/><stop offset=".812" stop-color="#0202ff"/><stop offset=".938" stop-color="#0000ff"/><stop offset=".969" stop-color="#0000ee"/><stop offset="1" stop-color="#0000b8"/></linearGradient><linearGradient id="a140" gradientUnits="userSpaceOnUse" x1="0" y1="-10.6" x2="0" y2="10.6"><stop offset="0" stop-color="#000061"/><stop offset=".031" stop-color="#000061"/><stop offset=".125" stop-color="#00009c"/><stop offset=".219" stop-color="#0000c7"/><stop offset=".312" stop-color="#0000e6"/><stop offset=".406" stop-color="#0101fe"/><stop offset=".469" stop-color="#0505ff"/><stop offset=".594" stop-color="#1c1cff"/><stop offset=".625" stop-color="#1c1cff"/><stop offset=".75" stop-color="#0303ff"/><stop offset=".906" stop-color="#0000ff"/><stop offset=".938" stop-color="#0000f7"/><stop offset=".969" stop-color="#0000e3"/><stop offset="1" stop-color="#0000ac"/></linearGradient><linearGradient id="a141" gradientUnits="userSpaceOnUse" x1="0" y1="-10.6" x2="0" y2="10.6"><stop offset="0" stop-color="#000075"/><stop offset=".031" stop-color="#0000aa"/><stop offset=".062" stop-color="#0000bf"/><stop offset=".125" stop-color="#0000d8"/><stop offset=".188" stop-color="#0000e8"/><stop offset=".281" stop-color="#0000f7"/><stop offset=".469" stop-color="#0000fd"/><stop offset=".562" stop-color="#0000fa"/><stop offset=".656" stop-color="#0000f0"/><stop offset=".812" stop-color="#0000cf"/><stop offset=".875" stop-color="#0000ba"/><stop offset=".938" stop-color="#00009b"/><stop offset=".969" stop-color="#000085"/><stop offset="1" stop-color="#000061"/></linearGradient><linearGradient id="a142" gradientUnits="userSpaceOnUse" x1="0" y1="-10.6" x2="0" y2="10.6"><stop offset="0" stop-color="#ef0000"/><stop offset=".031" stop-color="#ff0000"/><stop offset=".188" stop-color="#fe0101"/><stop offset=".25" stop-color="#f80202"/><stop offset=".5" stop-color="#bb0000"/><stop offset=".781" stop-color="#610000"/><stop offset="1" stop-color="#610000"/></linearGradient><linearGradient id="a143" gradientUnits="userSpaceOnUse" x1="0" y1="-10.6" x2="0" y2="10.6"><stop offset="0" stop-color="#de0000"/><stop offset=".031" stop-color="#ff0000"/><stop offset=".125" stop-color="#ff0101"/><stop offset=".156" stop-color="#ff0707"/><stop offset=".188" stop-color="#ff1b1b"/><stop offset=".219" stop-color="#ff4646"/><stop offset=".281" stop-color="#ffc4c4"/><stop offset=".312" stop-color="#ffe4e4"/><stop offset=".344" stop-color="#ffd8d8"/><stop offset=".375" stop-color="#ffa9a9"/><stop offset=".406" stop-color="#ff6e6e"/><stop offset=".438" stop-color="#ff3c3c"/><stop offset=".469" stop-color="#ff1b1b"/><stop offset=".5" stop-color="#f50a0a"/><stop offset=".562" stop-color="#db0101"/><stop offset=".719" stop-color="#a60000"/><stop offset=".875" stop-color="#610000"/><stop offset="1" stop-color="#610000"/></linearGradient><linearGradient id="a144" gradientUnits="userSpaceOnUse" x1="0" y1="-10.6" x2="0" y2="10.6"><stop offset="0" stop-color="#000061"/><stop offset=".062" stop-color="#000061"/><stop offset=".156" stop-color="#000095"/><stop offset=".219" stop-color="#0000b2"/><stop offset=".438" stop-color="#0404fb"/><stop offset=".469" stop-color="#0b0bff"/><stop offset=".5" stop-color="#1b1bff"/><stop offset=".531" stop-color="#3636ff"/><stop offset=".594" stop-color="#7b7bff"/><stop offset=".625" stop-color="#8f8fff"/><stop offset=".656" stop-color="#8989ff"/><stop offset=".688" stop-color="#6b6bff"/><stop offset=".75" stop-color="#2222ff"/><stop offset=".781" stop-color="#0c0cff"/><stop offset=".844" stop-color="#0101ff"/><stop offset=".938" stop-color="#0000ff"/><stop offset=".969" stop-color="#0000f5"/><stop offset="1" stop-color="#0000c2"/></linearGradient><linearGradient id="a145" gradientUnits="userSpaceOnUse" x1="0" y1="-10.6" x2="0" y2="10.6"><stop offset="0" stop-color="#610000"/><stop offset=".031" stop-color="#610000"/><stop offset=".156" stop-color="#ab0000"/><stop offset=".25" stop-color="#d20000"/><stop offset=".375" stop-color="#f80202"/><stop offset=".406" stop-color="#ff0606"/><stop offset=".438" stop-color="#ff1212"/><stop offset=".469" stop-color="#ff2a2a"/><stop offset=".5" stop-color="#ff5454"/><stop offset=".562" stop-color="#ffc2c2"/><stop offset=".594" stop-color="#ffe0e0"/><stop offset=".625" stop-color="#ffd9d9"/><stop offset=".656" stop-color="#ffadad"/><stop offset=".719" stop-color="#ff3a3a"/><stop offset=".75" stop-color="#ff1717"/><stop offset=".781" stop-color="#ff0707"/><stop offset=".812" stop-color="#ff0101"/><stop offset=".906" stop-color="#ff0000"/><stop offset=".938" stop-color="#f90000"/><stop offset=".969" stop-color="#e60000"/><stop offset="1" stop-color="#ae0000"/></linearGradient><linearGradient id="a146" gradientUnits="userSpaceOnUse" x1="0" y1="-10.6" x2="0" y2="10.6"><stop offset="0" stop-color="#a60000"/><stop offset=".031" stop-color="#df0000"/><stop offset=".062" stop-color="#f30000"/><stop offset=".094" stop-color="#fe0000"/><stop offset=".25" stop-color="#ff0101"/><stop offset=".406" stop-color="#ff0c0c"/><stop offset=".594" stop-color="#ff0000"/><stop offset=".656" stop-color="#f50000"/><stop offset=".781" stop-color="#ce0000"/><stop offset=".875" stop-color="#a30000"/><stop offset=".969" stop-color="#620000"/><stop offset="1" stop-color="#610000"/></linearGradient><linearGradient id="a147" gradientUnits="userSpaceOnUse" x1="0" y1="-10.6" x2="0" y2="10.6"><stop offset="0" stop-color="#610000"/><stop offset=".062" stop-color="#610000"/><stop offset=".156" stop-color="#940000"/><stop offset=".25" stop-color="#bd0000"/><stop offset=".406" stop-color="#f00101"/><stop offset=".469" stop-color="#ff0c0c"/><stop offset=".5" stop-color="#ff1e1e"/><stop offset=".531" stop-color="#ff3d3d"/><stop offset=".594" stop-color="#ff9191"/><stop offset=".625" stop-color="#ffaaaa"/><stop offset=".656" stop-color="#ffa6a6"/><stop offset=".688" stop-color="#ff8484"/><stop offset=".75" stop-color="#ff2b2b"/><stop offset=".781" stop-color="#ff1010"/><stop offset=".812" stop-color="#ff0404"/><stop offset=".844" stop-color="#ff0101"/><stop offset=".938" stop-color="#ff0000"/><stop offset=".969" stop-color="#f60000"/><stop offset="1" stop-color="#c30000"/></linearGradient><linearGradient id="a148" gradientUnits="userSpaceOnUse" x1="0" y1="-10.6" x2="0" y2="10.6"><stop offset="0" stop-color="#000061"/><stop offset=".062" stop-color="#000061"/><stop offset=".156" stop-color="#000093"/><stop offset=".25" stop-color="#0000bb"/><stop offset=".375" stop-color="#0000e3"/><stop offset=".5" stop-color="#0202ff"/><stop offset=".625" stop-color="#0c0cff"/><stop offset=".781" stop-color="#0101ff"/><stop offset=".938" stop-color="#0000ff"/><stop offset=".969" stop-color="#0000f2"/><stop offset="1" stop-color="#0000c1"/></linearGradient><linearGradient id="a149" gradientUnits="userSpaceOnUse" x1="0" y1="-10.6" x2="0" y2="10.6"><stop offset="0" stop-color="#610000"/><stop offset=".094" stop-color="#630000"/><stop offset=".156" stop-color="#870000"/><stop offset=".25" stop-color="#b10000"/><stop offset=".406" stop-color="#e50000"/><stop offset=".469" stop-color="#fb0707"/><stop offset=".5" stop-color="#ff1111"/><stop offset=".531" stop-color="#ff2626"/><stop offset=".625" stop-color="#ff8888"/><stop offset=".656" stop-color="#ff8f8f"/><stop offset=".688" stop-color="#ff7c7c"/><stop offset=".75" stop-color="#ff3030"/><stop offset=".781" stop-color="#ff1414"/><stop offset=".812" stop-color="#ff0606"/><stop offset=".844" stop-color="#ff0101"/><stop offset=".969" stop-color="#fc0000"/><stop offset="1" stop-color="#cd0000"/></linearGradient><linearGradient id="a150" gradientUnits="userSpaceOnUse" x1="0" y1="-10.6" x2="0" y2="10.6"><stop offset="0" stop-color="#f00000"/><stop offset=".031" stop-color="#ff0000"/><stop offset=".125" stop-color="#ff0202"/><stop offset=".156" stop-color="#ff0909"/><stop offset=".188" stop-color="#ff1b1b"/><stop offset=".25" stop-color="#ff4d4d"/><stop offset=".281" stop-color="#ff5858"/><stop offset=".312" stop-color="#ff5151"/><stop offset=".406" stop-color="#fa1414"/><stop offset=".469" stop-color="#d90303"/><stop offset=".656" stop-color="#9b0000"/><stop offset=".812" stop-color="#610000"/><stop offset="1" stop-color="#610000"/></linearGradient><linearGradient id="a151" gradientUnits="userSpaceOnUse" x1="0" y1="-10.6" x2="0" y2="10.6"><stop offset="0" stop-color="#000061"/><stop offset=".031" stop-color="#000071"/><stop offset=".094" stop-color="#0000a2"/><stop offset=".156" stop-color="#0000c2"/><stop offset=".25" stop-color="#0000e5"/><stop offset=".344" stop-color="#0000fe"/><stop offset=".438" stop-color="#0303ff"/><stop offset=".562" stop-color="#1010ff"/><stop offset=".719" stop-color="#0202ff"/><stop offset=".875" stop-color="#0000fd"/><stop offset=".938" stop-color="#0000e6"/><stop offset=".969" stop-color="#0000d0"/><stop offset="1" stop-color="#000094"/></linearGradient><linearGradient id="a152" gradientUnits="userSpaceOnUse" x1="0" y1="-10.6" x2="0" y2="10.6"><stop offset="0" stop-color="#610000"/><stop offset=".062" stop-color="#610000"/><stop offset=".156" stop-color="#970000"/><stop offset=".219" stop-color="#b40000"/><stop offset=".375" stop-color="#e90000"/><stop offset=".438" stop-color="#fe0606"/><stop offset=".469" stop-color="#ff1111"/><stop offset=".5" stop-color="#ff2727"/><stop offset=".531" stop-color="#ff4c4c"/><stop offset=".594" stop-color="#ffa4a4"/><stop offset=".625" stop-color="#ffb9b9"/><stop offset=".656" stop-color="#ffacac"/><stop offset=".688" stop-color="#ff8383"/><stop offset=".719" stop-color="#ff5151"/><stop offset=".75" stop-color="#ff2727"/><stop offset=".781" stop-color="#ff0e0e"/><stop offset=".812" stop-color="#ff0303"/><stop offset=".844" stop-color="#ff0101"/><stop offset=".938" stop-color="#ff0000"/><stop offset=".969" stop-color="#f30000"/><stop offset="1" stop-color="#c00000"/></linearGradient><linearGradient id="a153" gradientUnits="userSpaceOnUse" x1="0" y1="-10.6" x2="0" y2="10.6"><stop offset="0" stop-color="#000061"/><stop offset=".031" stop-color="#00008c"/><stop offset=".094" stop-color="#0000bb"/><stop offset=".188" stop-color="#0000e5"/><stop offset=".281" stop-color="#0000fe"/><stop offset=".531" stop-color="#0404ff"/><stop offset=".812" stop-color="#0000ff"/><stop offset=".875" stop-color="#0000ee"/><stop offset=".938" stop-color="#0000d0"/><stop offset=".969" stop-color="#0000b8"/><stop offset="1" stop-color="#000078"/></linearGradient><linearGradient id="a154" gradientUnits="userSpaceOnUse" x1="0" y1="-10.6" x2="0" y2="10.6"><stop offset="0" stop-color="#c80000"/><stop offset=".031" stop-color="#d20000"/><stop offset=".062" stop-color="#d10000"/><stop offset=".219" stop-color="#c10000"/><stop offset=".406" stop-color="#a10000"/><stop offset=".719" stop-color="#610000"/><stop offset="1" stop-color="#610000"/></linearGradient><linearGradient id="a155" gradientUnits="userSpaceOnUse" x1="0" y1="-10.6" x2="0" y2="10.6"><stop offset="0" stop-color="#000061"/><stop offset=".031" stop-color="#000061"/><stop offset=".156" stop-color="#0000ab"/><stop offset=".25" stop-color="#0000d1"/><stop offset=".375" stop-color="#0101f8"/><stop offset=".406" stop-color="#0404ff"/><stop offset=".438" stop-color="#0d0dff"/><stop offset=".469" stop-color="#2020ff"/><stop offset=".5" stop-color="#3f3fff"/><stop offset=".562" stop-color="#9090ff"/><stop offset=".594" stop-color="#a7a7ff"/><stop offset=".625" stop-color="#a2a2ff"/><stop offset=".656" stop-color="#8181ff"/><stop offset=".719" stop-color="#2c2cff"/><stop offset=".75" stop-color="#1111ff"/><stop offset=".781" stop-color="#0505ff"/><stop offset=".812" stop-color="#0101ff"/><stop offset=".906" stop-color="#0000ff"/><stop offset=".938" stop-color="#0000f9"/><stop offset=".969" stop-color="#0000e6"/><stop offset="1" stop-color="#0000ae"/></linearGradient><linearGradient id="a156" gradientUnits="userSpaceOnUse" x1="0" y1="-10.6" x2="0" y2="10.6"><stop offset="0" stop-color="#610000"/><stop offset=".031" stop-color="#8e0000"/><stop offset=".062" stop-color="#a40000"/><stop offset=".156" stop-color="#cb0000"/><stop offset=".312" stop-color="#ed0000"/><stop offset=".5" stop-color="#fb0000"/><stop offset=".688" stop-color="#f40000"/><stop offset=".844" stop-color="#d70000"/><stop offset=".906" stop-color="#c20000"/><stop offset=".969" stop-color="#9f0000"/><stop offset="1" stop-color="#6a0000"/></linearGradient><linearGradient id="a157" gradientUnits="userSpaceOnUse" x1="0" y1="-10.6" x2="0" y2="10.6"><stop offset="0" stop-color="#e90000"/><stop offset=".031" stop-color="#fa0000"/><stop offset=".062" stop-color="#fc0000"/><stop offset=".156" stop-color="#f50000"/><stop offset=".25" stop-color="#e60000"/><stop offset=".469" stop-color="#b40000"/><stop offset=".75" stop-color="#610000"/><stop offset="1" stop-color="#610000"/></linearGradient><linearGradient id="a158" gradientUnits="userSpaceOnUse" x1="0" y1="-10.6" x2="0" y2="10.6"><stop offset="0" stop-color="#e80000"/><stop offset=".031" stop-color="#ff0000"/><stop offset=".156" stop-color="#ff0404"/><stop offset=".188" stop-color="#ff0b0b"/><stop offset=".281" stop-color="#ff3030"/><stop offset=".312" stop-color="#ff3030"/><stop offset=".375" stop-color="#ff1a1a"/><stop offset=".406" stop-color="#f70f0f"/><stop offset=".469" stop-color="#dc0303"/><stop offset=".656" stop-color="#a10000"/><stop offset=".812" stop-color="#640000"/><stop offset="1" stop-color="#610000"/></linearGradient><linearGradient id="a159" gradientUnits="userSpaceOnUse" x1="0" y1="-10.6" x2="0" y2="10.6"><stop offset="0" stop-color="#610000"/><stop offset=".031" stop-color="#610000"/><stop offset=".125" stop-color="#9d0000"/><stop offset=".219" stop-color="#c80000"/><stop offset=".312" stop-color="#e70000"/><stop offset=".406" stop-color="#fd0101"/><stop offset=".594" stop-color="#ff1515"/><stop offset=".75" stop-color="#ff0202"/><stop offset=".906" stop-color="#ff0000"/><stop offset=".938" stop-color="#f50000"/><stop offset=".969" stop-color="#e20000"/><stop offset="1" stop-color="#aa0000"/></linearGradient><linearGradient id="a160" gradientUnits="userSpaceOnUse" x1="0" y1="-10.6" x2="0" y2="10.6"><stop offset="0" stop-color="#000061"/><stop offset=".031" stop-color="#000061"/><stop offset=".062" stop-color="#00006b"/><stop offset=".156" stop-color="#0000a4"/><stop offset=".25" stop-color="#0000cc"/><stop offset=".406" stop-color="#0202fc"/><stop offset=".438" stop-color="#0505ff"/><stop offset=".5" stop-color="#1c1cff"/><stop offset=".594" stop-color="#5c5cff"/><stop offset=".625" stop-color="#6060ff"/><stop offset=".656" stop-color="#5353ff"/><stop offset=".719" stop-color="#2121ff"/><stop offset=".75" stop-color="#0e0eff"/><stop offset=".781" stop-color="#0505ff"/><stop offset=".938" stop-color="#0000fd"/><stop offset=".969" stop-color="#0000eb"/><stop offset="1" stop-color="#0000b5"/></linearGradient><linearGradient id="a161" gradientUnits="userSpaceOnUse" x1="0" y1="-10.6" x2="0" y2="10.6"><stop offset="0" stop-color="#000061"/><stop offset=".062" stop-color="#000061"/><stop offset=".156" stop-color="#000093"/><stop offset=".25" stop-color="#0000bc"/><stop offset=".469" stop-color="#0202fd"/><stop offset=".625" stop-color="#1d1dff"/><stop offset=".656" stop-color="#1c1cff"/><stop offset=".781" stop-color="#0303ff"/><stop offset=".938" stop-color="#0000ff"/><stop offset=".969" stop-color="#0000f3"/><stop offset="1" stop-color="#0000c1"/></linearGradient><linearGradient id="a162" gradientUnits="userSpaceOnUse" x1="0" y1="-10.6" x2="0" y2="10.6"><stop offset="0" stop-color="#0000b7"/><stop offset=".031" stop-color="#0000ed"/><stop offset=".062" stop-color="#0000ff"/><stop offset=".219" stop-color="#0202ff"/><stop offset=".375" stop-color="#1717ff"/><stop offset=".562" stop-color="#0101ff"/><stop offset=".688" stop-color="#0000df"/><stop offset=".781" stop-color="#0000bd"/><stop offset=".875" stop-color="#000091"/><stop offset=".938" stop-color="#000068"/><stop offset=".969" stop-color="#000061"/><stop offset="1" stop-color="#000061"/></linearGradient><linearGradient id="a163" gradientUnits="userSpaceOnUse" x1="0" y1="-10.6" x2="0" y2="10.6"><stop offset="0" stop-color="#ce0000"/><stop offset=".031" stop-color="#fb0000"/><stop offset=".156" stop-color="#ff0202"/><stop offset=".188" stop-color="#ff0a0a"/><stop offset=".219" stop-color="#ff2020"/><stop offset=".25" stop-color="#ff4949"/><stop offset=".312" stop-color="#ffb1b1"/><stop offset=".344" stop-color="#ffc5c5"/><stop offset=".375" stop-color="#ffb5b5"/><stop offset=".406" stop-color="#ff8a8a"/><stop offset=".438" stop-color="#ff5858"/><stop offset=".469" stop-color="#ff2e2e"/><stop offset=".5" stop-color="#ff1414"/><stop offset=".531" stop-color="#f40707"/><stop offset=".594" stop-color="#dd0101"/><stop offset=".75" stop-color="#a90000"/><stop offset=".906" stop-color="#610000"/><stop offset="1" stop-color="#610000"/></linearGradient><linearGradient id="a164" gradientUnits="userSpaceOnUse" x1="0" y1="-10.6" x2="0" y2="10.6"><stop offset="0" stop-color="#0000df"/><stop offset=".031" stop-color="#0000ff"/><stop offset=".125" stop-color="#0000ff"/><stop offset=".188" stop-color="#0707ff"/><stop offset=".281" stop-color="#2929ff"/><stop offset=".312" stop-color="#2d2dff"/><stop offset=".344" stop-color="#2929ff"/><stop offset=".406" stop-color="#1313fe"/><stop offset=".5" stop-color="#0101da"/><stop offset=".688" stop-color="#0000a0"/><stop offset=".844" stop-color="#000061"/><stop offset="1" stop-color="#000061"/></linearGradient><linearGradient id="a165" gradientUnits="userSpaceOnUse" x1="0" y1="-10.6" x2="0" y2="10.6"><stop offset="0" stop-color="#0000e4"/><stop offset=".031" stop-color="#0000fb"/><stop offset=".062" stop-color="#0000ff"/><stop offset=".156" stop-color="#0000fd"/><stop offset=".219" stop-color="#0000f6"/><stop offset=".344" stop-color="#0000e1"/><stop offset=".5" stop-color="#0000bc"/><stop offset=".656" stop-color="#00008f"/><stop offset=".781" stop-color="#000063"/><stop offset="1" stop-color="#000061"/></linearGradient><linearGradient id="a166" gradientUnits="userSpaceOnUse" x1="0" y1="-10.6" x2="0" y2="10.6"><stop offset="0" stop-color="#a70000"/><stop offset=".031" stop-color="#cf0000"/><stop offset=".094" stop-color="#e50000"/><stop offset=".219" stop-color="#f30000"/><stop offset=".375" stop-color="#ef0000"/><stop offset=".531" stop-color="#dd0000"/><stop offset=".656" stop-color="#c60000"/><stop offset=".812" stop-color="#9a0000"/><stop offset=".875" stop-color="#820000"/><stop offset=".938" stop-color="#620000"/><stop offset="1" stop-color="#610000"/></linearGradient><linearGradient id="a167" gradientUnits="userSpaceOnUse" x1="0" y1="-10.6" x2="0" y2="10.6"><stop offset="0" stop-color="#e40000"/><stop offset=".031" stop-color="#f80000"/><stop offset=".062" stop-color="#fb0000"/><stop offset=".188" stop-color="#f30000"/><stop offset=".438" stop-color="#c30000"/><stop offset=".781" stop-color="#610000"/><stop offset="1" stop-color="#610000"/></linearGradient><linearGradient id="a168" gradientUnits="userSpaceOnUse" x1="0" y1="-10.6" x2="0" y2="10.6"><stop offset="0" stop-color="#e10000"/><stop offset=".031" stop-color="#ff0000"/><stop offset=".125" stop-color="#ff0101"/><stop offset=".156" stop-color="#ff0808"/><stop offset=".188" stop-color="#ff1d1d"/><stop offset=".219" stop-color="#ff4949"/><stop offset=".281" stop-color="#ffbbbb"/><stop offset=".312" stop-color="#ffd3d3"/><stop offset=".344" stop-color="#ffc1c1"/><stop offset=".375" stop-color="#ff9292"/><stop offset=".406" stop-color="#ff5b5b"/><stop offset=".438" stop-color="#ff3030"/><stop offset=".469" stop-color="#ff1515"/><stop offset=".5" stop-color="#ef0707"/><stop offset=".562" stop-color="#d70101"/><stop offset=".719" stop-color="#a20000"/><stop offset=".875" stop-color="#610000"/><stop offset="1" stop-color="#610000"/></linearGradient><linearGradient id="a169" gradientUnits="userSpaceOnUse" x1="0" y1="-10.6" x2="0" y2="10.6"><stop offset="0" stop-color="#000061"/><stop offset=".031" stop-color="#000070"/><stop offset=".094" stop-color="#0000a2"/><stop offset=".188" stop-color="#0000d0"/><stop offset=".312" stop-color="#0000f8"/><stop offset=".344" stop-color="#0101ff"/><stop offset=".375" stop-color="#0404ff"/><stop offset=".406" stop-color="#0d0dff"/><stop offset=".438" stop-color="#1f1fff"/><stop offset=".469" stop-color="#3d3dff"/><stop offset=".531" stop-color="#8686ff"/><stop offset=".562" stop-color="#9797ff"/><stop offset=".594" stop-color="#8f8fff"/><stop offset=".625" stop-color="#7171ff"/><stop offset=".688" stop-color="#2626ff"/><stop offset=".719" stop-color="#1010ff"/><stop offset=".781" stop-color="#0101ff"/><stop offset=".875" stop-color="#0000ff"/><stop offset=".906" stop-color="#0000f6"/><stop offset=".969" stop-color="#0000d1"/><stop offset="1" stop-color="#000094"/></linearGradient><linearGradient id="a170" gradientUnits="userSpaceOnUse" x1="0" y1="-10.6" x2="0" y2="10.6"><stop offset="0" stop-color="#0000ca"/><stop offset=".031" stop-color="#0000fa"/><stop offset=".062" stop-color="#0000ff"/><stop offset=".188" stop-color="#0404ff"/><stop offset=".219" stop-color="#0d0dff"/><stop offset=".25" stop-color="#1e1eff"/><stop offset=".312" stop-color="#4b4bff"/><stop offset=".344" stop-color="#5656ff"/><stop offset=".375" stop-color="#5050ff"/><stop offset=".469" stop-color="#1616ff"/><stop offset=".531" stop-color="#0404fd"/><stop offset=".75" stop-color="#0000b6"/><stop offset=".844" stop-color="#00008d"/><stop offset=".906" stop-color="#000069"/><stop offset=".938" stop-color="#000061"/><stop offset="1" stop-color="#000061"/></linearGradient><linearGradient id="a171" gradientUnits="userSpaceOnUse" x1="0" y1="-10.6" x2="0" y2="10.6"><stop offset="0" stop-color="#860000"/><stop offset=".031" stop-color="#c00000"/><stop offset=".094" stop-color="#e50000"/><stop offset=".156" stop-color="#f90000"/><stop offset=".219" stop-color="#ff0000"/><stop offset=".625" stop-color="#ff0000"/><stop offset=".719" stop-color="#ee0000"/><stop offset=".844" stop-color="#c60000"/><stop offset=".938" stop-color="#950000"/><stop offset="1" stop-color="#610000"/></linearGradient><linearGradient id="a172" gradientUnits="userSpaceOnUse" x1="0" y1="-10.6" x2="0" y2="10.6"><stop offset="0" stop-color="#0000ec"/><stop offset=".031" stop-color="#0000ff"/><stop offset=".125" stop-color="#0101ff"/><stop offset=".156" stop-color="#0707ff"/><stop offset=".188" stop-color="#1616ff"/><stop offset=".25" stop-color="#4848ff"/><stop offset=".281" stop-color="#5757ff"/><stop offset=".312" stop-color="#5454ff"/><stop offset=".406" stop-color="#1818fe"/><stop offset=".469" stop-color="#0404de"/><stop offset=".688" stop-color="#000095"/><stop offset=".812" stop-color="#000062"/><stop offset="1" stop-color="#000061"/></linearGradient><linearGradient id="a173" gradientUnits="userSpaceOnUse" x1="0" y1="-10.6" x2="0" y2="10.6"><stop offset="0" stop-color="#610000"/><stop offset=".062" stop-color="#950000"/><stop offset=".156" stop-color="#ca0000"/><stop offset=".25" stop-color="#eb0000"/><stop offset=".344" stop-color="#ff0000"/><stop offset=".562" stop-color="#ff0b0b"/><stop offset=".719" stop-color="#ff0101"/><stop offset=".844" stop-color="#ff0000"/><stop offset=".875" stop-color="#fa0000"/><stop offset=".938" stop-color="#df0000"/><stop offset=".969" stop-color="#c80000"/><stop offset="1" stop-color="#8b0000"/></linearGradient><linearGradient id="a174" gradientUnits="userSpaceOnUse" x1="0" y1="-10.6" x2="0" y2="10.6"><stop offset="0" stop-color="#f00000"/><stop offset=".031" stop-color="#ff0000"/><stop offset=".156" stop-color="#fe0000"/><stop offset=".219" stop-color="#f80101"/><stop offset=".344" stop-color="#de0000"/><stop offset=".5" stop-color="#b50000"/><stop offset=".75" stop-color="#630000"/><stop offset="1" stop-color="#610000"/></linearGradient><linearGradient id="a175" gradientUnits="userSpaceOnUse" x1="0" y1="-10.6" x2="0" y2="10.6"><stop offset="0" stop-color="#00008b"/><stop offset=".031" stop-color="#0000c4"/><stop offset=".094" stop-color="#0000e8"/><stop offset=".156" stop-color="#0000fc"/><stop offset=".625" stop-color="#0000fe"/><stop offset=".75" stop-color="#0000e2"/><stop offset=".844" stop-color="#0000c2"/><stop offset=".906" stop-color="#0000a4"/><stop offset="1" stop-color="#000061"/></linearGradient><linearGradient id="a176" gradientUnits="userSpaceOnUse" x1="0" y1="-10.6" x2="0" y2="10.6"><stop offset="0" stop-color="#0000e5"/><stop offset=".031" stop-color="#0000ff"/><stop offset=".125" stop-color="#0202ff"/><stop offset=".156" stop-color="#0b0bff"/><stop offset=".188" stop-color="#2626ff"/><stop offset=".219" stop-color="#5959ff"/><stop offset=".25" stop-color="#9c9cff"/><stop offset=".281" stop-color="#d3d3ff"/><stop offset=".312" stop-color="#e4e4ff"/><stop offset=".344" stop-color="#c9c9ff"/><stop offset=".406" stop-color="#5858ff"/><stop offset=".438" stop-color="#2c2cff"/><stop offset=".469" stop-color="#1313fe"/><stop offset=".5" stop-color="#0606ea"/><stop offset=".562" stop-color="#0000d3"/><stop offset=".719" stop-color="#00009d"/><stop offset=".844" stop-color="#000065"/><stop offset="1" stop-color="#000061"/></linearGradient><linearGradient id="a177" gradientUnits="userSpaceOnUse" x1="0" y1="-10.6" x2="0" y2="10.6"><stop offset="0" stop-color="#e00000"/><stop offset=".031" stop-color="#e60000"/><stop offset=".062" stop-color="#e30000"/><stop offset=".188" stop-color="#cf0000"/><stop offset=".656" stop-color="#610000"/><stop offset="1" stop-color="#610000"/></linearGradient><linearGradient id="a178" gradientUnits="userSpaceOnUse" x1="0" y1="-10.6" x2="0" y2="10.6"><stop offset="0" stop-color="#610000"/><stop offset=".031" stop-color="#870000"/><stop offset=".062" stop-color="#a20000"/><stop offset=".125" stop-color="#c60000"/><stop offset=".219" stop-color="#ea0000"/><stop offset=".312" stop-color="#ff0000"/><stop offset=".531" stop-color="#ff0404"/><stop offset=".844" stop-color="#fb0000"/><stop offset=".906" stop-color="#e40000"/><stop offset=".969" stop-color="#bc0000"/><stop offset="1" stop-color="#7e0000"/></linearGradient><linearGradient id="a179" gradientUnits="userSpaceOnUse" x1="0" y1="-10.6" x2="0" y2="10.6"><stop offset="0" stop-color="#0000a1"/><stop offset=".031" stop-color="#0000cd"/><stop offset=".094" stop-color="#0000e5"/><stop offset=".219" stop-color="#0000f7"/><stop offset=".375" stop-color="#0000f6"/><stop offset=".531" stop-color="#0000e6"/><stop offset=".688" stop-color="#0000c8"/><stop offset=".844" stop-color="#000098"/><stop offset=".938" stop-color="#00006b"/><stop offset=".969" stop-color="#000061"/><stop offset="1" stop-color="#000061"/></linearGradient><linearGradient id="a180" gradientUnits="userSpaceOnUse" x1="0" y1="-10.6" x2="0" y2="10.6"><stop offset="0" stop-color="#610000"/><stop offset=".094" stop-color="#610000"/><stop offset=".188" stop-color="#920000"/><stop offset=".281" stop-color="#b80000"/><stop offset=".406" stop-color="#e00000"/><stop offset=".531" stop-color="#ff0303"/><stop offset=".656" stop-color="#ff1010"/><stop offset=".812" stop-color="#ff0101"/><stop offset=".938" stop-color="#ff0000"/><stop offset=".969" stop-color="#fb0000"/><stop offset="1" stop-color="#ce0000"/></linearGradient><linearGradient id="a181" gradientUnits="userSpaceOnUse" x1="0" y1="-10.6" x2="0" y2="10.6"><stop offset="0" stop-color="#610000"/><stop offset=".031" stop-color="#8b0000"/><stop offset=".062" stop-color="#a30000"/><stop offset=".125" stop-color="#c30000"/><stop offset=".25" stop-color="#ea0000"/><stop offset=".375" stop-color="#ff0000"/><stop offset=".719" stop-color="#fe0000"/><stop offset=".812" stop-color="#ef0000"/><stop offset=".875" stop-color="#dd0000"/><stop offset=".938" stop-color="#c10000"/><stop offset=".969" stop-color="#ac0000"/><stop offset="1" stop-color="#720000"/></linearGradient><linearGradient id="a182" gradientUnits="userSpaceOnUse" x1="0" y1="-10.6" x2="0" y2="10.6"><stop offset="0" stop-color="#d80000"/><stop offset=".031" stop-color="#ff0000"/><stop offset=".125" stop-color="#ff0000"/><stop offset=".156" stop-color="#ff0404"/><stop offset=".188" stop-color="#ff0f0f"/><stop offset=".219" stop-color="#ff2a2a"/><stop offset=".281" stop-color="#ff8383"/><stop offset=".312" stop-color="#ffa2a2"/><stop offset=".344" stop-color="#ffa2a2"/><stop offset=".375" stop-color="#ff8686"/><stop offset=".438" stop-color="#ff3535"/><stop offset=".469" stop-color="#ff1919"/><stop offset=".5" stop-color="#fe0a0a"/><stop offset=".562" stop-color="#e50101"/><stop offset=".75" stop-color="#a50000"/><stop offset=".875" stop-color="#690000"/><stop offset=".906" stop-color="#610000"/><stop offset="1" stop-color="#610000"/></linearGradient><linearGradient id="a183" gradientUnits="userSpaceOnUse" x1="0" y1="-10.6" x2="0" y2="10.6"><stop offset="0" stop-color="#0000f4"/><stop offset=".031" stop-color="#0000ff"/><stop offset=".094" stop-color="#0000ff"/><stop offset=".219" stop-color="#0000ef"/><stop offset=".469" stop-color="#0000b1"/><stop offset=".719" stop-color="#000062"/><stop offset="1" stop-color="#000061"/></linearGradient><linearGradient id="a184" gradientUnits="userSpaceOnUse" x1="0" y1="-10.6" x2="0" y2="10.6"><stop offset="0" stop-color="#000061"/><stop offset=".031" stop-color="#000061"/><stop offset=".125" stop-color="#00009d"/><stop offset=".219" stop-color="#0000c8"/><stop offset=".312" stop-color="#0000e8"/><stop offset=".406" stop-color="#0505ff"/><stop offset=".438" stop-color="#0d0dff"/><stop offset=".469" stop-color="#2020ff"/><stop offset=".5" stop-color="#3e3eff"/><stop offset=".562" stop-color="#8989ff"/><stop offset=".594" stop-color="#9d9dff"/><stop offset=".625" stop-color="#9595ff"/><stop offset=".656" stop-color="#7575ff"/><stop offset=".719" stop-color="#2626ff"/><stop offset=".75" stop-color="#0f0fff"/><stop offset=".781" stop-color="#0404ff"/><stop offset=".812" stop-color="#0101ff"/><stop offset=".906" stop-color="#0000ff"/><stop offset=".938" stop-color="#0000f7"/><stop offset=".969" stop-color="#0000e4"/><stop offset="1" stop-color="#0000ac"/></linearGradient><linearGradient id="a185" gradientUnits="userSpaceOnUse" x1="0" y1="-10.6" x2="0" y2="10.6"><stop offset="0" stop-color="#760000"/><stop offset=".031" stop-color="#b70000"/><stop offset=".062" stop-color="#cf0000"/><stop offset=".125" stop-color="#ee0000"/><stop offset=".188" stop-color="#ff0000"/><stop offset=".719" stop-color="#fe0000"/><stop offset=".812" stop-color="#e60000"/><stop offset=".906" stop-color="#bd0000"/><stop offset=".938" stop-color="#a90000"/><stop offset=".969" stop-color="#8e0000"/><stop offset="1" stop-color="#610000"/></linearGradient><linearGradient id="a186" gradientUnits="userSpaceOnUse" x1="0" y1="-10.6" x2="0" y2="10.6"><stop offset="0" stop-color="#000061"/><stop offset=".062" stop-color="#000061"/><stop offset=".125" stop-color="#000089"/><stop offset=".219" stop-color="#0000b6"/><stop offset=".375" stop-color="#0101eb"/><stop offset=".438" stop-color="#0808ff"/><stop offset=".469" stop-color="#1616ff"/><stop offset=".5" stop-color="#3333ff"/><stop offset=".531" stop-color="#6060ff"/><stop offset=".594" stop-color="#ccccff"/><stop offset=".625" stop-color="#e3e3ff"/><stop offset=".656" stop-color="#d1d1ff"/><stop offset=".688" stop-color="#9d9dff"/><stop offset=".719" stop-color="#5f5fff"/><stop offset=".75" stop-color="#2d2dff"/><stop offset=".781" stop-color="#1010ff"/><stop offset=".812" stop-color="#0404ff"/><stop offset=".844" stop-color="#0101ff"/><stop offset=".938" stop-color="#0000ff"/><stop offset=".969" stop-color="#0000f3"/><stop offset="1" stop-color="#0000bf"/></linearGradient><linearGradient id="a187" gradientUnits="userSpaceOnUse" x1="0" y1="-10.6" x2="0" y2="10.6"><stop offset="0" stop-color="#850000"/><stop offset=".031" stop-color="#c40000"/><stop offset=".094" stop-color="#eb0000"/><stop offset=".156" stop-color="#ff0000"/><stop offset=".438" stop-color="#ff0404"/><stop offset=".688" stop-color="#fe0000"/><stop offset=".781" stop-color="#e60000"/><stop offset=".875" stop-color="#c10000"/><stop offset=".938" stop-color="#9b0000"/><stop offset="1" stop-color="#610000"/></linearGradient><linearGradient id="a188" gradientUnits="userSpaceOnUse" x1="0" y1="-10.6" x2="0" y2="10.6"><stop offset="0" stop-color="#0000d7"/><stop offset=".531" stop-color="#000062"/><stop offset="1" stop-color="#000061"/></linearGradient><linearGradient id="a189" gradientUnits="userSpaceOnUse" x1="0" y1="-10.6" x2="0" y2="10.6"><stop offset="0" stop-color="#000061"/><stop offset=".094" stop-color="#000066"/><stop offset=".156" stop-color="#000089"/><stop offset=".25" stop-color="#0000b3"/><stop offset=".406" stop-color="#0101e8"/><stop offset=".469" stop-color="#0a0aff"/><stop offset=".5" stop-color="#1919ff"/><stop offset=".531" stop-color="#3636ff"/><stop offset=".594" stop-color="#9090ff"/><stop offset=".625" stop-color="#b4b4ff"/><stop offset=".656" stop-color="#bbbbff"/><stop offset=".688" stop-color="#9f9fff"/><stop offset=".75" stop-color="#3b3bff"/><stop offset=".781" stop-color="#1818ff"/><stop offset=".812" stop-color="#0707ff"/><stop offset=".844" stop-color="#0101ff"/><stop offset=".969" stop-color="#0000fc"/><stop offset="1" stop-color="#0000cc"/></linearGradient><linearGradient id="a190" gradientUnits="userSpaceOnUse" x1="0" y1="-10.6" x2="0" y2="10.6"><stop offset="0" stop-color="#610000"/><stop offset=".031" stop-color="#730000"/><stop offset=".094" stop-color="#a40000"/><stop offset=".156" stop-color="#c40000"/><stop offset=".25" stop-color="#e70000"/><stop offset=".344" stop-color="#ff0101"/><stop offset=".438" stop-color="#ff0d0d"/><stop offset=".531" stop-color="#ff3636"/><stop offset=".562" stop-color="#ff3c3c"/><stop offset=".594" stop-color="#ff3838"/><stop offset=".688" stop-color="#ff0e0e"/><stop offset=".719" stop-color="#ff0606"/><stop offset=".875" stop-color="#fe0000"/><stop offset=".938" stop-color="#e40000"/><stop offset=".969" stop-color="#ce0000"/><stop offset="1" stop-color="#920000"/></linearGradient><linearGradient id="a191" gradientUnits="userSpaceOnUse" x1="0" y1="-10.6" x2="0" y2="10.6"><stop offset="0" stop-color="#000061"/><stop offset=".031" stop-color="#000082"/><stop offset=".062" stop-color="#00009a"/><stop offset=".156" stop-color="#0000c6"/><stop offset=".312" stop-color="#0000ef"/><stop offset=".375" stop-color="#0000f9"/><stop offset=".469" stop-color="#0000ff"/><stop offset=".719" stop-color="#0000fd"/><stop offset=".844" stop-color="#0000e9"/><stop offset=".906" stop-color="#0000d5"/><stop offset=".969" stop-color="#0000b2"/><stop offset="1" stop-color="#00007b"/></linearGradient><linearGradient id="a192" gradientUnits="userSpaceOnUse" x1="0" y1="-10.6" x2="0" y2="10.6"><stop offset="0" stop-color="#000061"/><stop offset=".062" stop-color="#000095"/><stop offset=".156" stop-color="#0000c7"/><stop offset=".281" stop-color="#0000ef"/><stop offset=".375" stop-color="#0000ff"/><stop offset=".844" stop-color="#0000fb"/><stop offset=".906" stop-color="#0000e7"/><stop offset=".969" stop-color="#0000c2"/><stop offset="1" stop-color="#000087"/></linearGradient><linearGradient id="a193" gradientUnits="userSpaceOnUse" x1="0" y1="-10.6" x2="0" y2="10.6"><stop offset="0" stop-color="#610000"/><stop offset=".062" stop-color="#610000"/><stop offset=".156" stop-color="#960000"/><stop offset=".25" stop-color="#bf0000"/><stop offset=".406" stop-color="#f00101"/><stop offset=".469" stop-color="#ff0909"/><stop offset=".5" stop-color="#ff1515"/><stop offset=".594" stop-color="#ff5d5d"/><stop offset=".625" stop-color="#ff6a6a"/><stop offset=".656" stop-color="#ff6464"/><stop offset=".75" stop-color="#ff1717"/><stop offset=".781" stop-color="#ff0808"/><stop offset=".844" stop-color="#ff0000"/><stop offset=".938" stop-color="#ff0000"/><stop offset=".969" stop-color="#f30000"/><stop offset="1" stop-color="#c00000"/></linearGradient><linearGradient id="a194" gradientUnits="userSpaceOnUse" x1="0" y1="-10.6" x2="0" y2="10.6"><stop offset="0" stop-color="#b60000"/><stop offset=".031" stop-color="#ec0000"/><stop offset=".062" stop-color="#fe0000"/><stop offset=".219" stop-color="#ff0101"/><stop offset=".375" stop-color="#ff1313"/><stop offset=".562" stop-color="#ff0101"/><stop offset=".656" stop-color="#e90000"/><stop offset=".75" stop-color="#ca0000"/><stop offset=".844" stop-color="#a30000"/><stop offset=".938" stop-color="#690000"/><stop offset=".969" stop-color="#610000"/><stop offset="1" stop-color="#610000"/></linearGradient><linearGradient id="a195" gradientUnits="userSpaceOnUse" x1="0" y1="-10.6" x2="0" y2="10.6"><stop offset="0" stop-color="#000061"/><stop offset=".094" stop-color="#000064"/><stop offset=".156" stop-color="#000088"/><stop offset=".25" stop-color="#0000b1"/><stop offset=".469" stop-color="#0505fa"/><stop offset=".5" stop-color="#0e0eff"/><stop offset=".531" stop-color="#1f1fff"/><stop offset=".625" stop-color="#6c6cff"/><stop offset=".656" stop-color="#7272ff"/><stop offset=".688" stop-color="#6363ff"/><stop offset=".75" stop-color="#2626ff"/><stop offset=".781" stop-color="#1010ff"/><stop offset=".812" stop-color="#0505ff"/><stop offset=".969" stop-color="#0000fc"/><stop offset="1" stop-color="#0000cd"/></linearGradient><linearGradient id="a196" gradientUnits="userSpaceOnUse" x1="0" y1="-10.6" x2="0" y2="10.6"><stop offset="0" stop-color="#f20000"/><stop offset=".031" stop-color="#ff0000"/><stop offset=".125" stop-color="#ff0000"/><stop offset=".25" stop-color="#ef0000"/><stop offset=".469" stop-color="#ba0000"/><stop offset=".75" stop-color="#610000"/><stop offset="1" stop-color="#610000"/></linearGradient><linearGradient id="a197" gradientUnits="userSpaceOnUse" x1="0" y1="-10.6" x2="0" y2="10.6"><stop offset="0" stop-color="#0000d9"/><stop offset=".031" stop-color="#0000ff"/><stop offset=".125" stop-color="#0101ff"/><stop offset=".156" stop-color="#0404ff"/><stop offset=".188" stop-color="#1111ff"/><stop offset=".219" stop-color="#2e2eff"/><stop offset=".281" stop-color="#9292ff"/><stop offset=".312" stop-color="#b3b3ff"/><stop offset=".344" stop-color="#b3b3ff"/><stop offset=".375" stop-color="#9393ff"/><stop offset=".438" stop-color="#3939ff"/><stop offset=".469" stop-color="#1b1bff"/><stop offset=".5" stop-color="#0b0bf5"/><stop offset=".562" stop-color="#0101db"/><stop offset=".75" stop-color="#00009c"/><stop offset=".875" stop-color="#000062"/><stop offset="1" stop-color="#000061"/></linearGradient><linearGradient id="a198" gradientUnits="userSpaceOnUse" x1="0" y1="-10.6" x2="0" y2="10.6"><stop offset="0" stop-color="#d60000"/><stop offset=".031" stop-color="#f60000"/><stop offset=".062" stop-color="#fe0000"/><stop offset=".312" stop-color="#fc0606"/><stop offset=".625" stop-color="#b20000"/><stop offset=".75" stop-color="#890000"/><stop offset=".844" stop-color="#630000"/><stop offset="1" stop-color="#610000"/></linearGradient><linearGradient id="a199" gradientUnits="userSpaceOnUse" x1="0" y1="-10.6" x2="0" y2="10.6"><stop offset="0" stop-color="#000061"/><stop offset=".094" stop-color="#000063"/><stop offset=".156" stop-color="#000087"/><stop offset=".25" stop-color="#0000b1"/><stop offset=".438" stop-color="#0101ee"/><stop offset=".5" stop-color="#0909ff"/><stop offset=".531" stop-color="#1414ff"/><stop offset=".625" stop-color="#4a4aff"/><stop offset=".656" stop-color="#4f4fff"/><stop offset=".688" stop-color="#4545ff"/><stop offset=".781" stop-color="#0c0cff"/><stop offset=".812" stop-color="#0404ff"/><stop offset=".969" stop-color="#0000fc"/><stop offset="1" stop-color="#0000cd"/></linearGradient><linearGradient id="a200" gradientUnits="userSpaceOnUse" x1="0" y1="-10.6" x2="0" y2="10.6"><stop offset="0" stop-color="#0000f0"/><stop offset=".031" stop-color="#0000ff"/><stop offset=".219" stop-color="#0101fa"/><stop offset=".312" stop-color="#0101e9"/><stop offset=".469" stop-color="#0000c1"/><stop offset=".625" stop-color="#000092"/><stop offset=".75" stop-color="#000065"/><stop offset=".781" stop-color="#000061"/><stop offset="1" stop-color="#000061"/></linearGradient><linearGradient id="a201" gradientUnits="userSpaceOnUse" x1="0" y1="-10.6" x2="0" y2="10.6"><stop offset="0" stop-color="#610000"/><stop offset=".094" stop-color="#a60000"/><stop offset=".156" stop-color="#c50000"/><stop offset=".25" stop-color="#e80000"/><stop offset=".344" stop-color="#ff0000"/><stop offset=".438" stop-color="#ff0606"/><stop offset=".562" stop-color="#ff1b1b"/><stop offset=".719" stop-color="#ff0202"/><stop offset=".875" stop-color="#fc0000"/><stop offset=".938" stop-color="#e20000"/><stop offset=".969" stop-color="#cc0000"/><stop offset="1" stop-color="#8f0000"/></linearGradient><linearGradient id="a202" gradientUnits="userSpaceOnUse" x1="0" y1="-10.6" x2="0" y2="10.6"><stop offset="0" stop-color="#000061"/><stop offset=".031" stop-color="#000061"/><stop offset=".094" stop-color="#000090"/><stop offset=".125" stop-color="#0000a2"/><stop offset=".219" stop-color="#0000cd"/><stop offset=".344" stop-color="#0000f4"/><stop offset=".406" stop-color="#0202ff"/><stop offset=".469" stop-color="#0d0dff"/><stop offset=".562" stop-color="#3636ff"/><stop offset=".594" stop-color="#3b3bff"/><stop offset=".625" stop-color="#3737ff"/><stop offset=".719" stop-color="#0d0dff"/><stop offset=".75" stop-color="#0505ff"/><stop offset=".906" stop-color="#0000ff"/><stop offset=".938" stop-color="#0000f3"/><stop offset=".969" stop-color="#0000df"/><stop offset="1" stop-color="#0000a6"/></linearGradient><linearGradient id="a203" gradientUnits="userSpaceOnUse" x1="0" y1="-10.6" x2="0" y2="10.6"><stop offset="0" stop-color="#610000"/><stop offset=".031" stop-color="#710000"/><stop offset=".094" stop-color="#a30000"/><stop offset=".156" stop-color="#c40000"/><stop offset=".25" stop-color="#e70000"/><stop offset=".344" stop-color="#ff0101"/><stop offset=".406" stop-color="#ff0c0c"/><stop offset=".438" stop-color="#ff1d1d"/><stop offset=".531" stop-color="#ff7878"/><stop offset=".562" stop-color="#ff8787"/><stop offset=".594" stop-color="#ff7f7f"/><stop offset=".625" stop-color="#ff6363"/><stop offset=".688" stop-color="#ff2121"/><stop offset=".719" stop-color="#ff0d0d"/><stop offset=".781" stop-color="#ff0101"/><stop offset=".875" stop-color="#ff0000"/><stop offset=".938" stop-color="#e60000"/><stop offset=".969" stop-color="#d00000"/><stop offset="1" stop-color="#930000"/></linearGradient><linearGradient id="a204" gradientUnits="userSpaceOnUse" x1="0" y1="-10.6" x2="0" y2="10.6"><stop offset="0" stop-color="#000061"/><stop offset=".094" stop-color="#000063"/><stop offset=".156" stop-color="#000086"/><stop offset=".25" stop-color="#0000b0"/><stop offset=".5" stop-color="#0505ff"/><stop offset=".625" stop-color="#2d2dff"/><stop offset=".656" stop-color="#3030ff"/><stop offset=".688" stop-color="#2b2bff"/><stop offset=".781" stop-color="#0707ff"/><stop offset=".812" stop-color="#0202ff"/><stop offset=".969" stop-color="#0000fc"/><stop offset="1" stop-color="#0000cd"/></linearGradient><linearGradient id="a205" gradientUnits="userSpaceOnUse" x1="0" y1="-10.6" x2="0" y2="10.6"><stop offset="0" stop-color="#0000d1"/><stop offset=".031" stop-color="#0000f2"/><stop offset=".062" stop-color="#0000fb"/><stop offset=".188" stop-color="#0000ff"/><stop offset=".281" stop-color="#0000f9"/><stop offset=".406" stop-color="#0000e6"/><stop offset=".562" stop-color="#0000c4"/><stop offset=".719" stop-color="#000096"/><stop offset=".844" stop-color="#000066"/><stop offset=".875" stop-color="#000061"/><stop offset="1" stop-color="#000061"/></linearGradient><linearGradient id="a206" gradientUnits="userSpaceOnUse" x1="0" y1="-10.6" x2="0" y2="10.6"><stop offset="0" stop-color="#e10000"/><stop offset=".031" stop-color="#e90000"/><stop offset=".062" stop-color="#e70000"/><stop offset=".219" stop-color="#cd0000"/><stop offset=".438" stop-color="#9d0000"/><stop offset=".656" stop-color="#630000"/><stop offset="1" stop-color="#610000"/></linearGradient><linearGradient id="a207" gradientUnits="userSpaceOnUse" x1="0" y1="-10.6" x2="0" y2="10.6"><stop offset="0" stop-color="#610000"/><stop offset=".031" stop-color="#610000"/><stop offset=".125" stop-color="#9f0000"/><stop offset=".219" stop-color="#c90000"/><stop offset=".312" stop-color="#e90000"/><stop offset=".406" stop-color="#fe0101"/><stop offset=".469" stop-color="#ff0808"/><stop offset=".594" stop-color="#ff2727"/><stop offset=".625" stop-color="#ff2626"/><stop offset=".75" stop-color="#ff0404"/><stop offset=".906" stop-color="#ff0000"/><stop offset=".938" stop-color="#f50000"/><stop offset=".969" stop-color="#e20000"/><stop offset="1" stop-color="#a90000"/></linearGradient><linearGradient id="a208" gradientUnits="userSpaceOnUse" x1="0" y1="-10.6" x2="0" y2="10.6"><stop offset="0" stop-color="#000061"/><stop offset=".031" stop-color="#000073"/><stop offset=".094" stop-color="#0000a4"/><stop offset=".156" stop-color="#0000c4"/><stop offset=".25" stop-color="#0000e7"/><stop offset=".344" stop-color="#0000ff"/><stop offset=".438" stop-color="#0a0aff"/><stop offset=".531" stop-color="#2727ff"/><stop offset=".562" stop-color="#2c2cff"/><stop offset=".594" stop-color="#2929ff"/><stop offset=".719" stop-color="#0404ff"/><stop offset=".875" stop-color="#0000fe"/><stop offset=".938" stop-color="#0000e3"/><stop offset=".969" stop-color="#0000cd"/><stop offset="1" stop-color="#000091"/></linearGradient><linearGradient id="a209" gradientUnits="userSpaceOnUse" x1="0" y1="-10.6" x2="0" y2="10.6"><stop offset="0" stop-color="#0000e5"/><stop offset=".062" stop-color="#0000e4"/><stop offset=".188" stop-color="#0000cc"/><stop offset=".625" stop-color="#000061"/><stop offset="1" stop-color="#000061"/></linearGradient><linearGradient id="a210" gradientUnits="userSpaceOnUse" x1="0" y1="-10.6" x2="0" y2="10.6"><stop offset="0" stop-color="#d60000"/><stop offset=".031" stop-color="#ff0000"/><stop offset=".125" stop-color="#ff0000"/><stop offset=".188" stop-color="#ff0a0a"/><stop offset=".219" stop-color="#ff1d1d"/><stop offset=".281" stop-color="#ff5e5e"/><stop offset=".312" stop-color="#ff7474"/><stop offset=".344" stop-color="#ff7575"/><stop offset=".375" stop-color="#ff6161"/><stop offset=".438" stop-color="#ff2727"/><stop offset=".469" stop-color="#ff1313"/><stop offset=".5" stop-color="#fd0707"/><stop offset=".562" stop-color="#e70101"/><stop offset=".719" stop-color="#b40000"/><stop offset=".906" stop-color="#610000"/><stop offset="1" stop-color="#610000"/></linearGradient><linearGradient id="a211" gradientUnits="userSpaceOnUse" x1="0" y1="-10.6" x2="0" y2="10.6"><stop offset="0" stop-color="#000061"/><stop offset=".062" stop-color="#000061"/><stop offset=".156" stop-color="#000097"/><stop offset=".219" stop-color="#0000b4"/><stop offset=".375" stop-color="#0000e9"/><stop offset=".438" stop-color="#0707ff"/><stop offset=".469" stop-color="#1313ff"/><stop offset=".5" stop-color="#2d2dff"/><stop offset=".531" stop-color="#5757ff"/><stop offset=".594" stop-color="#bcbcff"/><stop offset=".625" stop-color="#d3d3ff"/><stop offset=".656" stop-color="#c5c5ff"/><stop offset=".688" stop-color="#9696ff"/><stop offset=".719" stop-color="#5c5cff"/><stop offset=".75" stop-color="#2c2cff"/><stop offset=".781" stop-color="#1010ff"/><stop offset=".812" stop-color="#0404ff"/><stop offset=".844" stop-color="#0101ff"/><stop offset=".938" stop-color="#0000ff"/><stop offset=".969" stop-color="#0000f4"/><stop offset="1" stop-color="#0000c0"/></linearGradient><linearGradient id="a212" gradientUnits="userSpaceOnUse" x1="0" y1="-10.6" x2="0" y2="10.6"><stop offset="0" stop-color="#610000"/><stop offset=".031" stop-color="#610000"/><stop offset=".062" stop-color="#6f0000"/><stop offset=".125" stop-color="#980000"/><stop offset=".219" stop-color="#c40000"/><stop offset=".406" stop-color="#fe0101"/><stop offset=".469" stop-color="#ff0808"/><stop offset=".594" stop-color="#ff3535"/><stop offset=".625" stop-color="#ff3636"/><stop offset=".75" stop-color="#ff0808"/><stop offset=".812" stop-color="#ff0101"/><stop offset=".906" stop-color="#ff0000"/><stop offset=".938" stop-color="#fb0000"/><stop offset=".969" stop-color="#e80000"/><stop offset="1" stop-color="#b10000"/></linearGradient><linearGradient id="a213" gradientUnits="userSpaceOnUse" x1="0" y1="-10.6" x2="0" y2="10.6"><stop offset="0" stop-color="#0000d1"/><stop offset=".031" stop-color="#0000eb"/><stop offset=".062" stop-color="#0000f1"/><stop offset=".156" stop-color="#0000f2"/><stop offset=".25" stop-color="#0000eb"/><stop offset=".375" stop-color="#0000d8"/><stop offset=".531" stop-color="#0000b8"/><stop offset=".688" stop-color="#00008e"/><stop offset=".812" stop-color="#000064"/><stop offset="1" stop-color="#000061"/></linearGradient><linearGradient id="a214" gradientUnits="userSpaceOnUse" x1="0" y1="-10.6" x2="0" y2="10.6"><stop offset="0" stop-color="#610000"/><stop offset=".062" stop-color="#610000"/><stop offset=".156" stop-color="#950000"/><stop offset=".25" stop-color="#bd0000"/><stop offset=".344" stop-color="#dd0000"/><stop offset=".469" stop-color="#fd0202"/><stop offset=".625" stop-color="#ff1515"/><stop offset=".781" stop-color="#ff0202"/><stop offset=".938" stop-color="#ff0000"/><stop offset=".969" stop-color="#f10000"/><stop offset="1" stop-color="#bf0000"/></linearGradient><linearGradient id="a215" gradientUnits="userSpaceOnUse" x1="0" y1="-10.6" x2="0" y2="10.6"><stop offset="0" stop-color="#0000e3"/><stop offset=".031" stop-color="#0000f3"/><stop offset=".062" stop-color="#0000f4"/><stop offset=".219" stop-color="#0000e3"/><stop offset=".438" stop-color="#0000b5"/><stop offset=".719" stop-color="#000065"/><stop offset=".75" stop-color="#000061"/><stop offset="1" stop-color="#000061"/></linearGradient><linearGradient id="a216" gradientUnits="userSpaceOnUse" x1="0" y1="-10.6" x2="0" y2="10.6"><stop offset="0" stop-color="#eb0000"/><stop offset=".031" stop-color="#ff0000"/><stop offset=".25" stop-color="#fc0303"/><stop offset=".344" stop-color="#e90202"/><stop offset=".531" stop-color="#b80000"/><stop offset=".656" stop-color="#910000"/><stop offset=".781" stop-color="#620000"/><stop offset="1" stop-color="#610000"/></linearGradient><linearGradient id="a217" gradientUnits="userSpaceOnUse" x1="0" y1="-10.6" x2="0" y2="10.6"><stop offset="0" stop-color="#000091"/><stop offset=".031" stop-color="#0000ce"/><stop offset=".062" stop-color="#0000e4"/><stop offset=".125" stop-color="#0000fe"/><stop offset=".438" stop-color="#0707ff"/><stop offset=".656" stop-color="#0000ff"/><stop offset=".75" stop-color="#0000e8"/><stop offset=".844" stop-color="#0000c6"/><stop offset=".906" stop-color="#0000a5"/><stop offset=".969" stop-color="#000074"/><stop offset="1" stop-color="#000061"/></linearGradient><linearGradient id="a218" gradientUnits="userSpaceOnUse" x1="0" y1="-10.6" x2="0" y2="10.6"><stop offset="0" stop-color="#610000"/><stop offset=".031" stop-color="#650000"/><stop offset=".094" stop-color="#980000"/><stop offset=".188" stop-color="#c70000"/><stop offset=".281" stop-color="#e80000"/><stop offset=".375" stop-color="#ff0000"/><stop offset=".438" stop-color="#ff0303"/><stop offset=".594" stop-color="#ff1a1a"/><stop offset=".75" stop-color="#ff0202"/><stop offset=".906" stop-color="#fc0000"/><stop offset=".969" stop-color="#da0000"/><stop offset="1" stop-color="#9f0000"/></linearGradient><linearGradient id="a219" gradientUnits="userSpaceOnUse" x1="0" y1="-10.6" x2="0" y2="10.6"><stop offset="0" stop-color="#0000c5"/><stop offset=".031" stop-color="#0000f7"/><stop offset=".062" stop-color="#0000ff"/><stop offset=".219" stop-color="#0606ff"/><stop offset=".344" stop-color="#3030ff"/><stop offset=".375" stop-color="#2e2eff"/><stop offset=".469" stop-color="#0e0eff"/><stop offset=".531" stop-color="#0303fe"/><stop offset=".656" stop-color="#0000dc"/><stop offset=".75" stop-color="#0000bc"/><stop offset=".844" stop-color="#000092"/><stop offset=".938" stop-color="#000061"/><stop offset="1" stop-color="#000061"/></linearGradient><linearGradient id="a220" gradientUnits="userSpaceOnUse" x1="0" y1="-10.6" x2="0" y2="10.6"><stop offset="0" stop-color="#610000"/><stop offset=".031" stop-color="#610000"/><stop offset=".125" stop-color="#a00000"/><stop offset=".219" stop-color="#ca0000"/><stop offset=".312" stop-color="#ea0000"/><stop offset=".406" stop-color="#ff0303"/><stop offset=".469" stop-color="#ff1616"/><stop offset=".562" stop-color="#ff5a5a"/><stop offset=".594" stop-color="#ff6565"/><stop offset=".625" stop-color="#ff5f5f"/><stop offset=".719" stop-color="#ff1717"/><stop offset=".75" stop-color="#ff0909"/><stop offset=".812" stop-color="#ff0000"/><stop offset=".906" stop-color="#ff0000"/><stop offset=".938" stop-color="#f60000"/><stop offset=".969" stop-color="#e20000"/><stop offset="1" stop-color="#a90000"/></linearGradient><linearGradient id="a221" gradientUnits="userSpaceOnUse" x1="0" y1="-10.6" x2="0" y2="10.6"><stop offset="0" stop-color="#ad0000"/><stop offset=".031" stop-color="#d80000"/><stop offset=".094" stop-color="#ef0000"/><stop offset=".219" stop-color="#fd0000"/><stop offset=".375" stop-color="#f90000"/><stop offset=".531" stop-color="#e50000"/><stop offset=".656" stop-color="#cb0000"/><stop offset=".812" stop-color="#9c0000"/><stop offset=".875" stop-color="#820000"/><stop offset=".938" stop-color="#610000"/><stop offset="1" stop-color="#610000"/></linearGradient><linearGradient id="a222" gradientUnits="userSpaceOnUse" x1="0" y1="-10.6" x2="0" y2="10.6"><stop offset="0" stop-color="#610000"/><stop offset=".062" stop-color="#610000"/><stop offset=".125" stop-color="#890000"/><stop offset=".219" stop-color="#b60000"/><stop offset=".375" stop-color="#eb0000"/><stop offset=".438" stop-color="#ff0707"/><stop offset=".469" stop-color="#ff1515"/><stop offset=".5" stop-color="#ff3030"/><stop offset=".531" stop-color="#ff5b5b"/><stop offset=".594" stop-color="#ffbfbf"/><stop offset=".625" stop-color="#ffd3d3"/><stop offset=".656" stop-color="#ffc2c2"/><stop offset=".688" stop-color="#ff9292"/><stop offset=".719" stop-color="#ff5858"/><stop offset=".75" stop-color="#ff2929"/><stop offset=".781" stop-color="#ff0f0f"/><stop offset=".812" stop-color="#ff0404"/><stop offset=".844" stop-color="#ff0101"/><stop offset=".938" stop-color="#ff0000"/><stop offset=".969" stop-color="#f20000"/><stop offset="1" stop-color="#be0000"/></linearGradient><linearGradient id="a223" gradientUnits="userSpaceOnUse" x1="0" y1="-10.6" x2="0" y2="10.6"><stop offset="0" stop-color="#610000"/><stop offset=".062" stop-color="#610000"/><stop offset=".156" stop-color="#970000"/><stop offset=".219" stop-color="#b30000"/><stop offset=".438" stop-color="#fc0505"/><stop offset=".469" stop-color="#ff0d0d"/><stop offset=".5" stop-color="#ff1f1f"/><stop offset=".531" stop-color="#ff3b3b"/><stop offset=".594" stop-color="#ff8282"/><stop offset=".625" stop-color="#ff9494"/><stop offset=".656" stop-color="#ff8a8a"/><stop offset=".75" stop-color="#ff2020"/><stop offset=".781" stop-color="#ff0b0b"/><stop offset=".844" stop-color="#ff0000"/><stop offset=".938" stop-color="#ff0000"/><stop offset=".969" stop-color="#f30000"/><stop offset="1" stop-color="#c00000"/></linearGradient><linearGradient id="a224" gradientUnits="userSpaceOnUse" x1="0" y1="-10.6" x2="0" y2="10.6"><stop offset="0" stop-color="#ef0000"/><stop offset=".031" stop-color="#f90000"/><stop offset=".062" stop-color="#f80000"/><stop offset=".219" stop-color="#df0000"/><stop offset=".438" stop-color="#aa0000"/><stop offset=".688" stop-color="#620000"/><stop offset="1" stop-color="#610000"/></linearGradient><linearGradient id="a225" gradientUnits="userSpaceOnUse" x1="0" y1="-10.6" x2="0" y2="10.6"><stop offset="0" stop-color="#0000a4"/><stop offset=".031" stop-color="#0000dd"/><stop offset=".062" stop-color="#0000f1"/><stop offset=".094" stop-color="#0000fd"/><stop offset=".406" stop-color="#0505ff"/><stop offset=".594" stop-color="#0000fe"/><stop offset=".688" stop-color="#0000ea"/><stop offset=".781" stop-color="#0000cc"/><stop offset=".875" stop-color="#0000a2"/><stop offset=".938" stop-color="#00007b"/><stop offset=".969" stop-color="#000061"/><stop offset="1" stop-color="#000061"/></linearGradient><linearGradient id="a226" gradientUnits="userSpaceOnUse" x1="0" y1="-10.6" x2="0" y2="10.6"><stop offset="0" stop-color="#000061"/><stop offset=".031" stop-color="#000071"/><stop offset=".094" stop-color="#0000a2"/><stop offset=".156" stop-color="#0000c2"/><stop offset=".25" stop-color="#0000e6"/><stop offset=".344" stop-color="#0101ff"/><stop offset=".406" stop-color="#0a0aff"/><stop offset=".438" stop-color="#1717ff"/><stop offset=".531" stop-color="#6262ff"/><stop offset=".562" stop-color="#6e6eff"/><stop offset=".594" stop-color="#6868ff"/><stop offset=".688" stop-color="#1c1cff"/><stop offset=".719" stop-color="#0b0bff"/><stop offset=".781" stop-color="#0101ff"/><stop offset=".875" stop-color="#0000ff"/><stop offset=".938" stop-color="#0000e6"/><stop offset=".969" stop-color="#0000d0"/><stop offset="1" stop-color="#000094"/></linearGradient><linearGradient id="a227" gradientUnits="userSpaceOnUse" x1="0" y1="-10.6" x2="0" y2="10.6"><stop offset="0" stop-color="#630000"/><stop offset=".031" stop-color="#a30000"/><stop offset=".062" stop-color="#bd0000"/><stop offset=".125" stop-color="#de0000"/><stop offset=".219" stop-color="#fd0000"/><stop offset=".75" stop-color="#ff0000"/><stop offset=".781" stop-color="#fc0000"/><stop offset=".844" stop-color="#ea0000"/><stop offset=".938" stop-color="#bc0000"/><stop offset=".969" stop-color="#a20000"/><stop offset="1" stop-color="#630000"/></linearGradient><linearGradient id="a228" gradientUnits="userSpaceOnUse" x1="0" y1="-10.6" x2="0" y2="10.6"><stop offset="0" stop-color="#000061"/><stop offset=".031" stop-color="#000061"/><stop offset=".125" stop-color="#00009c"/><stop offset=".219" stop-color="#0000c7"/><stop offset=".312" stop-color="#0000e7"/><stop offset=".406" stop-color="#0606ff"/><stop offset=".438" stop-color="#1212ff"/><stop offset=".469" stop-color="#2a2aff"/><stop offset=".5" stop-color="#5353ff"/><stop offset=".562" stop-color="#bcbcff"/><stop offset=".594" stop-color="#d8d8ff"/><stop offset=".625" stop-color="#cfcfff"/><stop offset=".656" stop-color="#a4a4ff"/><stop offset=".719" stop-color="#3636ff"/><stop offset=".75" stop-color="#1616ff"/><stop offset=".781" stop-color="#0606ff"/><stop offset=".812" stop-color="#0101ff"/><stop offset=".906" stop-color="#0000ff"/><stop offset=".938" stop-color="#0000f9"/><stop offset=".969" stop-color="#0000e6"/><stop offset="1" stop-color="#0000ad"/></linearGradient><linearGradient id="a229" gradientUnits="userSpaceOnUse" x1="0" y1="-10.6" x2="0" y2="10.6"><stop offset="0" stop-color="#0000e7"/><stop offset=".031" stop-color="#0000ff"/><stop offset=".125" stop-color="#0202ff"/><stop offset=".156" stop-color="#0a0aff"/><stop offset=".188" stop-color="#2222ff"/><stop offset=".219" stop-color="#4e4eff"/><stop offset=".25" stop-color="#8484ff"/><stop offset=".281" stop-color="#adadff"/><stop offset=".312" stop-color="#b5b5ff"/><stop offset=".344" stop-color="#9a9aff"/><stop offset=".406" stop-color="#3f3fff"/><stop offset=".438" stop-color="#1f1fff"/><stop offset=".469" stop-color="#0c0cf1"/><stop offset=".5" stop-color="#0404e0"/><stop offset=".688" stop-color="#0000a1"/><stop offset=".844" stop-color="#000061"/><stop offset="1" stop-color="#000061"/></linearGradient><linearGradient id="a230" gradientUnits="userSpaceOnUse" x1="0" y1="-10.6" x2="0" y2="10.6"><stop offset="0" stop-color="#000061"/><stop offset=".031" stop-color="#00006b"/><stop offset=".094" stop-color="#000097"/><stop offset=".188" stop-color="#0000c0"/><stop offset=".312" stop-color="#0000e4"/><stop offset=".469" stop-color="#0000fe"/><stop offset=".781" stop-color="#0000ff"/><stop offset=".844" stop-color="#0000f7"/><stop offset=".906" stop-color="#0000e6"/><stop offset=".969" stop-color="#0000c7"/><stop offset="1" stop-color="#000092"/></linearGradient><linearGradient id="a231" gradientUnits="userSpaceOnUse" x1="0" y1="-10.6" x2="0" y2="10.6"><stop offset="0" stop-color="#0000ce"/><stop offset=".031" stop-color="#0000fd"/><stop offset=".156" stop-color="#0202ff"/><stop offset=".188" stop-color="#0808ff"/><stop offset=".219" stop-color="#1a1aff"/><stop offset=".25" stop-color="#3c3cff"/><stop offset=".312" stop-color="#8e8eff"/><stop offset=".344" stop-color="#9c9cff"/><stop offset=".375" stop-color="#8e8eff"/><stop offset=".438" stop-color="#4343ff"/><stop offset=".469" stop-color="#2323ff"/><stop offset=".5" stop-color="#0f0fff"/><stop offset=".531" stop-color="#0606fa"/><stop offset=".594" stop-color="#0000e5"/><stop offset=".75" stop-color="#0000b0"/><stop offset=".844" stop-color="#000086"/><stop offset=".906" stop-color="#000062"/><stop offset="1" stop-color="#000061"/></linearGradient><linearGradient id="a232" gradientUnits="userSpaceOnUse" x1="0" y1="-10.6" x2="0" y2="10.6"><stop offset="0" stop-color="#000061"/><stop offset=".031" stop-color="#000070"/><stop offset=".094" stop-color="#0000a2"/><stop offset=".188" stop-color="#0000d0"/><stop offset=".312" stop-color="#0000f8"/><stop offset=".344" stop-color="#0202ff"/><stop offset=".375" stop-color="#0606ff"/><stop offset=".406" stop-color="#1111ff"/><stop offset=".438" stop-color="#2828ff"/><stop offset=".469" stop-color="#4d4dff"/><stop offset=".531" stop-color="#a9a9ff"/><stop offset=".562" stop-color="#bfbfff"/><stop offset=".594" stop-color="#b5b5ff"/><stop offset=".625" stop-color="#8e8eff"/><stop offset=".688" stop-color="#3030ff"/><stop offset=".719" stop-color="#1414ff"/><stop offset=".75" stop-color="#0606ff"/><stop offset=".781" stop-color="#0101ff"/><stop offset=".875" stop-color="#0000ff"/><stop offset=".906" stop-color="#0000f6"/><stop offset=".969" stop-color="#0000d1"/><stop offset="1" stop-color="#000095"/></linearGradient><linearGradient id="a233" gradientUnits="userSpaceOnUse" x1="0" y1="-10.6" x2="0" y2="10.6"><stop offset="0" stop-color="#00006a"/><stop offset=".031" stop-color="#0000a6"/><stop offset=".062" stop-color="#0000be"/><stop offset=".125" stop-color="#0000db"/><stop offset=".219" stop-color="#0000f6"/><stop offset=".281" stop-color="#0000ff"/><stop offset=".656" stop-color="#0000ff"/><stop offset=".719" stop-color="#0000fa"/><stop offset=".781" stop-color="#0000ec"/><stop offset=".844" stop-color="#0000d9"/><stop offset=".906" stop-color="#0000bf"/><stop offset=".969" stop-color="#000095"/><stop offset="1" stop-color="#000061"/></linearGradient><linearGradient id="a234" gradientUnits="userSpaceOnUse" x1="0" y1="-10.6" x2="0" y2="10.6"><stop offset="0" stop-color="#610000"/><stop offset=".031" stop-color="#610000"/><stop offset=".156" stop-color="#a30000"/><stop offset=".281" stop-color="#cf0000"/><stop offset=".406" stop-color="#ec0000"/><stop offset=".531" stop-color="#fe0000"/><stop offset=".812" stop-color="#ff0000"/><stop offset=".875" stop-color="#fa0000"/><stop offset=".938" stop-color="#e60000"/><stop offset=".969" stop-color="#d60000"/><stop offset="1" stop-color="#a40000"/></linearGradient><linearGradient id="a235" gradientUnits="userSpaceOnUse" x1="0" y1="-10.6" x2="0" y2="10.6"><stop offset="0" stop-color="#000061"/><stop offset=".062" stop-color="#000061"/><stop offset=".094" stop-color="#000067"/><stop offset=".156" stop-color="#00008b"/><stop offset=".25" stop-color="#0000b5"/><stop offset=".406" stop-color="#0101e9"/><stop offset=".469" stop-color="#0c0cff"/><stop offset=".5" stop-color="#1e1eff"/><stop offset=".531" stop-color="#4040ff"/><stop offset=".594" stop-color="#a8a8ff"/><stop offset=".625" stop-color="#d0d0ff"/><stop offset=".656" stop-color="#d6d6ff"/><stop offset=".688" stop-color="#b4b4ff"/><stop offset=".75" stop-color="#4242ff"/><stop offset=".781" stop-color="#1b1bff"/><stop offset=".812" stop-color="#0808ff"/><stop offset=".844" stop-color="#0101ff"/><stop offset=".969" stop-color="#0000fb"/><stop offset="1" stop-color="#0000cb"/></linearGradient><linearGradient id="a236" gradientUnits="userSpaceOnUse" x1="0" y1="-10.6" x2="0" y2="10.6"><stop offset="0" stop-color="#610000"/><stop offset=".031" stop-color="#730000"/><stop offset=".094" stop-color="#a50000"/><stop offset=".156" stop-color="#c50000"/><stop offset=".25" stop-color="#e80000"/><stop offset=".344" stop-color="#ff0101"/><stop offset=".406" stop-color="#ff0909"/><stop offset=".438" stop-color="#ff1515"/><stop offset=".531" stop-color="#ff5757"/><stop offset=".562" stop-color="#ff6060"/><stop offset=".594" stop-color="#ff5959"/><stop offset=".688" stop-color="#ff1616"/><stop offset=".719" stop-color="#ff0909"/><stop offset=".781" stop-color="#ff0101"/><stop offset=".875" stop-color="#ff0000"/><stop offset=".938" stop-color="#e40000"/><stop offset=".969" stop-color="#ce0000"/><stop offset="1" stop-color="#910000"/></linearGradient><linearGradient id="a237" gradientUnits="userSpaceOnUse" x1="0" y1="-10.6" x2="0" y2="10.6"><stop offset="0" stop-color="#000061"/><stop offset=".031" stop-color="#000092"/><stop offset=".094" stop-color="#0000bf"/><stop offset=".188" stop-color="#0000e6"/><stop offset=".281" stop-color="#0000ff"/><stop offset=".375" stop-color="#0404ff"/><stop offset=".5" stop-color="#1f1fff"/><stop offset=".531" stop-color="#2020ff"/><stop offset=".656" stop-color="#0606ff"/><stop offset=".781" stop-color="#0000ff"/><stop offset=".812" stop-color="#0000fa"/><stop offset=".875" stop-color="#0000e6"/><stop offset=".938" stop-color="#0000c7"/><stop offset=".969" stop-color="#0000af"/><stop offset="1" stop-color="#000070"/></linearGradient><linearGradient id="a238" gradientUnits="userSpaceOnUse" x1="0" y1="-10.6" x2="0" y2="10.6"><stop offset="0" stop-color="#0000c5"/><stop offset=".031" stop-color="#0000f7"/><stop offset=".062" stop-color="#0000ff"/><stop offset=".156" stop-color="#0000ff"/><stop offset=".219" stop-color="#0808ff"/><stop offset=".25" stop-color="#1515ff"/><stop offset=".312" stop-color="#3b3bff"/><stop offset=".344" stop-color="#4646ff"/><stop offset=".375" stop-color="#4545ff"/><stop offset=".469" stop-color="#1616ff"/><stop offset=".531" stop-color="#0404ff"/><stop offset=".656" stop-color="#0000dd"/><stop offset=".75" stop-color="#0000bc"/><stop offset=".844" stop-color="#000093"/><stop offset=".938" stop-color="#000061"/><stop offset="1" stop-color="#000061"/></linearGradient><linearGradient id="a239" gradientUnits="userSpaceOnUse" x1="0" y1="-10.6" x2="0" y2="10.6"><stop offset="0" stop-color="#9e0000"/><stop offset=".031" stop-color="#d70000"/><stop offset=".094" stop-color="#f80000"/><stop offset=".125" stop-color="#fe0000"/><stop offset=".594" stop-color="#ff0000"/><stop offset=".688" stop-color="#ed0000"/><stop offset=".812" stop-color="#c40000"/><stop offset=".906" stop-color="#960000"/><stop offset=".969" stop-color="#650000"/><stop offset="1" stop-color="#610000"/></linearGradient><linearGradient id="a240" gradientUnits="userSpaceOnUse" x1="0" y1="-10.6" x2="0" y2="10.6"><stop offset="0" stop-color="#610000"/><stop offset=".031" stop-color="#710000"/><stop offset=".094" stop-color="#a20000"/><stop offset=".188" stop-color="#d00000"/><stop offset=".312" stop-color="#f90000"/><stop offset=".375" stop-color="#ff0707"/><stop offset=".406" stop-color="#ff1414"/><stop offset=".438" stop-color="#ff3030"/><stop offset=".469" stop-color="#ff5c5c"/><stop offset=".531" stop-color="#ffc8c8"/><stop offset=".562" stop-color="#ffe2e2"/><stop offset=".594" stop-color="#ffd5d5"/><stop offset=".625" stop-color="#ffa7a7"/><stop offset=".656" stop-color="#ff6c6c"/><stop offset=".688" stop-color="#ff3838"/><stop offset=".719" stop-color="#ff1717"/><stop offset=".75" stop-color="#ff0707"/><stop offset=".781" stop-color="#ff0202"/><stop offset=".875" stop-color="#ff0000"/><stop offset=".906" stop-color="#f60000"/><stop offset=".969" stop-color="#d10000"/><stop offset="1" stop-color="#940000"/></linearGradient><linearGradient id="a241" gradientUnits="userSpaceOnUse" x1="0" y1="-10.6" x2="0" y2="10.6"><stop offset="0" stop-color="#da0000"/><stop offset=".031" stop-color="#f40000"/><stop offset=".062" stop-color="#f90000"/><stop offset=".156" stop-color="#fa0000"/><stop offset=".25" stop-color="#f00000"/><stop offset=".375" stop-color="#dc0000"/><stop offset=".531" stop-color="#b90000"/><stop offset=".656" stop-color="#960000"/><stop offset=".812" stop-color="#620000"/><stop offset="1" stop-color="#610000"/></linearGradient><linearGradient id="a242" gradientUnits="userSpaceOnUse" x1="0" y1="-10.6" x2="0" y2="10.6"><stop offset="0" stop-color="#000078"/><stop offset=".031" stop-color="#0000b5"/><stop offset=".062" stop-color="#0000cc"/><stop offset=".125" stop-color="#0000e9"/><stop offset=".188" stop-color="#0000fb"/><stop offset=".25" stop-color="#0000ff"/><stop offset=".656" stop-color="#0000ff"/><stop offset=".75" stop-color="#0000f1"/><stop offset=".875" stop-color="#0000c7"/><stop offset=".938" stop-color="#0000a4"/><stop offset=".969" stop-color="#00008a"/><stop offset="1" stop-color="#000061"/></linearGradient><linearGradient id="a243" gradientUnits="userSpaceOnUse" x1="0" y1="-10.6" x2="0" y2="10.6"><stop offset="0" stop-color="#0000ca"/><stop offset=".031" stop-color="#0000fb"/><stop offset=".062" stop-color="#0000ff"/><stop offset=".188" stop-color="#0505ff"/><stop offset=".219" stop-color="#1010ff"/><stop offset=".25" stop-color="#2626ff"/><stop offset=".312" stop-color="#6060ff"/><stop offset=".344" stop-color="#6e6eff"/><stop offset=".375" stop-color="#6868ff"/><stop offset=".469" stop-color="#1d1dff"/><stop offset=".5" stop-color="#0d0dff"/><stop offset=".531" stop-color="#0505fe"/><stop offset=".75" stop-color="#0000b6"/><stop offset=".844" stop-color="#00008c"/><stop offset=".906" stop-color="#000068"/><stop offset=".938" stop-color="#000061"/><stop offset="1" stop-color="#000061"/></linearGradient><linearGradient id="a244" gradientUnits="userSpaceOnUse" x1="0" y1="-10.6" x2="0" y2="10.6"><stop offset="0" stop-color="#610000"/><stop offset=".031" stop-color="#9d0000"/><stop offset=".062" stop-color="#b70000"/><stop offset=".156" stop-color="#e70000"/><stop offset=".219" stop-color="#fb0000"/><stop offset=".25" stop-color="#ff0000"/><stop offset=".5" stop-color="#ff0b0b"/><stop offset=".781" stop-color="#ff0000"/><stop offset=".812" stop-color="#fa0000"/><stop offset=".875" stop-color="#e50000"/><stop offset=".938" stop-color="#c40000"/><stop offset=".969" stop-color="#aa0000"/><stop offset="1" stop-color="#680000"/></linearGradient><linearGradient id="a245" gradientUnits="userSpaceOnUse" x1="0" y1="-10.6" x2="0" y2="10.6"><stop offset="0" stop-color="#00009b"/><stop offset=".031" stop-color="#0000cc"/><stop offset=".062" stop-color="#0000dd"/><stop offset=".125" stop-color="#0000f1"/><stop offset=".219" stop-color="#0000ff"/><stop offset=".438" stop-color="#0000fe"/><stop offset=".594" stop-color="#0000eb"/><stop offset=".75" stop-color="#0000c7"/><stop offset=".875" stop-color="#000099"/><stop offset=".969" stop-color="#000061"/><stop offset="1" stop-color="#000061"/></linearGradient><linearGradient id="a246" gradientUnits="userSpaceOnUse" x1="0" y1="-10.6" x2="0" y2="10.6"><stop offset="0" stop-color="#000065"/><stop offset=".031" stop-color="#0000a6"/><stop offset=".062" stop-color="#0000bf"/><stop offset=".125" stop-color="#0000e1"/><stop offset=".219" stop-color="#0000fe"/><stop offset=".75" stop-color="#0000ff"/><stop offset=".781" stop-color="#0000fb"/><stop offset=".844" stop-color="#0000e8"/><stop offset=".938" stop-color="#0000b9"/><stop offset=".969" stop-color="#00009f"/><stop offset="1" stop-color="#000061"/></linearGradient><linearGradient id="a247" gradientUnits="userSpaceOnUse" x1="0" y1="-10.6" x2="0" y2="10.6"><stop offset="0" stop-color="#610000"/><stop offset=".031" stop-color="#610000"/><stop offset=".156" stop-color="#aa0000"/><stop offset=".25" stop-color="#d10000"/><stop offset=".375" stop-color="#f70101"/><stop offset=".406" stop-color="#ff0505"/><stop offset=".438" stop-color="#ff0f0f"/><stop offset=".469" stop-color="#ff2525"/><stop offset=".5" stop-color="#ff4a4a"/><stop offset=".562" stop-color="#ffabab"/><stop offset=".594" stop-color="#ffc7c7"/><stop offset=".625" stop-color="#ffc1c1"/><stop offset=".656" stop-color="#ff9b9b"/><stop offset=".719" stop-color="#ff3535"/><stop offset=".75" stop-color="#ff1515"/><stop offset=".781" stop-color="#ff0606"/><stop offset=".812" stop-color="#ff0101"/><stop offset=".906" stop-color="#ff0000"/><stop offset=".938" stop-color="#f90000"/><stop offset=".969" stop-color="#e60000"/><stop offset="1" stop-color="#af0000"/></linearGradient><linearGradient id="a248" gradientUnits="userSpaceOnUse" x1="0" y1="-10.6" x2="0" y2="10.6"><stop offset="0" stop-color="#ca0000"/><stop offset=".031" stop-color="#fb0000"/><stop offset=".062" stop-color="#ff0000"/><stop offset=".188" stop-color="#ff0303"/><stop offset=".219" stop-color="#ff0909"/><stop offset=".312" stop-color="#ff3030"/><stop offset=".344" stop-color="#ff3535"/><stop offset=".375" stop-color="#ff3030"/><stop offset=".469" stop-color="#ff0c0c"/><stop offset=".5" stop-color="#ff0505"/><stop offset=".594" stop-color="#ea0000"/><stop offset=".719" stop-color="#c20000"/><stop offset=".812" stop-color="#9c0000"/><stop offset=".906" stop-color="#680000"/><stop offset=".938" stop-color="#610000"/><stop offset="1" stop-color="#610000"/></linearGradient><linearGradient id="a249" gradientUnits="userSpaceOnUse" x1="0" y1="-10.6" x2="0" y2="10.6"><stop offset="0" stop-color="#610000"/><stop offset=".062" stop-color="#610000"/><stop offset=".094" stop-color="#690000"/><stop offset=".156" stop-color="#8d0000"/><stop offset=".25" stop-color="#b70000"/><stop offset=".406" stop-color="#eb0101"/><stop offset=".469" stop-color="#ff0d0d"/><stop offset=".5" stop-color="#ff2222"/><stop offset=".531" stop-color="#ff4646"/><stop offset=".594" stop-color="#ffb4b4"/><stop offset=".625" stop-color="#ffdcdc"/><stop offset=".656" stop-color="#ffdede"/><stop offset=".688" stop-color="#ffb9b9"/><stop offset=".75" stop-color="#ff4141"/><stop offset=".781" stop-color="#ff1a1a"/><stop offset=".812" stop-color="#ff0707"/><stop offset=".844" stop-color="#ff0101"/><stop offset=".938" stop-color="#ff0000"/><stop offset=".969" stop-color="#fa0000"/><stop offset="1" stop-color="#c90000"/></linearGradient><linearGradient id="a250" gradientUnits="userSpaceOnUse" x1="0" y1="-10.6" x2="0" y2="10.6"><stop offset="0" stop-color="#0000a0"/><stop offset=".031" stop-color="#0000db"/><stop offset=".094" stop-color="#0000fd"/><stop offset=".25" stop-color="#0101ff"/><stop offset=".406" stop-color="#1010ff"/><stop offset=".625" stop-color="#0000ff"/><stop offset=".719" stop-color="#0000e8"/><stop offset=".812" stop-color="#0000c7"/><stop offset=".906" stop-color="#000097"/><stop offset=".969" stop-color="#000065"/><stop offset="1" stop-color="#000061"/></linearGradient><linearGradient id="a251" gradientUnits="userSpaceOnUse" x1="0" y1="-10.6" x2="0" y2="10.6"><stop offset="0" stop-color="#0000ef"/><stop offset=".031" stop-color="#0000ff"/><stop offset=".156" stop-color="#0303ff"/><stop offset=".281" stop-color="#1b1bff"/><stop offset=".344" stop-color="#1212fe"/><stop offset=".406" stop-color="#0606e7"/><stop offset=".469" stop-color="#0101d2"/><stop offset=".625" stop-color="#0000a1"/><stop offset=".781" stop-color="#000067"/><stop offset=".812" stop-color="#000061"/><stop offset="1" stop-color="#000061"/></linearGradient><linearGradient id="a252" gradientUnits="userSpaceOnUse" x1="0" y1="-10.6" x2="0" y2="10.6"><stop offset="0" stop-color="#6a0000"/><stop offset=".031" stop-color="#a70000"/><stop offset=".062" stop-color="#bf0000"/><stop offset=".125" stop-color="#de0000"/><stop offset=".219" stop-color="#f90000"/><stop offset=".281" stop-color="#ff0000"/><stop offset=".656" stop-color="#ff0000"/><stop offset=".75" stop-color="#f60000"/><stop offset=".875" stop-color="#d00000"/><stop offset=".938" stop-color="#af0000"/><stop offset=".969" stop-color="#960000"/><stop offset="1" stop-color="#610000"/></linearGradient><linearGradient id="a253" gradientUnits="userSpaceOnUse" x1="0" y1="-10.6" x2="0" y2="10.6"><stop offset="0" stop-color="#0000d5"/><stop offset=".031" stop-color="#0000ff"/><stop offset=".156" stop-color="#0404ff"/><stop offset=".188" stop-color="#1010ff"/><stop offset=".219" stop-color="#3030ff"/><stop offset=".25" stop-color="#6767ff"/><stop offset=".281" stop-color="#a7a7ff"/><stop offset=".312" stop-color="#d7d7ff"/><stop offset=".344" stop-color="#e0e0ff"/><stop offset=".375" stop-color="#c1c1ff"/><stop offset=".438" stop-color="#5252ff"/><stop offset=".469" stop-color="#2929ff"/><stop offset=".5" stop-color="#1111ff"/><stop offset=".531" stop-color="#0606f2"/><stop offset=".719" stop-color="#0000b2"/><stop offset=".812" stop-color="#00008b"/><stop offset=".875" stop-color="#00006b"/><stop offset=".906" stop-color="#000061"/><stop offset="1" stop-color="#000061"/></linearGradient><linearGradient id="a254" gradientUnits="userSpaceOnUse" x1="0" y1="-10.6" x2="0" y2="10.6"><stop offset="0" stop-color="#0000da"/><stop offset=".031" stop-color="#0000ff"/><stop offset=".125" stop-color="#0101ff"/><stop offset=".156" stop-color="#0505ff"/><stop offset=".188" stop-color="#1414ff"/><stop offset=".219" stop-color="#3535ff"/><stop offset=".281" stop-color="#9f9fff"/><stop offset=".312" stop-color="#bfbfff"/><stop offset=".344" stop-color="#babaff"/><stop offset=".375" stop-color="#9696ff"/><stop offset=".438" stop-color="#3838ff"/><stop offset=".469" stop-color="#1a1aff"/><stop offset=".5" stop-color="#0a0af6"/><stop offset=".562" stop-color="#0101dd"/><stop offset=".75" stop-color="#00009d"/><stop offset=".875" stop-color="#000063"/><stop offset="1" stop-color="#000061"/></linearGradient><linearGradient id="a255" gradientUnits="userSpaceOnUse" x1="0" y1="-10.6" x2="0" y2="10.6"><stop offset="0" stop-color="#000061"/><stop offset=".031" stop-color="#000061"/><stop offset=".125" stop-color="#000097"/><stop offset=".25" stop-color="#0000c6"/><stop offset=".406" stop-color="#0000ed"/><stop offset=".531" stop-color="#0000fe"/><stop offset=".812" stop-color="#0000ff"/><stop offset=".875" stop-color="#0000f8"/><stop offset=".938" stop-color="#0000e5"/><stop offset=".969" stop-color="#0000d4"/><stop offset="1" stop-color="#0000a2"/></linearGradient><linearGradient id="a256" gradientUnits="userSpaceOnUse" x1="0" y1="-10.6" x2="0" y2="10.6"><stop offset="0" stop-color="#d60000"/><stop offset=".031" stop-color="#ff0000"/><stop offset=".125" stop-color="#ff0000"/><stop offset=".156" stop-color="#ff0404"/><stop offset=".188" stop-color="#ff0f0f"/><stop offset=".219" stop-color="#ff2b2b"/><stop offset=".281" stop-color="#ff8f8f"/><stop offset=".312" stop-color="#ffb4b4"/><stop offset=".344" stop-color="#ffb8b8"/><stop offset=".375" stop-color="#ff9a9a"/><stop offset=".438" stop-color="#ff3f3f"/><stop offset=".469" stop-color="#ff1f1f"/><stop offset=".5" stop-color="#ff0c0c"/><stop offset=".562" stop-color="#e60101"/><stop offset=".75" stop-color="#a60000"/><stop offset=".875" stop-color="#6b0000"/><stop offset=".906" stop-color="#610000"/><stop offset="1" stop-color="#610000"/></linearGradient><linearGradient id="a257" gradientUnits="userSpaceOnUse" x1="0" y1="-10.6" x2="0" y2="10.6"><stop offset="0" stop-color="#610000"/><stop offset=".062" stop-color="#610000"/><stop offset=".156" stop-color="#950000"/><stop offset=".25" stop-color="#be0000"/><stop offset=".469" stop-color="#ff0303"/><stop offset=".625" stop-color="#ff2929"/><stop offset=".656" stop-color="#ff2828"/><stop offset=".781" stop-color="#ff0404"/><stop offset=".938" stop-color="#ff0000"/><stop offset=".969" stop-color="#f20000"/><stop offset="1" stop-color="#c00000"/></linearGradient><linearGradient id="a258" gradientUnits="userSpaceOnUse" x1="0" y1="-10.6" x2="0" y2="10.6"><stop offset="0" stop-color="#000061"/><stop offset=".031" stop-color="#000061"/><stop offset=".125" stop-color="#00009b"/><stop offset=".219" stop-color="#0000c6"/><stop offset=".344" stop-color="#0000ef"/><stop offset=".406" stop-color="#0606ff"/><stop offset=".438" stop-color="#1212ff"/><stop offset=".469" stop-color="#2b2bff"/><stop offset=".5" stop-color="#5656ff"/><stop offset=".562" stop-color="#c3c3ff"/><stop offset=".594" stop-color="#e1e1ff"/><stop offset=".625" stop-color="#d8d8ff"/><stop offset=".656" stop-color="#acacff"/><stop offset=".719" stop-color="#3a3aff"/><stop offset=".75" stop-color="#1717ff"/><stop offset=".781" stop-color="#0707ff"/><stop offset=".812" stop-color="#0101ff"/><stop offset=".906" stop-color="#0000ff"/><stop offset=".938" stop-color="#0000f9"/><stop offset=".969" stop-color="#0000e6"/><stop offset="1" stop-color="#0000ae"/></linearGradient><linearGradient id="a259" gradientUnits="userSpaceOnUse" x1="0" y1="-10.6" x2="0" y2="10.6"><stop offset="0" stop-color="#0000bb"/><stop offset=".031" stop-color="#0000ef"/><stop offset=".062" stop-color="#0000ff"/><stop offset=".219" stop-color="#0101ff"/><stop offset=".375" stop-color="#0909ff"/><stop offset=".531" stop-color="#0101ff"/><stop offset=".625" stop-color="#0000ec"/><stop offset=".75" stop-color="#0000c4"/><stop offset=".844" stop-color="#00009c"/><stop offset=".938" stop-color="#000063"/><stop offset="1" stop-color="#000061"/></linearGradient><linearGradient id="a260" gradientUnits="userSpaceOnUse" x1="0" y1="-10.6" x2="0" y2="10.6"><stop offset="0" stop-color="#0000af"/><stop offset=".031" stop-color="#0000e5"/><stop offset=".062" stop-color="#0000f7"/><stop offset=".094" stop-color="#0000ff"/><stop offset=".562" stop-color="#0000fe"/><stop offset=".656" stop-color="#0000e9"/><stop offset=".75" stop-color="#0000cd"/><stop offset=".844" stop-color="#0000a6"/><stop offset=".938" stop-color="#00006f"/><stop offset=".969" stop-color="#000061"/><stop offset="1" stop-color="#000061"/></linearGradient><linearGradient id="a261" gradientUnits="userSpaceOnUse" x1="0" y1="-10.6" x2="0" y2="10.6"><stop offset="0" stop-color="#0000f4"/><stop offset=".031" stop-color="#0000ff"/><stop offset=".062" stop-color="#0000fe"/><stop offset=".219" stop-color="#0000e5"/><stop offset=".438" stop-color="#0000ae"/><stop offset=".688" stop-color="#000062"/><stop offset="1" stop-color="#000061"/></linearGradient><linearGradient id="a262" gradientUnits="userSpaceOnUse" x1="0" y1="-10.6" x2="0" y2="10.6"><stop offset="0" stop-color="#000096"/><stop offset=".031" stop-color="#0000ce"/><stop offset=".062" stop-color="#0000e3"/><stop offset=".125" stop-color="#0000fb"/><stop offset=".156" stop-color="#0000ff"/><stop offset=".594" stop-color="#0000ff"/><stop offset=".688" stop-color="#0000ed"/><stop offset=".812" stop-color="#0000c7"/><stop offset=".906" stop-color="#00009b"/><stop offset=".969" stop-color="#00006b"/><stop offset="1" stop-color="#000061"/></linearGradient><linearGradient id="a263" gradientUnits="userSpaceOnUse" x1="0" y1="-10.6" x2="0" y2="10.6"><stop offset="0" stop-color="#610000"/><stop offset=".062" stop-color="#960000"/><stop offset=".125" stop-color="#bb0000"/><stop offset=".219" stop-color="#e00000"/><stop offset=".344" stop-color="#ff0000"/><stop offset=".844" stop-color="#fe0000"/><stop offset=".906" stop-color="#ea0000"/><stop offset=".969" stop-color="#c40000"/><stop offset="1" stop-color="#880000"/></linearGradient><linearGradient id="a264" gradientUnits="userSpaceOnUse" x1="0" y1="-10.6" x2="0" y2="10.6"><stop offset="0" stop-color="#0000cf"/><stop offset=".031" stop-color="#0000fe"/><stop offset=".156" stop-color="#0202ff"/><stop offset=".188" stop-color="#0808ff"/><stop offset=".219" stop-color="#1717ff"/><stop offset=".312" stop-color="#6f6fff"/><stop offset=".344" stop-color="#7777ff"/><stop offset=".375" stop-color="#6969ff"/><stop offset=".438" stop-color="#2f2fff"/><stop offset=".469" stop-color="#1818ff"/><stop offset=".5" stop-color="#0a0aff"/><stop offset=".531" stop-color="#0404f7"/><stop offset=".75" stop-color="#0000af"/><stop offset=".844" stop-color="#000085"/><stop offset=".906" stop-color="#000061"/><stop offset="1" stop-color="#000061"/></linearGradient><linearGradient id="a265" gradientUnits="userSpaceOnUse" x1="0" y1="-10.6" x2="0" y2="10.6"><stop offset="0" stop-color="#000061"/><stop offset=".062" stop-color="#000061"/><stop offset=".156" stop-color="#000092"/><stop offset=".25" stop-color="#0000b9"/><stop offset=".375" stop-color="#0000e0"/><stop offset=".5" stop-color="#0000fc"/><stop offset=".938" stop-color="#0000fd"/><stop offset=".969" stop-color="#0000ee"/><stop offset="1" stop-color="#0000bd"/></linearGradient><linearGradient id="a266" gradientUnits="userSpaceOnUse" x1="0" y1="-10.6" x2="0" y2="10.6"><stop offset="0" stop-color="#0000da"/><stop offset=".062" stop-color="#0000d8"/><stop offset=".188" stop-color="#0000c1"/><stop offset=".594" stop-color="#000064"/><stop offset="1" stop-color="#000061"/></linearGradient><linearGradient id="a267" gradientUnits="userSpaceOnUse" x1="0" y1="-10.6" x2="0" y2="10.6"><stop offset="0" stop-color="#610000"/><stop offset=".062" stop-color="#940000"/><stop offset=".125" stop-color="#b50000"/><stop offset=".188" stop-color="#cc0000"/><stop offset=".312" stop-color="#eb0000"/><stop offset=".469" stop-color="#ff0000"/><stop offset=".719" stop-color="#ff0000"/><stop offset=".844" stop-color="#eb0000"/><stop offset=".906" stop-color="#d70000"/><stop offset=".969" stop-color="#b50000"/><stop offset="1" stop-color="#7f0000"/></linearGradient><linearGradient id="a268" gradientUnits="userSpaceOnUse" x1="0" y1="-10.6" x2="0" y2="10.6"><stop offset="0" stop-color="#000061"/><stop offset=".062" stop-color="#000062"/><stop offset=".125" stop-color="#00008b"/><stop offset=".219" stop-color="#0000b8"/><stop offset=".375" stop-color="#0101ed"/><stop offset=".438" stop-color="#0808ff"/><stop offset=".469" stop-color="#1515ff"/><stop offset=".5" stop-color="#3030ff"/><stop offset=".531" stop-color="#5b5bff"/><stop offset=".562" stop-color="#8e8eff"/><stop offset=".594" stop-color="#bbbbff"/><stop offset=".625" stop-color="#ccccff"/><stop offset=".656" stop-color="#b9b9ff"/><stop offset=".688" stop-color="#8989ff"/><stop offset=".719" stop-color="#5252ff"/><stop offset=".75" stop-color="#2626ff"/><stop offset=".781" stop-color="#0d0dff"/><stop offset=".812" stop-color="#0303ff"/><stop offset=".844" stop-color="#0000ff"/><stop offset=".938" stop-color="#0000ff"/><stop offset=".969" stop-color="#0000f1"/><stop offset="1" stop-color="#0000bc"/></linearGradient><linearGradient id="a269" gradientUnits="userSpaceOnUse" x1="0" y1="-10.6" x2="0" y2="10.6"><stop offset="0" stop-color="#f50000"/><stop offset=".031" stop-color="#ff0000"/><stop offset=".094" stop-color="#ff0000"/><stop offset=".219" stop-color="#ed0000"/><stop offset=".438" stop-color="#b80000"/><stop offset=".719" stop-color="#620000"/><stop offset="1" stop-color="#610000"/></linearGradient><linearGradient id="a270" gradientUnits="userSpaceOnUse" x1="0" y1="-10.6" x2="0" y2="10.6"><stop offset="0" stop-color="#0000e1"/><stop offset=".031" stop-color="#0000e7"/><stop offset=".062" stop-color="#0000e4"/><stop offset=".188" stop-color="#0000d0"/><stop offset=".375" stop-color="#0000a8"/><stop offset=".656" stop-color="#000061"/><stop offset="1" stop-color="#000061"/></linearGradient><linearGradient id="a271" gradientUnits="userSpaceOnUse" x1="0" y1="-10.6" x2="0" y2="10.6"><stop offset="0" stop-color="#ed0000"/><stop offset=".031" stop-color="#fc0000"/><stop offset=".062" stop-color="#fd0000"/><stop offset=".219" stop-color="#e80000"/><stop offset=".469" stop-color="#ae0000"/><stop offset=".719" stop-color="#620000"/><stop offset="1" stop-color="#610000"/></linearGradient><linearGradient id="a272" gradientUnits="userSpaceOnUse" x1="0" y1="-10.6" x2="0" y2="10.6"><stop offset="0" stop-color="#ef0000"/><stop offset=".031" stop-color="#f70000"/><stop offset=".062" stop-color="#f50000"/><stop offset=".219" stop-color="#d90000"/><stop offset=".438" stop-color="#a30000"/><stop offset=".656" stop-color="#630000"/><stop offset="1" stop-color="#610000"/></linearGradient><linearGradient id="a273" gradientUnits="userSpaceOnUse" x1="0" y1="-10.6" x2="0" y2="10.6"><stop offset="0" stop-color="#000061"/><stop offset=".031" stop-color="#000061"/><stop offset=".125" stop-color="#00009d"/><stop offset=".219" stop-color="#0000c8"/><stop offset=".312" stop-color="#0000e8"/><stop offset=".406" stop-color="#0202ff"/><stop offset=".469" stop-color="#1111ff"/><stop offset=".562" stop-color="#4b4bff"/><stop offset=".594" stop-color="#5656ff"/><stop offset=".625" stop-color="#5252ff"/><stop offset=".719" stop-color="#1515ff"/><stop offset=".75" stop-color="#0808ff"/><stop offset=".812" stop-color="#0000ff"/><stop offset=".906" stop-color="#0000ff"/><stop offset=".938" stop-color="#0000f6"/><stop offset=".969" stop-color="#0000e3"/><stop offset="1" stop-color="#0000ab"/></linearGradient><linearGradient id="a274" gradientUnits="userSpaceOnUse" x1="0" y1="-10.6" x2="0" y2="10.6"><stop offset="0" stop-color="#610000"/><stop offset=".062" stop-color="#630000"/><stop offset=".125" stop-color="#8c0000"/><stop offset=".219" stop-color="#b90000"/><stop offset=".312" stop-color="#db0000"/><stop offset=".438" stop-color="#ff0303"/><stop offset=".5" stop-color="#ff1616"/><stop offset=".594" stop-color="#ff5c5c"/><stop offset=".625" stop-color="#ff6666"/><stop offset=".656" stop-color="#ff5f5f"/><stop offset=".75" stop-color="#ff1515"/><stop offset=".781" stop-color="#ff0707"/><stop offset=".844" stop-color="#ff0000"/><stop offset=".938" stop-color="#ff0000"/><stop offset=".969" stop-color="#f10000"/><stop offset="1" stop-color="#bc0000"/></linearGradient><linearGradient id="a275" gradientUnits="userSpaceOnUse" x1="0" y1="-10.6" x2="0" y2="10.6"><stop offset="0" stop-color="#ac0000"/><stop offset=".031" stop-color="#e30000"/><stop offset=".062" stop-color="#f60000"/><stop offset=".094" stop-color="#ff0000"/><stop offset=".375" stop-color="#ff0505"/><stop offset=".594" stop-color="#fd0000"/><stop offset=".688" stop-color="#e50000"/><stop offset=".781" stop-color="#c60000"/><stop offset=".875" stop-color="#9b0000"/><stop offset=".969" stop-color="#610000"/><stop offset="1" stop-color="#610000"/></linearGradient><linearGradient id="a276" gradientUnits="userSpaceOnUse" x1="0" y1="-10.6" x2="0" y2="10.6"><stop offset="0" stop-color="#d40000"/><stop offset=".031" stop-color="#f20000"/><stop offset=".062" stop-color="#f90000"/><stop offset=".156" stop-color="#fe0000"/><stop offset=".281" stop-color="#f40101"/><stop offset=".406" stop-color="#e00000"/><stop offset=".562" stop-color="#bc0000"/><stop offset=".688" stop-color="#990000"/><stop offset=".844" stop-color="#610000"/><stop offset="1" stop-color="#610000"/></linearGradient><linearGradient id="a277" gradientUnits="userSpaceOnUse" x1="0" y1="-10.6" x2="0" y2="10.6"><stop offset="0" stop-color="#000061"/><stop offset=".062" stop-color="#000061"/><stop offset=".156" stop-color="#000094"/><stop offset=".25" stop-color="#0000bd"/><stop offset=".406" stop-color="#0101ef"/><stop offset=".469" stop-color="#0707ff"/><stop offset=".5" stop-color="#1212ff"/><stop offset=".594" stop-color="#5151ff"/><stop offset=".625" stop-color="#5d5dff"/><stop offset=".656" stop-color="#5959ff"/><stop offset=".75" stop-color="#1515ff"/><stop offset=".781" stop-color="#0808ff"/><stop offset=".844" stop-color="#0000ff"/><stop offset=".938" stop-color="#0000ff"/><stop offset=".969" stop-color="#0000f4"/><stop offset="1" stop-color="#0000c1"/></linearGradient><linearGradient id="a278" gradientUnits="userSpaceOnUse" x1="0" y1="-10.6" x2="0" y2="10.6"><stop offset="0" stop-color="#bc0000"/><stop offset=".031" stop-color="#f10000"/><stop offset=".062" stop-color="#ff0000"/><stop offset=".219" stop-color="#ff0303"/><stop offset=".344" stop-color="#ff2727"/><stop offset=".375" stop-color="#ff2a2a"/><stop offset=".5" stop-color="#ff0808"/><stop offset=".562" stop-color="#fd0101"/><stop offset=".688" stop-color="#db0000"/><stop offset=".781" stop-color="#b90000"/><stop offset=".875" stop-color="#8c0000"/><stop offset=".938" stop-color="#630000"/><stop offset="1" stop-color="#610000"/></linearGradient><linearGradient id="a279" gradientUnits="userSpaceOnUse" x1="0" y1="-10.6" x2="0" y2="10.6"><stop offset="0" stop-color="#da0000"/><stop offset=".031" stop-color="#e50000"/><stop offset=".062" stop-color="#e40000"/><stop offset=".219" stop-color="#d00000"/><stop offset=".438" stop-color="#a40000"/><stop offset=".688" stop-color="#640000"/><stop offset="1" stop-color="#610000"/></linearGradient><linearGradient id="a280" gradientUnits="userSpaceOnUse" x1="0" y1="-10.6" x2="0" y2="10.6"><stop offset="0" stop-color="#0000bb"/><stop offset=".031" stop-color="#0000f0"/><stop offset=".062" stop-color="#0000ff"/><stop offset=".219" stop-color="#0303ff"/><stop offset=".344" stop-color="#2525ff"/><stop offset=".375" stop-color="#2727ff"/><stop offset=".5" stop-color="#0808ff"/><stop offset=".562" stop-color="#0101fd"/><stop offset=".688" stop-color="#0000db"/><stop offset=".781" stop-color="#0000ba"/><stop offset=".875" stop-color="#00008d"/><stop offset=".938" stop-color="#000064"/><stop offset="1" stop-color="#000061"/></linearGradient><linearGradient id="a281" gradientUnits="userSpaceOnUse" x1="0" y1="-10.6" x2="0" y2="10.6"><stop offset="0" stop-color="#0000e0"/><stop offset=".031" stop-color="#0000f2"/><stop offset=".062" stop-color="#0000f4"/><stop offset=".188" stop-color="#0000eb"/><stop offset=".312" stop-color="#0000d6"/><stop offset=".469" stop-color="#0000b4"/><stop offset=".75" stop-color="#000062"/><stop offset="1" stop-color="#000061"/></linearGradient><linearGradient id="a282" gradientUnits="userSpaceOnUse" x1="0" y1="-10.6" x2="0" y2="10.6"><stop offset="0" stop-color="#610000"/><stop offset=".031" stop-color="#610000"/><stop offset=".156" stop-color="#aa0000"/><stop offset=".25" stop-color="#d00000"/><stop offset=".406" stop-color="#ff0404"/><stop offset=".438" stop-color="#ff0c0c"/><stop offset=".469" stop-color="#ff1d1d"/><stop offset=".5" stop-color="#ff3a3a"/><stop offset=".562" stop-color="#ff8888"/><stop offset=".594" stop-color="#ff9f9f"/><stop offset=".625" stop-color="#ff9a9a"/><stop offset=".656" stop-color="#ff7c7c"/><stop offset=".719" stop-color="#ff2b2b"/><stop offset=".75" stop-color="#ff1111"/><stop offset=".781" stop-color="#ff0505"/><stop offset=".812" stop-color="#ff0101"/><stop offset=".906" stop-color="#ff0000"/><stop offset=".938" stop-color="#f90000"/><stop offset=".969" stop-color="#e60000"/><stop offset="1" stop-color="#af0000"/></linearGradient><linearGradient id="a283" gradientUnits="userSpaceOnUse" x1="0" y1="-10.6" x2="0" y2="10.6"><stop offset="0" stop-color="#0000e2"/><stop offset=".031" stop-color="#0000ff"/><stop offset=".156" stop-color="#0101ff"/><stop offset=".281" stop-color="#1919ff"/><stop offset=".312" stop-color="#1a1aff"/><stop offset=".375" stop-color="#1010ff"/><stop offset=".438" stop-color="#0505e6"/><stop offset=".5" stop-color="#0101d3"/><stop offset=".656" stop-color="#0000a4"/><stop offset=".812" stop-color="#000069"/><stop offset=".844" stop-color="#000061"/><stop offset="1" stop-color="#000061"/></linearGradient><linearGradient id="a284" gradientUnits="userSpaceOnUse" x1="0" y1="-10.6" x2="0" y2="10.6"><stop offset="0" stop-color="#610000"/><stop offset=".031" stop-color="#880000"/><stop offset=".062" stop-color="#9f0000"/><stop offset=".156" stop-color="#c90000"/><stop offset=".281" stop-color="#ea0000"/><stop offset=".438" stop-color="#fe0000"/><stop offset=".688" stop-color="#fd0000"/><stop offset=".844" stop-color="#e30000"/><stop offset=".906" stop-color="#ce0000"/><stop offset=".969" stop-color="#aa0000"/><stop offset="1" stop-color="#730000"/></linearGradient><linearGradient id="a285" gradientUnits="userSpaceOnUse" x1="0" y1="-10.6" x2="0" y2="10.6"><stop offset="0" stop-color="#000061"/><stop offset=".062" stop-color="#00009d"/><stop offset=".125" stop-color="#0000c2"/><stop offset=".219" stop-color="#0000e7"/><stop offset=".312" stop-color="#0000fe"/><stop offset=".562" stop-color="#0404ff"/><stop offset=".844" stop-color="#0000fd"/><stop offset=".906" stop-color="#0000e7"/><stop offset=".969" stop-color="#0000c0"/><stop offset="1" stop-color="#000082"/></linearGradient><linearGradient id="a286" gradientUnits="userSpaceOnUse" x1="0" y1="-10.6" x2="0" y2="10.6"><stop offset="0" stop-color="#d00000"/><stop offset=".031" stop-color="#e60000"/><stop offset=".062" stop-color="#ea0000"/><stop offset=".219" stop-color="#e40000"/><stop offset=".344" stop-color="#d20000"/><stop offset=".5" stop-color="#b40000"/><stop offset=".812" stop-color="#610000"/><stop offset="1" stop-color="#610000"/></linearGradient><linearGradient id="a287" gradientUnits="userSpaceOnUse" x1="0" y1="-10.6" x2="0" y2="10.6"><stop offset="0" stop-color="#0000e1"/><stop offset=".031" stop-color="#0000ea"/><stop offset=".062" stop-color="#0000e9"/><stop offset=".219" stop-color="#0000d1"/><stop offset=".406" stop-color="#0000a9"/><stop offset=".688" stop-color="#000061"/><stop offset="1" stop-color="#000061"/></linearGradient><linearGradient id="a288" gradientUnits="userSpaceOnUse" x1="0" y1="-10.6" x2="0" y2="10.6"><stop offset="0" stop-color="#0000d9"/><stop offset=".156" stop-color="#0000be"/><stop offset=".562" stop-color="#000062"/><stop offset="1" stop-color="#000061"/></linearGradient><linearGradient id="a289" gradientUnits="userSpaceOnUse" x1="0" y1="-10.6" x2="0" y2="10.6"><stop offset="0" stop-color="#610000"/><stop offset=".031" stop-color="#670000"/><stop offset=".094" stop-color="#990000"/><stop offset=".188" stop-color="#c80000"/><stop offset=".281" stop-color="#e90000"/><stop offset=".375" stop-color="#ff0000"/><stop offset=".594" stop-color="#ff1111"/><stop offset=".75" stop-color="#ff0101"/><stop offset=".906" stop-color="#fb0000"/><stop offset=".969" stop-color="#d80000"/><stop offset="1" stop-color="#9d0000"/></linearGradient><linearGradient id="a290" gradientUnits="userSpaceOnUse" x1="0" y1="-10.6" x2="0" y2="10.6"><stop offset="0" stop-color="#0000d5"/><stop offset=".031" stop-color="#0000ff"/><stop offset=".125" stop-color="#0000ff"/><stop offset=".156" stop-color="#0303ff"/><stop offset=".188" stop-color="#0d0dff"/><stop offset=".219" stop-color="#2525ff"/><stop offset=".281" stop-color="#7979ff"/><stop offset=".312" stop-color="#9898ff"/><stop offset=".344" stop-color="#9b9bff"/><stop offset=".375" stop-color="#8282ff"/><stop offset=".438" stop-color="#3535ff"/><stop offset=".469" stop-color="#1a1aff"/><stop offset=".5" stop-color="#0a0aff"/><stop offset=".562" stop-color="#0101e7"/><stop offset=".719" stop-color="#0000b4"/><stop offset=".906" stop-color="#000061"/><stop offset="1" stop-color="#000061"/></linearGradient><linearGradient id="a291" gradientUnits="userSpaceOnUse" x1="0" y1="-10.6" x2="0" y2="10.6"><stop offset="0" stop-color="#d00000"/><stop offset=".031" stop-color="#ff0000"/><stop offset=".188" stop-color="#ff0505"/><stop offset=".219" stop-color="#ff1010"/><stop offset=".312" stop-color="#ff4a4a"/><stop offset=".344" stop-color="#ff4e4e"/><stop offset=".375" stop-color="#ff4444"/><stop offset=".469" stop-color="#ff0f0f"/><stop offset=".5" stop-color="#ff0606"/><stop offset=".562" stop-color="#ed0101"/><stop offset=".75" stop-color="#af0000"/><stop offset=".844" stop-color="#850000"/><stop offset=".906" stop-color="#620000"/><stop offset="1" stop-color="#610000"/></linearGradient><linearGradient id="a292" gradientUnits="userSpaceOnUse" x1="0" y1="-10.6" x2="0" y2="10.6"><stop offset="0" stop-color="#0000df"/><stop offset=".031" stop-color="#0000ff"/><stop offset=".125" stop-color="#0101ff"/><stop offset=".188" stop-color="#0d0dff"/><stop offset=".219" stop-color="#2121ff"/><stop offset=".281" stop-color="#5555ff"/><stop offset=".312" stop-color="#6060ff"/><stop offset=".344" stop-color="#5858ff"/><stop offset=".438" stop-color="#1616ff"/><stop offset=".5" stop-color="#0303e1"/><stop offset=".688" stop-color="#0000a5"/><stop offset=".844" stop-color="#000065"/><stop offset="1" stop-color="#000061"/></linearGradient><linearGradient id="a293" gradientUnits="userSpaceOnUse" x1="0" y1="-10.6" x2="0" y2="10.6"><stop offset="0" stop-color="#000061"/><stop offset=".062" stop-color="#000066"/><stop offset=".156" stop-color="#000099"/><stop offset=".281" stop-color="#0000c7"/><stop offset=".406" stop-color="#0000e7"/><stop offset=".531" stop-color="#0000fd"/><stop offset=".875" stop-color="#0000ff"/><stop offset=".938" stop-color="#0000ef"/><stop offset=".969" stop-color="#0000df"/><stop offset="1" stop-color="#0000af"/></linearGradient><linearGradient id="a294" gradientUnits="userSpaceOnUse" x1="0" y1="-10.6" x2="0" y2="10.6"><stop offset="0" stop-color="#000061"/><stop offset=".031" stop-color="#000063"/><stop offset=".094" stop-color="#000095"/><stop offset=".188" stop-color="#0000c5"/><stop offset=".281" stop-color="#0000e6"/><stop offset=".375" stop-color="#0000fe"/><stop offset=".469" stop-color="#0606ff"/><stop offset=".594" stop-color="#1818ff"/><stop offset=".75" stop-color="#0202ff"/><stop offset=".906" stop-color="#0000fe"/><stop offset=".938" stop-color="#0000f0"/><stop offset=".969" stop-color="#0000dc"/><stop offset="1" stop-color="#0000a1"/></linearGradient><linearGradient id="a295" gradientUnits="userSpaceOnUse" x1="0" y1="-10.6" x2="0" y2="10.6"><stop offset="0" stop-color="#000061"/><stop offset=".062" stop-color="#000067"/><stop offset=".125" stop-color="#000090"/><stop offset=".219" stop-color="#0000bd"/><stop offset=".312" stop-color="#0000de"/><stop offset=".438" stop-color="#0303ff"/><stop offset=".5" stop-color="#0f0fff"/><stop offset=".594" stop-color="#3b3bff"/><stop offset=".625" stop-color="#4040ff"/><stop offset=".656" stop-color="#3939ff"/><stop offset=".75" stop-color="#0b0bff"/><stop offset=".781" stop-color="#0404ff"/><stop offset=".938" stop-color="#0000ff"/><stop offset=".969" stop-color="#0000ee"/><stop offset="1" stop-color="#0000b8"/></linearGradient><linearGradient id="a296" gradientUnits="userSpaceOnUse" x1="0" y1="-10.6" x2="0" y2="10.6"><stop offset="0" stop-color="#890000"/><stop offset=".031" stop-color="#bb0000"/><stop offset=".062" stop-color="#cd0000"/><stop offset=".125" stop-color="#e20000"/><stop offset=".188" stop-color="#ef0000"/><stop offset=".281" stop-color="#fa0000"/><stop offset=".438" stop-color="#fb0000"/><stop offset=".625" stop-color="#e80000"/><stop offset=".781" stop-color="#c60000"/><stop offset=".906" stop-color="#970000"/><stop offset=".969" stop-color="#6f0000"/><stop offset="1" stop-color="#610000"/></linearGradient><linearGradient id="a297" gradientUnits="userSpaceOnUse" x1="0" y1="-10.6" x2="0" y2="10.6"><stop offset="0" stop-color="#610000"/><stop offset=".031" stop-color="#610000"/><stop offset=".125" stop-color="#990000"/><stop offset=".219" stop-color="#c20000"/><stop offset=".312" stop-color="#e10000"/><stop offset=".438" stop-color="#fd0000"/><stop offset=".906" stop-color="#fc0000"/><stop offset=".969" stop-color="#de0000"/><stop offset="1" stop-color="#a80000"/></linearGradient><linearGradient id="a298" gradientUnits="userSpaceOnUse" x1="0" y1="-10.6" x2="0" y2="10.6"><stop offset="0" stop-color="#000061"/><stop offset=".094" stop-color="#0000a9"/><stop offset=".156" stop-color="#0000c8"/><stop offset=".25" stop-color="#0000e9"/><stop offset=".344" stop-color="#0000ff"/><stop offset=".562" stop-color="#0707ff"/><stop offset=".844" stop-color="#0000ff"/><stop offset=".906" stop-color="#0000ee"/><stop offset=".969" stop-color="#0000c8"/><stop offset="1" stop-color="#00008b"/></linearGradient><linearGradient id="a299" gradientUnits="userSpaceOnUse" x1="0" y1="-10.6" x2="0" y2="10.6"><stop offset="0" stop-color="#000061"/><stop offset=".031" stop-color="#000092"/><stop offset=".094" stop-color="#0000bf"/><stop offset=".156" stop-color="#0000da"/><stop offset=".219" stop-color="#0000ef"/><stop offset=".281" stop-color="#0000fe"/><stop offset=".312" stop-color="#0000ff"/><stop offset=".531" stop-color="#0d0dff"/><stop offset=".656" stop-color="#0202ff"/><stop offset=".781" stop-color="#0000ff"/><stop offset=".875" stop-color="#0000e4"/><stop offset=".938" stop-color="#0000c5"/><stop offset=".969" stop-color="#0000ae"/><stop offset="1" stop-color="#000070"/></linearGradient><linearGradient id="c0" gradientUnits="userSpaceOnUse" x1="0" y1="-6.6" x2="0" y2="6.6"><stop offset="0" stop-color="#000061"/><stop offset=".156" stop-color="#000061"/><stop offset=".188" stop-color="#000066"/><stop offset=".312" stop-color="#00008e"/><stop offset=".469" stop-color="#0000b6"/><stop offset=".625" stop-color="#0000d5"/><stop offset=".75" stop-color="#0000e6"/><stop offset=".844" stop-color="#0000ed"/><stop offset=".938" stop-color="#0000eb"/><stop offset=".969" stop-color="#0000e5"/><stop offset="1" stop-color="#0000cc"/></linearGradient><linearGradient id="c1" gradientUnits="userSpaceOnUse" x1="0" y1="-6.6" x2="0" y2="6.6"><stop offset="0" stop-color="#610000"/><stop offset=".094" stop-color="#610000"/><stop offset=".219" stop-color="#930000"/><stop offset=".344" stop-color="#bb0000"/><stop offset=".5" stop-color="#df0000"/><stop offset=".656" stop-color="#f70101"/><stop offset=".812" stop-color="#fe0000"/><stop offset=".906" stop-color="#f70000"/><stop offset=".969" stop-color="#e50000"/><stop offset="1" stop-color="#c00000"/></linearGradient><linearGradient id="c2" gradientUnits="userSpaceOnUse" x1="0" y1="-6.6" x2="0" y2="6.6"><stop offset="0" stop-color="#610000"/><stop offset=".219" stop-color="#630000"/><stop offset=".5" stop-color="#a40000"/><stop offset=".781" stop-color="#ce0000"/><stop offset=".938" stop-color="#d50000"/><stop offset=".969" stop-color="#d10000"/><stop offset="1" stop-color="#c00000"/></linearGradient><linearGradient id="c3" gradientUnits="userSpaceOnUse" x1="0" y1="-6.6" x2="0" y2="6.6"><stop offset="0" stop-color="#610000"/><stop offset=".125" stop-color="#610000"/><stop offset=".25" stop-color="#840000"/><stop offset=".406" stop-color="#a50000"/><stop offset=".562" stop-color="#be0000"/><stop offset=".719" stop-color="#cd0000"/><stop offset=".844" stop-color="#d20000"/><stop offset=".938" stop-color="#cc0000"/><stop offset=".969" stop-color="#c50000"/><stop offset="1" stop-color="#ac0000"/></linearGradient><linearGradient id="c4" gradientUnits="userSpaceOnUse" x1="0" y1="-6.6" x2="0" y2="6.6"><stop offset="0" stop-color="#000061"/><stop offset=".219" stop-color="#000063"/><stop offset=".5" stop-color="#0000a2"/><stop offset=".781" stop-color="#0000ca"/><stop offset=".938" stop-color="#0000d0"/><stop offset=".969" stop-color="#0000cd"/><stop offset="1" stop-color="#0000bc"/></linearGradient><linearGradient id="c5" gradientUnits="userSpaceOnUse" x1="0" y1="-6.6" x2="0" y2="6.6"><stop offset="0" stop-color="#000061"/><stop offset=".094" stop-color="#000061"/><stop offset=".219" stop-color="#000091"/><stop offset=".344" stop-color="#0000b5"/><stop offset=".5" stop-color="#0000d5"/><stop offset=".656" stop-color="#0000e9"/><stop offset=".781" stop-color="#0000f0"/><stop offset=".906" stop-color="#0000e9"/><stop offset=".969" stop-color="#0000d8"/><stop offset="1" stop-color="#0000b5"/></linearGradient><linearGradient id="c6" gradientUnits="userSpaceOnUse" x1="0" y1="-6.6" x2="0" y2="6.6"><stop offset="0" stop-color="#000061"/><stop offset=".156" stop-color="#000065"/><stop offset=".281" stop-color="#000093"/><stop offset=".438" stop-color="#0000bf"/><stop offset=".594" stop-color="#0000e0"/><stop offset=".719" stop-color="#0000f3"/><stop offset=".844" stop-color="#0000fb"/><stop offset=".938" stop-color="#0000f5"/><stop offset=".969" stop-color="#0000ed"/><stop offset="1" stop-color="#0000ce"/></linearGradient><linearGradient id="c7" gradientUnits="userSpaceOnUse" x1="0" y1="-6.6" x2="0" y2="6.6"><stop offset="0" stop-color="#000061"/><stop offset=".125" stop-color="#000066"/><stop offset=".25" stop-color="#00008b"/><stop offset=".375" stop-color="#0000a8"/><stop offset=".531" stop-color="#0000c2"/><stop offset=".688" stop-color="#0000d3"/><stop offset=".812" stop-color="#0000d9"/><stop offset=".906" stop-color="#0000d5"/><stop offset=".969" stop-color="#0000c8"/><stop offset="1" stop-color="#0000ad"/></linearGradient><linearGradient id="c8" gradientUnits="userSpaceOnUse" x1="0" y1="-6.6" x2="0" y2="6.6"><stop offset="0" stop-color="#610000"/><stop offset=".156" stop-color="#610000"/><stop offset=".469" stop-color="#b80000"/><stop offset=".625" stop-color="#d60000"/><stop offset=".75" stop-color="#e80000"/><stop offset=".844" stop-color="#ef0000"/><stop offset=".938" stop-color="#ec0000"/><stop offset=".969" stop-color="#e60000"/><stop offset="1" stop-color="#cc0000"/></linearGradient><linearGradient id="c9" gradientUnits="userSpaceOnUse" x1="0" y1="-6.6" x2="0" y2="6.6"><stop offset="0" stop-color="#000061"/><stop offset=".156" stop-color="#000061"/><stop offset=".469" stop-color="#0000a2"/><stop offset=".75" stop-color="#0000c5"/><stop offset=".844" stop-color="#0000ca"/><stop offset=".938" stop-color="#0000c8"/><stop offset=".969" stop-color="#0000c3"/><stop offset="1" stop-color="#0000b0"/></linearGradient><linearGradient id="c10" gradientUnits="userSpaceOnUse" x1="0" y1="-6.6" x2="0" y2="6.6"><stop offset="0" stop-color="#000061"/><stop offset=".094" stop-color="#000061"/><stop offset=".25" stop-color="#00009d"/><stop offset=".375" stop-color="#0000c3"/><stop offset=".531" stop-color="#0000e6"/><stop offset=".656" stop-color="#0202fa"/><stop offset=".719" stop-color="#0101ff"/><stop offset=".906" stop-color="#0000fb"/><stop offset=".969" stop-color="#0000ea"/><stop offset="1" stop-color="#0000c4"/></linearGradient><linearGradient id="c11" gradientUnits="userSpaceOnUse" x1="0" y1="-6.6" x2="0" y2="6.6"><stop offset="0" stop-color="#610000"/><stop offset=".188" stop-color="#610000"/><stop offset=".5" stop-color="#ad0000"/><stop offset=".656" stop-color="#c90000"/><stop offset=".781" stop-color="#d90000"/><stop offset=".938" stop-color="#de0000"/><stop offset=".969" stop-color="#da0000"/><stop offset="1" stop-color="#c60000"/></linearGradient><linearGradient id="c12" gradientUnits="userSpaceOnUse" x1="0" y1="-6.6" x2="0" y2="6.6"><stop offset="0" stop-color="#000061"/><stop offset=".094" stop-color="#000061"/><stop offset=".219" stop-color="#000094"/><stop offset=".344" stop-color="#0000b9"/><stop offset=".5" stop-color="#0000db"/><stop offset=".656" stop-color="#0101f2"/><stop offset=".781" stop-color="#0000f9"/><stop offset=".906" stop-color="#0000f1"/><stop offset=".969" stop-color="#0000e0"/><stop offset="1" stop-color="#0000bb"/></linearGradient><linearGradient id="c13" gradientUnits="userSpaceOnUse" x1="0" y1="-6.6" x2="0" y2="6.6"><stop offset="0" stop-color="#610000"/><stop offset=".156" stop-color="#620000"/><stop offset=".281" stop-color="#820000"/><stop offset=".438" stop-color="#a10000"/><stop offset=".719" stop-color="#c50000"/><stop offset=".844" stop-color="#cc0000"/><stop offset=".938" stop-color="#c80000"/><stop offset=".969" stop-color="#c30000"/><stop offset="1" stop-color="#ae0000"/></linearGradient><linearGradient id="c14" gradientUnits="userSpaceOnUse" x1="0" y1="-6.6" x2="0" y2="6.6"><stop offset="0" stop-color="#000061"/><stop offset=".125" stop-color="#000061"/><stop offset=".281" stop-color="#00009a"/><stop offset=".406" stop-color="#0000be"/><stop offset=".562" stop-color="#0000e2"/><stop offset=".719" stop-color="#0000f9"/><stop offset=".875" stop-color="#0000ff"/><stop offset=".938" stop-color="#0000f8"/><stop offset=".969" stop-color="#0000ef"/><stop offset="1" stop-color="#0000cd"/></linearGradient><linearGradient id="c15" gradientUnits="userSpaceOnUse" x1="0" y1="-6.6" x2="0" y2="6.6"><stop offset="0" stop-color="#610000"/><stop offset=".094" stop-color="#610000"/><stop offset=".219" stop-color="#900000"/><stop offset=".344" stop-color="#b20000"/><stop offset=".5" stop-color="#d10000"/><stop offset=".656" stop-color="#e50000"/><stop offset=".781" stop-color="#ec0000"/><stop offset=".906" stop-color="#e50000"/><stop offset=".969" stop-color="#d50000"/><stop offset="1" stop-color="#b30000"/></linearGradient><linearGradient id="c16" gradientUnits="userSpaceOnUse" x1="0" y1="-6.6" x2="0" y2="6.6"><stop offset="0" stop-color="#000061"/><stop offset=".156" stop-color="#000061"/><stop offset=".281" stop-color="#00008e"/><stop offset=".438" stop-color="#0000ba"/><stop offset=".594" stop-color="#0000da"/><stop offset=".719" stop-color="#0000ed"/><stop offset=".844" stop-color="#0000f6"/><stop offset=".938" stop-color="#0000f2"/><stop offset=".969" stop-color="#0000ea"/><stop offset="1" stop-color="#0000cd"/></linearGradient><linearGradient id="c17" gradientUnits="userSpaceOnUse" x1="0" y1="-6.6" x2="0" y2="6.6"><stop offset="0" stop-color="#610000"/><stop offset=".125" stop-color="#610000"/><stop offset=".156" stop-color="#680000"/><stop offset=".312" stop-color="#a00000"/><stop offset=".438" stop-color="#c30000"/><stop offset=".594" stop-color="#e40000"/><stop offset=".719" stop-color="#f60000"/><stop offset=".844" stop-color="#fd0000"/><stop offset=".938" stop-color="#f70000"/><stop offset=".969" stop-color="#ee0000"/><stop offset="1" stop-color="#ce0000"/></linearGradient><linearGradient id="c18" gradientUnits="userSpaceOnUse" x1="0" y1="-6.6" x2="0" y2="6.6"><stop offset="0" stop-color="#610000"/><stop offset=".125" stop-color="#650000"/><stop offset=".25" stop-color="#8a0000"/><stop offset=".375" stop-color="#a70000"/><stop offset=".531" stop-color="#c10000"/><stop offset=".688" stop-color="#d20000"/><stop offset=".812" stop-color="#d80000"/><stop offset=".906" stop-color="#d40000"/><stop offset=".969" stop-color="#c80000"/><stop offset="1" stop-color="#ad0000"/></linearGradient><linearGradient id="c19" gradientUnits="userSpaceOnUse" x1="0" y1="-6.6" x2="0" y2="6.6"><stop offset="0" stop-color="#610000"/><stop offset=".125" stop-color="#610000"/><stop offset=".281" stop-color="#9c0000"/><stop offset=".406" stop-color="#c10000"/><stop offset=".562" stop-color="#e40000"/><stop offset=".719" stop-color="#fb0000"/><stop offset=".875" stop-color="#ff0000"/><stop offset=".938" stop-color="#f90000"/><stop offset=".969" stop-color="#f00000"/><stop offset="1" stop-color="#cd0000"/></linearGradient><linearGradient id="c20" gradientUnits="userSpaceOnUse" x1="0" y1="-6.6" x2="0" y2="6.6"><stop offset="0" stop-color="#610000"/><stop offset=".188" stop-color="#620000"/><stop offset=".469" stop-color="#9e0000"/><stop offset=".75" stop-color="#c30000"/><stop offset=".938" stop-color="#c80000"/><stop offset=".969" stop-color="#c40000"/><stop offset="1" stop-color="#b20000"/></linearGradient><linearGradient id="c21" gradientUnits="userSpaceOnUse" x1="0" y1="-6.6" x2="0" y2="6.6"><stop offset="0" stop-color="#610000"/><stop offset=".125" stop-color="#650000"/><stop offset=".25" stop-color="#990000"/><stop offset=".375" stop-color="#c00000"/><stop offset=".531" stop-color="#e40000"/><stop offset=".688" stop-color="#fd0101"/><stop offset=".906" stop-color="#ff0000"/><stop offset=".969" stop-color="#ef0000"/><stop offset="1" stop-color="#ca0000"/></linearGradient><linearGradient id="c22" gradientUnits="userSpaceOnUse" x1="0" y1="-6.6" x2="0" y2="6.6"><stop offset="0" stop-color="#000061"/><stop offset=".094" stop-color="#000061"/><stop offset=".25" stop-color="#000093"/><stop offset=".375" stop-color="#0000b1"/><stop offset=".531" stop-color="#0000cc"/><stop offset=".688" stop-color="#0000dd"/><stop offset=".812" stop-color="#0000e2"/><stop offset=".906" stop-color="#0000dc"/><stop offset=".969" stop-color="#0000ce"/><stop offset="1" stop-color="#0000af"/></linearGradient><linearGradient id="c23" gradientUnits="userSpaceOnUse" x1="0" y1="-6.6" x2="0" y2="6.6"><stop offset="0" stop-color="#000061"/><stop offset=".125" stop-color="#000061"/><stop offset=".281" stop-color="#00008a"/><stop offset=".406" stop-color="#0000a4"/><stop offset=".562" stop-color="#0000bc"/><stop offset=".719" stop-color="#0000cc"/><stop offset=".844" stop-color="#0000d1"/><stop offset=".938" stop-color="#0000cb"/><stop offset=".969" stop-color="#0000c4"/><stop offset="1" stop-color="#0000ac"/></linearGradient><linearGradient id="c24" gradientUnits="userSpaceOnUse" x1="0" y1="-6.6" x2="0" y2="6.6"><stop offset="0" stop-color="#000061"/><stop offset=".188" stop-color="#000061"/><stop offset=".5" stop-color="#0000ae"/><stop offset=".656" stop-color="#0000ca"/><stop offset=".781" stop-color="#0000da"/><stop offset=".938" stop-color="#0000e0"/><stop offset=".969" stop-color="#0000db"/><stop offset="1" stop-color="#0000c7"/></linearGradient><linearGradient id="c25" gradientUnits="userSpaceOnUse" x1="0" y1="-6.6" x2="0" y2="6.6"><stop offset="0" stop-color="#610000"/><stop offset=".094" stop-color="#610000"/><stop offset=".25" stop-color="#920000"/><stop offset=".375" stop-color="#af0000"/><stop offset=".531" stop-color="#cb0000"/><stop offset=".688" stop-color="#dc0000"/><stop offset=".812" stop-color="#e00000"/><stop offset=".906" stop-color="#db0000"/><stop offset=".969" stop-color="#cd0000"/><stop offset="1" stop-color="#ae0000"/></linearGradient><linearGradient id="c26" gradientUnits="userSpaceOnUse" x1="0" y1="-6.6" x2="0" y2="6.6"><stop offset="0" stop-color="#000061"/><stop offset=".094" stop-color="#000061"/><stop offset=".219" stop-color="#000093"/><stop offset=".344" stop-color="#0000b8"/><stop offset=".5" stop-color="#0000da"/><stop offset=".656" stop-color="#0000f0"/><stop offset=".781" stop-color="#0000f6"/><stop offset=".906" stop-color="#0000ef"/><stop offset=".969" stop-color="#0000de"/><stop offset="1" stop-color="#0000b9"/></linearGradient><linearGradient id="c27" gradientUnits="userSpaceOnUse" x1="0" y1="-6.6" x2="0" y2="6.6"><stop offset="0" stop-color="#000061"/><stop offset=".094" stop-color="#000061"/><stop offset=".219" stop-color="#00008e"/><stop offset=".375" stop-color="#0000b6"/><stop offset=".531" stop-color="#0000d2"/><stop offset=".688" stop-color="#0000e4"/><stop offset=".812" stop-color="#0000e8"/><stop offset=".906" stop-color="#0000e1"/><stop offset=".969" stop-color="#0000d2"/><stop offset="1" stop-color="#0000b1"/></linearGradient><linearGradient id="c28" gradientUnits="userSpaceOnUse" x1="0" y1="-6.6" x2="0" y2="6.6"><stop offset="0" stop-color="#000061"/><stop offset=".219" stop-color="#000064"/><stop offset=".5" stop-color="#0000a5"/><stop offset=".781" stop-color="#0000d0"/><stop offset=".938" stop-color="#0000d6"/><stop offset=".969" stop-color="#0000d3"/><stop offset="1" stop-color="#0000c1"/></linearGradient><linearGradient id="c29" gradientUnits="userSpaceOnUse" x1="0" y1="-6.6" x2="0" y2="6.6"><stop offset="0" stop-color="#000061"/><stop offset=".094" stop-color="#000061"/><stop offset=".125" stop-color="#000067"/><stop offset=".25" stop-color="#00009b"/><stop offset=".375" stop-color="#0000c1"/><stop offset=".531" stop-color="#0000e6"/><stop offset=".688" stop-color="#0101fe"/><stop offset=".906" stop-color="#0000fe"/><stop offset=".969" stop-color="#0000ed"/><stop offset="1" stop-color="#0000c8"/></linearGradient><linearGradient id="c30" gradientUnits="userSpaceOnUse" x1="0" y1="-6.6" x2="0" y2="6.6"><stop offset="0" stop-color="#000061"/><stop offset=".094" stop-color="#000061"/><stop offset=".219" stop-color="#000094"/><stop offset=".344" stop-color="#0000ba"/><stop offset=".5" stop-color="#0000dc"/><stop offset=".656" stop-color="#0101f3"/><stop offset=".781" stop-color="#0000fa"/><stop offset=".906" stop-color="#0000f3"/><stop offset=".969" stop-color="#0000e1"/><stop offset="1" stop-color="#0000bc"/></linearGradient><linearGradient id="c31" gradientUnits="userSpaceOnUse" x1="0" y1="-6.6" x2="0" y2="6.6"><stop offset="0" stop-color="#610000"/><stop offset=".125" stop-color="#610000"/><stop offset=".406" stop-color="#a20000"/><stop offset=".562" stop-color="#ba0000"/><stop offset=".719" stop-color="#cb0000"/><stop offset=".844" stop-color="#cf0000"/><stop offset=".938" stop-color="#ca0000"/><stop offset=".969" stop-color="#c40000"/><stop offset="1" stop-color="#ad0000"/></linearGradient><linearGradient id="c32" gradientUnits="userSpaceOnUse" x1="0" y1="-6.6" x2="0" y2="6.6"><stop offset="0" stop-color="#610000"/><stop offset=".094" stop-color="#610000"/><stop offset=".219" stop-color="#940000"/><stop offset=".344" stop-color="#b90000"/><stop offset=".5" stop-color="#dc0000"/><stop offset=".656" stop-color="#f20101"/><stop offset=".781" stop-color="#f90000"/><stop offset=".906" stop-color="#f20000"/><stop offset=".969" stop-color="#e00000"/><stop offset="1" stop-color="#bb0000"/></linearGradient><linearGradient id="c33" gradientUnits="userSpaceOnUse" x1="0" y1="-6.6" x2="0" y2="6.6"><stop offset="0" stop-color="#000061"/><stop offset=".156" stop-color="#000061"/><stop offset=".312" stop-color="#000095"/><stop offset=".438" stop-color="#0000b6"/><stop offset=".594" stop-color="#0000d7"/><stop offset=".75" stop-color="#0000ed"/><stop offset=".844" stop-color="#0000f4"/><stop offset=".938" stop-color="#0000f0"/><stop offset=".969" stop-color="#0000e9"/><stop offset="1" stop-color="#0000cd"/></linearGradient><linearGradient id="c34" gradientUnits="userSpaceOnUse" x1="0" y1="-6.6" x2="0" y2="6.6"><stop offset="0" stop-color="#610000"/><stop offset=".156" stop-color="#620000"/><stop offset=".281" stop-color="#8f0000"/><stop offset=".438" stop-color="#bb0000"/><stop offset=".594" stop-color="#dc0000"/><stop offset=".719" stop-color="#ee0000"/><stop offset=".844" stop-color="#f70000"/><stop offset=".938" stop-color="#f20000"/><stop offset=".969" stop-color="#eb0000"/><stop offset="1" stop-color="#ce0000"/></linearGradient><linearGradient id="c35" gradientUnits="userSpaceOnUse" x1="0" y1="-6.6" x2="0" y2="6.6"><stop offset="0" stop-color="#610000"/><stop offset=".219" stop-color="#640000"/><stop offset=".5" stop-color="#a10000"/><stop offset=".781" stop-color="#c80000"/><stop offset=".938" stop-color="#ce0000"/><stop offset=".969" stop-color="#ca0000"/><stop offset="1" stop-color="#ba0000"/></linearGradient><linearGradient id="c36" gradientUnits="userSpaceOnUse" x1="0" y1="-6.6" x2="0" y2="6.6"><stop offset="0" stop-color="#610000"/><stop offset=".188" stop-color="#610000"/><stop offset=".312" stop-color="#860000"/><stop offset=".469" stop-color="#ad0000"/><stop offset=".625" stop-color="#cb0000"/><stop offset=".781" stop-color="#df0000"/><stop offset=".938" stop-color="#e40000"/><stop offset=".969" stop-color="#df0000"/><stop offset="1" stop-color="#c90000"/></linearGradient><linearGradient id="c37" gradientUnits="userSpaceOnUse" x1="0" y1="-6.6" x2="0" y2="6.6"><stop offset="0" stop-color="#000061"/><stop offset=".188" stop-color="#000061"/><stop offset=".5" stop-color="#0000a2"/><stop offset=".781" stop-color="#0000c6"/><stop offset=".938" stop-color="#0000ca"/><stop offset=".969" stop-color="#0000c6"/><stop offset="1" stop-color="#0000b5"/></linearGradient><linearGradient id="c38" gradientUnits="userSpaceOnUse" x1="0" y1="-6.6" x2="0" y2="6.6"><stop offset="0" stop-color="#000061"/><stop offset=".125" stop-color="#000061"/><stop offset=".312" stop-color="#00008e"/><stop offset=".438" stop-color="#0000a6"/><stop offset=".719" stop-color="#0000c9"/><stop offset=".844" stop-color="#0000cf"/><stop offset=".938" stop-color="#0000ca"/><stop offset=".969" stop-color="#0000c4"/><stop offset="1" stop-color="#0000ad"/></linearGradient><linearGradient id="c39" gradientUnits="userSpaceOnUse" x1="0" y1="-6.6" x2="0" y2="6.6"><stop offset="0" stop-color="#610000"/><stop offset=".156" stop-color="#610000"/><stop offset=".438" stop-color="#9e0000"/><stop offset=".594" stop-color="#b60000"/><stop offset=".75" stop-color="#c60000"/><stop offset=".844" stop-color="#ca0000"/><stop offset=".938" stop-color="#c80000"/><stop offset=".969" stop-color="#c30000"/><stop offset="1" stop-color="#af0000"/></linearGradient><linearGradient id="c40" gradientUnits="userSpaceOnUse" x1="0" y1="-6.6" x2="0" y2="6.6"><stop offset="0" stop-color="#000061"/><stop offset=".125" stop-color="#000061"/><stop offset=".25" stop-color="#000094"/><stop offset=".375" stop-color="#0000bb"/><stop offset=".531" stop-color="#0000e1"/><stop offset=".688" stop-color="#0000fa"/><stop offset=".75" stop-color="#0000ff"/><stop offset=".906" stop-color="#0000ff"/><stop offset=".969" stop-color="#0000f0"/><stop offset="1" stop-color="#0000cc"/></linearGradient><linearGradient id="c41" gradientUnits="userSpaceOnUse" x1="0" y1="-6.6" x2="0" y2="6.6"><stop offset="0" stop-color="#610000"/><stop offset=".156" stop-color="#610000"/><stop offset=".188" stop-color="#650000"/><stop offset=".312" stop-color="#8d0000"/><stop offset=".469" stop-color="#b50000"/><stop offset=".625" stop-color="#d30000"/><stop offset=".75" stop-color="#e50000"/><stop offset=".844" stop-color="#ec0000"/><stop offset=".938" stop-color="#ea0000"/><stop offset=".969" stop-color="#e40000"/><stop offset="1" stop-color="#cb0000"/></linearGradient><linearGradient id="c42" gradientUnits="userSpaceOnUse" x1="0" y1="-6.6" x2="0" y2="6.6"><stop offset="0" stop-color="#610000"/><stop offset=".125" stop-color="#620000"/><stop offset=".25" stop-color="#960000"/><stop offset=".375" stop-color="#bd0000"/><stop offset=".531" stop-color="#e20000"/><stop offset=".688" stop-color="#fb0101"/><stop offset=".906" stop-color="#ff0000"/><stop offset=".969" stop-color="#f00000"/><stop offset="1" stop-color="#cc0000"/></linearGradient><linearGradient id="c43" gradientUnits="userSpaceOnUse" x1="0" y1="-6.6" x2="0" y2="6.6"><stop offset="0" stop-color="#610000"/><stop offset=".188" stop-color="#610000"/><stop offset=".344" stop-color="#8c0000"/><stop offset=".5" stop-color="#b00000"/><stop offset=".656" stop-color="#cc0000"/><stop offset=".781" stop-color="#dc0000"/><stop offset=".938" stop-color="#e10000"/><stop offset=".969" stop-color="#dd0000"/><stop offset="1" stop-color="#c80000"/></linearGradient><linearGradient id="c44" gradientUnits="userSpaceOnUse" x1="0" y1="-6.6" x2="0" y2="6.6"><stop offset="0" stop-color="#610000"/><stop offset=".094" stop-color="#610000"/><stop offset=".219" stop-color="#920000"/><stop offset=".344" stop-color="#b50000"/><stop offset=".5" stop-color="#d60000"/><stop offset=".656" stop-color="#eb0000"/><stop offset=".781" stop-color="#f10000"/><stop offset=".906" stop-color="#ea0000"/><stop offset=".969" stop-color="#d90000"/><stop offset="1" stop-color="#b60000"/></linearGradient><linearGradient id="c45" gradientUnits="userSpaceOnUse" x1="0" y1="-6.6" x2="0" y2="6.6"><stop offset="0" stop-color="#000061"/><stop offset=".219" stop-color="#000064"/><stop offset=".5" stop-color="#0000a8"/><stop offset=".781" stop-color="#0000d3"/><stop offset=".938" stop-color="#0000d9"/><stop offset=".969" stop-color="#0000d5"/><stop offset="1" stop-color="#0000c3"/></linearGradient><linearGradient id="c46" gradientUnits="userSpaceOnUse" x1="0" y1="-6.6" x2="0" y2="6.6"><stop offset="0" stop-color="#610000"/><stop offset=".125" stop-color="#610000"/><stop offset=".156" stop-color="#660000"/><stop offset=".281" stop-color="#940000"/><stop offset=".438" stop-color="#c10000"/><stop offset=".594" stop-color="#e20000"/><stop offset=".719" stop-color="#f40000"/><stop offset=".844" stop-color="#fc0000"/><stop offset=".938" stop-color="#f60000"/><stop offset=".969" stop-color="#ed0000"/><stop offset="1" stop-color="#ce0000"/></linearGradient><linearGradient id="c47" gradientUnits="userSpaceOnUse" x1="0" y1="-6.6" x2="0" y2="6.6"><stop offset="0" stop-color="#000061"/><stop offset=".156" stop-color="#000061"/><stop offset=".281" stop-color="#000080"/><stop offset=".438" stop-color="#00009f"/><stop offset=".594" stop-color="#0000b7"/><stop offset=".75" stop-color="#0000c7"/><stop offset=".844" stop-color="#0000cb"/><stop offset=".938" stop-color="#0000c8"/><stop offset=".969" stop-color="#0000c3"/><stop offset="1" stop-color="#0000ae"/></linearGradient><linearGradient id="c48" gradientUnits="userSpaceOnUse" x1="0" y1="-6.6" x2="0" y2="6.6"><stop offset="0" stop-color="#610000"/><stop offset=".094" stop-color="#610000"/><stop offset=".219" stop-color="#8b0000"/><stop offset=".375" stop-color="#b20000"/><stop offset=".531" stop-color="#cd0000"/><stop offset=".688" stop-color="#df0000"/><stop offset=".812" stop-color="#e30000"/><stop offset=".906" stop-color="#dd0000"/><stop offset=".969" stop-color="#ce0000"/><stop offset="1" stop-color="#af0000"/></linearGradient><linearGradient id="c49" gradientUnits="userSpaceOnUse" x1="0" y1="-6.6" x2="0" y2="6.6"><stop offset="0" stop-color="#000061"/><stop offset=".188" stop-color="#000061"/><stop offset=".344" stop-color="#00008d"/><stop offset=".5" stop-color="#0000b2"/><stop offset=".656" stop-color="#0000ce"/><stop offset=".781" stop-color="#0000de"/><stop offset=".938" stop-color="#0000e2"/><stop offset=".969" stop-color="#0000de"/><stop offset="1" stop-color="#0000c8"/></linearGradient><linearGradient id="c50" gradientUnits="userSpaceOnUse" x1="0" y1="-6.6" x2="0" y2="6.6"><stop offset="0" stop-color="#000061"/><stop offset=".094" stop-color="#000061"/><stop offset=".219" stop-color="#000094"/><stop offset=".344" stop-color="#0000ba"/><stop offset=".5" stop-color="#0000de"/><stop offset=".656" stop-color="#0101f6"/><stop offset=".812" stop-color="#0000fd"/><stop offset=".906" stop-color="#0000f6"/><stop offset=".969" stop-color="#0000e5"/><stop offset="1" stop-color="#0000bf"/></linearGradient><linearGradient id="c51" gradientUnits="userSpaceOnUse" x1="0" y1="-6.6" x2="0" y2="6.6"><stop offset="0" stop-color="#610000"/><stop offset=".156" stop-color="#610000"/><stop offset=".281" stop-color="#8d0000"/><stop offset=".438" stop-color="#b80000"/><stop offset=".594" stop-color="#d90000"/><stop offset=".75" stop-color="#ef0000"/><stop offset=".844" stop-color="#f50000"/><stop offset=".938" stop-color="#f10000"/><stop offset=".969" stop-color="#ea0000"/><stop offset="1" stop-color="#cd0000"/></linearGradient><linearGradient id="c52" gradientUnits="userSpaceOnUse" x1="0" y1="-6.6" x2="0" y2="6.6"><stop offset="0" stop-color="#000061"/><stop offset=".125" stop-color="#000064"/><stop offset=".25" stop-color="#000089"/><stop offset=".375" stop-color="#0000a5"/><stop offset=".531" stop-color="#0000bf"/><stop offset=".688" stop-color="#0000d1"/><stop offset=".812" stop-color="#0000d6"/><stop offset=".906" stop-color="#0000d3"/><stop offset=".969" stop-color="#0000c7"/><stop offset="1" stop-color="#0000ac"/></linearGradient><linearGradient id="c53" gradientUnits="userSpaceOnUse" x1="0" y1="-6.6" x2="0" y2="6.6"><stop offset="0" stop-color="#610000"/><stop offset=".094" stop-color="#610000"/><stop offset=".25" stop-color="#8d0000"/><stop offset=".375" stop-color="#a90000"/><stop offset=".531" stop-color="#c40000"/><stop offset=".688" stop-color="#d50000"/><stop offset=".812" stop-color="#da0000"/><stop offset=".906" stop-color="#d60000"/><stop offset=".969" stop-color="#c90000"/><stop offset="1" stop-color="#ad0000"/></linearGradient><linearGradient id="c54" gradientUnits="userSpaceOnUse" x1="0" y1="-6.6" x2="0" y2="6.6"><stop offset="0" stop-color="#610000"/><stop offset=".094" stop-color="#610000"/><stop offset=".219" stop-color="#930000"/><stop offset=".344" stop-color="#b90000"/><stop offset=".5" stop-color="#db0000"/><stop offset=".656" stop-color="#f10101"/><stop offset=".781" stop-color="#f80000"/><stop offset=".906" stop-color="#f00000"/><stop offset=".969" stop-color="#df0000"/><stop offset="1" stop-color="#ba0000"/></linearGradient><linearGradient id="c55" gradientUnits="userSpaceOnUse" x1="0" y1="-6.6" x2="0" y2="6.6"><stop offset="0" stop-color="#610000"/><stop offset=".094" stop-color="#610000"/><stop offset=".125" stop-color="#680000"/><stop offset=".25" stop-color="#9b0000"/><stop offset=".375" stop-color="#c20000"/><stop offset=".531" stop-color="#e60000"/><stop offset=".688" stop-color="#fe0101"/><stop offset=".906" stop-color="#fe0000"/><stop offset=".969" stop-color="#ed0000"/><stop offset="1" stop-color="#c70000"/></linearGradient><linearGradient id="c56" gradientUnits="userSpaceOnUse" x1="0" y1="-6.6" x2="0" y2="6.6"><stop offset="0" stop-color="#000061"/><stop offset=".125" stop-color="#000064"/><stop offset=".25" stop-color="#000098"/><stop offset=".375" stop-color="#0000bf"/><stop offset=".531" stop-color="#0000e4"/><stop offset=".688" stop-color="#0101fd"/><stop offset=".906" stop-color="#0000ff"/><stop offset=".969" stop-color="#0000ef"/><stop offset="1" stop-color="#0000ca"/></linearGradient><linearGradient id="c57" gradientUnits="userSpaceOnUse" x1="0" y1="-6.6" x2="0" y2="6.6"><stop offset="0" stop-color="#000061"/><stop offset=".125" stop-color="#000065"/><stop offset=".25" stop-color="#000099"/><stop offset=".375" stop-color="#0000c0"/><stop offset=".531" stop-color="#0000e4"/><stop offset=".688" stop-color="#0101fd"/><stop offset=".906" stop-color="#0000ff"/><stop offset=".969" stop-color="#0000ef"/><stop offset="1" stop-color="#0000ca"/></linearGradient><linearGradient id="c58" gradientUnits="userSpaceOnUse" x1="0" y1="-6.6" x2="0" y2="6.6"><stop offset="0" stop-color="#610000"/><stop offset=".188" stop-color="#610000"/><stop offset=".5" stop-color="#a20000"/><stop offset=".781" stop-color="#c60000"/><stop offset=".938" stop-color="#c90000"/><stop offset=".969" stop-color="#c50000"/><stop offset="1" stop-color="#b40000"/></linearGradient><linearGradient id="c59" gradientUnits="userSpaceOnUse" x1="0" y1="-6.6" x2="0" y2="6.6"><stop offset="0" stop-color="#610000"/><stop offset=".094" stop-color="#610000"/><stop offset=".219" stop-color="#920000"/><stop offset=".344" stop-color="#b60000"/><stop offset=".5" stop-color="#d70000"/><stop offset=".656" stop-color="#ec0000"/><stop offset=".781" stop-color="#f30000"/><stop offset=".906" stop-color="#ec0000"/><stop offset=".969" stop-color="#db0000"/><stop offset="1" stop-color="#b70000"/></linearGradient><linearGradient id="c60" gradientUnits="userSpaceOnUse" x1="0" y1="-6.6" x2="0" y2="6.6"><stop offset="0" stop-color="#000061"/><stop offset=".094" stop-color="#000061"/><stop offset=".219" stop-color="#000093"/><stop offset=".344" stop-color="#0000bb"/><stop offset=".5" stop-color="#0000df"/><stop offset=".656" stop-color="#0101f8"/><stop offset=".812" stop-color="#0000ff"/><stop offset=".906" stop-color="#0000f8"/><stop offset=".969" stop-color="#0000e6"/><stop offset="1" stop-color="#0000c0"/></linearGradient><linearGradient id="c61" gradientUnits="userSpaceOnUse" x1="0" y1="-6.6" x2="0" y2="6.6"><stop offset="0" stop-color="#610000"/><stop offset=".219" stop-color="#640000"/><stop offset=".5" stop-color="#a60000"/><stop offset=".781" stop-color="#d10000"/><stop offset=".938" stop-color="#d70000"/><stop offset=".969" stop-color="#d40000"/><stop offset="1" stop-color="#c20000"/></linearGradient><linearGradient id="c62" gradientUnits="userSpaceOnUse" x1="0" y1="-6.6" x2="0" y2="6.6"><stop offset="0" stop-color="#610000"/><stop offset=".125" stop-color="#610000"/><stop offset=".25" stop-color="#950000"/><stop offset=".375" stop-color="#bc0000"/><stop offset=".531" stop-color="#e10000"/><stop offset=".688" stop-color="#fa0000"/><stop offset=".906" stop-color="#ff0000"/><stop offset=".969" stop-color="#f00000"/><stop offset="1" stop-color="#cc0000"/></linearGradient><linearGradient id="c63" gradientUnits="userSpaceOnUse" x1="0" y1="-6.6" x2="0" y2="6.6"><stop offset="0" stop-color="#000061"/><stop offset=".188" stop-color="#000061"/><stop offset=".469" stop-color="#00009e"/><stop offset=".75" stop-color="#0000c3"/><stop offset=".938" stop-color="#0000c9"/><stop offset=".969" stop-color="#0000c5"/><stop offset="1" stop-color="#0000b3"/></linearGradient><linearGradient id="c64" gradientUnits="userSpaceOnUse" x1="0" y1="-6.6" x2="0" y2="6.6"><stop offset="0" stop-color="#610000"/><stop offset=".094" stop-color="#610000"/><stop offset=".125" stop-color="#690000"/><stop offset=".25" stop-color="#9c0000"/><stop offset=".375" stop-color="#c20000"/><stop offset=".531" stop-color="#e60000"/><stop offset=".688" stop-color="#fe0101"/><stop offset=".906" stop-color="#fd0000"/><stop offset=".969" stop-color="#ec0000"/><stop offset="1" stop-color="#c60000"/></linearGradient><linearGradient id="c65" gradientUnits="userSpaceOnUse" x1="0" y1="-6.6" x2="0" y2="6.6"><stop offset="0" stop-color="#000061"/><stop offset=".094" stop-color="#000061"/><stop offset=".219" stop-color="#000092"/><stop offset=".344" stop-color="#0000b6"/><stop offset=".5" stop-color="#0000d7"/><stop offset=".656" stop-color="#0000ec"/><stop offset=".781" stop-color="#0000f2"/><stop offset=".906" stop-color="#0000eb"/><stop offset=".969" stop-color="#0000da"/><stop offset="1" stop-color="#0000b6"/></linearGradient><linearGradient id="c66" gradientUnits="userSpaceOnUse" x1="0" y1="-6.6" x2="0" y2="6.6"><stop offset="0" stop-color="#610000"/><stop offset=".094" stop-color="#610000"/><stop offset=".219" stop-color="#8e0000"/><stop offset=".344" stop-color="#b00000"/><stop offset=".5" stop-color="#cf0000"/><stop offset=".656" stop-color="#e20000"/><stop offset=".781" stop-color="#e90000"/><stop offset=".906" stop-color="#e20000"/><stop offset=".969" stop-color="#d30000"/><stop offset="1" stop-color="#b20000"/></linearGradient><linearGradient id="c67" gradientUnits="userSpaceOnUse" x1="0" y1="-6.6" x2="0" y2="6.6"><stop offset="0" stop-color="#000061"/><stop offset=".094" stop-color="#000061"/><stop offset=".25" stop-color="#000091"/><stop offset=".375" stop-color="#0000ae"/><stop offset=".531" stop-color="#0000c9"/><stop offset=".688" stop-color="#0000da"/><stop offset=".812" stop-color="#0000df"/><stop offset=".906" stop-color="#0000da"/><stop offset=".969" stop-color="#0000cc"/><stop offset="1" stop-color="#0000ae"/></linearGradient><linearGradient id="c68" gradientUnits="userSpaceOnUse" x1="0" y1="-6.6" x2="0" y2="6.6"><stop offset="0" stop-color="#000061"/><stop offset=".188" stop-color="#000064"/><stop offset=".312" stop-color="#00008b"/><stop offset=".469" stop-color="#0000b3"/><stop offset=".625" stop-color="#0000d1"/><stop offset=".75" stop-color="#0000e3"/><stop offset=".844" stop-color="#0000ea"/><stop offset=".938" stop-color="#0000e9"/><stop offset=".969" stop-color="#0000e3"/><stop offset="1" stop-color="#0000cb"/></linearGradient><linearGradient id="c69" gradientUnits="userSpaceOnUse" x1="0" y1="-6.6" x2="0" y2="6.6"><stop offset="0" stop-color="#610000"/><stop offset=".094" stop-color="#610000"/><stop offset=".25" stop-color="#9d0000"/><stop offset=".375" stop-color="#c30000"/><stop offset=".531" stop-color="#e60000"/><stop offset=".656" stop-color="#fa0202"/><stop offset=".719" stop-color="#ff0101"/><stop offset=".906" stop-color="#fb0000"/><stop offset=".969" stop-color="#ea0000"/><stop offset="1" stop-color="#c40000"/></linearGradient><linearGradient id="c70" gradientUnits="userSpaceOnUse" x1="0" y1="-6.6" x2="0" y2="6.6"><stop offset="0" stop-color="#000061"/><stop offset=".094" stop-color="#000061"/><stop offset=".219" stop-color="#00008f"/><stop offset=".344" stop-color="#0000b1"/><stop offset=".5" stop-color="#0000d0"/><stop offset=".656" stop-color="#0000e4"/><stop offset=".781" stop-color="#0000ea"/><stop offset=".906" stop-color="#0000e4"/><stop offset=".969" stop-color="#0000d4"/><stop offset="1" stop-color="#0000b2"/></linearGradient><linearGradient id="c71" gradientUnits="userSpaceOnUse" x1="0" y1="-6.6" x2="0" y2="6.6"><stop offset="0" stop-color="#000061"/><stop offset=".125" stop-color="#000061"/><stop offset=".156" stop-color="#000067"/><stop offset=".281" stop-color="#000095"/><stop offset=".438" stop-color="#0000c2"/><stop offset=".594" stop-color="#0000e3"/><stop offset=".719" stop-color="#0000f5"/><stop offset=".844" stop-color="#0000fd"/><stop offset=".938" stop-color="#0000f6"/><stop offset=".969" stop-color="#0000ee"/><stop offset="1" stop-color="#0000ce"/></linearGradient><linearGradient id="c72" gradientUnits="userSpaceOnUse" x1="0" y1="-6.6" x2="0" y2="6.6"><stop offset="0" stop-color="#610000"/><stop offset=".188" stop-color="#610000"/><stop offset=".5" stop-color="#ac0000"/><stop offset=".781" stop-color="#d80000"/><stop offset=".938" stop-color="#dd0000"/><stop offset=".969" stop-color="#d90000"/><stop offset="1" stop-color="#c50000"/></linearGradient><linearGradient id="c73" gradientUnits="userSpaceOnUse" x1="0" y1="-6.6" x2="0" y2="6.6"><stop offset="0" stop-color="#000061"/><stop offset=".125" stop-color="#000061"/><stop offset=".281" stop-color="#00009b"/><stop offset=".406" stop-color="#0000c0"/><stop offset=".562" stop-color="#0000e3"/><stop offset=".719" stop-color="#0000fa"/><stop offset=".875" stop-color="#0000ff"/><stop offset=".938" stop-color="#0000f9"/><stop offset=".969" stop-color="#0000ef"/><stop offset="1" stop-color="#0000cd"/></linearGradient><linearGradient id="c74" gradientUnits="userSpaceOnUse" x1="0" y1="-6.6" x2="0" y2="6.6"><stop offset="0" stop-color="#610000"/><stop offset=".094" stop-color="#610000"/><stop offset=".219" stop-color="#930000"/><stop offset=".344" stop-color="#bb0000"/><stop offset=".5" stop-color="#e00000"/><stop offset=".656" stop-color="#f90202"/><stop offset=".75" stop-color="#ff0101"/><stop offset=".906" stop-color="#fa0000"/><stop offset=".969" stop-color="#e90000"/><stop offset="1" stop-color="#c30000"/></linearGradient><linearGradient id="c75" gradientUnits="userSpaceOnUse" x1="0" y1="-6.6" x2="0" y2="6.6"><stop offset="0" stop-color="#610000"/><stop offset=".094" stop-color="#610000"/><stop offset=".219" stop-color="#940000"/><stop offset=".344" stop-color="#ba0000"/><stop offset=".5" stop-color="#de0000"/><stop offset=".656" stop-color="#f60101"/><stop offset=".812" stop-color="#fd0000"/><stop offset=".906" stop-color="#f60000"/><stop offset=".969" stop-color="#e40000"/><stop offset="1" stop-color="#be0000"/></linearGradient><linearGradient id="c76" gradientUnits="userSpaceOnUse" x1="0" y1="-6.6" x2="0" y2="6.6"><stop offset="0" stop-color="#000061"/><stop offset=".219" stop-color="#000064"/><stop offset=".5" stop-color="#0000a1"/><stop offset=".781" stop-color="#0000c8"/><stop offset=".938" stop-color="#0000ce"/><stop offset=".969" stop-color="#0000ca"/><stop offset="1" stop-color="#0000ba"/></linearGradient><linearGradient id="c77" gradientUnits="userSpaceOnUse" x1="0" y1="-6.6" x2="0" y2="6.6"><stop offset="0" stop-color="#000061"/><stop offset=".125" stop-color="#000062"/><stop offset=".25" stop-color="#000095"/><stop offset=".375" stop-color="#0000bc"/><stop offset=".531" stop-color="#0000e2"/><stop offset=".688" stop-color="#0101fb"/><stop offset=".906" stop-color="#0000ff"/><stop offset=".969" stop-color="#0000f0"/><stop offset="1" stop-color="#0000cc"/></linearGradient><linearGradient id="c78" gradientUnits="userSpaceOnUse" x1="0" y1="-6.6" x2="0" y2="6.6"><stop offset="0" stop-color="#000061"/><stop offset=".094" stop-color="#000061"/><stop offset=".125" stop-color="#000068"/><stop offset=".25" stop-color="#00009c"/><stop offset=".375" stop-color="#0000c2"/><stop offset=".531" stop-color="#0000e6"/><stop offset=".688" stop-color="#0101fe"/><stop offset=".906" stop-color="#0000fd"/><stop offset=".969" stop-color="#0000ec"/><stop offset="1" stop-color="#0000c7"/></linearGradient><linearGradient id="c79" gradientUnits="userSpaceOnUse" x1="0" y1="-6.6" x2="0" y2="6.6"><stop offset="0" stop-color="#610000"/><stop offset=".125" stop-color="#610000"/><stop offset=".281" stop-color="#9b0000"/><stop offset=".406" stop-color="#bf0000"/><stop offset=".562" stop-color="#e20000"/><stop offset=".719" stop-color="#fa0000"/><stop offset=".875" stop-color="#ff0000"/><stop offset=".938" stop-color="#f80000"/><stop offset=".969" stop-color="#ef0000"/><stop offset="1" stop-color="#cd0000"/></linearGradient><clipPath id="k0"><path d="M920.8 140.4L937.7 147.3L937.3 148.9L935.2 148.9L934.7 149.3L934.5 149.8L934.5 150.3L934.7 150.9L934.9 151.5L935.2 152.1L935.6 152.8L936.0 153.5L936.5 154.1L937.1 154.8L937.7 155.5L938.4 156.2L939.1 156.9L939.9 157.6L940.8 158.3L941.7 159.0L942.6 159.7L943.7 160.5L944.7 161.2L945.8 161.9L947.0 162.6L948.2 163.3L949.5 164.0L950.9 164.7L952.2 165.4L953.7 166.1L955.2 166.8L956.8 167.5L958.5 168.2L960.2 168.8L962.0 169.5L963.9 170.1L965.9 170.7L968.0 171.4L970.3 172.0L972.7 172.5L975.5 173.1L978.7 173.6L984.8 174.0L984.8 175.6L905.8 159.5Z"/></clipPath><clipPath id="k1"><path d="M998.1 564.2L925.4 556.9L924.7 558.3L922.9 558.0L922.3 558.3L921.9 558.6L921.5 559.1L921.3 559.5L921.1 560.0L921.0 560.6L920.9 561.1L920.9 561.7L920.9 562.4L921.0 563.0L921.2 563.7L921.4 564.4L921.7 565.1L922.0 565.8L922.4 566.6L922.9 567.4L923.4 568.2L924.0 569.0L924.6 569.8L925.3 570.6L926.1 571.5L927.0 572.3L927.9 573.2L928.8 574.1L929.9 574.9L931.0 575.8L932.2 576.7L933.4 577.5L934.7 578.4L936.1 579.3L937.6 580.1L939.2 581.0L940.9 581.8L942.6 582.7L944.6 583.6L946.7 584.4L949.1 585.3L952.0 586.1L957.3 587.2L957.2 588.8L1000.3 588.5Z"/></clipPath><linearGradient id="k2" gradientUnits="userSpaceOnUse" x1="957.6" y1="152.2" x2="955.7" y2="173.2"><stop offset="0" stop-color="#610000"/><stop offset="0.125" stop-color="#610000"/><stop offset="0.25" stop-color="#610000"/><stop offset="0.375" stop-color="#650000"/><stop offset="0.5" stop-color="#800000"/><stop offset="0.625" stop-color="#990000"/><stop offset="0.75" stop-color="#b00000"/><stop offset="0.875" stop-color="#c40000"/><stop offset="1" stop-color="#ca0000"/></linearGradient><clipPath id="k3"><path d="M932.1 129.6L932.6 125.3L931.6 126.6L930.7 126.5L930.2 126.8L929.7 127.1L929.3 127.4L928.9 127.8L928.5 128.2L928.2 128.5L927.8 128.9L927.5 129.4L927.2 129.8L926.9 130.3L926.7 130.8L926.5 131.3L926.3 131.8L926.2 132.4L926.2 133.1L926.2 133.8L926.3 134.5L926.5 135.2L926.7 136.0L927.0 136.8L927.4 137.6L927.8 138.5L928.3 139.3L928.9 140.2L929.6 141.1L930.3 142.0L931.1 142.9L932.0 143.8L932.9 144.7L933.9 145.6L935.0 146.5L936.2 147.4L937.4 148.3L938.8 149.2L940.3 150.1L941.9 151.0L943.8 152.0L946.0 152.9L950.3 154.2L950.1 155.7L909.5 120.3Z"/></clipPath><clipPath id="k4"><path d="M962.9 546.5L931.8 538.6L930.5 539.4L930.1 539.9L929.7 540.3L929.2 540.5L928.7 540.7L928.2 540.9L927.7 541.1L927.2 541.2L926.7 541.3L926.2 541.3L925.6 541.4L925.1 541.4L924.6 541.4L924.0 541.4L923.5 541.4L923.0 541.4L922.4 541.3L921.9 541.3L921.4 541.3L920.8 541.2L920.3 541.2L919.8 541.2L919.3 541.2L918.7 541.3L918.2 541.4L917.7 541.6L917.2 541.9L916.7 542.4L916.2 543.2L916.0 544.4L916.1 546.2L916.8 548.5L917.8 550.6L918.8 552.5L920.0 554.1L921.2 555.7L922.5 557.2L924.0 558.6L925.6 560.0L927.6 561.5L931.5 563.6L930.9 565.1L961.1 570.8Z"/></clipPath><linearGradient id="k5" gradientUnits="userSpaceOnUse" x1="938.1" y1="129.7" x2="931.0" y2="149.6"><stop offset="0" stop-color="#000061"/><stop offset="0.125" stop-color="#000061"/><stop offset="0.25" stop-color="#000061"/><stop offset="0.375" stop-color="#000061"/><stop offset="0.5" stop-color="#000061"/><stop offset="0.625" stop-color="#000079"/><stop offset="0.75" stop-color="#000093"/><stop offset="0.875" stop-color="#0000ae"/><stop offset="1" stop-color="#0000ca"/></linearGradient><clipPath id="k6"><path d="M1162.8 121.1L1107.2 59.9L1108.1 58.5L1115.9 62.8L1120.0 64.9L1123.4 66.6L1126.4 68.2L1129.1 69.6L1131.6 70.9L1134.0 72.2L1136.2 73.4L1138.3 74.5L1140.2 75.6L1142.1 76.6L1143.8 77.5L1145.5 78.4L1147.1 79.3L1148.5 80.1L1149.9 80.8L1151.3 81.4L1152.5 82.0L1153.7 82.6L1154.8 83.1L1155.9 83.5L1156.9 83.9L1157.8 84.2L1158.7 84.4L1159.5 84.6L1160.2 84.7L1160.9 84.7L1161.6 84.7L1162.2 84.6L1162.7 84.4L1163.2 84.1L1163.5 83.7L1163.8 83.3L1164.1 82.7L1164.2 82.0L1164.2 81.1L1163.9 80.0L1163.5 78.6L1162.5 76.6L1158.5 71.3L1159.7 70.3L1186.1 113.9Z"/></clipPath><clipPath id="k7"><path d="M1070.5 456.3L1115.1 478.5L1115.9 477.2L1123.8 482.0L1127.7 484.4L1131.0 486.3L1133.9 488.0L1136.5 489.6L1138.9 491.1L1141.2 492.5L1143.3 493.8L1145.2 495.0L1147.0 496.1L1148.7 497.2L1150.4 498.2L1151.9 499.2L1153.3 500.0L1154.7 500.8L1155.9 501.6L1157.1 502.2L1158.3 502.8L1159.3 503.4L1160.3 503.8L1161.3 504.2L1162.2 504.6L1163.0 504.8L1163.8 505.0L1164.5 505.2L1165.2 505.2L1165.8 505.2L1166.4 505.1L1166.9 504.9L1167.4 504.7L1167.8 504.4L1168.2 503.9L1168.4 503.4L1168.6 502.7L1168.7 502.0L1168.7 501.0L1168.5 499.8L1168.1 498.3L1167.2 496.2L1163.4 490.7L1164.6 489.6L1079.1 433.5Z"/></clipPath><linearGradient id="k8" gradientUnits="userSpaceOnUse" x1="1129.8" y1="73.5" x2="1143.2" y2="57.1"><stop offset="0" stop-color="#00006e"/><stop offset="0.125" stop-color="#0000e2"/><stop offset="0.25" stop-color="#0000ff"/><stop offset="0.375" stop-color="#0202ff"/><stop offset="0.5" stop-color="#0505ff"/><stop offset="0.625" stop-color="#0101ff"/><stop offset="0.75" stop-color="#0000f6"/><stop offset="0.875" stop-color="#0000ce"/><stop offset="1" stop-color="#000061"/></linearGradient><clipPath id="k9"><path d="M1149.6 146.1L1141.6 91.0L1143.0 90.2L1148.1 98.2L1150.3 101.9L1152.0 104.8L1153.3 107.2L1154.5 109.2L1155.5 110.9L1156.4 112.4L1157.3 113.8L1158.0 114.9L1158.7 115.9L1159.4 116.8L1160.1 117.6L1160.7 118.2L1161.3 118.8L1161.9 119.2L1162.5 119.6L1163.0 119.9L1163.6 120.2L1164.1 120.3L1164.7 120.4L1165.2 120.4L1165.7 120.4L1166.3 120.3L1166.8 120.1L1167.3 119.9L1167.8 119.6L1168.3 119.3L1168.8 118.8L1169.3 118.3L1169.7 117.8L1170.2 117.1L1170.6 116.4L1171.0 115.5L1171.4 114.6L1171.8 113.4L1172.1 112.2L1172.3 110.6L1172.5 108.7L1172.4 106.2L1171.0 99.7L1172.5 99.2L1172.8 153.7Z"/></clipPath><clipPath id="k10"><path d="M1108.0 471.2L1140.6 503.2L1141.9 502.3L1147.2 510.2L1149.5 513.9L1151.3 516.7L1152.7 519.1L1153.9 521.1L1155.0 522.8L1156.0 524.4L1156.9 525.7L1157.7 526.9L1158.4 527.9L1159.1 528.8L1159.8 529.6L1160.4 530.3L1161.1 530.9L1161.7 531.3L1162.3 531.7L1162.8 532.1L1163.4 532.3L1164.0 532.5L1164.5 532.6L1165.1 532.6L1165.6 532.6L1166.1 532.5L1166.6 532.4L1167.1 532.2L1167.6 531.9L1168.1 531.5L1168.6 531.1L1169.1 530.6L1169.5 530.1L1170.0 529.4L1170.4 528.7L1170.8 527.9L1171.2 526.9L1171.5 525.8L1171.8 524.5L1172.0 523.0L1172.1 521.1L1172.0 518.6L1170.5 512.1L1172.0 511.6L1121.9 451.2Z"/></clipPath><linearGradient id="k11" gradientUnits="userSpaceOnUse" x1="1148.7" y1="100.9" x2="1168.2" y2="92.4"><stop offset="0" stop-color="#610000"/><stop offset="0.125" stop-color="#d20000"/><stop offset="0.25" stop-color="#f70000"/><stop offset="0.375" stop-color="#ff0000"/><stop offset="0.5" stop-color="#ff0000"/><stop offset="0.625" stop-color="#ff0000"/><stop offset="0.75" stop-color="#f90000"/><stop offset="0.875" stop-color="#d60000"/><stop offset="1" stop-color="#630000"/></linearGradient><clipPath id="k12"><path d="M1033.1 143.7L1027.0 111.8L1028.0 111.8L1028.3 111.4L1028.6 111.3L1028.9 111.2L1029.2 111.1L1029.6 111.0L1029.9 111.0L1030.2 110.9L1030.5 110.8L1030.9 110.8L1031.2 110.8L1031.5 110.7L1031.8 110.7L1032.2 110.7L1032.5 110.6L1032.8 110.6L1033.1 110.6L1033.5 110.6L1033.8 110.6L1034.1 110.6L1034.5 110.5L1034.8 110.5L1035.1 110.5L1035.4 110.5L1035.8 110.5L1036.1 110.5L1036.4 110.5L1036.8 110.6L1037.1 110.6L1037.4 110.6L1037.8 110.6L1038.1 110.6L1038.4 110.7L1038.8 110.7L1039.1 110.7L1039.4 110.8L1039.8 110.8L1040.1 110.9L1040.4 111.0L1040.8 111.1L1041.1 111.4L1042.1 111.3L1047.8 140.0Z"/></clipPath><clipPath id="k13"><path d="M1028.0 499.3L1027.4 529.7L1028.4 529.6L1028.7 529.3L1029.0 529.1L1029.3 529.0L1029.6 528.9L1030.0 528.9L1030.3 528.8L1030.6 528.7L1030.9 528.7L1031.2 528.6L1031.6 528.6L1031.9 528.6L1032.2 528.5L1032.6 528.5L1032.9 528.5L1033.2 528.4L1033.5 528.4L1033.9 528.4L1034.2 528.4L1034.5 528.4L1034.8 528.4L1035.2 528.3L1035.5 528.3L1035.8 528.3L1036.2 528.3L1036.5 528.3L1036.8 528.3L1037.2 528.3L1037.5 528.3L1037.8 528.4L1038.2 528.4L1038.5 528.4L1038.8 528.4L1039.2 528.4L1039.5 528.5L1039.8 528.5L1040.2 528.6L1040.5 528.6L1040.8 528.7L1041.2 528.8L1041.6 529.1L1042.5 528.9L1042.9 501.6Z"/></clipPath><linearGradient id="k14" gradientUnits="userSpaceOnUse" x1="1028.4" y1="530.1" x2="1041.5" y2="528.5"><stop offset="0" stop-color="#c80000"/><stop offset="0.125" stop-color="#e30000"/><stop offset="0.25" stop-color="#d90000"/><stop offset="0.375" stop-color="#c80000"/><stop offset="0.5" stop-color="#b00000"/><stop offset="0.625" stop-color="#940000"/><stop offset="0.75" stop-color="#720000"/><stop offset="0.875" stop-color="#610000"/><stop offset="1" stop-color="#610000"/></linearGradient><clipPath id="k15"><path d="M1037.5 148.1L1043.2 114.0L1044.2 114.0L1044.5 114.5L1044.8 114.6L1045.1 114.8L1045.4 114.9L1045.8 114.9L1046.1 115.0L1046.4 115.1L1046.7 115.1L1047.1 115.2L1047.4 115.2L1047.7 115.3L1048.0 115.3L1048.4 115.3L1048.7 115.4L1049.0 115.4L1049.3 115.4L1049.7 115.4L1050.0 115.4L1050.3 115.4L1050.7 115.5L1051.0 115.5L1051.3 115.5L1051.6 115.5L1052.0 115.4L1052.3 115.4L1052.6 115.4L1053.0 115.4L1053.3 115.4L1053.6 115.4L1054.0 115.3L1054.3 115.3L1054.6 115.2L1055.0 115.2L1055.3 115.1L1055.6 115.1L1056.0 115.0L1056.3 114.9L1056.6 114.8L1057.0 114.6L1057.3 114.2L1058.3 114.3L1052.2 151.7Z"/></clipPath><clipPath id="k16"><path d="M1042.4 496.9L1042.8 532.7L1043.7 532.8L1044.0 533.2L1044.3 533.4L1044.7 533.5L1045.0 533.6L1045.3 533.7L1045.6 533.7L1046.0 533.8L1046.3 533.9L1046.6 533.9L1046.9 534.0L1047.3 534.0L1047.6 534.0L1047.9 534.1L1048.2 534.1L1048.6 534.1L1048.9 534.1L1049.2 534.2L1049.5 534.2L1049.9 534.2L1050.2 534.2L1050.5 534.2L1050.9 534.2L1051.2 534.2L1051.5 534.2L1051.9 534.2L1052.2 534.2L1052.5 534.2L1052.9 534.1L1053.2 534.1L1053.5 534.1L1053.9 534.1L1054.2 534.0L1054.5 534.0L1054.9 533.9L1055.2 533.9L1055.5 533.8L1055.9 533.7L1056.2 533.6L1056.6 533.4L1056.9 533.0L1057.9 533.1L1057.4 495.1Z"/></clipPath><linearGradient id="k17" gradientUnits="userSpaceOnUse" x1="1044.2" y1="113.7" x2="1057.3" y2="114.6"><stop offset="0" stop-color="#0000bb"/><stop offset="0.125" stop-color="#0000f6"/><stop offset="0.25" stop-color="#0000f9"/><stop offset="0.375" stop-color="#0101ef"/><stop offset="0.5" stop-color="#0000dc"/><stop offset="0.625" stop-color="#0000c1"/><stop offset="0.75" stop-color="#00009e"/><stop offset="0.875" stop-color="#00006e"/><stop offset="1" stop-color="#000061"/></linearGradient></defs><line x1="842.4" y1="505.0" x2="842.4" y2="91.2" stroke="#e6e6e6" stroke-width="1"/><line x1="893.4" y1="485.8" x2="893.4" y2="71.9" stroke="#e6e6e6" stroke-width="1"/><line x1="944.4" y1="466.5" x2="944.4" y2="52.7" stroke="#e6e6e6" stroke-width="1"/><line x1="995.4" y1="447.3" x2="995.4" y2="33.4" stroke="#e6e6e6" stroke-width="1"/><line x1="1046.4" y1="428.0" x2="1046.4" y2="14.2" stroke="#e6e6e6" stroke-width="1"/><line x1="816.9" y1="100.8" x2="1071.9" y2="4.6" stroke="#e6e6e6" stroke-width="1"/><line x1="816.9" y1="155.6" x2="1071.9" y2="59.4" stroke="#e6e6e6" stroke-width="1"/><line x1="816.9" y1="210.5" x2="1071.9" y2="114.2" stroke="#e6e6e6" stroke-width="1"/><line x1="816.9" y1="265.3" x2="1071.9" y2="169.0" stroke="#e6e6e6" stroke-width="1"/><line x1="816.9" y1="320.1" x2="1071.9" y2="223.9" stroke="#e6e6e6" stroke-width="1"/><line x1="816.9" y1="374.9" x2="1071.9" y2="278.7" stroke="#e6e6e6" stroke-width="1"/><line x1="816.9" y1="429.7" x2="1071.9" y2="333.5" stroke="#e6e6e6" stroke-width="1"/><line x1="816.9" y1="484.6" x2="1071.9" y2="388.3" stroke="#e6e6e6" stroke-width="1"/><line x1="1248.8" y1="531.7" x2="1248.8" y2="117.9" stroke="#e6e6e6" stroke-width="1"/><line x1="1209.5" y1="506.5" x2="1209.5" y2="92.7" stroke="#e6e6e6" stroke-width="1"/><line x1="1170.2" y1="481.3" x2="1170.2" y2="67.5" stroke="#e6e6e6" stroke-width="1"/><line x1="1130.9" y1="456.2" x2="1130.9" y2="42.3" stroke="#e6e6e6" stroke-width="1"/><line x1="1091.6" y1="431.0" x2="1091.6" y2="17.2" stroke="#e6e6e6" stroke-width="1"/><line x1="1268.4" y1="130.5" x2="1071.9" y2="4.6" stroke="#e6e6e6" stroke-width="1"/><line x1="1268.4" y1="185.3" x2="1071.9" y2="59.4" stroke="#e6e6e6" stroke-width="1"/><line x1="1268.4" y1="240.1" x2="1071.9" y2="114.2" stroke="#e6e6e6" stroke-width="1"/><line x1="1268.4" y1="294.9" x2="1071.9" y2="169.0" stroke="#e6e6e6" stroke-width="1"/><line x1="1268.4" y1="349.8" x2="1071.9" y2="223.9" stroke="#e6e6e6" stroke-width="1"/><line x1="1268.4" y1="404.6" x2="1071.9" y2="278.7" stroke="#e6e6e6" stroke-width="1"/><line x1="1268.4" y1="459.4" x2="1071.9" y2="333.5" stroke="#e6e6e6" stroke-width="1"/><line x1="1268.4" y1="514.2" x2="1071.9" y2="388.3" stroke="#e6e6e6" stroke-width="1"/><line x1="1038.9" y1="630.9" x2="842.4" y2="505.0" stroke="#e6e6e6" stroke-width="1"/><line x1="1089.9" y1="611.7" x2="893.4" y2="485.8" stroke="#e6e6e6" stroke-width="1"/><line x1="1140.9" y1="592.4" x2="944.4" y2="466.5" stroke="#e6e6e6" stroke-width="1"/><line x1="1191.9" y1="573.2" x2="995.4" y2="447.3" stroke="#e6e6e6" stroke-width="1"/><line x1="1242.9" y1="553.9" x2="1046.4" y2="428.0" stroke="#e6e6e6" stroke-width="1"/><line x1="993.8" y1="627.9" x2="1248.8" y2="531.7" stroke="#e6e6e6" stroke-width="1"/><line x1="954.5" y1="602.8" x2="1209.5" y2="506.5" stroke="#e6e6e6" stroke-width="1"/><line x1="915.2" y1="577.6" x2="1170.2" y2="481.3" stroke="#e6e6e6" stroke-width="1"/><line x1="875.9" y1="552.4" x2="1130.9" y2="456.2" stroke="#e6e6e6" stroke-width="1"/><line x1="836.6" y1="527.2" x2="1091.6" y2="431.0" stroke="#e6e6e6" stroke-width="1"/><line x1="816.9" y1="514.6" x2="816.9" y2="100.8" stroke="#a8a8a8" stroke-width="1.2"/><line x1="1013.4" y1="640.5" x2="816.9" y2="514.6" stroke="#6a6a6a" stroke-width="1.2"/><line x1="1013.4" y1="640.5" x2="1268.4" y2="544.3" stroke="#6a6a6a" stroke-width="1.2"/><line x1="816.9" y1="100.8" x2="807.5" y2="94.8" stroke="#a0a0a0" stroke-width="1.2"/><line x1="816.9" y1="155.6" x2="807.5" y2="149.6" stroke="#a0a0a0" stroke-width="1.2"/><line x1="816.9" y1="210.5" x2="807.5" y2="204.4" stroke="#a0a0a0" stroke-width="1.2"/><line x1="816.9" y1="265.3" x2="807.5" y2="259.2" stroke="#a0a0a0" stroke-width="1.2"/><line x1="816.9" y1="320.1" x2="807.5" y2="314.1" stroke="#a0a0a0" stroke-width="1.2"/><line x1="816.9" y1="374.9" x2="807.5" y2="368.9" stroke="#a0a0a0" stroke-width="1.2"/><line x1="816.9" y1="429.7" x2="807.5" y2="423.7" stroke="#a0a0a0" stroke-width="1.2"/><line x1="816.9" y1="484.6" x2="807.5" y2="478.5" stroke="#a0a0a0" stroke-width="1.2"/><line x1="993.8" y1="627.9" x2="984.6" y2="631.4" stroke="#6a6a6a" stroke-width="1.2"/><line x1="954.5" y1="602.8" x2="945.3" y2="606.2" stroke="#6a6a6a" stroke-width="1.2"/><line x1="915.2" y1="577.6" x2="906.0" y2="581.0" stroke="#6a6a6a" stroke-width="1.2"/><line x1="875.9" y1="552.4" x2="866.7" y2="555.9" stroke="#6a6a6a" stroke-width="1.2"/><line x1="836.6" y1="527.2" x2="827.4" y2="530.7" stroke="#6a6a6a" stroke-width="1.2"/><line x1="1038.9" y1="630.9" x2="1046.8" y2="635.9" stroke="#6a6a6a" stroke-width="1.2"/><line x1="1089.9" y1="611.7" x2="1097.8" y2="616.7" stroke="#6a6a6a" stroke-width="1.2"/><line x1="1140.9" y1="592.4" x2="1148.8" y2="597.4" stroke="#6a6a6a" stroke-width="1.2"/><line x1="1191.9" y1="573.2" x2="1199.8" y2="578.2" stroke="#6a6a6a" stroke-width="1.2"/><line x1="1242.9" y1="553.9" x2="1250.8" y2="558.9" stroke="#6a6a6a" stroke-width="1.2"/><g fill="none"><path transform="translate(1065.4 441.6)rotate(-161.7)" d="M-5 -.1C-.5 0 4.1 0 8.6 -.1" stroke="url(#a235)" stroke-width="21.6"/><path transform="translate(1055.1 438.4)rotate(-163.7)" d="M-5 0C-.7 0 3.6 0 7.8 -.1" stroke="url(#a189)" stroke-width="21.6"/><path transform="translate(1074.8 444.9)rotate(-159.5)" d="M-5 0C-.7 0 3.6 0 7.9 -.1" stroke="url(#a17)" stroke-width="21.6"/><path transform="translate(1045.5 435.8)rotate(-165.6)" d="M-5 0C-.7 0 3.5 0 7.8 -.1" stroke="url(#a8)" stroke-width="21.6"/><path transform="translate(1084.1 448.6)rotate(-157.4)" d="M-5 0C-.7 0 3.6 0 7.8 -.1" stroke="url(#a17)" stroke-width="21.6"/><path transform="translate(1035.9 433.5)rotate(-167.5)" d="M-4.9 0C-.7 0 3.5 0 7.7 -.1" stroke="url(#a195)" stroke-width="21.6"/><path transform="translate(1093.1 452.6)rotate(-155.2)" d="M-4.9 0C-.7 0 3.5 0 7.8 -.1" stroke="url(#a133)" stroke-width="21.6"/><path transform="translate(1026.3 431.5)rotate(-169.5)" d="M-4.9 0C-.5 0 3.9 0 8.3 -.1" stroke="url(#a199)" stroke-width="21.6"/><path transform="translate(1102.6 457.2)rotate(-152.7)" d="M-4.8 -.1C-.4 0 4 0 8.4 -.1" stroke="url(#a131)" stroke-width="21.6"/><path transform="translate(1016.1 429.8)rotate(-171.4)" d="M-4.8 0C-.5 0 3.8 0 8.1 -.1" stroke="url(#a204)" stroke-width="21.6"/><g clip-path="url(#k7)"><path transform="translate(1111.6 462.2)rotate(-150.1)" d="M-4.8 -.1C-.4 0 3.9 0 8.3 -.1" stroke="url(#a144)" stroke-width="21.6"/></g><path transform="translate(1006.0 428.5)rotate(-173.4)" d="M-4.7 0C-.5 0 3.7 0 7.9 -.1" stroke="url(#a130)" stroke-width="21.6"/><g clip-path="url(#k7)"><path transform="translate(1120.3 467.4)rotate(-147.3)" d="M-4.7 -.1C-.4 0 3.9 0 8.1 -.1" stroke="url(#a82)" stroke-width="21.6"/></g><path transform="translate(995.5 427.4)rotate(-175.5)" d="M-5.2 0C-.9 0 3.4 0 7.7 -.1" stroke="url(#a40)" stroke-width="21.6"/><g clip-path="url(#k7)"><path transform="translate(1128.5 473.1)rotate(-144.2)" d="M-5.2 -.1C-.8 .1 3.6 0 7.9 -.2" stroke="url(#a123)" stroke-width="21.6"/></g><path transform="translate(1066.9 436.4)rotate(-159.4)" d="M-7.8 -.1C-2.2 .1 3.5 0 9.1 -.2" stroke="url(#a57)" stroke-width="21.6"/><path transform="translate(1057.0 432.9)rotate(-161.7)" d="M-7.8 -.1C-2.2 .1 3.5 0 9.1 -.2" stroke="url(#a83)" stroke-width="21.6"/><path transform="translate(1076.6 440.3)rotate(-157.0)" d="M-7.8 -.1C-2.2 .1 3.5 0 9.1 -.2" stroke="url(#a249)" stroke-width="21.6"/><path transform="translate(1047.1 429.8)rotate(-163.9)" d="M-7.8 -.1C-2.2 0 3.4 0 9 -.1" stroke="url(#a149)" stroke-width="21.6"/><path transform="translate(1086.0 444.5)rotate(-154.5)" d="M-7.7 -.1C-2.1 .1 3.5 0 9.1 -.2" stroke="url(#a249)" stroke-width="21.6"/><path transform="translate(1037.1 427.1)rotate(-166.0)" d="M-7.7 -.1C-2.2 0 3.4 0 8.9 -.1" stroke="url(#a12)" stroke-width="21.6"/><path transform="translate(1095.2 449.1)rotate(-152.0)" d="M-7 -.1C-1.7 .1 3.7 0 9 -.2" stroke="url(#a132)" stroke-width="21.6"/><path transform="translate(985.4 426.8)rotate(-177.7)" d="M-5 -.1C-.7 0 3.6 0 8 -.1" stroke="url(#a40)" stroke-width="21.6"/><path transform="translate(1027.2 424.9)rotate(-168.2)" d="M-7.6 -.1C-2 0 3.7 0 9.4 -.1" stroke="url(#a136)" stroke-width="21.6"/><path transform="translate(1104.0 454.1)rotate(-149.2)" d="M-7.5 -.2C-1.8 .1 3.8 0 9.5 -.2" stroke="url(#a147)" stroke-width="21.6"/><g clip-path="url(#k7)"><path transform="translate(1136.8 479.4)rotate(-140.7)" d="M-5.1 -.1C-.8 .1 3.5 0 7.7 -.2" stroke="url(#a295)" stroke-width="21.6"/></g><path transform="translate(1112.9 459.8)rotate(-146.0)" d="M-7.3 -.2C-1.8 .1 3.8 0 9.3 -.2" stroke="url(#a99)" stroke-width="21.6"/><path transform="translate(1016.8 422.9)rotate(-170.4)" d="M-7.5 -.1C-1.9 0 3.6 0 9.2 -.1" stroke="url(#a50)" stroke-width="21.6"/><path transform="translate(975.0 426.6)rotate(179.9)" d="M-4.8 -.1C-.7 0 3.5 0 7.6 -.1" stroke="url(#a40)" stroke-width="21.6"/><path transform="translate(1121.3 465.8)rotate(-142.5)" d="M-7.7 -.2C-2.1 .1 3.5 .1 9.1 -.2" stroke="url(#a274)" stroke-width="21.6"/><path transform="translate(1006.5 421.3)rotate(-172.6)" d="M-7.3 -.1C-1.9 0 3.5 0 8.9 -.1" stroke="url(#a180)" stroke-width="21.6"/><g clip-path="url(#k7)"><path transform="translate(1144.8 486.4)rotate(-136.8)" d="M-4.9 -.1C-.6 .1 3.8 0 8.1 -.2" stroke="url(#a112)" stroke-width="21.6"/></g><path transform="translate(1129.6 472.6)rotate(-138.6)" d="M-7.5 -.2C-2.1 .1 3.4 .1 8.9 -.3" stroke="url(#a48)" stroke-width="21.6"/><path transform="translate(996.0 420.2)rotate(-174.9)" d="M-7.6 -.1C-2.2 0 3.1 0 8.5 -.1" stroke="url(#a16)" stroke-width="21.6"/><g clip-path="url(#k7)"><path transform="translate(1152.1 493.8)rotate(-132.4)" d="M-5.3 -.1C-.9 .1 3.5 0 7.9 -.2" stroke="url(#a140)" stroke-width="21.6"/></g><path transform="translate(964.6 426.9)rotate(177.3)" d="M-5.1 -.1C-1 0 3.1 0 7.1 -.1" stroke="url(#a40)" stroke-width="21.6"/><g clip-path="url(#k10)"><path transform="translate(1137.1 479.7)rotate(-134.3)" d="M-7.3 -.2C-2 .1 3.3 .1 8.6 -.3" stroke="url(#a212)" stroke-width="21.6"/></g><path transform="translate(985.3 419.4)rotate(-177.4)" d="M-7.9 -.1C-2.4 0 3.1 0 8.6 -.2" stroke="url(#a16)" stroke-width="21.6"/><g clip-path="url(#k10)"><path transform="translate(1144.2 487.6)rotate(-129.6)" d="M-7 -.2C-1.7 .1 3.6 .1 8.9 -.3" stroke="url(#a207)" stroke-width="21.6"/></g><g clip-path="url(#k7)"><path transform="translate(1158.9 501.9)rotate(-127.4)" d="M-5.2 -.1C-.9 .1 3.4 0 7.6 -.2" stroke="url(#a294)" stroke-width="21.6"/></g><path transform="translate(975.1 419.2)rotate(179.9)" d="M-6.9 -.1C-1.9 0 3.1 0 8.1 -.2" stroke="url(#a16)" stroke-width="21.6"/><g clip-path="url(#k7)"><path transform="translate(1162.9 507.5)rotate(-123.8)" d="M-1.7 0C.2 0 2.1 0 4 -.1" stroke="url(#a151)" stroke-width="21.6"/></g><path transform="translate(954.8 427.6)rotate(174.4)" d="M-4.8 -.1C-1 0 2.8 0 6.7 -.1" stroke="url(#a40)" stroke-width="21.6"/><g clip-path="url(#k10)"><path transform="translate(1150.3 495.8)rotate(-124.2)" d="M-6.8 -.2C-1.7 .1 3.5 .1 8.6 -.3" stroke="url(#a218)" stroke-width="21.6"/></g><path transform="translate(964.6 419.5)rotate(176.7)" d="M-7.4 -.2C-2.2 .1 3.1 .1 8.3 -.2" stroke="url(#a16)" stroke-width="21.6"/><g clip-path="url(#k10)"><path transform="translate(1155.4 504.2)rotate(-118.4)" d="M-6.6 -.3C-1.5 .1 3.7 .1 8.8 -.4" stroke="url(#a2)" stroke-width="21.6"/></g><path transform="translate(1059.8 337.4)rotate(-162.8)" d="M-5 0C-.7 0 3.6 0 7.9 -.1" stroke="url(#a222)" stroke-width="21.6"/><path transform="translate(1069.3 340.5)rotate(-160.7)" d="M-5 0C-.7 0 3.6 0 7.9 -.1" stroke="url(#a62)" stroke-width="21.6"/><path transform="translate(1050.2 334.6)rotate(-164.7)" d="M-5 0C-.7 0 3.6 0 7.8 -.1" stroke="url(#a152)" stroke-width="21.6"/><path transform="translate(1078.7 344.0)rotate(-158.7)" d="M-5 0C-.7 0 3.6 0 7.9 -.1" stroke="url(#a62)" stroke-width="21.6"/><path transform="translate(945.3 428.8)rotate(170.9)" d="M-5 -.1C-1 0 3 0 7 -.2" stroke="url(#a40)" stroke-width="21.6"/><path transform="translate(1040.6 332.1)rotate(-166.7)" d="M-5 0C-.5 0 4 0 8.5 -.1" stroke="url(#a223)" stroke-width="21.6"/><path transform="translate(1088.6 348.0)rotate(-156.4)" d="M-4.9 -.1C-.5 0 4 0 8.5 -.1" stroke="url(#a222)" stroke-width="21.6"/><path transform="translate(1030.3 329.8)rotate(-168.6)" d="M-4.9 0C-.7 0 3.5 0 7.7 -.1" stroke="url(#a193)" stroke-width="21.6"/><path transform="translate(1098.1 352.5)rotate(-154.0)" d="M-4.9 -.1C-.4 0 4 0 8.4 -.1" stroke="url(#a13)" stroke-width="21.6"/><path transform="translate(954.1 420.4)rotate(172.8)" d="M-6.7 -.2C-1.9 .1 3 .1 7.8 -.2" stroke="url(#a16)" stroke-width="21.6"/><path transform="translate(1020.7 328.1)rotate(-170.5)" d="M-4.8 0C-.5 0 3.9 0 8.2 -.1" stroke="url(#a88)" stroke-width="21.6"/><g clip-path="url(#k10)"><path transform="translate(1159.6 513.4)rotate(-111.7)" d="M-6.9 -.3C-1.6 .2 3.8 .1 9 -.5" stroke="url(#a173)" stroke-width="21.6"/></g><path transform="translate(1107.4 357.3)rotate(-151.4)" d="M-4.8 -.1C-.4 0 3.9 0 8.3 -.1" stroke="url(#a119)" stroke-width="21.6"/><path transform="translate(1010.6 326.6)rotate(-172.5)" d="M-4.7 0C-.5 0 3.8 0 8 -.1" stroke="url(#a257)" stroke-width="21.6"/><path transform="translate(1116.2 362.4)rotate(-148.6)" d="M-4.7 -.1C-.4 0 3.9 0 8.2 -.1" stroke="url(#a117)" stroke-width="21.6"/><path transform="translate(1000.0 325.4)rotate(-174.6)" d="M-5.3 0C-.9 0 3.4 0 7.8 -.1" stroke="url(#a214)" stroke-width="21.6"/><g clip-path="url(#k10)"><path transform="translate(1162.7 522.7)rotate(-104.4)" d="M-6.7 -.3C-1.7 .2 3.3 .1 8.3 -.4" stroke="url(#a80)" stroke-width="21.6"/></g><path transform="translate(1124.7 367.9)rotate(-145.7)" d="M-4.6 -.1C-.4 0 3.8 0 8 -.2" stroke="url(#a48)" stroke-width="21.6"/><path transform="translate(943.7 422.2)rotate(167.7)" d="M-7.1 -.2C-2.2 .1 2.8 .1 7.7 -.3" stroke="url(#a16)" stroke-width="21.6"/><path transform="translate(935.4 430.7)rotate(166.4)" d="M-4.9 -.1C-.9 .1 3 0 7 -.2" stroke="url(#a40)" stroke-width="21.6"/><path transform="translate(1061.3 331.9)rotate(-160.7)" d="M-7.8 -.1C-2.2 .1 3.5 0 9.1 -.2" stroke="url(#a211)" stroke-width="21.6"/><path transform="translate(1071.1 335.5)rotate(-158.4)" d="M-7.8 -.1C-2.2 .1 3.5 0 9.1 -.2" stroke="url(#a186)" stroke-width="21.6"/><path transform="translate(1052.0 328.8)rotate(-162.9)" d="M-7.2 -.1C-1.8 0 3.7 0 9.1 -.1" stroke="url(#a68)" stroke-width="21.6"/><path transform="translate(1080.6 339.6)rotate(-156.0)" d="M-7.8 -.1C-2.1 .1 3.5 0 9.1 -.2" stroke="url(#a186)" stroke-width="21.6"/><path transform="translate(989.7 324.6)rotate(-176.7)" d="M-5.1 0C-.9 0 3.3 0 7.5 -.1" stroke="url(#a69)" stroke-width="21.6"/><path transform="translate(1090.0 344.0)rotate(-153.4)" d="M-7.7 -.1C-2.1 .1 3.5 0 9 -.2" stroke="url(#a268)" stroke-width="21.6"/><path transform="translate(1042.0 325.9)rotate(-165.0)" d="M-7.8 -.1C-2.2 0 3.4 0 9 -.1" stroke="url(#a144)" stroke-width="21.6"/><path transform="translate(1132.7 373.6)rotate(-142.5)" d="M-5.1 -.1C-.8 .1 3.5 0 7.8 -.2" stroke="url(#a212)" stroke-width="21.6"/><path transform="translate(1099.6 349.1)rotate(-150.6)" d="M-7.6 -.2C-1.9 .1 3.9 0 9.6 -.2" stroke="url(#a39)" stroke-width="21.6"/><path transform="translate(1032.1 323.5)rotate(-167.1)" d="M-7.7 -.1C-2.2 0 3.3 0 8.8 -.1" stroke="url(#a277)" stroke-width="21.6"/><path transform="translate(1108.7 354.6)rotate(-147.6)" d="M-7.4 -.2C-1.8 .1 3.8 0 9.4 -.2" stroke="url(#a139)" stroke-width="21.6"/><path transform="translate(1022.2 321.4)rotate(-169.2)" d="M-7.6 -.1C-1.9 0 3.7 0 9.3 -.1" stroke="url(#a18)" stroke-width="21.6"/><g clip-path="url(#k10)"><path transform="translate(1164.3 530.7)rotate(-98.1)" d="M-3.3 -.1C0 .1 3.4 0 6.7 -.3" stroke="url(#a244)" stroke-width="21.6"/></g><path transform="translate(979.7 324.2)rotate(-178.9)" d="M-4.9 0C-.9 0 3.2 0 7.2 -.1" stroke="url(#a69)" stroke-width="21.6"/><path transform="translate(1140.6 380.1)rotate(-138.9)" d="M-5 -.1C-.8 .1 3.4 0 7.6 -.2" stroke="url(#a207)" stroke-width="21.6"/><path transform="translate(1117.4 360.4)rotate(-144.3)" d="M-7.2 -.2C-1.8 .1 3.7 0 9.2 -.2" stroke="url(#a160)" stroke-width="21.6"/><path transform="translate(1011.8 319.6)rotate(-171.4)" d="M-7.4 -.1C-1.9 0 3.6 0 9 -.1" stroke="url(#a161)" stroke-width="21.6"/><path transform="translate(933.1 425.3)rotate(159.0)" d="M-7.4 -.4C-2.6 .1 2.3 .3 7.1 -.6" stroke="url(#a118)" stroke-width="21.6"/><path transform="translate(927.6 432.9)rotate(161.5)" d="M-3.1 -.1C-.4 0 2.3 0 5.1 -.2" stroke="url(#a121)" stroke-width="21.6"/><path transform="translate(1125.5 366.7)rotate(-140.7)" d="M-7 -.2C-1.7 .1 3.7 0 9 -.2" stroke="url(#a44)" stroke-width="21.6"/><path transform="translate(1001.1 318.2)rotate(-173.8)" d="M-7.8 -.1C-2.1 0 3.6 0 9.3 -.2" stroke="url(#a148)" stroke-width="21.6"/><path transform="translate(1148.3 387.3)rotate(-134.9)" d="M-4.8 -.1C-.6 .1 3.7 0 8 -.2" stroke="url(#a159)" stroke-width="21.6"/><path transform="translate(969.6 324.2)rotate(178.6)" d="M-5.3 -.1C-1.1 0 3.2 0 7.4 -.1" stroke="url(#a69)" stroke-width="21.6"/><path transform="translate(1132.9 373.2)rotate(-136.8)" d="M-7.4 -.2C-2 .1 3.4 .1 8.8 -.3" stroke="url(#a112)" stroke-width="21.6"/><path transform="translate(990.2 317.2)rotate(-176.2)" d="M-7.5 -.1C-2.2 0 3 0 8.3 -.1" stroke="url(#a265)" stroke-width="21.6"/><path transform="translate(1155.2 394.8)rotate(-130.3)" d="M-5.3 -.1C-.9 .1 3.4 0 7.8 -.2" stroke="url(#a289)" stroke-width="21.6"/><path transform="translate(1140.1 380.5)rotate(-132.4)" d="M-7.2 -.2C-2 .1 3.3 .1 8.5 -.3" stroke="url(#a294)" stroke-width="21.6"/><path transform="translate(959.5 324.7)rotate(175.8)" d="M-5 -.1C-1 0 2.9 0 6.9 -.1" stroke="url(#a69)" stroke-width="21.6"/><path transform="translate(980.3 316.8)rotate(-178.7)" d="M-7.1 -.1C-2 0 3.2 0 8.4 -.2" stroke="url(#a265)" stroke-width="21.6"/><path transform="translate(922.8 434.7)rotate(157.3)" d="M-1.8 0C.1 0 2.1 0 4 -.1" stroke="url(#a121)" stroke-width="21.6"/><path transform="translate(925.5 429.1)rotate(144.8)" d="M-5.6 -.6C-1.9 .1 2 .5 5.5 -.9" stroke="url(#a234)" stroke-width="21.6"/><path transform="translate(1146.8 388.5)rotate(-127.4)" d="M-6.9 -.2C-1.7 .1 3.5 .1 8.8 -.3" stroke="url(#a294)" stroke-width="21.6"/><path transform="translate(1161.9 403.6)rotate(-124.9)" d="M-5.1 -.1C-.7 .1 3.7 0 8.1 -.3" stroke="url(#a2)" stroke-width="21.6"/><path transform="translate(969.9 316.8)rotate(178.4)" d="M-7.2 -.1C-2 .1 3.1 .1 8.2 -.2" stroke="url(#a265)" stroke-width="21.6"/><path transform="translate(919.8 436.1)rotate(154.1)" d="M-1.3 0C.2 0 1.6 0 3.1 -.1" stroke="url(#a293)" stroke-width="21.6"/><path transform="translate(950.1 325.6)rotate(172.7)" d="M-4.6 -.1C-.8 0 3 0 6.9 -.1" stroke="url(#a69)" stroke-width="21.6"/><path transform="translate(1152.5 396.8)rotate(-121.7)" d="M-7.2 -.3C-2 .1 3.2 .1 8.5 -.4" stroke="url(#a151)" stroke-width="21.6"/><path transform="translate(921.5 433.0)rotate(122.2)" d="M-4.5 -.9C-1.5 .2 2.3 .6 4.8 -1.7" stroke="url(#a284)" stroke-width="21.6"/><path transform="translate(1167.5 412.6)rotate(-119.0)" d="M-4.9 -.1C-.7 .1 3.6 0 7.8 -.3" stroke="url(#a173)" stroke-width="21.6"/><path transform="translate(959.4 317.4)rotate(174.9)" d="M-7.1 -.2C-2 .1 3.2 .1 8.3 -.2" stroke="url(#a265)" stroke-width="21.6"/><path transform="translate(1060.3 233.1)rotate(-162.7)" d="M-5 0C-.7 0 3.6 0 7.9 -.1" stroke="url(#a258)" stroke-width="21.6"/><path transform="translate(1069.8 236.2)rotate(-160.6)" d="M-5 0C-.7 0 3.6 0 7.9 -.1" stroke="url(#a258)" stroke-width="21.6"/><path transform="translate(1050.7 230.2)rotate(-164.6)" d="M-5 0C-.7 0 3.6 0 7.8 -.1" stroke="url(#a7)" stroke-width="21.6"/><path transform="translate(917.8 437.1)rotate(151.2)" d="M-.9 0C.4 0 1.8 0 3.2 -.1" stroke="url(#a110)" stroke-width="21.6"/><path transform="translate(1079.1 239.7)rotate(-158.6)" d="M-5 0C-.7 0 3.6 0 7.9 -.1" stroke="url(#a228)" stroke-width="21.6"/><path transform="translate(1157.4 405.8)rotate(-115.3)" d="M-7 -.3C-1.8 .1 3.5 .1 8.7 -.4" stroke="url(#a54)" stroke-width="21.6"/><path transform="translate(1041.0 227.8)rotate(-166.6)" d="M-5 0C-.5 0 4 0 8.5 -.1" stroke="url(#a155)" stroke-width="21.6"/><path transform="translate(1088.3 243.5)rotate(-156.4)" d="M-4.9 0C-.7 0 3.6 0 7.8 -.1" stroke="url(#a7)" stroke-width="21.6"/><path transform="translate(920.3 436.8)rotate(90.7)" d="M-3.3 -.9C-.8 .6 2.5 .1 4.7 -1.8" stroke="url(#a10)" stroke-width="21.6"/><path transform="translate(1030.7 225.5)rotate(-168.5)" d="M-4.9 0C-.7 0 3.5 0 7.7 -.1" stroke="url(#a28)" stroke-width="21.6"/><path transform="translate(1097.9 247.9)rotate(-153.9)" d="M-5.6 -.1C-.9 0 3.8 0 8.4 -.1" stroke="url(#a184)" stroke-width="21.6"/><path transform="translate(1021.1 223.7)rotate(-170.5)" d="M-4.8 0C-.5 0 3.9 0 8.2 -.1" stroke="url(#a273)" stroke-width="21.6"/><path transform="translate(940.6 327.1)rotate(169.0)" d="M-4.7 -.1C-.8 0 3.1 0 7 -.2" stroke="url(#a69)" stroke-width="21.6"/><path transform="translate(916.1 438.1)rotate(148.1)" d="M-.9 0C.4 0 1.7 0 3 -.1" stroke="url(#a255)" stroke-width="21.6"/><path transform="translate(1107.8 253.1)rotate(-151.3)" d="M-4.8 -.1C-.4 0 3.9 0 8.3 -.1" stroke="url(#a28)" stroke-width="21.6"/><path transform="translate(1171.9 421.8)rotate(-112.3)" d="M-5.3 -.2C-.8 .1 3.6 0 8.1 -.4" stroke="url(#a178)" stroke-width="21.6"/><path transform="translate(949.1 318.7)rotate(170.6)" d="M-6.8 -.2C-2 .1 2.9 .1 7.7 -.3" stroke="url(#a121)" stroke-width="21.6"/><path transform="translate(1161.1 415.0)rotate(-108.4)" d="M-6.8 -.3C-1.7 .2 3.4 .1 8.4 -.4" stroke="url(#a153)" stroke-width="21.6"/><path transform="translate(1011.0 222.2)rotate(-172.4)" d="M-4.8 0C-.5 0 3.8 0 8 -.1" stroke="url(#a112)" stroke-width="21.6"/><path transform="translate(1116.6 258.2)rotate(-148.5)" d="M-4.7 -.1C-.4 0 3.9 0 8.2 -.1" stroke="url(#a273)" stroke-width="21.6"/><path transform="translate(914.5 439.2)rotate(145.0)" d="M-.8 0C.4 0 1.6 0 2.8 -.1" stroke="url(#a255)" stroke-width="21.6"/><path transform="translate(1000.4 221.0)rotate(-174.5)" d="M-5.3 0C-.9 0 3.4 0 7.8 -.1" stroke="url(#a140)" stroke-width="21.6"/><path transform="translate(1125.0 263.7)rotate(-145.6)" d="M-4.6 -.1C-.4 0 3.8 0 8 -.2" stroke="url(#a202)" stroke-width="21.6"/><path transform="translate(1175.3 431.8)rotate(-105.0)" d="M-5.2 -.2C-.8 .1 3.5 0 7.8 -.4" stroke="url(#a80)" stroke-width="21.6"/><path transform="translate(1163.6 424.4)rotate(-101.2)" d="M-6.7 -.3C-1.7 .2 3.3 .1 8.2 -.5" stroke="url(#a56)" stroke-width="21.6"/><path transform="translate(913.2 440.1)rotate(141.8)" d="M-.8 0C.4 0 1.7 0 2.9 -.2" stroke="url(#a63)" stroke-width="21.6"/><path transform="translate(1061.7 227.6)rotate(-160.6)" d="M-7.8 -.1C-2.2 .1 3.5 0 9.1 -.2" stroke="url(#a145)" stroke-width="21.6"/><path transform="translate(1071.4 231.2)rotate(-158.3)" d="M-7.8 -.1C-2.2 .1 3.5 0 9.1 -.2" stroke="url(#a145)" stroke-width="21.6"/><path transform="translate(1052.4 224.5)rotate(-162.8)" d="M-7.2 -.1C-1.8 0 3.7 0 9.1 -.1" stroke="url(#a247)" stroke-width="21.6"/><path transform="translate(1081.0 235.3)rotate(-155.9)" d="M-7.8 -.1C-2.1 .1 3.5 0 9.1 -.2" stroke="url(#a5)" stroke-width="21.6"/><path transform="translate(990.1 220.1)rotate(-176.6)" d="M-5.1 0C-.9 0 3.3 0 7.5 -.1" stroke="url(#a47)" stroke-width="21.6"/><path transform="translate(1042.4 221.6)rotate(-164.9)" d="M-7.8 -.1C-2.2 0 3.4 0 9 -.1" stroke="url(#a282)" stroke-width="21.6"/><path transform="translate(1090.4 239.7)rotate(-153.3)" d="M-7.7 -.1C-2.1 .1 3.5 0 9 -.2" stroke="url(#a103)" stroke-width="21.6"/><path transform="translate(938.8 320.9)rotate(164.3)" d="M-7.3 -.3C-2.4 .1 2.6 .2 7.5 -.4" stroke="url(#a293)" stroke-width="21.6"/><path transform="translate(1133.0 269.5)rotate(-142.4)" d="M-5.1 -.1C-.8 .1 3.5 0 7.8 -.2" stroke="url(#a22)" stroke-width="21.6"/><path transform="translate(931.7 329.2)rotate(164.4)" d="M-4.2 -.1C-.9 0 2.5 0 5.8 -.2" stroke="url(#a69)" stroke-width="21.6"/><path transform="translate(1032.5 219.1)rotate(-167.0)" d="M-7.7 -.1C-2.2 0 3.3 0 8.9 -.1" stroke="url(#a45)" stroke-width="21.6"/><path transform="translate(1099.9 244.8)rotate(-150.5)" d="M-7.5 -.2C-1.8 .1 3.9 0 9.6 -.2" stroke="url(#a107)" stroke-width="21.6"/><path transform="translate(912.1 441.0)rotate(138.3)" d="M-.7 0C.4 0 1.6 0 2.7 -.2" stroke="url(#a230)" stroke-width="21.6"/><path transform="translate(1022.6 217.0)rotate(-169.1)" d="M-7.6 -.1C-1.9 0 3.7 0 9.3 -.1" stroke="url(#a116)" stroke-width="21.6"/><path transform="translate(1109.1 250.3)rotate(-147.4)" d="M-7.4 -.2C-1.8 .1 3.8 0 9.4 -.2" stroke="url(#a220)" stroke-width="21.6"/><path transform="translate(980.1 219.8)rotate(-178.9)" d="M-4.9 0C-.9 0 3.2 0 7.2 -.1" stroke="url(#a47)" stroke-width="21.6"/><path transform="translate(1164.8 433.4)rotate(-94.0)" d="M-6.2 -.3C-1.6 .1 3 .1 7.6 -.4" stroke="url(#a246)" stroke-width="21.6"/><path transform="translate(1140.9 275.9)rotate(-138.8)" d="M-5 -.1C-.8 .1 3.4 0 7.6 -.2" stroke="url(#a294)" stroke-width="21.6"/><path transform="translate(911.1 442.0)rotate(134.0)" d="M-.7 0C.5 0 1.8 0 3 -.2" stroke="url(#a4)" stroke-width="21.6"/><path transform="translate(1177.2 441.3)rotate(-97.7)" d="M-4.6 -.1C-.7 .1 3.3 0 7.2 -.3" stroke="url(#a227)" stroke-width="21.6"/><path transform="translate(1012.2 215.2)rotate(-171.3)" d="M-7.4 -.1C-1.9 0 3.6 0 9 -.1" stroke="url(#a207)" stroke-width="21.6"/><path transform="translate(1117.7 256.2)rotate(-144.2)" d="M-7.2 -.2C-1.8 .1 3.7 0 9.2 -.2" stroke="url(#a52)" stroke-width="21.6"/><path transform="translate(909.9 443.3)rotate(128.0)" d="M-.9 0C.5 .1 2 0 3.3 -.4" stroke="url(#a191)" stroke-width="21.6"/><path transform="translate(1125.8 262.5)rotate(-140.6)" d="M-7 -.2C-1.7 .1 3.7 0 9 -.2" stroke="url(#a207)" stroke-width="21.6"/><path transform="translate(1001.5 213.8)rotate(-173.7)" d="M-7.8 -.1C-2.1 0 3.6 0 9.3 -.2" stroke="url(#a159)" stroke-width="21.6"/><path transform="translate(1148.5 283.2)rotate(-134.7)" d="M-4.8 -.1C-.6 .1 3.7 0 8 -.2" stroke="url(#a151)" stroke-width="21.6"/><path transform="translate(970.0 219.8)rotate(178.7)" d="M-5.3 -.1C-1.1 0 3.2 0 7.4 -.1" stroke="url(#a47)" stroke-width="21.6"/><path transform="translate(929.7 324.2)rotate(154.2)" d="M-6.4 -.5C-2.1 .1 2.3 .3 6.5 -.7" stroke="url(#a255)" stroke-width="21.6"/><path transform="translate(908.8 445.0)rotate(119.8)" d="M-1 0C.5 .1 2 -.1 3.4 -.6" stroke="url(#a109)" stroke-width="21.6"/><path transform="translate(925.4 331.2)rotate(159.9)" d="M-2.6 0C-.2 0 2.2 0 4.5 -.2" stroke="url(#a234)" stroke-width="21.6"/><path transform="translate(1133.2 269.0)rotate(-136.6)" d="M-7.4 -.2C-2 .1 3.4 .1 8.7 -.3" stroke="url(#a218)" stroke-width="21.6"/><path transform="translate(990.6 212.8)rotate(-176.1)" d="M-7.5 -.1C-2.2 0 3.1 0 8.3 -.1" stroke="url(#a297)" stroke-width="21.6"/><path transform="translate(907.9 447.0)rotate(107.7)" d="M-1.3 -.1C.5 .1 2.3 -.1 3.8 -.9" stroke="url(#a141)" stroke-width="21.6"/><path transform="translate(1155.4 290.7)rotate(-130.1)" d="M-5.3 -.1C-.9 .1 3.4 0 7.8 -.2" stroke="url(#a151)" stroke-width="21.6"/><path transform="translate(1140.4 276.3)rotate(-132.2)" d="M-7.2 -.2C-2 .1 3.3 .1 8.5 -.3" stroke="url(#a289)" stroke-width="21.6"/><path transform="translate(959.9 220.2)rotate(175.9)" d="M-5 -.1C-1 0 2.9 0 6.9 -.1" stroke="url(#a47)" stroke-width="21.6"/><path transform="translate(980.6 212.4)rotate(-178.6)" d="M-7.1 -.1C-2 0 3.2 0 8.4 -.2" stroke="url(#a297)" stroke-width="21.6"/><path transform="translate(907.4 449.4)rotate(91.8)" d="M-1.2 -.1C.5 .2 2.3 -.2 3.9 -.9" stroke="url(#a245)" stroke-width="21.6"/><path transform="translate(921.5 332.8)rotate(156.1)" d="M-1.7 0C0 0 1.8 0 3.5 -.1" stroke="url(#a234)" stroke-width="21.6"/><path transform="translate(923.7 328.1)rotate(137.9)" d="M-5 -.6C-1.7 .1 1.9 .5 5 -1.1" stroke="url(#a4)" stroke-width="21.6"/><path transform="translate(1147.0 284.3)rotate(-127.2)" d="M-6.9 -.2C-1.7 .1 3.5 .1 8.7 -.3" stroke="url(#a2)" stroke-width="21.6"/><path transform="translate(1162.1 299.4)rotate(-124.7)" d="M-5.1 -.1C-.7 .1 3.7 0 8.1 -.3" stroke="url(#a298)" stroke-width="21.6"/><path transform="translate(970.2 212.4)rotate(178.5)" d="M-7.2 -.1C-2.1 .1 3.1 .1 8.3 -.2" stroke="url(#a297)" stroke-width="21.6"/><path transform="translate(950.4 221.2)rotate(172.8)" d="M-4.7 -.1C-.8 0 3 0 6.9 -.1" stroke="url(#a47)" stroke-width="21.6"/><path transform="translate(1152.7 292.6)rotate(-121.5)" d="M-7.2 -.3C-2 .1 3.2 .1 8.4 -.4" stroke="url(#a173)" stroke-width="21.6"/><path transform="translate(918.9 334.0)rotate(152.9)" d="M-1.3 0C.2 0 1.8 0 3.3 -.1" stroke="url(#a90)" stroke-width="21.6"/><path transform="translate(920.8 332.0)rotate(111.8)" d="M-4.2 -1C-1.4 .4 2.5 .5 4.7 -2" stroke="url(#a141)" stroke-width="21.6"/><path transform="translate(959.7 212.9)rotate(175.0)" d="M-7.1 -.2C-2.1 .1 2.9 .1 7.9 -.2" stroke="url(#a297)" stroke-width="21.6"/><path transform="translate(1167.7 308.5)rotate(-118.7)" d="M-4.9 -.1C-.7 .1 3.6 0 7.8 -.3" stroke="url(#a285)" stroke-width="21.6"/><path transform="translate(1058.1 129.9)rotate(-163.1)" d="M-5 0C-.7 0 3.6 0 7.9 -.1" stroke="url(#a240)" stroke-width="21.6"/><path transform="translate(1067.7 133.0)rotate(-161.1)" d="M-5 0C-.7 0 3.6 0 7.9 -.1" stroke="url(#a240)" stroke-width="21.6"/><path transform="translate(1048.5 127.2)rotate(-165.0)" d="M-5 0C-.7 0 3.5 0 7.8 -.1" stroke="url(#a51)" stroke-width="21.6"/><path transform="translate(1077.1 136.4)rotate(-159.0)" d="M-5 0C-.7 0 3.6 0 7.9 -.1" stroke="url(#a51)" stroke-width="21.6"/><path transform="translate(1038.9 124.8)rotate(-166.9)" d="M-5 0C-.7 0 3.5 0 7.7 -.1" stroke="url(#a46)" stroke-width="21.6"/><path transform="translate(1086.9 140.4)rotate(-156.8)" d="M-4.9 -.1C-.5 0 4 0 8.5 -.1" stroke="url(#a46)" stroke-width="21.6"/><path transform="translate(1157.6 301.7)rotate(-115.1)" d="M-7 -.3C-1.8 .1 3.5 .1 8.7 -.4" stroke="url(#a178)" stroke-width="21.6"/><path transform="translate(917.0 335.1)rotate(149.8)" d="M-.9 0C.4 0 1.8 0 3.1 -.1" stroke="url(#a90)" stroke-width="21.6"/><path transform="translate(1028.6 122.6)rotate(-169.0)" d="M-5.6 -.1C-1 0 3.7 0 8.3 -.1" stroke="url(#a203)" stroke-width="21.6"/><path transform="translate(1095.9 144.5)rotate(-154.5)" d="M-4.9 0C-.7 0 3.5 0 7.7 -.1" stroke="url(#a203)" stroke-width="21.6"/><path transform="translate(1105.3 149.2)rotate(-152.0)" d="M-4.8 -.1C-.4 0 4 0 8.4 -.1" stroke="url(#a21)" stroke-width="21.6"/><path transform="translate(1018.3 120.8)rotate(-171.0)" d="M-4.8 0C-.5 0 3.8 0 8.2 -.1" stroke="url(#a236)" stroke-width="21.6"/><path transform="translate(940.9 222.7)rotate(169.1)" d="M-4.7 -.1C-.8 0 3.1 0 7.1 -.2" stroke="url(#a63)" stroke-width="21.6"/><path transform="translate(1172.1 317.7)rotate(-112.1)" d="M-5.3 -.2C-.8 .1 3.6 0 8.1 -.4" stroke="url(#a153)" stroke-width="21.6"/><path transform="translate(949.3 214.2)rotate(170.7)" d="M-6.8 -.2C-2 .1 2.9 .1 7.7 -.3" stroke="url(#a90)" stroke-width="21.6"/><path transform="translate(915.3 336.1)rotate(146.9)" d="M-.8 0C.4 0 1.7 0 2.9 -.1" stroke="url(#a87)" stroke-width="21.6"/><path transform="translate(1114.2 154.3)rotate(-149.3)" d="M-4.7 -.1C-.4 0 3.9 0 8.2 -.1" stroke="url(#a190)" stroke-width="21.6"/><path transform="translate(1161.2 310.9)rotate(-108.2)" d="M-6.8 -.3C-1.7 .2 3.4 .1 8.4 -.4" stroke="url(#a80)" stroke-width="21.6"/><path transform="translate(1008.3 119.4)rotate(-173.0)" d="M-4.7 0C-.5 0 3.7 0 8 -.1" stroke="url(#a190)" stroke-width="21.6"/><path transform="translate(1122.8 159.7)rotate(-146.4)" d="M-4.6 -.1C-.4 0 3.8 0 8.1 -.2" stroke="url(#a58)" stroke-width="21.6"/><path transform="translate(914.2 336.9)rotate(144.2)" d="M-.5 0C.6 0 1.7 0 2.8 -.1" stroke="url(#a87)" stroke-width="21.6"/><path transform="translate(997.7 118.2)rotate(-175.0)" d="M-5.3 0C-.9 0 3.4 0 7.7 -.1" stroke="url(#a201)" stroke-width="21.6"/><path transform="translate(1069.5 128.0)rotate(-158.8)" d="M-7.8 -.1C-2.2 .1 3.5 0 9.1 -.2" stroke="url(#a36)" stroke-width="21.6"/><path transform="translate(1059.7 124.4)rotate(-161.1)" d="M-7.8 -.1C-2.2 .1 3.5 0 9.1 -.2" stroke="url(#a36)" stroke-width="21.6"/><path transform="translate(1079.2 132.0)rotate(-156.3)" d="M-7.8 -.1C-2.1 .1 3.5 0 9.1 -.2" stroke="url(#a232)" stroke-width="21.6"/><path transform="translate(1175.4 327.7)rotate(-104.7)" d="M-5.1 -.2C-.8 .1 3.5 0 7.8 -.4" stroke="url(#a56)" stroke-width="21.6"/><path transform="translate(1163.7 320.2)rotate(-100.9)" d="M-6.7 -.3C-1.7 .2 3.3 .1 8.2 -.5" stroke="url(#a227)" stroke-width="21.6"/><path transform="translate(1049.8 121.3)rotate(-163.3)" d="M-7.8 -.1C-2.2 .1 3.4 0 9.1 -.2" stroke="url(#a36)" stroke-width="21.6"/><path transform="translate(1130.8 165.4)rotate(-143.2)" d="M-5.2 -.1C-.8 .1 3.5 0 7.9 -.2" stroke="url(#a201)" stroke-width="21.6"/><path transform="translate(913.0 337.8)rotate(140.9)" d="M-.8 0C.5 0 1.8 0 3.1 -.2" stroke="url(#a87)" stroke-width="21.6"/><path transform="translate(1088.6 136.4)rotate(-153.8)" d="M-7.7 -.1C-2.1 .1 3.5 0 9 -.2" stroke="url(#a169)" stroke-width="21.6"/><path transform="translate(1039.9 118.5)rotate(-165.4)" d="M-7.8 -.1C-2.2 0 3.4 0 9 -.1" stroke="url(#a115)" stroke-width="21.6"/><path transform="translate(988.1 117.6)rotate(-177.1)" d="M-4.5 0C-.5 0 3.5 0 7.5 -.1" stroke="url(#a173)" stroke-width="21.6"/><path transform="translate(939.0 216.4)rotate(164.5)" d="M-7.3 -.3C-2.4 .1 2.6 .2 7.5 -.4" stroke="url(#a90)" stroke-width="21.6"/><path transform="translate(1097.6 141.1)rotate(-151.1)" d="M-7.6 -.1C-2.1 .1 3.4 0 8.9 -.2" stroke="url(#a226)" stroke-width="21.6"/><path transform="translate(931.9 224.7)rotate(164.5)" d="M-4.2 -.1C-.7 .1 2.8 0 6.2 -.2" stroke="url(#a63)" stroke-width="21.6"/><path transform="translate(1029.9 116.1)rotate(-167.5)" d="M-7.7 -.1C-2.2 0 3.3 0 8.8 -.1" stroke="url(#a74)" stroke-width="21.6"/><path transform="translate(1106.9 146.5)rotate(-148.2)" d="M-7.4 -.2C-1.8 .1 3.8 0 9.4 -.2" stroke="url(#a79)" stroke-width="21.6"/><path transform="translate(911.7 338.9)rotate(136.9)" d="M-.7 0C.5 0 1.7 0 2.9 -.2" stroke="url(#a267)" stroke-width="21.6"/><path transform="translate(1138.9 171.8)rotate(-139.7)" d="M-5 -.1C-.8 .1 3.4 0 7.7 -.2" stroke="url(#a173)" stroke-width="21.6"/><path transform="translate(1019.4 114.0)rotate(-169.7)" d="M-8.2 -.1C-2.4 .1 3.4 0 9.2 -.2" stroke="url(#a79)" stroke-width="21.6"/><path transform="translate(1115.6 152.3)rotate(-145.0)" d="M-7.3 -.2C-1.8 .1 3.8 0 9.3 -.2" stroke="url(#a208)" stroke-width="21.6"/><path transform="translate(978.2 117.3)rotate(-179.4)" d="M-4.9 -.1C-.7 0 3.5 0 7.7 -.1" stroke="url(#a263)" stroke-width="21.6"/><path transform="translate(1164.8 329.2)rotate(-93.7)" d="M-6.2 -.3C-1.6 .1 3 .1 7.6 -.4" stroke="url(#a227)" stroke-width="21.6"/><path transform="translate(910.6 340.0)rotate(132.1)" d="M-.9 0C.4 0 1.8 0 3.1 -.3" stroke="url(#a284)" stroke-width="21.6"/><path transform="translate(1177.2 337.2)rotate(-97.4)" d="M-4.6 -.1C-.7 .1 3.3 0 7.2 -.3" stroke="url(#a246)" stroke-width="21.6"/><path transform="translate(1009.1 112.3)rotate(-172.0)" d="M-7.3 -.1C-1.9 0 3.5 0 8.9 -.1" stroke="url(#a208)" stroke-width="21.6"/><path transform="translate(1123.9 158.4)rotate(-141.5)" d="M-7.1 -.2C-1.7 .1 3.7 0 9 -.2" stroke="url(#a151)" stroke-width="21.6"/><path transform="translate(1146.8 178.9)rotate(-135.8)" d="M-4.9 -.1C-.6 .1 3.8 0 8.1 -.2" stroke="url(#a173)" stroke-width="21.6"/><path transform="translate(909.5 341.4)rotate(125.5)" d="M-.8 0C.5 .1 1.9 0 3.2 -.4" stroke="url(#a101)" stroke-width="21.6"/><path transform="translate(998.5 111.0)rotate(-174.3)" d="M-7.7 -.1C-2.3 0 3.2 0 8.6 -.1" stroke="url(#a151)" stroke-width="21.6"/><path transform="translate(1131.5 164.9)rotate(-137.6)" d="M-7.5 -.2C-2 .1 3.4 .1 8.8 -.3" stroke="url(#a151)" stroke-width="21.6"/><path transform="translate(968.2 117.4)rotate(178.1)" d="M-4.7 -.1C-.7 0 3.3 0 7.3 -.1" stroke="url(#a263)" stroke-width="21.6"/><path transform="translate(929.9 219.7)rotate(154.4)" d="M-6.4 -.5C-2.1 .1 2.3 .3 6.5 -.7" stroke="url(#a87)" stroke-width="21.6"/><path transform="translate(925.3 226.8)rotate(159.8)" d="M-2.6 0C-.2 0 2.1 0 4.5 -.2" stroke="url(#a230)" stroke-width="21.6"/><path transform="translate(908.5 343.0)rotate(116.4)" d="M-1 0C.5 .1 2.1 -.1 3.5 -.6" stroke="url(#a125)" stroke-width="21.6"/><path transform="translate(988.2 110.2)rotate(-176.7)" d="M-7.4 -.1C-2.2 0 3 0 8.2 -.1" stroke="url(#a298)" stroke-width="21.6"/><path transform="translate(1153.8 186.4)rotate(-131.4)" d="M-4.7 -.1C-.5 .1 3.6 0 7.8 -.2" stroke="url(#a263)" stroke-width="21.6"/><path transform="translate(1138.8 172.1)rotate(-133.2)" d="M-7.2 -.2C-2 .1 3.3 .1 8.5 -.3" stroke="url(#a298)" stroke-width="21.6"/><path transform="translate(907.7 345.2)rotate(103.2)" d="M-1.2 -.1C.5 .2 2.3 -.1 3.8 -.9" stroke="url(#a296)" stroke-width="21.6"/><path transform="translate(977.9 109.8)rotate(-179.3)" d="M-7.6 -.1C-2.3 0 3 0 8.2 -.2" stroke="url(#a192)" stroke-width="21.6"/><path transform="translate(958.2 117.9)rotate(175.3)" d="M-4.9 -.1C-.8 0 3.3 0 7.3 -.1" stroke="url(#a263)" stroke-width="21.6"/><path transform="translate(1145.7 180.1)rotate(-128.4)" d="M-7 -.2C-1.7 .1 3.6 .1 8.8 -.3" stroke="url(#a285)" stroke-width="21.6"/><path transform="translate(1160.4 194.6)rotate(-126.3)" d="M-5.1 -.1C-.7 .1 3.7 0 8.1 -.3" stroke="url(#a178)" stroke-width="21.6"/><path transform="translate(921.4 228.4)rotate(156.0)" d="M-1.7 0C0 0 1.8 0 3.5 -.1" stroke="url(#a4)" stroke-width="21.6"/><path transform="translate(923.7 223.7)rotate(138.0)" d="M-5.2 -.7C-1.9 .1 1.9 .5 5 -1.1" stroke="url(#a156)" stroke-width="21.6"/><path transform="translate(967.7 110.0)rotate(177.7)" d="M-7.1 -.1C-2 0 3 .1 8.1 -.2" stroke="url(#a192)" stroke-width="21.6"/><path transform="translate(1151.5 188.3)rotate(-122.9)" d="M-6.7 -.3C-1.7 .1 3.4 .1 8.5 -.3" stroke="url(#a285)" stroke-width="21.6"/><path transform="translate(918.8 229.7)rotate(152.7)" d="M-1.3 0C.2 0 1.8 0 3.3 -.1" stroke="url(#a4)" stroke-width="21.6"/><path transform="translate(1166.3 203.5)rotate(-120.4)" d="M-4.9 -.1C-.7 .1 3.6 0 7.8 -.3" stroke="url(#a178)" stroke-width="21.6"/><path transform="translate(947.9 119.0)rotate(172.0)" d="M-5.1 -.1C-1.1 0 2.8 0 6.7 -.2" stroke="url(#a127)" stroke-width="21.6"/><path transform="translate(920.8 227.6)rotate(111.4)" d="M-4.2 -1C-1.4 .4 2.5 .5 4.7 -2" stroke="url(#a71)" stroke-width="21.6"/><path transform="translate(1156.4 196.9)rotate(-116.8)" d="M-7 -.3C-1.8 .1 3.5 .1 8.7 -.4" stroke="url(#a153)" stroke-width="21.6"/><path transform="translate(957.3 110.7)rotate(174.1)" d="M-7 -.2C-1.9 .1 3.1 .1 8.1 -.2" stroke="url(#a192)" stroke-width="21.6"/><path transform="translate(916.9 230.7)rotate(149.7)" d="M-.9 0C.4 0 1.8 0 3.1 -.1" stroke="url(#a4)" stroke-width="21.6"/><path transform="translate(1171.0 212.7)rotate(-113.9)" d="M-5.3 -.2C-.8 .1 3.7 0 8.1 -.4" stroke="url(#a80)" stroke-width="21.6"/><g clip-path="url(#k6)"><path transform="translate(1106.9 45.7)rotate(-151.4)" d="M-2.1 0C-.7 0 .7 0 2.1 0" stroke="url(#a102)" stroke-width="21.6"/></g><path transform="translate(1160.4 206.0)rotate(-110.0)" d="M-6.8 -.3C-1.7 .2 3.4 .1 8.5 -.4" stroke="url(#a56)" stroke-width="21.6"/><path transform="translate(915.2 231.7)rotate(146.7)" d="M-.8 0C.4 0 1.6 0 2.9 -.1" stroke="url(#a191)" stroke-width="21.6"/><g clip-path="url(#k6)"><path transform="translate(1113.4 49.4)rotate(-149.5)" d="M-4.7 -.1C-.4 0 3.9 0 8.2 -.1" stroke="url(#a237)" stroke-width="21.6"/></g><path transform="translate(938.1 120.7)rotate(167.9)" d="M-5.1 -.1C-1.1 .1 2.9 0 6.8 -.2" stroke="url(#a127)" stroke-width="21.6"/><path transform="translate(946.9 112.2)rotate(169.5)" d="M-7 -.2C-2.1 .1 2.8 .1 7.8 -.3" stroke="url(#a191)" stroke-width="21.6"/><g clip-path="url(#k6)"><path transform="translate(1122.0 54.7)rotate(-146.7)" d="M-4.7 -.1C-.4 0 3.8 0 8.1 -.2" stroke="url(#a299)" stroke-width="21.6"/></g><path transform="translate(914.1 232.5)rotate(144.0)" d="M-.5 0C.6 0 1.7 0 2.8 -.1" stroke="url(#a191)" stroke-width="21.6"/><path transform="translate(1174.6 222.6)rotate(-106.8)" d="M-4.7 -.2C-.5 .1 3.7 0 7.9 -.4" stroke="url(#a227)" stroke-width="21.6"/><path transform="translate(1163.2 215.4)rotate(-102.8)" d="M-6.7 -.3C-1.7 .2 3.3 .1 8.3 -.4" stroke="url(#a246)" stroke-width="21.6"/><g clip-path="url(#k6)"><path transform="translate(1130.1 60.4)rotate(-143.5)" d="M-5.2 -.1C-.8 .1 3.5 0 7.9 -.2" stroke="url(#a299)" stroke-width="21.6"/></g><path transform="translate(912.9 233.4)rotate(140.7)" d="M-.8 0C.5 0 1.8 0 3 -.2" stroke="url(#a109)" stroke-width="21.6"/><path d="M1115.9 62.8L1120.0 64.9L1123.4 66.6L1126.4 68.2L1129.1 69.6L1131.6 70.9L1134.0 72.2L1136.2 73.4L1138.3 74.5L1140.2 75.6L1142.1 76.6L1143.8 77.5L1145.5 78.4L1147.1 79.3L1148.5 80.1L1149.9 80.8L1151.3 81.4L1152.5 82.0L1153.7 82.6L1154.8 83.1L1155.9 83.5L1156.9 83.9L1157.8 84.2L1158.7 84.4L1159.5 84.6L1160.2 84.7L1160.9 84.7L1161.6 84.7L1162.2 84.6L1162.7 84.4L1163.2 84.1L1163.5 83.7L1163.8 83.3L1164.1 82.7L1164.2 82.0L1164.2 81.1L1163.9 80.0L1163.5 78.6L1162.5 76.6L1152.4 66.0L1149.3 63.8L1146.7 62.2L1144.4 60.9L1142.2 59.7L1140.1 58.7L1138.2 57.9L1136.3 57.1L1134.5 56.4L1132.8 55.8L1131.1 55.2L1129.4 54.7L1127.8 54.2L1126.3 53.8L1124.7 53.4L1123.2 53.0L1121.8 52.7L1120.4 52.4L1119.0 52.1L1117.6 51.9L1116.3 51.7L1115.0 51.6L1113.8 51.4L1112.6 51.3L1111.4 51.2L1110.3 51.2L1109.2 51.2L1108.1 51.2L1107.1 51.3L1106.2 51.3L1105.3 51.5L1104.5 51.6L1103.8 51.8L1103.2 52.1L1102.7 52.4L1102.4 52.9L1102.3 53.4L1102.5 54.1L1103.4 55.2Z" fill="url(#k8)"/><path transform="translate(936.4 114.7)rotate(162.3)" d="M-7.3 -.4C-2.5 .1 2.5 .2 7.3 -.5" stroke="url(#a109)" stroke-width="21.6"/><path transform="translate(1164.7 224.8)rotate(-95.5)" d="M-6.2 -.3C-1.4 .1 3.4 .1 8.1 -.4" stroke="url(#a72)" stroke-width="21.6"/><path transform="translate(911.6 234.5)rotate(136.7)" d="M-.7 0C.5 0 1.7 0 2.9 -.2" stroke="url(#a109)" stroke-width="21.6"/><g clip-path="url(#k6)"><path transform="translate(1138.2 66.8)rotate(-140.0)" d="M-5 -.1C-.8 .1 3.5 0 7.7 -.2" stroke="url(#a56)" stroke-width="21.6"/></g><path transform="translate(1176.9 232.2)rotate(-99.4)" d="M-5.1 -.2C-.8 .1 3.5 0 7.7 -.4" stroke="url(#a252)" stroke-width="21.6"/><path transform="translate(929.9 122.8)rotate(163.3)" d="M-3.7 -.1C-.7 0 2.3 0 5.3 -.2" stroke="url(#a181)" stroke-width="21.6"/><path transform="translate(910.5 235.7)rotate(131.9)" d="M-.9 0C.4 0 1.8 0 3.1 -.3" stroke="url(#a30)" stroke-width="21.6"/><g clip-path="url(#k6)"><path transform="translate(1146.2 73.9)rotate(-136.1)" d="M-4.9 -.1C-.6 .1 3.8 0 8.1 -.2" stroke="url(#a56)" stroke-width="21.6"/></g><path transform="translate(909.3 237.1)rotate(124.7)" d="M-1 0C.4 .1 1.9 0 3.4 -.5" stroke="url(#a141)" stroke-width="21.6"/><path transform="translate(1177.8 242.3)rotate(-91.7)" d="M-4.6 -.2C-.5 .1 3.6 0 7.6 -.4" stroke="url(#a185)" stroke-width="21.6"/><path transform="translate(908.4 238.8)rotate(115.0)" d="M-1 0C.6 .1 2.2 -.1 3.6 -.7" stroke="url(#a65)" stroke-width="21.6"/><path transform="translate(927.8 118.3)rotate(150.8)" d="M-6.2 -.5C-2.2 .1 2 .4 5.9 -.7" stroke="url(#a30)" stroke-width="21.6"/><path transform="translate(924.6 124.6)rotate(159.0)" d="M-2.2 0C0 0 2.2 0 4.4 -.1" stroke="url(#a181)" stroke-width="21.6"/><g clip-path="url(#k6)"><path transform="translate(1153.3 81.3)rotate(-131.7)" d="M-4.7 -.1C-.5 .1 3.7 0 7.8 -.2" stroke="url(#a56)" stroke-width="21.6"/></g><path transform="translate(907.6 241.0)rotate(101.6)" d="M-1.2 -.1C.5 .2 2.3 -.1 3.8 -.9" stroke="url(#a179)" stroke-width="21.6"/><g clip-path="url(#k6)"><path transform="translate(1159.9 89.5)rotate(-126.7)" d="M-5.1 -.1C-.7 .1 3.7 0 8.2 -.3" stroke="url(#a85)" stroke-width="21.6"/></g><g clip-path="url(#k9)"><path transform="translate(1145.5 75.5)rotate(-128.5)" d="M-6.4 -.2C-2.7 0 1.1 .1 4.9 -.1" stroke="url(#a26)" stroke-width="21.6"/></g><path transform="translate(920.8 126.2)rotate(155.3)" d="M-1.7 0C0 0 1.7 0 3.5 -.1" stroke="url(#a101)" stroke-width="21.6"/><path transform="translate(922.7 122.1)rotate(132.8)" d="M-4.9 -.7C-1.7 .1 1.9 .6 4.8 -1.3" stroke="url(#a65)" stroke-width="21.6"/><g clip-path="url(#k9)"><path transform="translate(1151.2 83.3)rotate(-123.3)" d="M-6.8 -.3C-1.7 .1 3.4 .1 8.5 -.3" stroke="url(#a26)" stroke-width="21.6"/></g><path transform="translate(1165.9 98.4)rotate(-120.8)" d="M-5 -.1C-.7 .1 3.6 0 7.9 -.3" stroke="url(#a85)" stroke-width="21.6"/><path transform="translate(918.5 127.4)rotate(152.1)" d="M-.9 0C.5 0 1.8 0 3.2 -.1" stroke="url(#a101)" stroke-width="21.6"/><g clip-path="url(#k9)"><path transform="translate(1156.1 91.8)rotate(-117.2)" d="M-7 -.3C-1.8 .1 3.5 .1 8.8 -.4" stroke="url(#a26)" stroke-width="21.6"/></g><path transform="translate(920.5 126.0)rotate(103.4)" d="M-3.9 -1.1C-1.1 .6 2.7 .3 4.9 -2.2" stroke="url(#a105)" stroke-width="21.6"/><path transform="translate(916.7 128.4)rotate(149.2)" d="M-.9 0C.4 0 1.7 0 3 -.1" stroke="url(#a101)" stroke-width="21.6"/><path transform="translate(1170.7 107.6)rotate(-114.3)" d="M-5.3 -.2C-.8 .1 3.7 0 8.1 -.4" stroke="url(#a233)" stroke-width="21.6"/><g clip-path="url(#k9)"><path transform="translate(1160.2 101.0)rotate(-110.5)" d="M-6.8 -.3C-1.7 .2 3.4 .1 8.5 -.4" stroke="url(#a252)" stroke-width="21.6"/></g><path transform="translate(915.2 129.3)rotate(146.4)" d="M-.6 0C.6 0 1.7 0 2.9 -.1" stroke="url(#a101)" stroke-width="21.6"/><path d="M1148.1 98.2L1150.3 101.9L1152.0 104.8L1153.3 107.2L1154.5 109.2L1155.5 110.9L1156.4 112.4L1157.3 113.8L1158.0 114.9L1158.7 115.9L1159.4 116.8L1160.1 117.6L1160.7 118.2L1161.3 118.8L1161.9 119.2L1162.5 119.6L1163.0 119.9L1163.6 120.2L1164.1 120.3L1164.7 120.4L1165.2 120.4L1165.7 120.4L1166.3 120.3L1166.8 120.1L1167.3 119.9L1167.8 119.6L1168.3 119.3L1168.8 118.8L1169.3 118.3L1169.7 117.8L1170.2 117.1L1170.6 116.4L1171.0 115.5L1171.4 114.6L1171.8 113.4L1172.1 112.2L1172.3 110.6L1172.5 108.7L1172.4 106.2L1167.9 93.2L1166.2 90.7L1164.7 88.7L1163.3 87.2L1162.0 85.9L1160.7 84.7L1159.5 83.7L1158.3 82.7L1157.2 81.9L1156.1 81.2L1155.0 80.5L1154.0 79.8L1152.9 79.3L1151.9 78.8L1151.0 78.3L1150.0 77.9L1149.1 77.5L1148.2 77.2L1147.3 76.9L1146.4 76.6L1145.6 76.4L1144.8 76.2L1144.0 76.1L1143.2 76.0L1142.5 76.0L1141.8 76.0L1141.2 76.0L1140.5 76.1L1140.0 76.2L1139.4 76.4L1138.9 76.6L1138.5 77.0L1138.2 77.4L1137.9 77.9L1137.7 78.5L1137.7 79.3L1137.9 80.3L1138.3 81.7L1139.2 83.8Z" fill="url(#k11)"/><path transform="translate(913.9 130.2)rotate(143.6)" d="M-.8 0C.4 0 1.6 0 2.7 -.1" stroke="url(#a125)" stroke-width="21.6"/><path transform="translate(1174.4 117.5)rotate(-107.3)" d="M-4.7 -.2C-.5 .1 3.7 0 7.9 -.4" stroke="url(#a233)" stroke-width="21.6"/><g clip-path="url(#k9)"><path transform="translate(1163.0 110.3)rotate(-103.3)" d="M-6.7 -.3C-1.7 .2 3.3 .1 8.3 -.4" stroke="url(#a252)" stroke-width="21.6"/></g><path transform="translate(912.7 131.1)rotate(140.0)" d="M-.8 0C.5 0 1.8 0 3 -.2" stroke="url(#a125)" stroke-width="21.6"/><g clip-path="url(#k9)"><path transform="translate(1164.6 119.7)rotate(-96.0)" d="M-6.2 -.3C-1.4 .1 3.4 .1 8.1 -.4" stroke="url(#a77)" stroke-width="21.6"/></g><path transform="translate(911.4 132.2)rotate(135.9)" d="M-.7 0C.5 0 1.7 0 2.8 -.2" stroke="url(#a125)" stroke-width="21.6"/><path transform="translate(1176.7 127.0)rotate(-99.9)" d="M-5.1 -.2C-.8 .1 3.5 0 7.7 -.4" stroke="url(#a242)" stroke-width="21.6"/><path transform="translate(910.4 133.4)rotate(130.7)" d="M-.9 0C.5 0 1.9 0 3.2 -.3" stroke="url(#a296)" stroke-width="21.6"/><path transform="translate(909.1 135.0)rotate(122.9)" d="M-1 0C.4 .1 1.9 0 3.3 -.5" stroke="url(#a71)" stroke-width="21.6"/><path transform="translate(1177.8 137.2)rotate(-92.3)" d="M-4.6 -.2C-.5 .1 3.6 0 7.6 -.4" stroke="url(#a89)" stroke-width="21.6"/><path transform="translate(908.2 136.7)rotate(112.9)" d="M-.9 0C.6 .1 2.2 -.1 3.6 -.7" stroke="url(#a166)" stroke-width="21.6"/><path transform="translate(907.5 138.9)rotate(99.2)" d="M-1.2 -.1C.5 .2 2.3 -.1 3.8 -.9" stroke="url(#a55)" stroke-width="21.6"/></g><path d="M920.3 115.6A122.3 60.4 0 0 0 1165.0 115.6L1165.0 529.5A122.3 60.4 0 0 0 920.3 529.5Z" fill="#000" fill-opacity="0.085"/><ellipse cx="1042.7" cy="115.6" rx="122.3" ry="60.4" fill="#000" fill-opacity="0.052"/><ellipse cx="1042.7" cy="529.5" rx="122.3" ry="60.4" fill="#000" fill-opacity="0.050"/><g fill="none"><path d="M1028.7 529.3L1029.0 529.1L1029.3 529.0L1029.6 528.9L1030.0 528.9L1030.3 528.8L1030.6 528.7L1030.9 528.7L1031.2 528.6L1031.6 528.6L1031.9 528.6L1032.2 528.5L1032.6 528.5L1032.9 528.5L1033.2 528.4L1033.5 528.4L1033.9 528.4L1034.2 528.4L1034.5 528.4L1034.8 528.4L1035.2 528.3L1035.5 528.3L1035.8 528.3L1036.2 528.3L1036.5 528.3L1036.8 528.3L1037.2 528.3L1037.5 528.3L1037.8 528.4L1038.2 528.4L1038.5 528.4L1038.8 528.4L1039.2 528.4L1039.5 528.5L1039.8 528.5L1040.2 528.6L1040.5 528.6L1040.8 528.7L1041.2 528.8L1041.3 529.4L1040.9 529.5L1040.6 529.6L1040.3 529.7L1040.0 529.7L1039.7 529.8L1039.3 529.9L1039.0 529.9L1038.7 530.0L1038.4 530.0L1038.0 530.0L1037.7 530.1L1037.4 530.1L1037.1 530.1L1036.7 530.2L1036.4 530.2L1036.1 530.2L1035.7 530.2L1035.4 530.3L1035.1 530.3L1034.8 530.3L1034.4 530.3L1034.1 530.3L1033.8 530.3L1033.4 530.3L1033.1 530.3L1032.8 530.3L1032.4 530.3L1032.1 530.3L1031.8 530.3L1031.4 530.3L1031.1 530.2L1030.8 530.2L1030.4 530.2L1030.1 530.2L1029.8 530.1L1029.4 530.0L1029.1 530.0L1028.7 529.9Z" fill="url(#k14)"/><g clip-path="url(#k13)"><path transform="translate(1034.6 526.4)rotate(-95.4)" d="M-5 .1C-.9 -.1 3.1 0 7.2 .2" stroke="url(#c11)" stroke-width="13.5"/></g><g clip-path="url(#k16)"><path transform="translate(1050.2 533.8)rotate(-84.2)" d="M-1.7 0C.8 0 3.2 0 5.7 -.1" stroke="url(#c26)" stroke-width="13.5"/></g><g clip-path="url(#k16)"><path transform="translate(1050.9 526.4)rotate(-86.6)" d="M-7.4 -.2C-2.1 .1 3.3 .1 8.6 -.2" stroke="url(#c30)" stroke-width="13.5"/></g><path transform="translate(1051.1 516.0)rotate(-90.2)" d="M-5.2 -.1C-1 .1 3.3 0 7.5 -.2" stroke="url(#c60)" stroke-width="13.5"/><path transform="translate(1034.2 516.1)rotate(-89.6)" d="M-6.7 .2C-1.8 -.1 3.1 -.1 8 .3" stroke="url(#c2)" stroke-width="13.5"/><path transform="translate(1050.8 505.7)rotate(-93.8)" d="M-5.2 -.1C-1 .1 3.2 0 7.4 -.2" stroke="url(#c10)" stroke-width="13.5"/><path transform="translate(1049.8 495.5)rotate(-97.2)" d="M-5.1 -.1C-1 0 3.2 0 7.4 -.1" stroke="url(#c29)" stroke-width="13.5"/><path transform="translate(1034.7 505.8)rotate(-84.0)" d="M-6.7 .2C-1.9 -.1 2.9 0 7.8 .3" stroke="url(#c35)" stroke-width="13.5"/><path transform="translate(1048.2 485.4)rotate(-100.1)" d="M-5.1 -.1C-1 0 3.1 0 7.3 -.1" stroke="url(#c56)" stroke-width="13.5"/><path transform="translate(1036.2 495.8)rotate(-79.5)" d="M-6.9 .2C-1.9 -.1 3.1 0 8.1 .2" stroke="url(#c20)" stroke-width="13.5"/><path transform="translate(1046.3 475.6)rotate(-102.5)" d="M-5 0C-.8 0 3.4 0 7.6 -.1" stroke="url(#c40)" stroke-width="13.5"/><path transform="translate(1043.8 465.0)rotate(-104.1)" d="M-5.4 0C-1.1 0 3.1 0 7.4 0" stroke="url(#c14)" stroke-width="13.5"/><path transform="translate(1038.4 485.5)rotate(-76.6)" d="M-7.2 .1C-2 -.1 3.3 0 8.5 .1" stroke="url(#c13)" stroke-width="13.5"/><path transform="translate(1041.1 454.8)rotate(-104.5)" d="M-5.2 0C-1.1 0 3 0 7.1 0" stroke="url(#c6)" stroke-width="13.5"/><path transform="translate(1041.0 475.3)rotate(-75.5)" d="M-7.1 0C-1.9 0 3.2 0 8.4 0" stroke="url(#c3)" stroke-width="13.5"/><path transform="translate(1038.5 444.6)rotate(-103.5)" d="M-5.5 0C-1.2 0 3 0 7.3 .1" stroke="url(#c33)" stroke-width="13.5"/><path transform="translate(1043.6 465.2)rotate(-75.9)" d="M-7.4 0C-2 0 3.3 0 8.6 -.1" stroke="url(#c53)" stroke-width="13.5"/><path transform="translate(1046.1 455.1)rotate(-77.4)" d="M-7.1 -.1C-1.8 0 3.6 0 8.9 -.1" stroke="url(#c48)" stroke-width="13.5"/><path transform="translate(1036.3 434.2)rotate(-100.7)" d="M-5.2 .1C-1.2 0 2.9 0 6.9 .2" stroke="url(#c68)" stroke-width="13.5"/><path transform="translate(1048.2 444.8)rotate(-79.7)" d="M-7.2 -.1C-2 0 3.2 0 8.5 -.2" stroke="url(#c15)" stroke-width="13.5"/><path transform="translate(1034.8 424.2)rotate(-96.2)" d="M-5 .1C-1.1 -.1 2.8 0 6.7 .2" stroke="url(#c24)" stroke-width="13.5"/><path transform="translate(1049.7 434.8)rotate(-82.8)" d="M-7.4 -.2C-1.9 .1 3.6 .1 9.1 -.2" stroke="url(#c59)" stroke-width="13.5"/><path transform="translate(1050.8 424.5)rotate(-86.1)" d="M-6.9 -.2C-1.7 .1 3.5 .1 8.6 -.2" stroke="url(#c32)" stroke-width="13.5"/><path transform="translate(1034.2 414.4)rotate(-90.6)" d="M-4.9 .1C-.9 -.1 3.1 0 7.1 .2" stroke="url(#c28)" stroke-width="13.5"/><path transform="translate(1051.1 414.2)rotate(-89.6)" d="M-7.5 -.2C-2.1 .1 3.3 .1 8.6 -.2" stroke="url(#c1)" stroke-width="13.5"/><path transform="translate(1050.9 403.9)rotate(-93.2)" d="M-5.2 -.1C-1 .1 3.2 0 7.4 -.2" stroke="url(#c69)" stroke-width="13.5"/><path transform="translate(1050.0 393.6)rotate(-96.7)" d="M-5.1 -.1C-1 0 3.2 0 7.4 -.1" stroke="url(#c55)" stroke-width="13.5"/><path transform="translate(1034.6 404.1)rotate(-84.8)" d="M-6.7 .2C-1.7 -.1 3.2 -.1 8.2 .3" stroke="url(#c76)" stroke-width="13.5"/><path transform="translate(1048.5 383.5)rotate(-99.7)" d="M-5.1 -.1C-1 0 3.2 0 7.3 -.1" stroke="url(#c21)" stroke-width="13.5"/><path transform="translate(1036.0 393.7)rotate(-80.0)" d="M-6.9 .2C-1.9 -.1 3.1 0 8.1 .2" stroke="url(#c63)" stroke-width="13.5"/><path transform="translate(1046.6 373.7)rotate(-102.2)" d="M-5 0C-.8 0 3.4 0 7.7 -.1" stroke="url(#c62)" stroke-width="13.5"/><path transform="translate(1044.1 363.1)rotate(-103.9)" d="M-5.4 0C-1.1 0 3.2 0 7.4 -.1" stroke="url(#c79)" stroke-width="13.5"/><path transform="translate(1038.1 383.4)rotate(-76.9)" d="M-7.2 .1C-2 -.1 3.2 0 8.5 .1" stroke="url(#c47)" stroke-width="13.5"/><path transform="translate(1041.5 352.8)rotate(-104.5)" d="M-5.2 0C-1.1 0 3 0 7.2 0" stroke="url(#c46)" stroke-width="13.5"/><path transform="translate(1040.7 373.3)rotate(-75.6)" d="M-7 0C-1.9 0 3.2 0 8.3 0" stroke="url(#c23)" stroke-width="13.5"/><path transform="translate(1039.0 343.0)rotate(-103.7)" d="M-5 0C-.9 0 3.2 0 7.3 .1" stroke="url(#c51)" stroke-width="13.5"/><path transform="translate(1043.3 363.2)rotate(-75.7)" d="M-7.3 0C-2 0 3.3 0 8.6 -.1" stroke="url(#c7)" stroke-width="13.5"/><path transform="translate(1036.6 332.6)rotate(-101.3)" d="M-5.3 .1C-1.2 0 2.9 0 7 .1" stroke="url(#c41)" stroke-width="13.5"/><path transform="translate(1045.7 353.2)rotate(-77.1)" d="M-7 -.1C-1.7 0 3.5 0 8.8 -.1" stroke="url(#c22)" stroke-width="13.5"/><path transform="translate(1047.9 342.9)rotate(-79.4)" d="M-7.2 -.1C-1.8 0 3.6 .1 9 -.2" stroke="url(#c70)" stroke-width="13.5"/><path transform="translate(1035.0 322.5)rotate(-97.0)" d="M-5 .1C-1 -.1 3.1 0 7.2 .2" stroke="url(#c43)" stroke-width="13.5"/><path transform="translate(1049.6 332.4)rotate(-82.3)" d="M-7.3 -.1C-2.1 .1 3.3 .1 8.5 -.2" stroke="url(#c65)" stroke-width="13.5"/><path transform="translate(1050.7 322.2)rotate(-85.7)" d="M-7.4 -.2C-2.1 .1 3.3 .1 8.6 -.2" stroke="url(#c12)" stroke-width="13.5"/><path transform="translate(1034.2 312.2)rotate(-91.4)" d="M-4.9 .1C-.9 -.1 3.1 0 7.1 .2" stroke="url(#c61)" stroke-width="13.5"/><path transform="translate(1051.1 312.4)rotate(-89.1)" d="M-6.9 -.2C-1.7 .1 3.5 .1 8.6 -.2" stroke="url(#c50)" stroke-width="13.5"/><path transform="translate(1051.0 302.1)rotate(-92.7)" d="M-5.2 -.1C-1 .1 3.2 0 7.4 -.2" stroke="url(#c10)" stroke-width="13.5"/><path transform="translate(1034.5 302.0)rotate(-85.5)" d="M-6.7 .2C-1.7 -.1 3.2 -.1 8.2 .3" stroke="url(#c35)" stroke-width="13.5"/><path transform="translate(1050.2 291.8)rotate(-96.1)" d="M-5.1 -.1C-1 0 3.2 0 7.4 -.2" stroke="url(#c78)" stroke-width="13.5"/><path transform="translate(1048.8 281.7)rotate(-99.3)" d="M-5.1 -.1C-.8 0 3.5 0 7.9 -.1" stroke="url(#c57)" stroke-width="13.5"/><path transform="translate(1035.8 291.6)rotate(-80.5)" d="M-6.9 .2C-1.9 -.1 3.1 0 8 .2" stroke="url(#c58)" stroke-width="13.5"/><path transform="translate(1046.8 271.2)rotate(-101.9)" d="M-5 0C-1 0 3.1 0 7.1 -.1" stroke="url(#c77)" stroke-width="13.5"/><path transform="translate(1044.5 261.1)rotate(-103.7)" d="M-5.4 0C-1.1 0 3.2 0 7.5 -.1" stroke="url(#c73)" stroke-width="13.5"/><path transform="translate(1037.7 281.8)rotate(-77.2)" d="M-6.7 .1C-1.7 -.1 3.4 0 8.4 .1" stroke="url(#c39)" stroke-width="13.5"/><path transform="translate(1041.9 250.8)rotate(-104.5)" d="M-5.3 0C-1.1 0 3 0 7.2 0" stroke="url(#c71)" stroke-width="13.5"/><path transform="translate(1040.2 271.7)rotate(-75.7)" d="M-7 0C-1.7 0 3.5 0 8.8 0" stroke="url(#c31)" stroke-width="13.5"/><path transform="translate(1039.3 240.9)rotate(-103.9)" d="M-5.1 0C-.9 0 3.2 0 7.4 .1" stroke="url(#c16)" stroke-width="13.5"/><path transform="translate(1042.9 261.2)rotate(-75.6)" d="M-7.3 0C-2 0 3.3 0 8.6 -.1" stroke="url(#c18)" stroke-width="13.5"/><path transform="translate(1036.9 230.5)rotate(-101.7)" d="M-5.3 .1C-1.2 0 2.9 0 7 .1" stroke="url(#c0)" stroke-width="13.5"/><path transform="translate(1045.3 251.3)rotate(-76.8)" d="M-7 -.1C-1.7 0 3.5 0 8.8 -.1" stroke="url(#c25)" stroke-width="13.5"/><path transform="translate(1047.6 241.1)rotate(-79.0)" d="M-7.2 -.1C-1.8 0 3.6 .1 9 -.2" stroke="url(#c66)" stroke-width="13.5"/><path transform="translate(1035.1 220.4)rotate(-97.7)" d="M-5.1 .1C-1.1 -.1 2.8 0 6.8 .2" stroke="url(#c49)" stroke-width="13.5"/><path transform="translate(1049.4 230.5)rotate(-81.8)" d="M-7.3 -.1C-2 .1 3.3 .1 8.5 -.2" stroke="url(#c44)" stroke-width="13.5"/><path transform="translate(1050.5 220.3)rotate(-85.1)" d="M-7.4 -.2C-2.1 .1 3.3 .1 8.6 -.2" stroke="url(#c54)" stroke-width="13.5"/><path transform="translate(1034.2 210.5)rotate(-92.4)" d="M-4.9 .1C-.9 -.1 3.1 0 7.1 .2" stroke="url(#c45)" stroke-width="13.5"/><path transform="translate(1051.1 210.0)rotate(-88.7)" d="M-7.5 -.2C-2.1 .1 3.3 .1 8.6 -.2" stroke="url(#c75)" stroke-width="13.5"/><path transform="translate(1051.0 199.7)rotate(-92.3)" d="M-5.2 -.1C-1 .1 3.2 0 7.5 -.2" stroke="url(#c74)" stroke-width="13.5"/><path transform="translate(1034.3 200.2)rotate(-86.4)" d="M-6.7 .2C-1.8 -.1 3.2 -.1 8.1 .3" stroke="url(#c4)" stroke-width="13.5"/><path transform="translate(1050.3 190.0)rotate(-95.7)" d="M-4.6 -.1C-.6 0 3.4 0 7.4 -.1" stroke="url(#c64)" stroke-width="13.5"/><path transform="translate(1049.0 179.8)rotate(-98.9)" d="M-5.1 -.1C-.8 0 3.5 0 7.9 -.1" stroke="url(#c21)" stroke-width="13.5"/><path transform="translate(1035.5 189.9)rotate(-81.2)" d="M-6.8 .2C-1.7 -.1 3.3 0 8.4 .2" stroke="url(#c37)" stroke-width="13.5"/><path transform="translate(1047.2 169.3)rotate(-101.6)" d="M-5 0C-1 0 3.1 0 7.2 -.1" stroke="url(#c42)" stroke-width="13.5"/><path transform="translate(1044.9 159.2)rotate(-103.5)" d="M-5.5 0C-1.1 0 3.2 0 7.5 -.1" stroke="url(#c19)" stroke-width="13.5"/><path transform="translate(1037.4 179.7)rotate(-77.6)" d="M-6.6 .1C-1.6 -.1 3.3 0 8.3 .1" stroke="url(#c9)" stroke-width="13.5"/><path transform="translate(1042.3 148.8)rotate(-104.5)" d="M-5.3 0C-1.1 0 3.1 0 7.2 0" stroke="url(#c17)" stroke-width="13.5"/><path transform="translate(1039.8 169.7)rotate(-75.8)" d="M-6.9 .1C-1.7 0 3.5 0 8.7 0" stroke="url(#c38)" stroke-width="13.5"/><path transform="translate(1039.7 138.9)rotate(-104.1)" d="M-5.1 0C-.9 0 3.3 0 7.4 .1" stroke="url(#c34)" stroke-width="13.5"/><path transform="translate(1042.5 159.2)rotate(-75.6)" d="M-7.3 0C-2 0 3.3 0 8.5 0" stroke="url(#c52)" stroke-width="13.5"/><path transform="translate(1037.2 128.4)rotate(-102.1)" d="M-5.3 .1C-1.2 0 2.9 0 7.1 .1" stroke="url(#c8)" stroke-width="13.5"/><path transform="translate(1045.0 149.4)rotate(-76.6)" d="M-7 -.1C-1.7 0 3.5 0 8.8 -.1" stroke="url(#c67)" stroke-width="13.5"/><path transform="translate(1047.3 139.2)rotate(-78.6)" d="M-7.2 -.1C-1.8 0 3.6 0 9 -.2" stroke="url(#c27)" stroke-width="13.5"/><g clip-path="url(#k12)"><path transform="translate(1035.3 118.2)rotate(-98.3)" d="M-5.1 .1C-1.1 0 2.8 0 6.8 .2" stroke="url(#c36)" stroke-width="13.5"/></g><path transform="translate(1049.1 128.7)rotate(-81.4)" d="M-7.3 -.1C-2 .1 3.2 .1 8.5 -.2" stroke="url(#c5)" stroke-width="13.5"/><g clip-path="url(#k12)"><path transform="translate(1034.5 111.5)rotate(-94.9)" d="M-1.8 0C-.5 0 .9 0 2.2 0" stroke="url(#c72)" stroke-width="13.5"/></g><g clip-path="url(#k15)"><path transform="translate(1050.4 118.5)rotate(-84.6)" d="M-7.4 -.2C-2.5 0 2.5 .1 7.4 -.2" stroke="url(#c26)" stroke-width="13.5"/></g><g clip-path="url(#k15)"><path transform="translate(1050.9 112.3)rotate(-86.7)" d="M-3.4 0C-1.9 0 -.4 0 1.1 0" stroke="url(#c30)" stroke-width="13.5"/></g><path d="M1044.5 114.5L1044.8 114.6L1045.1 114.8L1045.4 114.9L1045.8 114.9L1046.1 115.0L1046.4 115.1L1046.7 115.1L1047.1 115.2L1047.4 115.2L1047.7 115.3L1048.0 115.3L1048.4 115.3L1048.7 115.4L1049.0 115.4L1049.3 115.4L1049.7 115.4L1050.0 115.4L1050.3 115.4L1050.7 115.5L1051.0 115.5L1051.3 115.5L1051.6 115.5L1052.0 115.4L1052.3 115.4L1052.6 115.4L1053.0 115.4L1053.3 115.4L1053.6 115.4L1054.0 115.3L1054.3 115.3L1054.6 115.2L1055.0 115.2L1055.3 115.1L1055.6 115.1L1056.0 115.0L1056.3 114.9L1056.6 114.8L1057.0 114.6L1057.0 113.8L1056.7 113.6L1056.4 113.5L1056.1 113.4L1055.7 113.3L1055.4 113.2L1055.1 113.2L1054.8 113.1L1054.4 113.0L1054.1 113.0L1053.8 113.0L1053.5 112.9L1053.1 112.9L1052.8 112.9L1052.5 112.8L1052.2 112.8L1051.8 112.8L1051.5 112.8L1051.2 112.8L1050.8 112.8L1050.5 112.8L1050.2 112.8L1049.9 112.8L1049.5 112.8L1049.2 112.8L1048.9 112.8L1048.5 112.8L1048.2 112.9L1047.9 112.9L1047.5 112.9L1047.2 113.0L1046.9 113.0L1046.5 113.1L1046.2 113.1L1045.9 113.2L1045.5 113.3L1045.2 113.4L1044.9 113.5L1044.5 113.6Z" fill="url(#k17)"/></g><path d="M920.3 115.6A122.3 60.4 0 0 0 1165.0 115.6L1165.0 529.5A122.3 60.4 0 0 0 920.3 529.5Z" fill="#000" fill-opacity="0.085"/><ellipse cx="1042.7" cy="115.6" rx="122.3" ry="60.4" fill="#000" fill-opacity="0.052"/><ellipse cx="1042.7" cy="529.5" rx="122.3" ry="60.4" fill="#000" fill-opacity="0.050"/><g fill="none"><g clip-path="url(#k4)"><path transform="translate(920.8 543.7)rotate(68.5)" d="M-2.1 -.3C-.2 .3 2 -.1 3.8 -.9" stroke="url(#a60)" stroke-width="21.6"/></g><g clip-path="url(#k4)"><path transform="translate(921.4 544.9)rotate(58.3)" d="M-1.9 -.3C-.1 .2 1.9 0 3.7 -.6" stroke="url(#a205)" stroke-width="21.6"/></g><g clip-path="url(#k4)"><path transform="translate(920.3 541.9)rotate(84.0)" d="M-1 -.1C.8 .2 2.6 -.3 4.1 -1.3" stroke="url(#a245)" stroke-width="21.6"/></g><g clip-path="url(#k4)"><path transform="translate(922.3 546.1)rotate(50.4)" d="M-2 -.2C-.2 .2 1.7 0 3.4 -.4" stroke="url(#a135)" stroke-width="21.6"/></g><g clip-path="url(#k4)"><path transform="translate(922.9 546.8)rotate(46.0)" d="M-1.6 -.1C0 .1 1.6 0 3.2 -.3" stroke="url(#a165)" stroke-width="21.6"/></g><g clip-path="url(#k4)"><path transform="translate(923.4 547.3)rotate(43.4)" d="M-1.5 -.1C0 .1 1.4 0 2.9 -.2" stroke="url(#a165)" stroke-width="21.6"/></g><g clip-path="url(#k4)"><path transform="translate(923.8 547.7)rotate(41.4)" d="M-1.5 -.1C-.1 .1 1.3 0 2.7 -.2" stroke="url(#a165)" stroke-width="21.6"/></g><g clip-path="url(#k4)"><path transform="translate(923.5 547.4)rotate(42.4)" d="M-1.3 -.1C.1 .1 1.5 0 2.9 -.2" stroke="url(#a165)" stroke-width="21.6"/></g><g clip-path="url(#k4)"><path transform="translate(924.1 548.0)rotate(39.7)" d="M-1.5 -.1C0 .1 1.5 0 3 -.2" stroke="url(#a200)" stroke-width="21.6"/></g><g clip-path="url(#k4)"><path transform="translate(923.1 547.0)rotate(44.5)" d="M-1.3 -.1C.1 .1 1.5 0 2.8 -.2" stroke="url(#a165)" stroke-width="21.6"/></g><path transform="translate(920.7 439.1)rotate(69.3)" d="M-2.1 -.3C-.2 .3 2 -.1 3.8 -.9" stroke="url(#a55)" stroke-width="21.6"/><g clip-path="url(#k4)"><path transform="translate(925.1 548.7)rotate(36.1)" d="M-2 -.1C-.1 .1 1.8 0 3.7 -.3" stroke="url(#a134)" stroke-width="21.6"/></g><path transform="translate(921.3 440.4)rotate(58.9)" d="M-1.9 -.3C-.1 .2 1.8 0 3.6 -.6" stroke="url(#a276)" stroke-width="21.6"/><path transform="translate(922.2 441.6)rotate(51.0)" d="M-1.9 -.2C-.2 .2 1.6 0 3.4 -.4" stroke="url(#a241)" stroke-width="21.6"/><g clip-path="url(#k1)"><path transform="translate(918.5 567.1)rotate(27.6)" d="M-2.1 -.1C.1 .1 2.4 0 4.6 -.2" stroke="url(#a269)" stroke-width="21.6"/></g><g clip-path="url(#k4)"><path transform="translate(927.4 550.2)rotate(30.0)" d="M-2.7 -.2C-.3 .1 2.1 0 4.4 -.3" stroke="url(#a43)" stroke-width="21.6"/></g><g clip-path="url(#k1)"><path transform="translate(924.3 569.7)rotate(21.1)" d="M-3.8 -.1C-.4 .1 3 0 6.4 -.3" stroke="url(#a96)" stroke-width="21.6"/></g><path transform="translate(1164.9 441.9)rotate(-87.3)" d="M-5.7 -.2C-1.3 .1 3.2 .1 7.6 -.4" stroke="url(#a72)" stroke-width="21.6"/><g clip-path="url(#k4)"><path transform="translate(931.6 552.3)rotate(22.8)" d="M-4 -.2C-.7 .1 2.6 0 5.8 -.3" stroke="url(#a261)" stroke-width="21.6"/></g><path transform="translate(1177.9 451.5)rotate(-90.0)" d="M-5.1 -.2C-.7 .1 3.7 0 8.1 -.4" stroke="url(#a185)" stroke-width="21.6"/><path transform="translate(922.9 442.4)rotate(46.1)" d="M-1.6 -.1C-.1 .1 1.5 0 3 -.3" stroke="url(#a167)" stroke-width="21.6"/><path transform="translate(1164.0 450.0)rotate(-80.6)" d="M-6.2 -.3C-1.6 .1 3 .1 7.6 -.4" stroke="url(#a89)" stroke-width="21.6"/><path transform="translate(1177.1 461.6)rotate(-81.9)" d="M-5.1 -.2C-.9 .1 3.4 0 7.6 -.4" stroke="url(#a187)" stroke-width="21.6"/><g clip-path="url(#k1)"><path transform="translate(933.6 572.7)rotate(14.5)" d="M-5.3 -.2C-.9 .1 3.6 0 8 -.3" stroke="url(#a96)" stroke-width="21.6"/></g><g clip-path="url(#k4)"><path transform="translate(938.7 554.8)rotate(15.7)" d="M-5.5 -.2C-1.1 .1 3.3 0 7.7 -.3" stroke="url(#a261)" stroke-width="21.6"/></g><path transform="translate(907.7 451.8)rotate(75.1)" d="M-1.2 -.1C.6 .2 2.4 -.1 4.1 -.8" stroke="url(#a60)" stroke-width="21.6"/><path transform="translate(923.7 443.2)rotate(41.5)" d="M-1.5 -.1C0 .1 1.5 0 2.9 -.2" stroke="url(#a167)" stroke-width="21.6"/><path transform="translate(1162.1 458.4)rotate(-74.0)" d="M-6.4 -.3C-1.7 .1 3 .1 7.7 -.4" stroke="url(#a217)" stroke-width="21.6"/><path transform="translate(924.2 443.6)rotate(39.5)" d="M-1.6 -.1C0 .1 1.5 0 3 -.2" stroke="url(#a157)" stroke-width="21.6"/><path transform="translate(1174.8 472.1)rotate(-73.8)" d="M-5.7 -.2C-1.1 .1 3.6 .1 8.2 -.4" stroke="url(#a53)" stroke-width="21.6"/><path transform="translate(923.2 442.7)rotate(44.3)" d="M-1.3 -.1C.1 .1 1.5 0 2.8 -.2" stroke="url(#a167)" stroke-width="21.6"/><path transform="translate(908.8 454.3)rotate(59.8)" d="M-1.3 -.1C.4 .1 2.2 -.1 3.9 -.5" stroke="url(#a205)" stroke-width="21.6"/><path transform="translate(1159.2 466.8)rotate(-67.6)" d="M-6.5 -.3C-1.7 .1 3.1 .1 7.9 -.4" stroke="url(#a250)" stroke-width="21.6"/><path transform="translate(923.4 442.9)rotate(43.2)" d="M-1.5 -.1C0 .1 1.4 0 2.9 -.2" stroke="url(#a167)" stroke-width="21.6"/><path transform="translate(910.7 457.0)rotate(47.2)" d="M-1.7 -.1C.2 .1 2.2 -.1 4.1 -.4" stroke="url(#a165)" stroke-width="21.6"/><path transform="translate(947.8 556.9)rotate(10.1)" d="M-4.3 -.1C-.5 .1 3.3 0 7.1 -.2" stroke="url(#a261)" stroke-width="21.6"/><g clip-path="url(#k1)"><path transform="translate(944.6 575.0)rotate(9.3)" d="M-6.9 -.2C-1.6 .1 3.7 0 9 -.2" stroke="url(#a96)" stroke-width="21.6"/></g><path transform="translate(920.4 335.2)rotate(82.0)" d="M-2.7 -.7C-.4 .6 2.4 0 4.5 -1.5" stroke="url(#a60)" stroke-width="21.6"/><path transform="translate(1170.8 483.0)rotate(-66.0)" d="M-5.4 -.2C-.8 .1 3.9 .1 8.5 -.4" stroke="url(#a146)" stroke-width="21.6"/><path transform="translate(1155.3 474.9)rotate(-61.6)" d="M-6.7 -.2C-1.8 .1 3.2 .1 8.1 -.4" stroke="url(#a120)" stroke-width="21.6"/><path transform="translate(913.6 459.5)rotate(37.0)" d="M-2 -.1C.1 .1 2.3 0 4.4 -.3" stroke="url(#a43)" stroke-width="21.6"/><path transform="translate(921.0 337.2)rotate(64.6)" d="M-2.1 -.3C-.2 .3 1.9 -.1 3.8 -.8" stroke="url(#a135)" stroke-width="21.6"/><path transform="translate(957.5 558.2)rotate(6.0)" d="M-4.8 -.1C-.9 .1 3 0 7 -.2" stroke="url(#a261)" stroke-width="21.6"/><path transform="translate(1165.8 492.6)rotate(-59.1)" d="M-5.6 -.2C-1 .1 3.6 0 8.2 -.4" stroke="url(#a194)" stroke-width="21.6"/><g clip-path="url(#k1)"><path transform="translate(955.6 576.4)rotate(5.6)" d="M-7.2 -.1C-1.9 .1 3.4 0 8.7 -.2" stroke="url(#a269)" stroke-width="21.6"/></g><path transform="translate(925.2 444.3)rotate(36.2)" d="M-2 -.1C-.2 .1 1.6 0 3.5 -.2" stroke="url(#a271)" stroke-width="21.6"/><path transform="translate(1150.5 482.9)rotate(-56.1)" d="M-6.9 -.2C-1.9 .1 3.2 .1 8.3 -.4" stroke="url(#a280)" stroke-width="21.6"/><path transform="translate(921.7 338.5)rotate(55.4)" d="M-2 -.2C-.2 .2 1.8 0 3.6 -.5" stroke="url(#a1)" stroke-width="21.6"/><path transform="translate(917.8 462.3)rotate(28.6)" d="M-2.6 -.1C0 .1 2.6 0 5.2 -.3" stroke="url(#a261)" stroke-width="21.6"/><path transform="translate(1159.5 502.0)rotate(-53.1)" d="M-5.2 -.1C-.8 .1 3.6 0 8 -.3" stroke="url(#a20)" stroke-width="21.6"/><path transform="translate(922.4 339.4)rotate(48.8)" d="M-1.8 -.2C-.1 .2 1.7 0 3.5 -.4" stroke="url(#a281)" stroke-width="21.6"/><path transform="translate(966.8 558.9)rotate(2.6)" d="M-4.3 -.1C-.5 0 3.2 0 7 -.1" stroke="url(#a261)" stroke-width="21.6"/><path transform="translate(1144.7 490.7)rotate(-51.1)" d="M-6.6 -.2C-1.7 .1 3.2 .1 8.1 -.3" stroke="url(#a219)" stroke-width="21.6"/><path transform="translate(927.3 445.7)rotate(30.3)" d="M-2.7 -.2C-.3 .1 2.1 0 4.4 -.3" stroke="url(#a96)" stroke-width="21.6"/><g clip-path="url(#k1)"><path transform="translate(966.0 577.2)rotate(2.5)" d="M-7.2 -.1C-1.7 .1 3.8 0 9.3 -.2" stroke="url(#a269)" stroke-width="21.6"/></g><path transform="translate(1152.3 510.6)rotate(-47.8)" d="M-5.4 -.1C-.9 .1 3.7 0 8.3 -.3" stroke="url(#a248)" stroke-width="21.6"/><path transform="translate(1138.5 497.7)rotate(-46.6)" d="M-6.8 -.2C-1.8 .1 3.3 .1 8.3 -.3" stroke="url(#a170)" stroke-width="21.6"/><path transform="translate(976.5 559.1)rotate(-0.2)" d="M-4.6 -.1C-.6 0 3.5 0 7.5 -.1" stroke="url(#a183)" stroke-width="21.6"/><path transform="translate(976.6 577.4)rotate(-0.2)" d="M-7.1 -.1C-1.7 .1 3.8 0 9.2 -.2" stroke="url(#a3)" stroke-width="21.6"/><path transform="translate(924.1 465.2)rotate(21.3)" d="M-3.8 -.1C-.4 .1 3 0 6.4 -.3" stroke="url(#a261)" stroke-width="21.6"/><path transform="translate(924.1 341.0)rotate(40.1)" d="M-1.5 -.1C0 .1 1.5 0 3 -.2" stroke="url(#a106)" stroke-width="21.6"/><path transform="translate(1164.9 337.8)rotate(-87.0)" d="M-5.7 -.2C-1.3 .1 3.2 .1 7.6 -.4" stroke="url(#a185)" stroke-width="21.6"/><path transform="translate(1131.6 504.5)rotate(-42.5)" d="M-4.7 -.1C-.6 .1 3.4 0 7.4 -.2" stroke="url(#a264)" stroke-width="21.6"/><path transform="translate(1144.6 518.4)rotate(-43.1)" d="M-8.1 -.2C-2.4 .1 3.4 .1 9.1 -.3" stroke="url(#a291)" stroke-width="21.6"/><path transform="translate(931.5 447.8)rotate(23.0)" d="M-4 -.2C-.7 .1 2.6 0 5.8 -.3" stroke="url(#a224)" stroke-width="21.6"/><path transform="translate(986.7 558.9)rotate(-2.7)" d="M-4.9 -.1C-.8 0 3.2 0 7.3 -.1" stroke="url(#a183)" stroke-width="21.6"/><path transform="translate(1177.9 347.3)rotate(-89.7)" d="M-5.1 -.2C-.7 .1 3.7 0 8.1 -.4" stroke="url(#a72)" stroke-width="21.6"/><path transform="translate(987.0 577.1)rotate(-2.5)" d="M-7.4 -.1C-1.8 .1 3.9 0 9.6 -.2" stroke="url(#a3)" stroke-width="21.6"/><path transform="translate(923.1 340.1)rotate(45.3)" d="M-1.4 -.1C0 .1 1.4 0 2.8 -.2" stroke="url(#a215)" stroke-width="21.6"/><path transform="translate(1124.4 510.6)rotate(-38.8)" d="M-4.8 -.1C-.8 0 3.1 0 7.1 -.2" stroke="url(#a290)" stroke-width="21.6"/><path transform="translate(996.3 558.2)rotate(-5.1)" d="M-4.6 0C-.5 0 3.6 0 7.6 -.1" stroke="url(#a134)" stroke-width="21.6"/><path transform="translate(1136.1 525.8)rotate(-39.0)" d="M-7.7 -.2C-2 .1 3.7 .1 9.5 -.3" stroke="url(#a210)" stroke-width="21.6"/><path transform="translate(1164.0 345.8)rotate(-80.4)" d="M-6.2 -.3C-1.6 .1 3 .1 7.6 -.4" stroke="url(#a187)" stroke-width="21.6"/><path transform="translate(997.9 576.4)rotate(-4.8)" d="M-7.7 -.1C-1.8 .1 4 0 9.9 -.2" stroke="url(#a196)" stroke-width="21.6"/><path transform="translate(1116.8 516.4)rotate(-35.4)" d="M-4.9 -.1C-.9 0 3.2 0 7.2 -.2" stroke="url(#a254)" stroke-width="21.6"/><path transform="translate(907.5 347.6)rotate(86.9)" d="M-1.2 -.1C.6 .2 2.4 -.2 4 -.9" stroke="url(#a221)" stroke-width="21.6"/><path transform="translate(1006.3 557.2)rotate(-7.2)" d="M-4.8 0C-.7 0 3.3 0 7.3 -.1" stroke="url(#a200)" stroke-width="21.6"/><path transform="translate(1127.8 532.0)rotate(-35.4)" d="M-7.9 -.2C-2.3 .1 3.4 .1 9.1 -.2" stroke="url(#a59)" stroke-width="21.6"/><path transform="translate(1177.1 357.5)rotate(-81.6)" d="M-5.1 -.2C-.9 .1 3.4 0 7.6 -.4" stroke="url(#a89)" stroke-width="21.6"/><path transform="translate(1108.6 521.9)rotate(-32.3)" d="M-5 -.1C-.9 0 3.3 0 7.4 -.1" stroke="url(#a35)" stroke-width="21.6"/><path transform="translate(933.3 468.1)rotate(14.7)" d="M-5.2 -.2C-.8 .1 3.6 0 7.9 -.3" stroke="url(#a261)" stroke-width="21.6"/><path transform="translate(1008.4 575.4)rotate(-7.0)" d="M-7.3 -.1C-1.7 0 3.9 0 9.5 -.1" stroke="url(#a174)" stroke-width="21.6"/><path transform="translate(1015.9 555.8)rotate(-9.4)" d="M-4.9 -.1C-.6 0 3.8 0 8.1 -.1" stroke="url(#a200)" stroke-width="21.6"/><path transform="translate(938.5 450.3)rotate(15.9)" d="M-5.4 -.2C-1.1 .1 3.3 0 7.7 -.3" stroke="url(#a272)" stroke-width="21.6"/><path transform="translate(923.3 340.3)rotate(43.5)" d="M-1.3 -.1C.1 .1 1.5 0 2.9 -.2" stroke="url(#a215)" stroke-width="21.6"/><path transform="translate(907.9 350.0)rotate(70.6)" d="M-1.2 -.1C.5 .2 2.3 -.1 4 -.7" stroke="url(#a55)" stroke-width="21.6"/><path transform="translate(1119.0 537.9)rotate(-32.2)" d="M-8.1 -.2C-2.3 .1 3.5 .1 9.3 -.2" stroke="url(#a168)" stroke-width="21.6"/><path transform="translate(923.8 340.7)rotate(41.4)" d="M-1.3 -.1C0 .1 1.4 0 2.7 -.2" stroke="url(#a106)" stroke-width="21.6"/><path transform="translate(1100.0 527.0)rotate(-29.4)" d="M-5.1 -.1C-.9 0 3.3 0 7.5 -.1" stroke="url(#a35)" stroke-width="21.6"/><path transform="translate(1162.0 354.3)rotate(-73.9)" d="M-5.9 -.2C-1.4 .1 3.2 .1 7.7 -.4" stroke="url(#a53)" stroke-width="21.6"/><path transform="translate(924.5 341.4)rotate(38.5)" d="M-1.6 -.1C-.1 .1 1.4 0 2.9 -.2" stroke="url(#a106)" stroke-width="21.6"/><path transform="translate(1026.3 553.8)rotate(-11.5)" d="M-5 0C-.8 0 3.4 0 7.6 -.1" stroke="url(#a129)" stroke-width="21.6"/><path transform="translate(923.6 340.6)rotate(42.4)" d="M-1.5 -.1C0 .1 1.5 0 2.9 -.2" stroke="url(#a215)" stroke-width="21.6"/><path transform="translate(1019.2 573.9)rotate(-9.0)" d="M-8.2 -.1C-2.2 .1 3.7 0 9.7 -.2" stroke="url(#a142)" stroke-width="21.6"/><path transform="translate(1091.0 531.8)rotate(-26.8)" d="M-4.5 -.1C-.4 0 3.6 0 7.7 -.1" stroke="url(#a24)" stroke-width="21.6"/><path transform="translate(1109.6 543.5)rotate(-29.2)" d="M-8.3 -.2C-2.3 .1 3.6 .1 9.5 -.2" stroke="url(#a108)" stroke-width="21.6"/><path transform="translate(1035.6 551.8)rotate(-13.5)" d="M-4.5 0C-.4 0 3.7 0 7.7 -.1" stroke="url(#a129)" stroke-width="21.6"/><path transform="translate(1082.3 536.0)rotate(-24.4)" d="M-4.5 0C-.4 0 3.6 0 7.7 -.1" stroke="url(#a229)" stroke-width="21.6"/><path transform="translate(1045.6 549.2)rotate(-15.6)" d="M-5.2 0C-.8 0 3.5 0 7.8 -.1" stroke="url(#a251)" stroke-width="21.6"/><path transform="translate(1174.7 368.0)rotate(-73.6)" d="M-5.8 -.2C-1.1 .1 3.6 .1 8.2 -.4" stroke="url(#a19)" stroke-width="21.6"/><path transform="translate(923.2 340.2)rotate(44.2)" d="M-1.3 -.1C.1 .1 1.5 0 2.8 -.2" stroke="url(#a215)" stroke-width="21.6"/><path transform="translate(1030.1 571.9)rotate(-11.1)" d="M-8.3 -.1C-2.3 .1 3.8 0 9.8 -.2" stroke="url(#a128)" stroke-width="21.6"/><path transform="translate(909.2 352.6)rotate(56.5)" d="M-1.4 -.1C.4 .1 2.2 -.1 3.9 -.5" stroke="url(#a67)" stroke-width="21.6"/><path transform="translate(1073.3 539.8)rotate(-22.1)" d="M-4.6 0C-.4 0 3.7 0 7.8 -.1" stroke="url(#a6)" stroke-width="21.6"/><path transform="translate(1099.9 548.6)rotate(-26.5)" d="M-7.7 -.1C-1.9 .1 3.9 0 9.7 -.2" stroke="url(#a108)" stroke-width="21.6"/><path transform="translate(1054.9 546.4)rotate(-17.7)" d="M-4.5 0C-.4 0 3.7 0 7.8 -.1" stroke="url(#a64)" stroke-width="21.6"/><path transform="translate(1064.2 543.3)rotate(-19.9)" d="M-4.6 0C-.4 0 3.7 0 7.8 -.1" stroke="url(#a172)" stroke-width="21.6"/><path transform="translate(1040.4 569.7)rotate(-13.1)" d="M-7.7 -.1C-2.1 0 3.6 0 9.2 -.1" stroke="url(#a92)" stroke-width="21.6"/><path transform="translate(1090.3 553.1)rotate(-24.0)" d="M-7.8 -.1C-1.9 .1 4 0 9.8 -.2" stroke="url(#a108)" stroke-width="21.6"/><path transform="translate(1050.1 567.3)rotate(-15.1)" d="M-7.8 -.1C-1.9 .1 4.1 0 10 -.2" stroke="url(#a11)" stroke-width="21.6"/><path transform="translate(1080.5 557.2)rotate(-21.7)" d="M-7.8 -.1C-1.9 .1 4 0 9.9 -.2" stroke="url(#a111)" stroke-width="21.6"/><path transform="translate(1159.1 362.6)rotate(-67.6)" d="M-6.5 -.3C-1.6 .1 3.4 .1 8.3 -.4" stroke="url(#a146)" stroke-width="21.6"/><path transform="translate(1060.3 564.3)rotate(-17.2)" d="M-7.9 -.1C-1.9 .1 4.1 0 10 -.2" stroke="url(#a150)" stroke-width="21.6"/><path transform="translate(1070.5 561.0)rotate(-19.4)" d="M-7.9 -.1C-1.9 .1 4 0 10 -.2" stroke="url(#a113)" stroke-width="21.6"/><path transform="translate(947.5 452.4)rotate(10.2)" d="M-4.2 -.1C-.5 .1 3.3 0 7.1 -.2" stroke="url(#a224)" stroke-width="21.6"/><path transform="translate(944.3 470.5)rotate(9.5)" d="M-6.9 -.2C-1.6 .1 3.7 0 9 -.2" stroke="url(#a261)" stroke-width="21.6"/><path transform="translate(911.2 355.0)rotate(45.0)" d="M-1.8 -.1C.1 .1 2.1 0 3.9 -.3" stroke="url(#a157)" stroke-width="21.6"/><path transform="translate(920.4 230.8)rotate(81.6)" d="M-2.7 -.7C-.5 .5 2.3 0 4.4 -1.4" stroke="url(#a55)" stroke-width="21.6"/><path transform="translate(1170.7 378.9)rotate(-65.8)" d="M-5.4 -.2C-.8 .1 3.9 .1 8.5 -.4" stroke="url(#a225)" stroke-width="21.6"/><path transform="translate(1155.1 370.8)rotate(-61.4)" d="M-6.7 -.2C-1.8 .1 3.2 .1 8.1 -.4" stroke="url(#a146)" stroke-width="21.6"/><path transform="translate(914.3 357.6)rotate(35.3)" d="M-2 -.1C.2 .1 2.4 0 4.6 -.3" stroke="url(#a224)" stroke-width="21.6"/><path transform="translate(921.0 232.8)rotate(64.2)" d="M-2.1 -.3C-.2 .3 1.9 -.1 3.8 -.8" stroke="url(#a95)" stroke-width="21.6"/><path transform="translate(957.2 453.7)rotate(6.1)" d="M-4.8 -.1C-.9 .1 3 0 7 -.2" stroke="url(#a224)" stroke-width="21.6"/><path transform="translate(1165.6 388.5)rotate(-58.9)" d="M-5.6 -.2C-1 .1 3.6 0 8.2 -.3" stroke="url(#a100)" stroke-width="21.6"/><path transform="translate(955.3 471.9)rotate(5.7)" d="M-7.2 -.1C-1.9 .1 3.4 0 8.7 -.2" stroke="url(#a261)" stroke-width="21.6"/><path transform="translate(925.5 342.1)rotate(35.0)" d="M-2.3 -.1C-.3 .1 1.6 0 3.5 -.2" stroke="url(#a14)" stroke-width="21.6"/><path transform="translate(1150.3 378.8)rotate(-55.9)" d="M-6.9 -.2C-1.9 .1 3.2 .1 8.3 -.4" stroke="url(#a194)" stroke-width="21.6"/><path transform="translate(921.7 234.1)rotate(55.1)" d="M-1.9 -.2C-.1 .2 1.7 0 3.4 -.5" stroke="url(#a78)" stroke-width="21.6"/><path transform="translate(919.0 360.4)rotate(27.2)" d="M-3 -.1C-.2 .1 2.6 0 5.3 -.3" stroke="url(#a272)" stroke-width="21.6"/><path transform="translate(966.5 454.5)rotate(2.7)" d="M-4.3 -.1C-.5 0 3.2 0 7 -.1" stroke="url(#a96)" stroke-width="21.6"/><path transform="translate(1159.2 397.9)rotate(-52.9)" d="M-5.2 -.1C-.8 .1 3.6 0 8 -.3" stroke="url(#a29)" stroke-width="21.6"/><path transform="translate(922.5 235.0)rotate(48.5)" d="M-1.8 -.2C-.1 .2 1.7 0 3.5 -.4" stroke="url(#a124)" stroke-width="21.6"/><path transform="translate(1144.5 386.5)rotate(-50.9)" d="M-6.6 -.2C-1.7 .1 3.2 .1 8.1 -.3" stroke="url(#a278)" stroke-width="21.6"/><path transform="translate(965.7 472.7)rotate(2.6)" d="M-7.2 -.1C-1.7 .1 3.8 0 9.3 -.2" stroke="url(#a43)" stroke-width="21.6"/><path transform="translate(927.9 343.6)rotate(28.8)" d="M-2.8 -.1C-.4 .1 2.1 0 4.5 -.3" stroke="url(#a14)" stroke-width="21.6"/><path transform="translate(1152.1 406.4)rotate(-47.6)" d="M-5.4 -.1C-.9 .1 3.7 0 8.3 -.3" stroke="url(#a219)" stroke-width="21.6"/><path transform="translate(976.1 454.7)rotate(-0.1)" d="M-4.6 -.1C-.6 0 3.4 0 7.5 -.1" stroke="url(#a271)" stroke-width="21.6"/><path transform="translate(1138.3 393.6)rotate(-46.4)" d="M-6.8 -.2C-1.8 .1 3.3 .1 8.3 -.3" stroke="url(#a126)" stroke-width="21.6"/><path transform="translate(924.1 236.6)rotate(40.2)" d="M-1.5 -.1C-.1 .1 1.4 0 2.8 -.2" stroke="url(#a177)" stroke-width="21.6"/><path transform="translate(1165.0 233.3)rotate(-88.4)" d="M-6.2 -.3C-1.6 .1 3 .1 7.6 -.4" stroke="url(#a242)" stroke-width="21.6"/><path transform="translate(976.2 472.9)rotate(-0.1)" d="M-7.1 -.1C-1.7 .1 3.8 0 9.2 -.2" stroke="url(#a183)" stroke-width="21.6"/><path transform="translate(925.8 363.4)rotate(19.9)" d="M-4.2 -.1C-.6 .1 3 0 6.6 -.3" stroke="url(#a272)" stroke-width="21.6"/><path transform="translate(1131.3 400.3)rotate(-42.3)" d="M-4.7 -.1C-.6 .1 3.4 0 7.4 -.2" stroke="url(#a98)" stroke-width="21.6"/><path transform="translate(985.8 454.5)rotate(-2.6)" d="M-4.4 0C-.5 0 3.4 0 7.3 -.1" stroke="url(#a269)" stroke-width="21.6"/><path transform="translate(1144.3 414.2)rotate(-42.9)" d="M-8.1 -.2C-2.4 .1 3.4 .1 9.2 -.3" stroke="url(#a23)" stroke-width="21.6"/><path transform="translate(932.6 345.8)rotate(21.8)" d="M-4.4 -.2C-.9 .1 2.5 0 6 -.3" stroke="url(#a84)" stroke-width="21.6"/><path transform="translate(986.6 472.7)rotate(-2.5)" d="M-7.4 -.1C-1.8 .1 3.9 0 9.6 -.2" stroke="url(#a134)" stroke-width="21.6"/><path transform="translate(923.0 235.5)rotate(45.4)" d="M-1.4 -.1C0 .1 1.5 0 3 -.3" stroke="url(#a37)" stroke-width="21.6"/><path transform="translate(1164.3 241.4)rotate(-81.9)" d="M-5.7 -.2C-1.5 .1 2.9 .1 7.1 -.4" stroke="url(#a89)" stroke-width="21.6"/><path transform="translate(1124.1 406.4)rotate(-38.6)" d="M-4.8 -.1C-.8 0 3.1 0 7.1 -.2" stroke="url(#a49)" stroke-width="21.6"/><path transform="translate(996.0 453.8)rotate(-4.9)" d="M-5.1 -.1C-.9 0 3.4 0 7.6 -.1" stroke="url(#a196)" stroke-width="21.6"/><path transform="translate(1135.8 421.6)rotate(-38.8)" d="M-7.8 -.2C-2 .1 3.7 .1 9.5 -.3" stroke="url(#a70)" stroke-width="21.6"/><path transform="translate(1177.4 252.4)rotate(-83.8)" d="M-5.1 -.2C-.7 .1 3.7 .1 8.1 -.4" stroke="url(#a187)" stroke-width="21.6"/><path transform="translate(997.5 472.0)rotate(-4.8)" d="M-7.7 -.1C-1.8 .1 4 0 9.9 -.2" stroke="url(#a134)" stroke-width="21.6"/><path transform="translate(1116.4 412.2)rotate(-35.3)" d="M-4.9 -.1C-.9 0 3.2 0 7.2 -.2" stroke="url(#a256)" stroke-width="21.6"/><path transform="translate(907.5 243.2)rotate(85.9)" d="M-1 -.1C.7 .2 2.4 -.2 4 -.9" stroke="url(#a105)" stroke-width="21.6"/><path transform="translate(1005.9 452.8)rotate(-7.1)" d="M-4.8 0C-.7 0 3.3 0 7.3 -.1" stroke="url(#a174)" stroke-width="21.6"/><path transform="translate(1127.5 427.8)rotate(-35.3)" d="M-8 -.2C-2.3 .1 3.4 .1 9.1 -.2" stroke="url(#a76)" stroke-width="21.6"/><path transform="translate(923.8 236.3)rotate(41.1)" d="M-1.3 -.1C0 .1 1.4 0 2.7 -.2" stroke="url(#a206)" stroke-width="21.6"/><path transform="translate(1162.7 249.4)rotate(-75.6)" d="M-6.3 -.3C-1.7 .1 3 .1 7.7 -.4" stroke="url(#a217)" stroke-width="21.6"/><path transform="translate(1108.2 417.7)rotate(-32.2)" d="M-5 -.1C-.9 0 3.3 0 7.4 -.1" stroke="url(#a32)" stroke-width="21.6"/><path transform="translate(1008.0 471.0)rotate(-6.9)" d="M-7.3 -.1C-1.7 0 3.9 0 9.5 -.1" stroke="url(#a200)" stroke-width="21.6"/><path transform="translate(1015.5 451.4)rotate(-9.3)" d="M-4.9 -.1C-.6 0 3.8 0 8.1 -.1" stroke="url(#a142)" stroke-width="21.6"/><path transform="translate(923.1 235.7)rotate(44.6)" d="M-1.3 -.1C.1 .1 1.5 0 2.8 -.2" stroke="url(#a37)" stroke-width="21.6"/><path transform="translate(923.4 235.9)rotate(43.2)" d="M-1.3 -.1C.1 .1 1.5 0 2.9 -.2" stroke="url(#a206)" stroke-width="21.6"/><path transform="translate(935.4 366.2)rotate(13.6)" d="M-5.4 -.1C-1 .1 3.3 0 7.7 -.2" stroke="url(#a272)" stroke-width="21.6"/><path transform="translate(1118.6 433.7)rotate(-32.1)" d="M-8.1 -.2C-2.3 .1 3.5 .1 9.3 -.2" stroke="url(#a137)" stroke-width="21.6"/><path transform="translate(907.9 245.6)rotate(70.2)" d="M-1.2 -.1C.5 .2 2.3 -.1 4 -.7" stroke="url(#a213)" stroke-width="21.6"/><path transform="translate(939.9 348.2)rotate(14.8)" d="M-5.6 -.2C-1.1 .1 3.4 0 7.9 -.3" stroke="url(#a84)" stroke-width="21.6"/><path transform="translate(1099.6 422.8)rotate(-29.3)" d="M-5.1 -.1C-.9 0 3.3 0 7.5 -.1" stroke="url(#a143)" stroke-width="21.6"/><path transform="translate(923.2 235.8)rotate(43.9)" d="M-1.3 -.1C.1 .1 1.5 0 2.8 -.2" stroke="url(#a37)" stroke-width="21.6"/><path transform="translate(1025.9 449.5)rotate(-11.4)" d="M-5 0C-.8 0 3.4 0 7.6 -.1" stroke="url(#a216)" stroke-width="21.6"/><path transform="translate(1175.4 263.0)rotate(-75.7)" d="M-5.2 -.2C-.7 .1 3.8 .1 8.2 -.4" stroke="url(#a53)" stroke-width="21.6"/><path transform="translate(924.4 236.9)rotate(38.6)" d="M-1.6 -.1C0 .1 1.5 0 3.1 -.2" stroke="url(#a177)" stroke-width="21.6"/><path transform="translate(923.7 236.2)rotate(42.2)" d="M-1.5 -.1C0 .1 1.5 0 2.9 -.2" stroke="url(#a206)" stroke-width="21.6"/><path transform="translate(1018.7 469.5)rotate(-8.9)" d="M-8.2 -.1C-2.2 .1 3.7 0 9.7 -.2" stroke="url(#a200)" stroke-width="21.6"/><path transform="translate(1090.6 427.6)rotate(-26.7)" d="M-4.5 -.1C-.4 0 3.6 0 7.7 -.1" stroke="url(#a168)" stroke-width="21.6"/><path transform="translate(1109.2 439.3)rotate(-29.1)" d="M-8.3 -.2C-2.4 .1 3.6 .1 9.5 -.2" stroke="url(#a35)" stroke-width="21.6"/><path transform="translate(1035.2 447.4)rotate(-13.5)" d="M-4.5 0C-.4 0 3.7 0 7.7 -.1" stroke="url(#a128)" stroke-width="21.6"/><path transform="translate(1081.9 431.7)rotate(-24.3)" d="M-4.5 0C-.4 0 3.6 0 7.7 -.1" stroke="url(#a0)" stroke-width="21.6"/><path transform="translate(1045.2 444.9)rotate(-15.5)" d="M-5.2 0C-.8 0 3.5 0 7.8 -.1" stroke="url(#a92)" stroke-width="21.6"/><path transform="translate(1029.7 467.6)rotate(-11.1)" d="M-8.3 -.1C-2.3 .1 3.8 0 9.8 -.2" stroke="url(#a129)" stroke-width="21.6"/><path transform="translate(1072.9 435.5)rotate(-22.0)" d="M-4.6 0C-.4 0 3.7 0 7.8 -.1" stroke="url(#a61)" stroke-width="21.6"/><path transform="translate(909.2 248.2)rotate(55.8)" d="M-1.4 -.1C.4 .1 2.2 -.1 3.9 -.5" stroke="url(#a215)" stroke-width="21.6"/><path transform="translate(1054.5 442.1)rotate(-17.6)" d="M-4.5 0C-.4 0 3.7 0 7.8 -.1" stroke="url(#a158)" stroke-width="21.6"/><path transform="translate(1099.4 444.4)rotate(-26.4)" d="M-7.7 -.1C-1.9 .1 3.9 0 9.7 -.2" stroke="url(#a176)" stroke-width="21.6"/><path transform="translate(1063.8 439.0)rotate(-19.8)" d="M-4.6 0C-.4 0 3.7 0 7.8 -.1" stroke="url(#a93)" stroke-width="21.6"/><path transform="translate(1160.0 257.8)rotate(-69.2)" d="M-6.5 -.3C-1.7 .1 3.1 .1 7.8 -.4" stroke="url(#a19)" stroke-width="21.6"/><path transform="translate(1040.0 465.4)rotate(-13.1)" d="M-7.7 -.1C-2.1 0 3.6 0 9.2 -.1" stroke="url(#a251)" stroke-width="21.6"/><path transform="translate(1089.9 448.9)rotate(-23.9)" d="M-7.8 -.1C-1.9 .1 4 0 9.8 -.2" stroke="url(#a24)" stroke-width="21.6"/><path transform="translate(1049.6 463.0)rotate(-15.0)" d="M-7.8 -.1C-1.9 .1 4.1 0 10 -.2" stroke="url(#a64)" stroke-width="21.6"/><path transform="translate(1080.1 453.0)rotate(-21.6)" d="M-7.8 -.1C-1.9 .1 4 0 9.9 -.2" stroke="url(#a42)" stroke-width="21.6"/><path transform="translate(1059.9 460.0)rotate(-17.1)" d="M-7.9 -.1C-1.9 .1 4.1 0 10 -.2" stroke="url(#a172)" stroke-width="21.6"/><path transform="translate(1070.1 456.7)rotate(-19.3)" d="M-7.9 -.1C-1.9 .1 4 0 10 -.2" stroke="url(#a6)" stroke-width="21.6"/><path transform="translate(1172.0 273.4)rotate(-67.8)" d="M-5.9 -.2C-1.1 .1 3.6 .1 8.4 -.4" stroke="url(#a239)" stroke-width="21.6"/><path transform="translate(911.3 250.6)rotate(44.4)" d="M-1.6 -.1C.3 .1 2.1 0 3.9 -.3" stroke="url(#a14)" stroke-width="21.6"/><path transform="translate(949.2 350.2)rotate(9.4)" d="M-4.3 -.1C-.6 .1 3.1 0 6.8 -.2" stroke="url(#a84)" stroke-width="21.6"/><path transform="translate(946.3 368.3)rotate(8.7)" d="M-7.1 -.2C-1.7 .1 3.8 0 9.2 -.2" stroke="url(#a272)" stroke-width="21.6"/><path transform="translate(1156.1 266.5)rotate(-62.9)" d="M-6.7 -.3C-1.6 .1 3.5 .1 8.5 -.4" stroke="url(#a225)" stroke-width="21.6"/><path transform="translate(920.5 129.0)rotate(75.7)" d="M-2.5 -.5C-.3 .4 2.1 -.1 4.1 -1.1" stroke="url(#a81)" stroke-width="21.6"/><path transform="translate(1167.0 283.6)rotate(-60.6)" d="M-5.5 -.2C-1 .1 3.6 0 8.1 -.4" stroke="url(#a275)" stroke-width="21.6"/><path transform="translate(914.3 253.2)rotate(35.2)" d="M-2.1 -.1C.2 .1 2.4 0 4.6 -.3" stroke="url(#a270)" stroke-width="21.6"/><g clip-path="url(#k3)"><path transform="translate(921.1 130.5)rotate(62.4)" d="M-1.9 -.3C0 .3 1.9 -.1 3.7 -.7" stroke="url(#a270)" stroke-width="21.6"/></g><path transform="translate(1151.5 274.5)rotate(-57.3)" d="M-6.4 -.2C-1.5 .1 3.4 .1 8.3 -.3" stroke="url(#a100)" stroke-width="21.6"/><path transform="translate(959.0 351.5)rotate(5.4)" d="M-4.9 -.1C-.9 .1 3.1 0 7.1 -.2" stroke="url(#a14)" stroke-width="21.6"/><path transform="translate(957.5 369.7)rotate(5.0)" d="M-7.3 -.1C-1.9 .1 3.5 0 8.8 -.2" stroke="url(#a224)" stroke-width="21.6"/><path transform="translate(925.6 237.7)rotate(34.8)" d="M-2.3 -.1C-.3 .1 1.6 0 3.6 -.2" stroke="url(#a177)" stroke-width="21.6"/><g clip-path="url(#k3)"><path transform="translate(921.9 131.8)rotate(54.0)" d="M-1.9 -.2C-.1 .2 1.7 0 3.5 -.5" stroke="url(#a266)" stroke-width="21.6"/></g><path transform="translate(1161.0 293.0)rotate(-54.5)" d="M-5.2 -.1C-.8 .1 3.5 0 7.9 -.3" stroke="url(#a194)" stroke-width="21.6"/><path transform="translate(1146.2 281.9)rotate(-52.3)" d="M-6.6 -.2C-1.7 .1 3.2 .1 8 -.3" stroke="url(#a162)" stroke-width="21.6"/><path transform="translate(919.1 256.0)rotate(27.1)" d="M-3 -.1C-.2 .1 2.6 0 5.3 -.3" stroke="url(#a209)" stroke-width="21.6"/><path transform="translate(969.0 352.1)rotate(2.0)" d="M-4.9 -.1C-.9 0 3.1 0 7.1 -.1" stroke="url(#a106)" stroke-width="21.6"/><path transform="translate(968.0 370.3)rotate(2.0)" d="M-7.3 -.1C-1.7 .1 3.9 0 9.4 -.2" stroke="url(#a96)" stroke-width="21.6"/><path transform="translate(928.0 239.2)rotate(28.7)" d="M-2.8 -.1C-.4 .1 2.1 0 4.6 -.3" stroke="url(#a38)" stroke-width="21.6"/><path transform="translate(1154.1 301.7)rotate(-49.0)" d="M-5.4 -.1C-.9 .1 3.7 0 8.2 -.3" stroke="url(#a20)" stroke-width="21.6"/><path transform="translate(1140.2 289.0)rotate(-47.7)" d="M-6.8 -.2C-1.8 .1 3.3 .1 8.2 -.3" stroke="url(#a280)" stroke-width="21.6"/><path transform="translate(978.8 352.2)rotate(-0.7)" d="M-4.7 -.1C-.8 0 3.1 0 7 -.1" stroke="url(#a215)" stroke-width="21.6"/><g clip-path="url(#k9)"><path transform="translate(1165.0 128.3)rotate(-88.9)" d="M-6.2 -.3C-1.6 .1 3 .1 7.6 -.4" stroke="url(#a171)" stroke-width="21.6"/></g><path transform="translate(978.7 370.5)rotate(-0.7)" d="M-7.2 -.1C-1.7 .1 3.8 0 9.3 -.2" stroke="url(#a271)" stroke-width="21.6"/><path transform="translate(1146.6 309.6)rotate(-44.3)" d="M-4.9 -.1C-.7 .1 3.6 0 7.9 -.2" stroke="url(#a66)" stroke-width="21.6"/><path transform="translate(1133.5 295.8)rotate(-43.5)" d="M-7 -.2C-1.8 .1 3.4 .1 8.5 -.3" stroke="url(#a238)" stroke-width="21.6"/><path transform="translate(926.0 259.0)rotate(19.7)" d="M-4.3 -.1C-.5 .1 3.3 0 7.1 -.3" stroke="url(#a209)" stroke-width="21.6"/><path transform="translate(988.6 351.9)rotate(-3.2)" d="M-5 -.1C-.9 0 3.3 0 7.4 -.1" stroke="url(#a43)" stroke-width="21.6"/><g clip-path="url(#k3)"><path transform="translate(922.6 132.7)rotate(47.6)" d="M-1.9 -.2C-.1 .2 1.8 0 3.5 -.4" stroke="url(#a288)" stroke-width="21.6"/></g><path transform="translate(932.7 241.4)rotate(21.5)" d="M-4.4 -.2C-.8 .1 2.8 0 6.3 -.3" stroke="url(#a38)" stroke-width="21.6"/><path transform="translate(1126.5 302.0)rotate(-39.7)" d="M-4.7 -.1C-.8 0 3.1 0 7 -.2" stroke="url(#a243)" stroke-width="21.6"/><path transform="translate(1138.8 316.7)rotate(-40.1)" d="M-8.3 -.2C-2.4 .1 3.5 .1 9.4 -.3" stroke="url(#a291)" stroke-width="21.6"/><path transform="translate(989.2 370.1)rotate(-3.0)" d="M-7.5 -.1C-1.8 .1 3.9 0 9.7 -.2" stroke="url(#a157)" stroke-width="21.6"/><path transform="translate(1164.4 136.3)rotate(-82.4)" d="M-5.7 -.2C-1.5 .1 2.8 .1 7.1 -.4" stroke="url(#a171)" stroke-width="21.6"/><path transform="translate(998.3 351.1)rotate(-5.5)" d="M-4.6 0C-.5 0 3.6 0 7.7 -.1" stroke="url(#a134)" stroke-width="21.6"/><path transform="translate(1177.5 147.3)rotate(-84.3)" d="M-5.1 -.2C-.7 .1 3.7 .1 8.1 -.4" stroke="url(#a175)" stroke-width="21.6"/><path transform="translate(1119.0 307.9)rotate(-36.3)" d="M-4.9 -.1C-.8 0 3.2 0 7.2 -.2" stroke="url(#a231)" stroke-width="21.6"/><path transform="translate(1130.2 323.4)rotate(-36.4)" d="M-7.9 -.2C-2.3 .1 3.4 .1 9 -.2" stroke="url(#a210)" stroke-width="21.6"/><path transform="translate(1000.2 369.3)rotate(-5.2)" d="M-7.8 -.1C-2.1 .1 3.6 0 9.3 -.2" stroke="url(#a174)" stroke-width="21.6"/><path transform="translate(907.5 141.3)rotate(82.9)" d="M-1.2 -.1C.5 .2 2.3 -.2 3.9 -.8" stroke="url(#a286)" stroke-width="21.6"/><path transform="translate(1008.4 350.0)rotate(-7.7)" d="M-4.8 0C-.8 0 3.3 0 7.3 -.1" stroke="url(#a165)" stroke-width="21.6"/><path transform="translate(1110.9 313.5)rotate(-33.2)" d="M-5 -.1C-.9 0 3.2 0 7.4 -.1" stroke="url(#a25)" stroke-width="21.6"/><g clip-path="url(#k3)"><path transform="translate(923.5 133.6)rotate(42.8)" d="M-1.5 -.1C0 .1 1.5 0 2.9 -.2" stroke="url(#a188)" stroke-width="21.6"/></g><path transform="translate(1162.8 144.3)rotate(-76.1)" d="M-6.3 -.3C-1.7 .1 3 .1 7.7 -.4" stroke="url(#a171)" stroke-width="21.6"/><path transform="translate(1121.5 329.4)rotate(-33.1)" d="M-8.1 -.2C-2.3 .1 3.5 .1 9.2 -.2" stroke="url(#a182)" stroke-width="21.6"/><g clip-path="url(#k3)"><path transform="translate(924.0 134.0)rotate(40.4)" d="M-1.3 -.1C0 .1 1.4 0 2.8 -.2" stroke="url(#a188)" stroke-width="21.6"/></g><g clip-path="url(#k3)"><path transform="translate(923.1 133.2)rotate(44.5)" d="M-1.3 -.1C.1 .1 1.5 0 2.8 -.2" stroke="url(#a288)" stroke-width="21.6"/></g><path transform="translate(1018.0 348.5)rotate(-9.8)" d="M-4.9 -.1C-.6 0 3.8 0 8.1 -.1" stroke="url(#a165)" stroke-width="21.6"/><path transform="translate(1010.8 368.2)rotate(-7.4)" d="M-8 -.1C-2.2 .1 3.7 0 9.5 -.2" stroke="url(#a142)" stroke-width="21.6"/><path transform="translate(1102.4 318.7)rotate(-30.2)" d="M-5.1 -.1C-.9 0 3.3 0 7.5 -.1" stroke="url(#a253)" stroke-width="21.6"/><path transform="translate(908.1 143.7)rotate(67.5)" d="M-1.3 -.1C.5 .1 2.2 -.1 3.9 -.7" stroke="url(#a124)" stroke-width="21.6"/><g clip-path="url(#k3)"><path transform="translate(923.8 133.9)rotate(41.4)" d="M-1.5 -.1C-.1 .1 1.3 0 2.7 -.2" stroke="url(#a188)" stroke-width="21.6"/></g><path transform="translate(936.0 261.9)rotate(13.3)" d="M-5.4 -.1C-1.1 .1 3.4 0 7.7 -.2" stroke="url(#a209)" stroke-width="21.6"/><g clip-path="url(#k3)"><path transform="translate(923.3 133.4)rotate(43.8)" d="M-1.3 -.1C.1 .1 1.5 0 2.8 -.2" stroke="url(#a288)" stroke-width="21.6"/></g><path transform="translate(1175.6 157.9)rotate(-76.2)" d="M-5.2 -.2C-.7 .1 3.7 .1 8.2 -.4" stroke="url(#a262)" stroke-width="21.6"/><path transform="translate(1028.5 346.5)rotate(-12.0)" d="M-5 0C-.8 0 3.4 0 7.6 -.1" stroke="url(#a129)" stroke-width="21.6"/><path transform="translate(940.4 243.9)rotate(14.5)" d="M-5.7 -.2C-1.1 .1 3.4 0 7.9 -.3" stroke="url(#a38)" stroke-width="21.6"/><path transform="translate(1112.3 335.1)rotate(-30.0)" d="M-8.2 -.2C-2.3 .1 3.6 .1 9.5 -.2" stroke="url(#a32)" stroke-width="21.6"/><path transform="translate(1093.5 323.6)rotate(-27.4)" d="M-5.1 -.1C-.9 0 3.4 0 7.6 -.1" stroke="url(#a31)" stroke-width="21.6"/><g clip-path="url(#k3)"><path transform="translate(924.6 134.5)rotate(38.2)" d="M-1.8 -.1C-.2 .1 1.5 0 3.1 -.2" stroke="url(#a188)" stroke-width="21.6"/></g><path transform="translate(1021.6 366.6)rotate(-9.5)" d="M-8.2 -.1C-2.2 .1 3.8 0 9.7 -.2" stroke="url(#a216)" stroke-width="21.6"/><path transform="translate(1037.8 344.3)rotate(-14.0)" d="M-4.5 0C-.4 0 3.7 0 7.7 -.1" stroke="url(#a114)" stroke-width="21.6"/><path transform="translate(1084.3 328.1)rotate(-24.9)" d="M-4.5 -.1C-.4 0 3.6 0 7.7 -.1" stroke="url(#a254)" stroke-width="21.6"/><path transform="translate(1102.6 340.3)rotate(-27.2)" d="M-8.4 -.1C-2.4 .1 3.6 .1 9.6 -.2" stroke="url(#a143)" stroke-width="21.6"/><path transform="translate(1047.8 341.7)rotate(-16.1)" d="M-5.2 0C-.9 0 3.5 0 7.8 -.1" stroke="url(#a283)" stroke-width="21.6"/><path transform="translate(1075.4 332.0)rotate(-22.6)" d="M-4.6 0C-.4 0 3.7 0 7.8 -.1" stroke="url(#a75)" stroke-width="21.6"/><path transform="translate(1032.5 364.5)rotate(-11.6)" d="M-8.4 -.1C-2.3 .1 3.8 0 9.9 -.2" stroke="url(#a128)" stroke-width="21.6"/><path transform="translate(1057.1 338.8)rotate(-18.2)" d="M-4.6 0C-.4 0 3.7 0 7.8 -.1" stroke="url(#a164)" stroke-width="21.6"/><path transform="translate(1066.3 335.6)rotate(-20.4)" d="M-4.6 0C-.4 0 3.7 0 7.8 -.1" stroke="url(#a292)" stroke-width="21.6"/><path transform="translate(1160.3 152.7)rotate(-69.6)" d="M-6.5 -.3C-1.7 .1 3.1 .1 7.8 -.4" stroke="url(#a239)" stroke-width="21.6"/><path transform="translate(909.6 146.2)rotate(53.6)" d="M-1.6 -.1C.3 .1 2.2 -.1 4 -.5" stroke="url(#a38)" stroke-width="21.6"/><path transform="translate(1092.6 345.2)rotate(-24.6)" d="M-7.8 -.1C-1.9 .1 3.9 0 9.8 -.2" stroke="url(#a168)" stroke-width="21.6"/><path transform="translate(1042.8 362.2)rotate(-13.6)" d="M-7.8 -.1C-2.1 0 3.6 0 9.2 -.1" stroke="url(#a92)" stroke-width="21.6"/><path transform="translate(1082.8 349.4)rotate(-22.2)" d="M-7.8 -.1C-1.9 .1 4 0 9.9 -.2" stroke="url(#a0)" stroke-width="21.6"/><path transform="translate(1052.5 359.7)rotate(-15.6)" d="M-7.8 -.1C-1.9 .1 4.1 0 10 -.2" stroke="url(#a158)" stroke-width="21.6"/><path transform="translate(1072.9 353.2)rotate(-19.9)" d="M-7.9 -.1C-1.9 .1 4 0 10 -.2" stroke="url(#a61)" stroke-width="21.6"/><path transform="translate(1062.7 356.7)rotate(-17.7)" d="M-7.9 -.1C-1.9 .1 4.1 0 10 -.2" stroke="url(#a93)" stroke-width="21.6"/><path transform="translate(1172.2 168.3)rotate(-68.3)" d="M-5.9 -.2C-1.1 .1 3.6 .1 8.4 -.4" stroke="url(#a225)" stroke-width="21.6"/><path transform="translate(912.0 148.8)rotate(42.1)" d="M-1.8 -.1C.1 .1 2.1 0 4.1 -.3" stroke="url(#a104)" stroke-width="21.6"/><path transform="translate(949.7 245.8)rotate(9.2)" d="M-4.4 -.1C-.6 .1 3.1 0 6.8 -.2" stroke="url(#a38)" stroke-width="21.6"/><path transform="translate(946.9 264.0)rotate(8.5)" d="M-7.1 -.2C-1.7 .1 3.8 0 9.2 -.2" stroke="url(#a270)" stroke-width="21.6"/><path transform="translate(1156.4 161.4)rotate(-63.4)" d="M-6.7 -.3C-1.6 .1 3.5 .1 8.5 -.4" stroke="url(#a239)" stroke-width="21.6"/><path transform="translate(1167.4 178.5)rotate(-61.0)" d="M-5.5 -.2C-1 .1 3.6 0 8.1 -.4" stroke="url(#a260)" stroke-width="21.6"/><path transform="translate(1151.9 169.5)rotate(-57.7)" d="M-6.3 -.2C-1.5 .1 3.4 .1 8.2 -.3" stroke="url(#a275)" stroke-width="21.6"/><path transform="translate(915.5 151.5)rotate(32.9)" d="M-2.4 -.1C-.1 .1 2.2 0 4.5 -.3" stroke="url(#a15)" stroke-width="21.6"/><path transform="translate(959.6 247.1)rotate(5.1)" d="M-4.9 -.1C-.9 .1 3.1 0 7.1 -.2" stroke="url(#a177)" stroke-width="21.6"/><path transform="translate(958.2 265.3)rotate(4.8)" d="M-7.3 -.1C-1.9 .1 3.5 0 8.9 -.2" stroke="url(#a287)" stroke-width="21.6"/><g clip-path="url(#k3)"><path transform="translate(926.0 135.6)rotate(33.4)" d="M-2.3 -.1C-.3 .1 1.8 0 3.9 -.2" stroke="url(#a34)" stroke-width="21.6"/></g><path transform="translate(1161.4 188.0)rotate(-54.7)" d="M-5.7 -.1C-1.2 .1 3.3 .1 7.9 -.3" stroke="url(#a260)" stroke-width="21.6"/><path transform="translate(1146.7 176.8)rotate(-52.5)" d="M-7.1 -.2C-2.1 .1 3 .1 8 -.3" stroke="url(#a275)" stroke-width="21.6"/><path transform="translate(969.7 247.7)rotate(1.8)" d="M-4.9 -.1C-.9 0 3.2 0 7.2 -.1" stroke="url(#a279)" stroke-width="21.6"/><path transform="translate(920.5 154.3)rotate(25.0)" d="M-3.1 -.1C-.2 .1 2.7 0 5.5 -.2" stroke="url(#a15)" stroke-width="21.6"/><path transform="translate(968.8 265.9)rotate(1.8)" d="M-7.3 -.1C-1.7 .1 3.9 0 9.5 -.2" stroke="url(#a14)" stroke-width="21.6"/><path transform="translate(1154.2 197.1)rotate(-49.1)" d="M-5.4 -.1C-.9 .1 3.7 0 8.2 -.3" stroke="url(#a259)" stroke-width="21.6"/><path transform="translate(1140.3 184.4)rotate(-47.8)" d="M-6.8 -.2C-1.8 .1 3.2 .1 8.2 -.3" stroke="url(#a194)" stroke-width="21.6"/><g clip-path="url(#k3)"><path transform="translate(928.9 137.3)rotate(26.9)" d="M-3.2 -.2C-.4 .1 2.3 0 5 -.3" stroke="url(#a34)" stroke-width="21.6"/></g><path transform="translate(979.5 247.8)rotate(-0.9)" d="M-4.7 -.1C-.8 0 3.1 0 7.1 -.1" stroke="url(#a124)" stroke-width="21.6"/><path transform="translate(1146.8 205.0)rotate(-44.4)" d="M-4.9 -.1C-.7 .1 3.6 0 7.9 -.2" stroke="url(#a29)" stroke-width="21.6"/><path transform="translate(1133.6 191.3)rotate(-43.6)" d="M-7 -.2C-1.8 .1 3.4 .1 8.5 -.3" stroke="url(#a278)" stroke-width="21.6"/><path transform="translate(979.5 266.0)rotate(-0.9)" d="M-7.2 -.1C-1.7 .1 3.8 0 9.3 -.2" stroke="url(#a106)" stroke-width="21.6"/><path transform="translate(989.4 247.4)rotate(-3.4)" d="M-5 -.1C-.9 0 3.3 0 7.4 -.1" stroke="url(#a78)" stroke-width="21.6"/><path d="M930.7 126.5L930.2 126.8L929.7 127.1L929.3 127.4L928.9 127.8L928.5 128.2L928.2 128.5L927.8 128.9L927.5 129.4L927.2 129.8L926.9 130.3L926.7 130.8L926.5 131.3L926.3 131.8L926.2 132.4L926.2 133.1L926.2 133.8L926.3 134.5L926.5 135.2L926.7 136.0L927.0 136.8L927.4 137.6L927.8 138.5L928.3 139.3L928.9 140.2L929.6 141.1L930.3 142.0L931.1 142.9L932.0 143.8L932.9 144.7L933.9 145.6L935.0 146.5L936.2 147.4L937.4 148.3L938.8 149.2L940.3 150.1L941.9 151.0L943.8 152.0L946.0 152.9L952.5 153.9L952.8 153.4L952.7 152.9L952.4 152.3L952.1 151.7L951.6 151.2L951.1 150.5L950.6 149.9L950.0 149.3L949.4 148.7L948.8 148.0L948.1 147.4L947.5 146.7L946.8 146.1L946.1 145.4L945.5 144.8L944.8 144.1L944.1 143.4L943.5 142.7L942.8 142.0L942.2 141.3L941.5 140.6L940.9 139.9L940.3 139.2L939.6 138.5L939.0 137.8L938.5 137.0L937.9 136.3L937.3 135.6L936.8 134.8L936.3 134.1L935.8 133.3L935.3 132.6L934.8 131.8L934.3 131.0L933.9 130.2L933.4 129.5L933.0 128.6L932.5 127.8Z" fill="url(#k5)"/><path transform="translate(1126.7 197.5)rotate(-39.8)" d="M-4.7 -.1C-.8 0 3.1 0 7 -.2" stroke="url(#a94)" stroke-width="21.6"/><g clip-path="url(#k0)"><path transform="translate(928.2 157.2)rotate(18.0)" d="M-4.4 -.1C-.5 .1 3.4 0 7.3 -.3" stroke="url(#a15)" stroke-width="21.6"/></g><path transform="translate(1138.9 212.1)rotate(-40.2)" d="M-8.3 -.2C-2.4 .1 3.5 .1 9.4 -.3" stroke="url(#a219)" stroke-width="21.6"/><path transform="translate(990.1 265.6)rotate(-3.2)" d="M-7.5 -.1C-1.8 .1 4 0 9.7 -.2" stroke="url(#a281)" stroke-width="21.6"/><g clip-path="url(#k3)"><path transform="translate(934.4 139.6)rotate(19.7)" d="M-4.6 -.2C-1 .1 2.7 0 6.3 -.3" stroke="url(#a34)" stroke-width="21.6"/></g><path transform="translate(999.1 246.6)rotate(-5.7)" d="M-4.6 0C-.5 0 3.6 0 7.7 -.1" stroke="url(#a95)" stroke-width="21.6"/><path transform="translate(1119.1 203.3)rotate(-36.4)" d="M-4.9 -.1C-.8 0 3.2 0 7.2 -.2" stroke="url(#a91)" stroke-width="21.6"/><path transform="translate(1130.4 218.8)rotate(-36.4)" d="M-7.9 -.2C-2.3 .1 3.4 .1 9 -.2" stroke="url(#a170)" stroke-width="21.6"/><path transform="translate(1001.0 264.8)rotate(-5.4)" d="M-7.8 -.1C-2.1 .1 3.6 0 9.3 -.2" stroke="url(#a1)" stroke-width="21.6"/><path transform="translate(1009.2 245.4)rotate(-7.9)" d="M-4.8 0C-.8 0 3.3 0 7.3 -.1" stroke="url(#a67)" stroke-width="21.6"/><path transform="translate(1111.1 208.9)rotate(-33.2)" d="M-5 -.1C-.9 0 3.2 0 7.3 -.1" stroke="url(#a9)" stroke-width="21.6"/><path transform="translate(1121.7 224.9)rotate(-33.2)" d="M-8.1 -.2C-2.3 .1 3.5 .1 9.2 -.2" stroke="url(#a86)" stroke-width="21.6"/><path transform="translate(1018.9 243.9)rotate(-10.0)" d="M-4.9 -.1C-.6 0 3.8 0 8.1 -.1" stroke="url(#a241)" stroke-width="21.6"/><path transform="translate(1102.6 214.2)rotate(-30.3)" d="M-5.1 -.1C-.9 0 3.3 0 7.5 -.1" stroke="url(#a27)" stroke-width="21.6"/><path transform="translate(1011.7 263.6)rotate(-7.5)" d="M-8 -.1C-2.2 .1 3.7 0 9.6 -.2" stroke="url(#a165)" stroke-width="21.6"/><path transform="translate(1112.5 230.5)rotate(-30.1)" d="M-8.2 -.2C-2.3 .1 3.6 .1 9.5 -.2" stroke="url(#a25)" stroke-width="21.6"/><path transform="translate(1028.7 242.0)rotate(-12.1)" d="M-4.4 0C-.4 0 3.6 0 7.6 -.1" stroke="url(#a276)" stroke-width="21.6"/><path transform="translate(1093.7 219.1)rotate(-27.5)" d="M-5.1 -.1C-.9 0 3.4 0 7.6 -.1" stroke="url(#a27)" stroke-width="21.6"/><path transform="translate(1022.5 262.0)rotate(-9.7)" d="M-8.2 -.1C-2.2 .1 3.8 0 9.7 -.2" stroke="url(#a135)" stroke-width="21.6"/><g clip-path="url(#k0)"><path transform="translate(938.2 159.9)rotate(12.1)" d="M-5.2 -.1C-.8 .1 3.6 0 7.9 -.2" stroke="url(#a15)" stroke-width="21.6"/></g><g clip-path="url(#k3)"><path transform="translate(942.5 142.0)rotate(13.2)" d="M-5.9 -.2C-1.3 .1 3.2 0 7.8 -.3" stroke="url(#a34)" stroke-width="21.6"/></g><path transform="translate(1038.0 239.9)rotate(-14.0)" d="M-4.5 0C-.4 0 3.7 0 7.7 -.1" stroke="url(#a198)" stroke-width="21.6"/><path transform="translate(1084.5 223.6)rotate(-25.0)" d="M-4.5 -.1C-.4 0 3.6 0 7.7 -.1" stroke="url(#a163)" stroke-width="21.6"/><path transform="translate(1102.9 235.8)rotate(-27.2)" d="M-8.4 -.1C-2.4 .1 3.6 .1 9.6 -.2" stroke="url(#a253)" stroke-width="21.6"/><path transform="translate(1048.0 237.2)rotate(-16.1)" d="M-5.2 0C-.9 0 3.5 0 7.8 -.1" stroke="url(#a138)" stroke-width="21.6"/><path transform="translate(1075.6 227.5)rotate(-22.6)" d="M-4.6 0C-.4 0 3.7 0 7.8 -.1" stroke="url(#a122)" stroke-width="21.6"/><path transform="translate(1057.3 234.3)rotate(-18.3)" d="M-4.6 0C-.4 0 3.7 0 7.8 -.1" stroke="url(#a97)" stroke-width="21.6"/><path transform="translate(1066.5 231.1)rotate(-20.4)" d="M-4.6 0C-.4 0 3.7 0 7.8 -.1" stroke="url(#a73)" stroke-width="21.6"/><path transform="translate(1032.7 260.0)rotate(-11.7)" d="M-7.7 -.1C-2.1 0 3.6 0 9.2 -.1" stroke="url(#a114)" stroke-width="21.6"/><path transform="translate(1092.8 240.7)rotate(-24.6)" d="M-7.8 -.1C-1.9 .1 3.9 0 9.8 -.2" stroke="url(#a31)" stroke-width="21.6"/><path transform="translate(1042.4 257.9)rotate(-13.6)" d="M-7.8 -.1C-1.9 0 4 0 9.9 -.2" stroke="url(#a114)" stroke-width="21.6"/><path transform="translate(1083.1 244.9)rotate(-22.3)" d="M-7.8 -.1C-1.9 .1 4 0 9.9 -.2" stroke="url(#a197)" stroke-width="21.6"/><path transform="translate(1052.7 255.2)rotate(-15.7)" d="M-7.8 -.1C-1.9 .1 4.1 0 10 -.2" stroke="url(#a164)" stroke-width="21.6"/><path transform="translate(1073.1 248.7)rotate(-20.0)" d="M-7.9 -.1C-1.9 .1 4 0 10 -.2" stroke="url(#a75)" stroke-width="21.6"/><path transform="translate(1063.0 252.1)rotate(-17.8)" d="M-7.9 -.1C-1.9 .1 4.1 0 10 -.2" stroke="url(#a33)" stroke-width="21.6"/><g clip-path="url(#k3)"><path transform="translate(951.0 143.6)rotate(8.6)" d="M-3.7 -.1C-1 0 1.6 0 4.3 -.1" stroke="url(#a34)" stroke-width="21.6"/></g><g clip-path="url(#k0)"><path transform="translate(949.5 161.9)rotate(7.6)" d="M-7.3 -.2C-1.9 .1 3.5 0 8.9 -.2" stroke="url(#a104)" stroke-width="21.6"/></g><g clip-path="url(#k0)"><path transform="translate(959.9 163.0)rotate(4.2)" d="M-6.9 -.1C-1.6 .1 3.7 0 9 -.2" stroke="url(#a104)" stroke-width="21.6"/></g><path d="M935.2 148.9L934.7 149.3L934.5 149.8L934.5 150.3L934.7 150.9L934.9 151.5L935.2 152.1L935.6 152.8L936.0 153.5L936.5 154.1L937.1 154.8L937.7 155.5L938.4 156.2L939.1 156.9L939.9 157.6L940.8 158.3L941.7 159.0L942.6 159.7L943.7 160.5L944.7 161.2L945.8 161.9L947.0 162.6L948.2 163.3L949.5 164.0L950.9 164.7L952.2 165.4L953.7 166.1L955.2 166.8L956.8 167.5L958.5 168.2L960.2 168.8L962.0 169.5L963.9 170.1L965.9 170.7L968.0 171.4L970.3 172.0L972.7 172.5L975.5 173.1L978.7 173.6L987.8 173.4L988.1 172.8L987.9 172.3L987.4 171.8L986.7 171.3L985.9 170.8L985.0 170.3L984.1 169.8L983.0 169.3L982.0 168.8L980.8 168.3L979.7 167.8L978.5 167.3L977.2 166.7L976.0 166.2L974.7 165.7L973.4 165.1L972.1 164.6L970.8 164.0L969.4 163.5L968.0 162.9L966.7 162.3L965.3 161.7L963.9 161.1L962.5 160.5L961.1 159.9L959.7 159.2L958.2 158.6L956.8 157.9L955.4 157.3L953.9 156.6L952.5 155.9L951.0 155.2L949.5 154.4L947.9 153.7L946.4 152.9L944.7 152.1L943.0 151.2L941.0 150.3Z" fill="url(#k2)"/><g clip-path="url(#k0)"><path transform="translate(970.6 163.5)rotate(1.3)" d="M-7.4 -.1C-1.8 .1 3.9 0 9.6 -.2" stroke="url(#a154)" stroke-width="21.6"/></g><g clip-path="url(#k0)"><path transform="translate(981.4 163.5)rotate(-1.3)" d="M-7.2 -.1C-2.3 0 2.6 0 7.5 -.1" stroke="url(#a41)" stroke-width="21.6"/></g><g clip-path="url(#k0)"><path transform="translate(987.6 163.3)rotate(-2.7)" d="M-3.1 0C-1.7 0 -.2 0 1.3 0" stroke="url(#a41)" stroke-width="21.6"/></g></g><path d="M940.1 115.2L921.6 141.8" stroke="#00a800" stroke-width="1.7" fill="none"/><path d="M908.0 160.9L918.9 134.2L921.6 141.8L929.8 141.3Z" fill="#fff" stroke="#00a800" stroke-width="1.3" stroke-linejoin="miter"/><path d="M912.4 259.8L931.4 232.6" stroke="#00a800" stroke-width="1.7" fill="none"/><path d="M945.0 213.6L923.3 233.2L931.4 232.6L933.6 241.3Z" fill="#fff" stroke="#00a800" stroke-width="1.3" stroke-linejoin="miter"/><path d="M940.1 328.6L921.6 356.3" stroke="#00a800" stroke-width="1.7" fill="none"/><path d="M908.0 374.2L919.5 347.1L921.6 356.3L930.3 354.7Z" fill="#fff" stroke="#00a800" stroke-width="1.3" stroke-linejoin="miter"/><path d="M912.4 479.3L931.4 452.2" stroke="#00a800" stroke-width="1.7" fill="none"/><path d="M945.0 433.2L922.7 453.3L931.4 452.2L933.6 460.9Z" fill="#fff" stroke="#00a800" stroke-width="1.3" stroke-linejoin="miter"/><path d="M948.3 543.0L929.2 569.7" stroke="#00a800" stroke-width="1.7" fill="none"/><path d="M916.2 589.2L927.6 561.5L929.2 569.7L937.4 569.7Z" fill="#fff" stroke="#00a800" stroke-width="1.3" stroke-linejoin="miter"/><path d="M1031.8 108.3L1043.9 117.6" stroke="#00a800" stroke-width="1.7" fill="none"/><path d="M1057.4 127.8L1037.4 120.4L1043.9 117.6L1045.3 110.6Z" fill="#fff" stroke="#00a800" stroke-width="1.3" stroke-linejoin="miter"/><path d="M1054.1 146.9L1042.5 155.8" stroke="#00a800" stroke-width="1.7" fill="none"/><path d="M1028.0 164.6L1040.2 148.8L1042.5 155.8L1048.1 158.6Z" fill="#fff" stroke="#00a800" stroke-width="1.3" stroke-linejoin="miter"/><path d="M1056.0 203.8L1043.4 195.0" stroke="#00a800" stroke-width="1.7" fill="none"/><path d="M1026.6 184.2L1050.9 192.6L1043.4 195.0L1043.4 202.9Z" fill="#fff" stroke="#00a800" stroke-width="1.3" stroke-linejoin="miter"/><path d="M1026.2 290.8L1038.8 299.7" stroke="#00a800" stroke-width="1.7" fill="none"/><path d="M1056.0 310.4L1031.8 302.0L1038.8 299.7L1039.2 291.3Z" fill="#fff" stroke="#00a800" stroke-width="1.3" stroke-linejoin="miter"/><path d="M1056.0 412.6L1043.4 404.2" stroke="#00a800" stroke-width="1.7" fill="none"/><path d="M1026.2 392.6L1050.9 401.4L1043.4 404.2L1043.0 412.2Z" fill="#fff" stroke="#00a800" stroke-width="1.3" stroke-linejoin="miter"/><path d="M1026.6 497.2L1039.7 506.1" stroke="#00a800" stroke-width="1.7" fill="none"/><path d="M1056.5 516.8L1031.8 508.0L1039.7 506.1L1039.7 498.2Z" fill="#fff" stroke="#00a800" stroke-width="1.3" stroke-linejoin="miter"/></svg></body></html>
